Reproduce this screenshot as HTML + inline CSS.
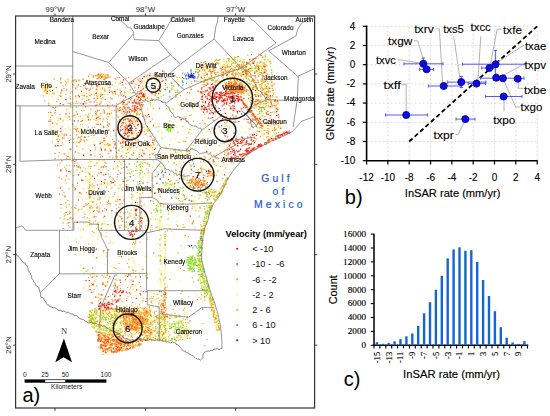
<!DOCTYPE html>
<html><head><meta charset="utf-8"><style>
html,body{margin:0;padding:0;background:#fff;width:550px;height:416px;overflow:hidden;}
svg{display:block;}
text{font-family:"Liberation Sans",sans-serif;}
.grid{stroke:#d4d4d4;stroke-width:0.8;stroke-dasharray:2 2;}
.tk{font-size:10px;fill:#000;stroke:#000;stroke-width:0.12px;}
.lb{font-size:10.2px;fill:#000;stroke:#000;stroke-width:0.1px;}
.ax{font-size:10.8px;fill:#000;stroke:#000;stroke-width:0.15px;}
.pl{font-size:20px;fill:#000;}
.tc{font-family:"Liberation Serif",serif;font-size:8.6px;fill:#000;stroke:#000;stroke-width:0.15px;}
.eb{stroke:#4646ff;stroke-width:0.9;fill:none;}
.deg{font-size:7.9px;fill:#222;}
.lgt{font-size:8.6px;font-weight:bold;fill:#000;}
.lg{font-size:9.2px;fill:#111;}
.gm{font-size:10.4px;fill:#2058da;stroke:#2058da;stroke-width:0.2px;}
.na{font-family:"Liberation Serif",serif;font-size:8.2px;fill:#333;}
.sb{font-size:6.6px;fill:#222;}
.cl{font-size:6.4px;fill:#000;stroke:#000;stroke-width:0.12px;}
.cn{font-size:9.6px;fill:#222;stroke:#222;stroke-width:0.25px;}
</style></head>
<body><svg width="550" height="416" viewBox="0 0 550 416">
<rect width="550" height="416" fill="#fff"/>
<defs><filter id="bl" x="-5%" y="-5%" width="110%" height="110%"><feGaussianBlur stdDeviation="0.5"/></filter><filter id="bl2" x="-5%" y="-5%" width="110%" height="110%"><feGaussianBlur stdDeviation="0.3"/></filter><filter id="bl3" x="-5%" y="-5%" width="110%" height="110%"><feGaussianBlur stdDeviation="0.25"/></filter></defs>
<g filter="url(#bl)">
<path fill="#faf050" d="M240.8 107.9h1.2v1.2h-1.2zM122.6 340.1h1.2v1.2h-1.2zM101.1 254.3h1.2v1.2h-1.2zM207.7 154.0h1.2v1.2h-1.2zM124.5 274.0h1.2v1.2h-1.2zM245.5 88.4h1.2v1.2h-1.2zM87.2 182.2h1.2v1.2h-1.2zM163.9 70.3h1.2v1.2h-1.2zM207.1 123.6h1.2v1.2h-1.2zM115.4 290.1h1.2v1.2h-1.2zM159.1 153.7h1.2v1.2h-1.2zM91.9 248.7h1.2v1.2h-1.2zM101.1 312.7h1.2v1.2h-1.2zM212.2 194.5h1.2v1.2h-1.2zM195.3 135.2h1.2v1.2h-1.2zM117.6 250.4h1.2v1.2h-1.2zM134.3 240.8h1.2v1.2h-1.2zM108.2 243.1h1.2v1.2h-1.2zM141.9 185.6h1.2v1.2h-1.2zM236.4 80.8h1.2v1.2h-1.2zM167.0 88.7h1.2v1.2h-1.2zM122.8 151.4h1.2v1.2h-1.2zM271.4 127.9h1.2v1.2h-1.2zM122.3 108.8h1.2v1.2h-1.2zM134.2 216.8h1.2v1.2h-1.2zM80.9 206.4h1.2v1.2h-1.2zM173.8 234.3h1.2v1.2h-1.2zM80.2 237.0h1.2v1.2h-1.2zM224.3 127.3h1.2v1.2h-1.2zM261.9 62.5h1.2v1.2h-1.2zM218.4 123.0h1.2v1.2h-1.2zM166.0 235.3h1.2v1.2h-1.2zM176.8 151.9h1.2v1.2h-1.2zM115.1 199.6h1.2v1.2h-1.2zM215.0 113.7h1.2v1.2h-1.2zM149.2 272.5h1.2v1.2h-1.2zM145.5 85.2h1.2v1.2h-1.2zM143.3 300.6h1.2v1.2h-1.2zM89.8 207.8h1.2v1.2h-1.2zM200.6 205.8h1.2v1.2h-1.2zM125.9 127.0h1.2v1.2h-1.2zM148.6 336.6h1.2v1.2h-1.2zM81.6 134.6h1.2v1.2h-1.2zM132.8 143.1h1.2v1.2h-1.2zM159.8 305.8h1.2v1.2h-1.2zM190.7 133.5h1.2v1.2h-1.2zM268.4 95.0h1.2v1.2h-1.2zM111.2 351.6h1.2v1.2h-1.2zM122.9 186.1h1.2v1.2h-1.2zM247.1 89.9h1.2v1.2h-1.2zM123.7 145.9h1.2v1.2h-1.2zM260.8 66.1h1.2v1.2h-1.2zM154.2 137.1h1.2v1.2h-1.2zM146.0 206.4h1.2v1.2h-1.2zM161.4 198.1h1.2v1.2h-1.2zM92.0 276.6h1.2v1.2h-1.2zM81.1 153.6h1.2v1.2h-1.2zM121.8 349.5h1.2v1.2h-1.2zM86.9 224.7h1.2v1.2h-1.2zM140.2 323.3h1.2v1.2h-1.2zM265.4 122.4h1.2v1.2h-1.2zM153.2 321.1h1.2v1.2h-1.2zM136.1 155.5h1.2v1.2h-1.2zM248.2 78.5h1.2v1.2h-1.2zM70.9 148.4h1.2v1.2h-1.2zM147.7 305.5h1.2v1.2h-1.2zM166.5 311.2h1.2v1.2h-1.2zM205.8 151.5h1.2v1.2h-1.2zM50.1 124.7h1.2v1.2h-1.2zM146.6 276.6h1.2v1.2h-1.2zM82.2 126.2h1.2v1.2h-1.2zM222.9 132.8h1.2v1.2h-1.2zM130.4 209.9h1.2v1.2h-1.2zM136.1 157.9h1.2v1.2h-1.2zM79.5 180.9h1.2v1.2h-1.2zM126.0 274.8h1.2v1.2h-1.2zM155.5 256.0h1.2v1.2h-1.2zM76.1 102.4h1.2v1.2h-1.2zM79.3 152.7h1.2v1.2h-1.2zM183.6 326.2h1.2v1.2h-1.2zM205.4 161.6h1.2v1.2h-1.2zM102.3 205.2h1.2v1.2h-1.2zM58.3 138.5h1.2v1.2h-1.2zM115.8 332.6h1.2v1.2h-1.2zM78.0 227.9h1.2v1.2h-1.2zM198.5 153.7h1.2v1.2h-1.2zM261.9 77.8h1.2v1.2h-1.2zM157.0 164.6h1.2v1.2h-1.2zM186.9 177.2h1.2v1.2h-1.2zM74.4 125.5h1.2v1.2h-1.2zM132.4 220.0h1.2v1.2h-1.2zM272.2 128.8h1.2v1.2h-1.2zM108.7 148.2h1.2v1.2h-1.2zM98.9 159.8h1.2v1.2h-1.2zM230.3 100.4h1.2v1.2h-1.2zM139.6 155.9h1.2v1.2h-1.2zM102.9 235.5h1.2v1.2h-1.2zM155.7 213.7h1.2v1.2h-1.2zM226.9 114.7h1.2v1.2h-1.2zM106.7 97.4h1.2v1.2h-1.2zM268.4 105.9h1.2v1.2h-1.2zM267.8 138.0h1.2v1.2h-1.2zM143.4 306.7h1.2v1.2h-1.2zM153.0 314.9h1.2v1.2h-1.2zM138.2 264.6h1.2v1.2h-1.2zM100.9 145.6h1.2v1.2h-1.2zM73.1 115.6h1.2v1.2h-1.2zM225.6 107.5h1.2v1.2h-1.2zM102.9 321.2h1.2v1.2h-1.2zM151.6 216.6h1.2v1.2h-1.2zM236.1 101.0h1.2v1.2h-1.2zM266.2 71.2h1.2v1.2h-1.2zM204.2 145.8h1.2v1.2h-1.2zM119.6 161.9h1.2v1.2h-1.2zM199.4 137.9h1.2v1.2h-1.2zM211.8 315.4h1.2v1.2h-1.2zM149.9 201.0h1.2v1.2h-1.2zM114.7 322.5h1.2v1.2h-1.2zM194.4 292.7h1.2v1.2h-1.2zM176.6 78.9h1.2v1.2h-1.2zM226.8 176.8h1.2v1.2h-1.2zM127.7 274.8h1.2v1.2h-1.2zM101.4 137.2h1.2v1.2h-1.2zM76.6 196.1h1.2v1.2h-1.2zM182.1 320.0h1.2v1.2h-1.2zM182.0 203.3h1.2v1.2h-1.2zM82.1 187.9h1.2v1.2h-1.2zM79.7 264.9h1.2v1.2h-1.2zM113.6 270.9h1.2v1.2h-1.2zM168.4 182.7h1.2v1.2h-1.2zM111.0 337.9h1.2v1.2h-1.2zM190.1 149.3h1.2v1.2h-1.2zM184.1 310.3h1.2v1.2h-1.2zM193.3 161.6h1.2v1.2h-1.2zM197.8 189.3h1.2v1.2h-1.2zM141.7 89.2h1.2v1.2h-1.2zM60.7 186.1h1.2v1.2h-1.2zM89.9 302.2h1.2v1.2h-1.2zM256.9 127.0h1.2v1.2h-1.2zM170.2 272.4h1.2v1.2h-1.2zM130.7 198.0h1.2v1.2h-1.2zM75.0 238.8h1.2v1.2h-1.2zM229.5 89.2h1.2v1.2h-1.2zM152.5 331.7h1.2v1.2h-1.2zM148.8 145.2h1.2v1.2h-1.2zM94.7 233.2h1.2v1.2h-1.2zM188.1 153.4h1.2v1.2h-1.2zM177.0 80.2h1.2v1.2h-1.2zM184.1 304.6h1.2v1.2h-1.2zM121.9 277.1h1.2v1.2h-1.2zM176.7 179.9h1.2v1.2h-1.2zM197.9 173.2h1.2v1.2h-1.2zM195.6 135.1h1.2v1.2h-1.2zM151.8 118.4h1.2v1.2h-1.2zM79.0 96.9h1.2v1.2h-1.2zM158.8 183.7h1.2v1.2h-1.2zM197.8 192.3h1.2v1.2h-1.2zM202.2 301.2h1.2v1.2h-1.2zM70.7 79.5h1.2v1.2h-1.2zM58.9 164.3h1.2v1.2h-1.2zM156.8 218.4h1.2v1.2h-1.2zM97.5 249.3h1.2v1.2h-1.2zM144.0 97.0h1.2v1.2h-1.2zM104.3 284.6h1.2v1.2h-1.2zM66.9 158.8h1.2v1.2h-1.2zM221.5 174.2h1.2v1.2h-1.2zM79.7 128.0h1.2v1.2h-1.2zM152.1 166.6h1.2v1.2h-1.2zM159.8 258.6h1.2v1.2h-1.2zM84.3 298.5h1.2v1.2h-1.2zM189.1 185.8h1.2v1.2h-1.2zM134.8 160.8h1.2v1.2h-1.2zM216.3 99.8h1.2v1.2h-1.2zM163.1 166.3h1.2v1.2h-1.2zM123.5 167.4h1.2v1.2h-1.2zM115.1 319.3h1.2v1.2h-1.2zM200.5 291.8h1.2v1.2h-1.2zM103.7 306.8h1.2v1.2h-1.2zM103.7 220.8h1.2v1.2h-1.2zM122.8 158.1h1.2v1.2h-1.2zM75.5 125.5h1.2v1.2h-1.2zM207.9 149.4h1.2v1.2h-1.2zM251.6 113.0h1.2v1.2h-1.2zM106.8 260.0h1.2v1.2h-1.2zM100.9 100.8h1.2v1.2h-1.2zM180.0 280.8h1.2v1.2h-1.2zM223.3 101.5h1.2v1.2h-1.2zM91.8 76.8h1.2v1.2h-1.2zM227.4 135.7h1.2v1.2h-1.2zM110.5 265.3h1.2v1.2h-1.2zM213.6 150.8h1.2v1.2h-1.2zM160.2 315.3h1.2v1.2h-1.2zM54.4 124.4h1.2v1.2h-1.2zM67.1 102.2h1.2v1.2h-1.2zM135.0 276.8h1.2v1.2h-1.2zM91.6 309.8h1.2v1.2h-1.2zM170.7 128.0h1.2v1.2h-1.2zM134.5 82.9h1.2v1.2h-1.2zM219.1 192.2h1.2v1.2h-1.2zM91.9 235.4h1.2v1.2h-1.2zM157.5 125.8h1.2v1.2h-1.2zM140.6 189.0h1.2v1.2h-1.2zM185.7 312.2h1.2v1.2h-1.2zM143.4 125.7h1.2v1.2h-1.2zM179.6 316.9h1.2v1.2h-1.2zM186.0 169.0h1.2v1.2h-1.2zM112.3 242.6h1.2v1.2h-1.2zM232.9 145.9h1.2v1.2h-1.2zM163.3 98.7h1.2v1.2h-1.2zM101.2 307.4h1.2v1.2h-1.2zM140.4 265.9h1.2v1.2h-1.2zM122.6 87.4h1.2v1.2h-1.2zM128.4 148.8h1.2v1.2h-1.2zM68.6 108.2h1.2v1.2h-1.2zM129.4 121.9h1.2v1.2h-1.2zM231.9 65.3h1.2v1.2h-1.2zM131.0 193.5h1.2v1.2h-1.2zM110.3 307.7h1.2v1.2h-1.2zM220.0 150.8h1.2v1.2h-1.2zM228.9 108.4h1.2v1.2h-1.2zM198.3 182.1h1.2v1.2h-1.2zM106.0 285.1h1.2v1.2h-1.2zM157.1 280.7h1.2v1.2h-1.2zM127.1 185.9h1.2v1.2h-1.2zM149.2 224.1h1.2v1.2h-1.2zM170.6 312.3h1.2v1.2h-1.2zM147.1 172.9h1.2v1.2h-1.2zM179.2 91.6h1.2v1.2h-1.2zM256.5 95.4h1.2v1.2h-1.2zM93.5 137.0h1.2v1.2h-1.2zM65.8 218.6h1.2v1.2h-1.2zM159.7 329.0h1.2v1.2h-1.2zM240.7 132.8h1.2v1.2h-1.2zM89.0 92.4h1.2v1.2h-1.2zM141.3 83.9h1.2v1.2h-1.2zM132.3 289.1h1.2v1.2h-1.2zM246.2 92.6h1.2v1.2h-1.2zM234.0 62.3h1.2v1.2h-1.2zM75.4 127.9h1.2v1.2h-1.2zM122.1 139.4h1.2v1.2h-1.2zM151.9 166.4h1.2v1.2h-1.2zM121.6 317.3h1.2v1.2h-1.2zM56.9 119.7h1.2v1.2h-1.2zM166.5 149.7h1.2v1.2h-1.2zM144.5 256.3h1.2v1.2h-1.2zM262.8 72.5h1.2v1.2h-1.2zM57.4 106.5h1.2v1.2h-1.2zM248.2 69.5h1.2v1.2h-1.2zM204.0 163.8h1.2v1.2h-1.2zM111.4 229.2h1.2v1.2h-1.2zM163.6 123.7h1.2v1.2h-1.2zM232.4 111.3h1.2v1.2h-1.2zM97.6 199.3h1.2v1.2h-1.2zM176.4 99.6h1.2v1.2h-1.2zM263.7 139.0h1.2v1.2h-1.2zM69.0 92.6h1.2v1.2h-1.2zM96.9 162.3h1.2v1.2h-1.2zM162.3 302.3h1.2v1.2h-1.2zM104.7 281.5h1.2v1.2h-1.2zM104.6 297.5h1.2v1.2h-1.2zM135.1 285.2h1.2v1.2h-1.2zM94.1 90.6h1.2v1.2h-1.2zM101.0 224.3h1.2v1.2h-1.2zM159.5 204.5h1.2v1.2h-1.2zM168.3 224.8h1.2v1.2h-1.2zM111.7 93.3h1.2v1.2h-1.2zM183.3 313.0h1.2v1.2h-1.2zM269.3 101.4h1.2v1.2h-1.2zM110.6 314.3h1.2v1.2h-1.2zM171.3 85.3h1.2v1.2h-1.2zM117.3 152.8h1.2v1.2h-1.2zM135.0 273.9h1.2v1.2h-1.2zM238.7 96.8h1.2v1.2h-1.2zM120.6 324.1h1.2v1.2h-1.2zM170.2 152.8h1.2v1.2h-1.2zM111.4 275.8h1.2v1.2h-1.2zM100.2 140.5h1.2v1.2h-1.2zM238.7 142.4h1.2v1.2h-1.2zM78.9 164.9h1.2v1.2h-1.2zM122.7 290.7h1.2v1.2h-1.2zM83.3 251.8h1.2v1.2h-1.2zM94.2 274.0h1.2v1.2h-1.2zM66.1 177.7h1.2v1.2h-1.2zM130.4 116.2h1.2v1.2h-1.2zM87.2 145.2h1.2v1.2h-1.2zM243.1 141.1h1.2v1.2h-1.2zM215.7 63.2h1.2v1.2h-1.2zM61.0 153.5h1.2v1.2h-1.2zM124.0 117.8h1.2v1.2h-1.2zM196.4 267.7h1.2v1.2h-1.2zM245.2 58.5h1.2v1.2h-1.2zM216.0 137.3h1.2v1.2h-1.2zM126.2 144.7h1.2v1.2h-1.2zM201.8 132.5h1.2v1.2h-1.2zM258.1 144.1h1.2v1.2h-1.2zM60.1 211.5h1.2v1.2h-1.2zM223.2 65.2h1.2v1.2h-1.2zM53.8 78.2h1.2v1.2h-1.2zM125.1 123.1h1.2v1.2h-1.2zM156.1 96.2h1.2v1.2h-1.2zM102.4 282.8h1.2v1.2h-1.2zM66.7 236.9h1.2v1.2h-1.2zM180.7 102.9h1.2v1.2h-1.2zM109.7 113.8h1.2v1.2h-1.2zM201.3 208.1h1.2v1.2h-1.2zM130.1 226.9h1.2v1.2h-1.2zM135.6 277.7h1.2v1.2h-1.2zM115.6 167.7h1.2v1.2h-1.2zM183.7 247.3h1.2v1.2h-1.2zM145.6 253.9h1.2v1.2h-1.2zM185.8 190.4h1.2v1.2h-1.2zM145.9 83.8h1.2v1.2h-1.2zM99.0 232.3h1.2v1.2h-1.2zM122.0 293.1h1.2v1.2h-1.2zM124.3 155.1h1.2v1.2h-1.2zM171.5 308.0h1.2v1.2h-1.2zM208.2 176.4h1.2v1.2h-1.2zM185.6 76.3h1.2v1.2h-1.2zM83.2 271.8h1.2v1.2h-1.2zM61.7 168.0h1.2v1.2h-1.2zM216.7 152.4h1.2v1.2h-1.2zM106.2 286.4h1.2v1.2h-1.2zM269.8 122.5h1.2v1.2h-1.2zM241.8 155.1h1.2v1.2h-1.2zM105.6 231.7h1.2v1.2h-1.2zM112.1 155.3h1.2v1.2h-1.2zM134.4 264.8h1.2v1.2h-1.2zM77.8 251.1h1.2v1.2h-1.2zM143.2 95.3h1.2v1.2h-1.2zM151.4 111.5h1.2v1.2h-1.2zM169.7 149.7h1.2v1.2h-1.2zM178.7 161.3h1.2v1.2h-1.2zM191.5 190.9h1.2v1.2h-1.2zM218.3 161.0h1.2v1.2h-1.2zM225.5 128.1h1.2v1.2h-1.2zM116.2 111.7h1.2v1.2h-1.2zM143.7 127.0h1.2v1.2h-1.2zM184.9 330.9h1.2v1.2h-1.2zM117.6 196.0h1.2v1.2h-1.2zM108.6 338.5h1.2v1.2h-1.2zM63.4 235.9h1.2v1.2h-1.2zM75.5 219.6h1.2v1.2h-1.2zM76.0 145.1h1.2v1.2h-1.2zM121.8 121.0h1.2v1.2h-1.2zM194.8 200.0h1.2v1.2h-1.2zM203.7 92.4h1.2v1.2h-1.2zM173.7 175.2h1.2v1.2h-1.2zM124.6 349.1h1.2v1.2h-1.2zM97.4 239.1h1.2v1.2h-1.2zM129.8 216.3h1.2v1.2h-1.2zM79.6 135.9h1.2v1.2h-1.2zM121.1 151.1h1.2v1.2h-1.2zM126.3 103.8h1.2v1.2h-1.2zM79.6 93.1h1.2v1.2h-1.2zM173.4 208.8h1.2v1.2h-1.2zM156.2 294.0h1.2v1.2h-1.2zM128.7 230.8h1.2v1.2h-1.2zM181.3 193.7h1.2v1.2h-1.2zM226.3 142.5h1.2v1.2h-1.2zM137.6 331.2h1.2v1.2h-1.2zM206.4 179.4h1.2v1.2h-1.2zM210.0 194.4h1.2v1.2h-1.2zM69.9 135.0h1.2v1.2h-1.2zM108.1 344.2h1.2v1.2h-1.2zM205.9 130.5h1.2v1.2h-1.2zM180.3 204.8h1.2v1.2h-1.2zM80.1 228.8h1.2v1.2h-1.2zM147.4 228.9h1.2v1.2h-1.2zM187.6 111.0h1.2v1.2h-1.2zM138.9 120.7h1.2v1.2h-1.2zM120.9 210.6h1.2v1.2h-1.2zM198.2 163.5h1.2v1.2h-1.2zM157.0 243.7h1.2v1.2h-1.2zM125.3 165.9h1.2v1.2h-1.2zM50.9 129.0h1.2v1.2h-1.2zM143.3 82.9h1.2v1.2h-1.2zM95.4 137.6h1.2v1.2h-1.2zM179.9 268.2h1.2v1.2h-1.2zM187.8 144.5h1.2v1.2h-1.2zM252.2 131.8h1.2v1.2h-1.2zM88.8 182.1h1.2v1.2h-1.2zM190.3 104.7h1.2v1.2h-1.2zM261.8 82.5h1.2v1.2h-1.2zM137.5 222.8h1.2v1.2h-1.2zM136.0 224.3h1.2v1.2h-1.2zM143.0 175.9h1.2v1.2h-1.2zM168.1 217.5h1.2v1.2h-1.2zM81.2 250.3h1.2v1.2h-1.2zM103.3 86.0h1.2v1.2h-1.2zM163.5 163.4h1.2v1.2h-1.2zM139.1 204.7h1.2v1.2h-1.2zM74.4 117.0h1.2v1.2h-1.2zM110.5 304.8h1.2v1.2h-1.2zM110.6 217.5h1.2v1.2h-1.2zM240.8 126.5h1.2v1.2h-1.2zM223.2 148.4h1.2v1.2h-1.2zM219.5 81.0h1.2v1.2h-1.2zM153.4 318.2h1.2v1.2h-1.2zM93.7 297.8h1.2v1.2h-1.2zM134.2 121.1h1.2v1.2h-1.2zM94.8 182.3h1.2v1.2h-1.2zM203.2 134.4h1.2v1.2h-1.2zM179.8 139.2h1.2v1.2h-1.2zM195.6 157.2h1.2v1.2h-1.2zM88.5 122.7h1.2v1.2h-1.2zM149.3 102.2h1.2v1.2h-1.2zM214.5 88.6h1.2v1.2h-1.2zM93.1 80.7h1.2v1.2h-1.2zM146.2 315.1h1.2v1.2h-1.2zM231.8 87.1h1.2v1.2h-1.2zM93.7 205.0h1.2v1.2h-1.2zM122.3 269.2h1.2v1.2h-1.2zM165.3 146.1h1.2v1.2h-1.2zM137.3 111.1h1.2v1.2h-1.2zM219.0 187.3h1.2v1.2h-1.2zM267.0 120.6h1.2v1.2h-1.2zM131.4 202.4h1.2v1.2h-1.2zM228.6 125.7h1.2v1.2h-1.2zM66.1 204.8h1.2v1.2h-1.2zM266.9 75.9h1.2v1.2h-1.2zM279.3 125.8h1.2v1.2h-1.2zM79.4 108.9h1.2v1.2h-1.2zM244.4 94.6h1.2v1.2h-1.2zM218.0 191.0h1.2v1.2h-1.2zM83.3 222.9h1.2v1.2h-1.2zM148.1 177.1h1.2v1.2h-1.2zM277.2 107.3h1.2v1.2h-1.2zM90.0 130.5h1.2v1.2h-1.2zM135.5 289.7h1.2v1.2h-1.2zM263.0 137.7h1.2v1.2h-1.2zM188.0 188.1h1.2v1.2h-1.2zM233.0 115.7h1.2v1.2h-1.2zM132.5 117.3h1.2v1.2h-1.2zM202.0 69.7h1.2v1.2h-1.2zM109.7 204.7h1.2v1.2h-1.2zM87.1 139.8h1.2v1.2h-1.2zM262.6 70.6h1.2v1.2h-1.2zM213.1 133.6h1.2v1.2h-1.2zM55.9 117.0h1.2v1.2h-1.2zM161.1 165.5h1.2v1.2h-1.2zM201.4 284.8h1.2v1.2h-1.2zM100.7 302.4h1.2v1.2h-1.2zM160.6 332.1h1.2v1.2h-1.2zM88.1 313.7h1.2v1.2h-1.2zM161.4 330.8h1.2v1.2h-1.2zM178.7 314.1h1.2v1.2h-1.2zM113.4 85.5h1.2v1.2h-1.2zM128.3 149.9h1.2v1.2h-1.2zM170.3 140.3h1.2v1.2h-1.2zM211.4 91.9h1.2v1.2h-1.2zM139.1 134.5h1.2v1.2h-1.2zM76.2 141.9h1.2v1.2h-1.2zM67.0 210.6h1.2v1.2h-1.2zM190.5 165.1h1.2v1.2h-1.2zM262.3 128.5h1.2v1.2h-1.2zM90.4 233.8h1.2v1.2h-1.2zM273.1 124.6h1.2v1.2h-1.2zM80.1 270.1h1.2v1.2h-1.2zM132.1 202.1h1.2v1.2h-1.2zM235.8 83.8h1.2v1.2h-1.2zM228.9 61.6h1.2v1.2h-1.2zM107.0 125.2h1.2v1.2h-1.2zM113.2 264.5h1.2v1.2h-1.2zM184.9 333.8h1.2v1.2h-1.2zM93.0 285.1h1.2v1.2h-1.2zM146.5 255.5h1.2v1.2h-1.2zM123.1 307.4h1.2v1.2h-1.2zM139.7 299.7h1.2v1.2h-1.2zM244.9 132.1h1.2v1.2h-1.2zM225.0 180.7h1.2v1.2h-1.2zM129.0 248.2h1.2v1.2h-1.2zM195.4 181.9h1.2v1.2h-1.2zM80.8 164.9h1.2v1.2h-1.2zM67.8 80.3h1.2v1.2h-1.2zM136.2 208.6h1.2v1.2h-1.2zM140.7 105.0h1.2v1.2h-1.2zM160.9 80.8h1.2v1.2h-1.2zM99.2 305.8h1.2v1.2h-1.2zM101.1 323.2h1.2v1.2h-1.2zM204.1 116.8h1.2v1.2h-1.2zM104.9 85.7h1.2v1.2h-1.2zM141.1 130.2h1.2v1.2h-1.2zM89.3 312.0h1.2v1.2h-1.2zM217.3 145.2h1.2v1.2h-1.2zM223.3 169.7h1.2v1.2h-1.2zM77.1 184.8h1.2v1.2h-1.2zM47.8 98.4h1.2v1.2h-1.2zM101.3 99.5h1.2v1.2h-1.2zM122.4 178.8h1.2v1.2h-1.2zM158.7 219.1h1.2v1.2h-1.2zM202.4 72.9h1.2v1.2h-1.2zM129.8 168.7h1.2v1.2h-1.2zM103.3 160.5h1.2v1.2h-1.2zM70.1 208.2h1.2v1.2h-1.2zM126.6 224.1h1.2v1.2h-1.2zM98.0 191.6h1.2v1.2h-1.2zM141.2 78.5h1.2v1.2h-1.2zM115.2 107.7h1.2v1.2h-1.2zM130.8 257.1h1.2v1.2h-1.2zM103.9 107.7h1.2v1.2h-1.2zM110.0 187.6h1.2v1.2h-1.2zM118.9 188.2h1.2v1.2h-1.2zM97.9 308.0h1.2v1.2h-1.2zM48.4 114.8h1.2v1.2h-1.2zM111.5 303.2h1.2v1.2h-1.2zM105.1 263.8h1.2v1.2h-1.2zM218.1 94.1h1.2v1.2h-1.2zM78.0 165.4h1.2v1.2h-1.2zM254.4 146.2h1.2v1.2h-1.2zM69.3 129.2h1.2v1.2h-1.2zM62.4 134.9h1.2v1.2h-1.2zM205.3 125.1h1.2v1.2h-1.2zM211.2 175.3h1.2v1.2h-1.2zM137.2 158.4h1.2v1.2h-1.2zM99.3 324.1h1.2v1.2h-1.2zM132.4 258.0h1.2v1.2h-1.2zM259.7 136.4h1.2v1.2h-1.2zM169.3 111.1h1.2v1.2h-1.2zM186.8 176.2h1.2v1.2h-1.2zM214.3 314.9h1.2v1.2h-1.2zM213.9 161.9h1.2v1.2h-1.2zM135.9 285.3h1.2v1.2h-1.2zM184.9 128.7h1.2v1.2h-1.2zM161.0 229.6h1.2v1.2h-1.2zM121.7 160.3h1.2v1.2h-1.2zM193.1 109.0h1.2v1.2h-1.2zM279.7 121.1h1.2v1.2h-1.2zM131.4 188.9h1.2v1.2h-1.2zM261.3 131.0h1.2v1.2h-1.2zM174.9 332.9h1.2v1.2h-1.2zM90.3 287.1h1.2v1.2h-1.2zM211.4 152.1h1.2v1.2h-1.2zM96.9 222.3h1.2v1.2h-1.2zM136.5 81.9h1.2v1.2h-1.2zM89.8 113.0h1.2v1.2h-1.2zM273.4 103.0h1.2v1.2h-1.2zM129.0 212.4h1.2v1.2h-1.2zM85.9 178.4h1.2v1.2h-1.2zM80.8 102.4h1.2v1.2h-1.2zM180.8 171.5h1.2v1.2h-1.2zM86.4 271.2h1.2v1.2h-1.2zM119.3 254.5h1.2v1.2h-1.2zM107.6 324.2h1.2v1.2h-1.2zM134.8 303.1h1.2v1.2h-1.2zM92.2 216.8h1.2v1.2h-1.2zM183.0 202.7h1.2v1.2h-1.2zM140.0 128.7h1.2v1.2h-1.2zM63.4 213.0h1.2v1.2h-1.2zM147.6 145.9h1.2v1.2h-1.2zM104.3 140.3h1.2v1.2h-1.2zM49.7 128.3h1.2v1.2h-1.2zM87.8 81.9h1.2v1.2h-1.2zM77.0 141.8h1.2v1.2h-1.2zM56.5 132.0h1.2v1.2h-1.2zM84.2 143.3h1.2v1.2h-1.2zM67.3 129.5h1.2v1.2h-1.2zM64.7 117.1h1.2v1.2h-1.2zM152.5 149.5h1.2v1.2h-1.2zM96.6 159.3h1.2v1.2h-1.2zM91.8 74.4h1.2v1.2h-1.2zM92.3 143.4h1.2v1.2h-1.2zM75.5 81.3h1.2v1.2h-1.2zM86.0 102.6h1.2v1.2h-1.2zM119.5 123.4h1.2v1.2h-1.2zM99.5 87.5h1.2v1.2h-1.2zM90.1 110.1h1.2v1.2h-1.2zM125.4 146.3h1.2v1.2h-1.2zM100.3 85.5h1.2v1.2h-1.2zM131.2 140.3h1.2v1.2h-1.2zM77.4 128.2h1.2v1.2h-1.2zM88.6 94.7h1.2v1.2h-1.2zM102.9 140.6h1.2v1.2h-1.2zM142.3 104.5h1.2v1.2h-1.2zM108.2 143.1h1.2v1.2h-1.2zM152.5 139.7h1.2v1.2h-1.2zM118.9 120.6h1.2v1.2h-1.2zM65.6 116.2h1.2v1.2h-1.2zM51.9 96.0h1.2v1.2h-1.2zM70.2 106.7h1.2v1.2h-1.2zM88.4 119.7h1.2v1.2h-1.2zM95.9 75.4h1.2v1.2h-1.2zM143.8 116.2h1.2v1.2h-1.2zM121.7 142.9h1.2v1.2h-1.2zM87.5 83.1h1.2v1.2h-1.2zM139.5 100.3h1.2v1.2h-1.2zM82.8 92.6h1.2v1.2h-1.2zM153.8 148.6h1.2v1.2h-1.2zM73.3 103.3h1.2v1.2h-1.2zM116.0 146.5h1.2v1.2h-1.2zM108.7 101.9h1.2v1.2h-1.2zM67.2 120.6h1.2v1.2h-1.2zM87.5 106.4h1.2v1.2h-1.2zM97.2 147.1h1.2v1.2h-1.2zM89.7 145.2h1.2v1.2h-1.2zM90.5 73.5h1.2v1.2h-1.2zM67.7 115.7h1.2v1.2h-1.2zM106.1 143.8h1.2v1.2h-1.2zM116.3 121.9h1.2v1.2h-1.2zM128.9 84.2h1.2v1.2h-1.2zM144.9 115.1h1.2v1.2h-1.2zM126.4 131.2h1.2v1.2h-1.2zM128.7 95.2h1.2v1.2h-1.2zM57.8 119.8h1.2v1.2h-1.2zM53.7 134.5h1.2v1.2h-1.2zM67.6 151.6h1.2v1.2h-1.2zM51.1 119.4h1.2v1.2h-1.2zM110.4 135.6h1.2v1.2h-1.2zM58.7 117.8h1.2v1.2h-1.2zM106.5 126.9h1.2v1.2h-1.2zM106.7 106.2h1.2v1.2h-1.2zM61.2 96.4h1.2v1.2h-1.2zM128.1 106.5h1.2v1.2h-1.2zM68.4 126.5h1.2v1.2h-1.2zM121.7 135.3h1.2v1.2h-1.2zM107.3 108.6h1.2v1.2h-1.2zM124.3 148.2h1.2v1.2h-1.2zM115.3 155.3h1.2v1.2h-1.2zM104.3 133.9h1.2v1.2h-1.2zM108.3 117.2h1.2v1.2h-1.2zM75.2 106.2h1.2v1.2h-1.2zM61.9 85.3h1.2v1.2h-1.2zM68.2 135.1h1.2v1.2h-1.2zM137.6 124.2h1.2v1.2h-1.2zM49.8 123.3h1.2v1.2h-1.2zM68.2 97.4h1.2v1.2h-1.2zM120.4 141.4h1.2v1.2h-1.2zM93.1 141.6h1.2v1.2h-1.2zM52.7 99.5h1.2v1.2h-1.2zM100.6 126.9h1.2v1.2h-1.2zM108.4 150.6h1.2v1.2h-1.2zM86.8 102.9h1.2v1.2h-1.2zM49.4 103.1h1.2v1.2h-1.2zM99.8 94.2h1.2v1.2h-1.2zM71.8 97.8h1.2v1.2h-1.2zM117.5 146.7h1.2v1.2h-1.2zM41.2 85.2h1.2v1.2h-1.2zM137.5 121.9h1.2v1.2h-1.2zM147.6 127.1h1.2v1.2h-1.2zM137.0 96.9h1.2v1.2h-1.2zM63.1 105.2h1.2v1.2h-1.2zM143.0 108.5h1.2v1.2h-1.2zM64.7 127.9h1.2v1.2h-1.2zM76.1 88.2h1.2v1.2h-1.2zM104.6 144.8h1.2v1.2h-1.2zM82.1 115.0h1.2v1.2h-1.2zM139.4 149.1h1.2v1.2h-1.2zM46.6 93.0h1.2v1.2h-1.2zM99.7 88.2h1.2v1.2h-1.2zM67.5 155.5h1.2v1.2h-1.2zM97.2 96.4h1.2v1.2h-1.2zM79.7 80.2h1.2v1.2h-1.2zM146.1 128.5h1.2v1.2h-1.2zM81.1 118.1h1.2v1.2h-1.2zM82.1 123.8h1.2v1.2h-1.2zM101.0 114.9h1.2v1.2h-1.2zM57.2 145.3h1.2v1.2h-1.2zM99.8 115.6h1.2v1.2h-1.2zM139.6 151.7h1.2v1.2h-1.2zM102.6 76.0h1.2v1.2h-1.2zM148.1 122.0h1.2v1.2h-1.2zM126.1 121.1h1.2v1.2h-1.2zM56.9 123.8h1.2v1.2h-1.2zM63.2 144.0h1.2v1.2h-1.2zM66.0 100.0h1.2v1.2h-1.2zM55.0 132.5h1.2v1.2h-1.2zM62.2 143.9h1.2v1.2h-1.2zM88.2 117.9h1.2v1.2h-1.2zM135.8 114.5h1.2v1.2h-1.2zM115.3 93.8h1.2v1.2h-1.2zM121.3 118.8h1.2v1.2h-1.2zM138.2 120.9h1.2v1.2h-1.2zM121.0 110.3h1.2v1.2h-1.2zM64.0 133.8h1.2v1.2h-1.2zM87.3 117.0h1.2v1.2h-1.2zM69.9 87.2h1.2v1.2h-1.2zM105.8 141.7h1.2v1.2h-1.2zM81.3 93.9h1.2v1.2h-1.2zM132.4 144.8h1.2v1.2h-1.2zM145.8 147.7h1.2v1.2h-1.2zM56.2 135.3h1.2v1.2h-1.2zM95.1 82.4h1.2v1.2h-1.2zM82.0 107.9h1.2v1.2h-1.2zM111.4 91.6h1.2v1.2h-1.2zM121.7 121.1h1.2v1.2h-1.2zM137.9 126.4h1.2v1.2h-1.2zM118.0 114.3h1.2v1.2h-1.2zM86.9 152.8h1.2v1.2h-1.2zM89.4 131.8h1.2v1.2h-1.2zM57.0 79.9h1.2v1.2h-1.2zM119.8 80.5h1.2v1.2h-1.2zM137.7 112.7h1.2v1.2h-1.2zM135.2 112.4h1.2v1.2h-1.2zM137.2 104.8h1.2v1.2h-1.2zM72.5 106.8h1.2v1.2h-1.2zM99.1 115.7h1.2v1.2h-1.2zM122.5 81.8h1.2v1.2h-1.2zM57.2 137.1h1.2v1.2h-1.2zM104.4 112.9h1.2v1.2h-1.2zM71.8 80.0h1.2v1.2h-1.2zM133.6 142.1h1.2v1.2h-1.2zM88.2 107.4h1.2v1.2h-1.2zM111.1 110.1h1.2v1.2h-1.2zM132.1 82.7h1.2v1.2h-1.2zM139.0 131.7h1.2v1.2h-1.2zM72.6 107.6h1.2v1.2h-1.2zM80.1 131.2h1.2v1.2h-1.2zM68.9 152.8h1.2v1.2h-1.2zM70.6 117.2h1.2v1.2h-1.2zM85.0 147.2h1.2v1.2h-1.2zM53.9 92.0h1.2v1.2h-1.2zM58.7 121.7h1.2v1.2h-1.2zM56.7 91.0h1.2v1.2h-1.2zM148.4 150.2h1.2v1.2h-1.2zM121.9 123.4h1.2v1.2h-1.2zM69.3 129.3h1.2v1.2h-1.2zM88.8 154.3h1.2v1.2h-1.2zM48.1 84.1h1.2v1.2h-1.2zM43.8 90.8h1.2v1.2h-1.2zM44.7 89.4h1.2v1.2h-1.2zM47.7 84.9h1.2v1.2h-1.2zM43.2 86.9h1.2v1.2h-1.2zM44.8 94.1h1.2v1.2h-1.2zM43.1 82.9h1.2v1.2h-1.2zM45.1 87.3h1.2v1.2h-1.2zM48.0 83.0h1.2v1.2h-1.2zM49.0 92.5h1.2v1.2h-1.2zM45.1 86.6h1.2v1.2h-1.2zM49.7 88.4h1.2v1.2h-1.2zM47.0 88.0h1.2v1.2h-1.2zM43.1 86.5h1.2v1.2h-1.2zM46.8 89.8h1.2v1.2h-1.2zM42.6 88.9h1.2v1.2h-1.2zM45.9 90.3h1.2v1.2h-1.2zM42.1 88.1h1.2v1.2h-1.2zM45.9 91.0h1.2v1.2h-1.2zM45.7 88.4h1.2v1.2h-1.2zM43.8 86.7h1.2v1.2h-1.2zM101.1 77.3h1.2v1.2h-1.2zM105.6 75.6h1.2v1.2h-1.2zM101.1 77.1h1.2v1.2h-1.2zM99.1 75.6h1.2v1.2h-1.2zM102.2 77.0h1.2v1.2h-1.2zM103.1 77.8h1.2v1.2h-1.2zM102.6 74.8h1.2v1.2h-1.2zM98.3 76.9h1.2v1.2h-1.2zM107.0 74.9h1.2v1.2h-1.2zM99.7 73.6h1.2v1.2h-1.2zM95.8 118.0h1.2v1.2h-1.2zM96.9 96.3h1.2v1.2h-1.2zM96.3 88.7h1.2v1.2h-1.2zM95.5 118.0h1.2v1.2h-1.2zM83.8 96.3h1.2v1.2h-1.2zM118.0 84.5h1.2v1.2h-1.2zM118.9 100.4h1.2v1.2h-1.2zM118.7 82.1h1.2v1.2h-1.2zM87.8 94.2h1.2v1.2h-1.2zM82.9 87.7h1.2v1.2h-1.2zM118.4 102.6h1.2v1.2h-1.2zM101.1 92.6h1.2v1.2h-1.2zM96.0 104.5h1.2v1.2h-1.2zM104.1 94.0h1.2v1.2h-1.2zM125.0 96.3h1.2v1.2h-1.2zM95.6 105.7h1.2v1.2h-1.2zM85.9 79.4h1.2v1.2h-1.2zM140.5 95.9h1.2v1.2h-1.2zM141.4 88.4h1.2v1.2h-1.2zM152.1 82.7h1.2v1.2h-1.2zM140.8 96.8h1.2v1.2h-1.2zM129.7 84.9h1.2v1.2h-1.2zM159.2 92.3h1.2v1.2h-1.2zM154.9 75.8h1.2v1.2h-1.2zM147.4 96.3h1.2v1.2h-1.2zM155.2 71.9h1.2v1.2h-1.2zM143.6 98.9h1.2v1.2h-1.2zM161.0 88.8h1.2v1.2h-1.2zM147.8 86.0h1.2v1.2h-1.2zM143.8 82.3h1.2v1.2h-1.2zM150.6 92.9h1.2v1.2h-1.2zM154.0 78.4h1.2v1.2h-1.2zM143.8 80.5h1.2v1.2h-1.2zM146.3 100.8h1.2v1.2h-1.2zM138.2 85.0h1.2v1.2h-1.2zM153.9 95.2h1.2v1.2h-1.2zM182.2 73.8h1.2v1.2h-1.2zM175.0 90.5h1.2v1.2h-1.2zM181.9 84.2h1.2v1.2h-1.2zM161.3 94.2h1.2v1.2h-1.2zM188.6 85.1h1.2v1.2h-1.2zM172.3 93.3h1.2v1.2h-1.2zM186.4 80.8h1.2v1.2h-1.2zM162.5 87.8h1.2v1.2h-1.2zM172.5 95.1h1.2v1.2h-1.2zM195.2 77.3h1.2v1.2h-1.2zM174.0 90.2h1.2v1.2h-1.2zM190.6 76.4h1.2v1.2h-1.2zM181.7 79.5h1.2v1.2h-1.2zM192.6 77.2h1.2v1.2h-1.2zM168.6 86.5h1.2v1.2h-1.2zM172.5 75.9h1.2v1.2h-1.2zM198.4 79.5h1.2v1.2h-1.2zM222.3 81.5h1.2v1.2h-1.2zM206.6 65.1h1.2v1.2h-1.2zM207.0 67.8h1.2v1.2h-1.2zM198.2 74.9h1.2v1.2h-1.2zM234.7 80.5h1.2v1.2h-1.2zM222.8 74.1h1.2v1.2h-1.2zM211.9 62.3h1.2v1.2h-1.2zM226.7 77.1h1.2v1.2h-1.2zM238.1 73.3h1.2v1.2h-1.2zM243.5 73.5h1.2v1.2h-1.2zM209.9 66.2h1.2v1.2h-1.2zM197.5 70.6h1.2v1.2h-1.2zM218.4 62.7h1.2v1.2h-1.2zM236.9 78.6h1.2v1.2h-1.2zM207.0 79.6h1.2v1.2h-1.2zM210.5 71.1h1.2v1.2h-1.2zM223.3 58.9h1.2v1.2h-1.2zM230.2 80.2h1.2v1.2h-1.2zM247.6 67.5h1.2v1.2h-1.2zM213.7 76.7h1.2v1.2h-1.2zM202.1 73.3h1.2v1.2h-1.2zM223.0 57.7h1.2v1.2h-1.2zM240.9 61.7h1.2v1.2h-1.2zM228.1 61.6h1.2v1.2h-1.2zM202.4 67.3h1.2v1.2h-1.2zM236.6 57.1h1.2v1.2h-1.2zM234.5 78.2h1.2v1.2h-1.2zM205.3 81.1h1.2v1.2h-1.2zM220.1 59.3h1.2v1.2h-1.2zM202.4 74.5h1.2v1.2h-1.2zM244.6 64.5h1.2v1.2h-1.2zM231.7 79.0h1.2v1.2h-1.2zM196.3 66.2h1.2v1.2h-1.2zM224.2 68.8h1.2v1.2h-1.2zM212.4 76.4h1.2v1.2h-1.2zM238.4 72.6h1.2v1.2h-1.2zM239.8 78.5h1.2v1.2h-1.2zM207.2 76.3h1.2v1.2h-1.2zM230.3 62.8h1.2v1.2h-1.2zM220.7 67.5h1.2v1.2h-1.2zM234.9 67.6h1.2v1.2h-1.2zM238.5 76.5h1.2v1.2h-1.2zM218.5 82.4h1.2v1.2h-1.2zM228.5 77.7h1.2v1.2h-1.2zM223.6 74.2h1.2v1.2h-1.2zM196.2 67.6h1.2v1.2h-1.2zM246.4 62.5h1.2v1.2h-1.2zM218.5 80.0h1.2v1.2h-1.2zM246.9 63.2h1.2v1.2h-1.2zM209.8 74.1h1.2v1.2h-1.2zM209.4 68.1h1.2v1.2h-1.2zM226.2 63.0h1.2v1.2h-1.2zM216.2 59.5h1.2v1.2h-1.2zM233.4 81.2h1.2v1.2h-1.2zM244.9 66.4h1.2v1.2h-1.2zM243.9 69.7h1.2v1.2h-1.2zM223.0 58.2h1.2v1.2h-1.2zM226.1 77.3h1.2v1.2h-1.2zM207.9 65.1h1.2v1.2h-1.2zM221.0 76.0h1.2v1.2h-1.2zM232.0 70.8h1.2v1.2h-1.2zM230.5 79.9h1.2v1.2h-1.2zM244.2 63.5h1.2v1.2h-1.2zM239.3 78.5h1.2v1.2h-1.2zM222.0 64.6h1.2v1.2h-1.2zM245.2 67.7h1.2v1.2h-1.2zM204.1 66.8h1.2v1.2h-1.2zM206.5 81.8h1.2v1.2h-1.2zM218.0 77.6h1.2v1.2h-1.2zM207.7 80.5h1.2v1.2h-1.2zM239.8 72.0h1.2v1.2h-1.2zM232.5 71.6h1.2v1.2h-1.2zM232.6 66.1h1.2v1.2h-1.2zM209.4 62.6h1.2v1.2h-1.2zM246.2 63.3h1.2v1.2h-1.2zM198.2 67.0h1.2v1.2h-1.2zM238.3 66.2h1.2v1.2h-1.2zM203.8 63.9h1.2v1.2h-1.2zM198.2 68.8h1.2v1.2h-1.2zM223.8 60.8h1.2v1.2h-1.2zM227.4 60.9h1.2v1.2h-1.2zM235.0 65.6h1.2v1.2h-1.2zM237.1 64.2h1.2v1.2h-1.2zM215.1 71.4h1.2v1.2h-1.2zM222.1 74.3h1.2v1.2h-1.2zM203.6 68.4h1.2v1.2h-1.2zM227.3 64.6h1.2v1.2h-1.2zM220.4 63.4h1.2v1.2h-1.2zM217.6 71.6h1.2v1.2h-1.2zM229.2 70.3h1.2v1.2h-1.2zM209.4 76.9h1.2v1.2h-1.2zM215.6 81.7h1.2v1.2h-1.2zM223.7 72.9h1.2v1.2h-1.2zM243.3 77.2h1.2v1.2h-1.2zM207.4 81.9h1.2v1.2h-1.2zM220.2 66.1h1.2v1.2h-1.2zM236.7 58.9h1.2v1.2h-1.2zM236.6 57.0h1.2v1.2h-1.2zM240.8 60.4h1.2v1.2h-1.2zM242.0 63.6h1.2v1.2h-1.2zM231.7 60.5h1.2v1.2h-1.2zM233.9 59.0h1.2v1.2h-1.2zM232.9 59.4h1.2v1.2h-1.2zM228.8 60.9h1.2v1.2h-1.2zM233.5 61.7h1.2v1.2h-1.2zM234.4 58.8h1.2v1.2h-1.2zM233.6 56.0h1.2v1.2h-1.2zM239.7 58.6h1.2v1.2h-1.2zM226.3 77.0h1.2v1.2h-1.2zM228.9 75.1h1.2v1.2h-1.2zM233.7 78.8h1.2v1.2h-1.2zM209.2 78.2h1.2v1.2h-1.2zM224.5 71.0h1.2v1.2h-1.2zM224.9 65.3h1.2v1.2h-1.2zM208.7 77.9h1.2v1.2h-1.2zM218.4 73.8h1.2v1.2h-1.2zM244.1 70.9h1.2v1.2h-1.2zM204.4 79.4h1.2v1.2h-1.2zM234.7 75.4h1.2v1.2h-1.2zM233.3 70.0h1.2v1.2h-1.2zM245.3 70.9h1.2v1.2h-1.2zM226.1 65.1h1.2v1.2h-1.2zM228.6 74.5h1.2v1.2h-1.2zM232.3 76.7h1.2v1.2h-1.2zM209.3 69.6h1.2v1.2h-1.2zM206.2 69.4h1.2v1.2h-1.2zM227.7 68.9h1.2v1.2h-1.2zM228.3 71.9h1.2v1.2h-1.2zM236.5 77.7h1.2v1.2h-1.2zM222.5 71.8h1.2v1.2h-1.2zM245.6 73.1h1.2v1.2h-1.2zM213.8 80.0h1.2v1.2h-1.2zM218.0 80.0h1.2v1.2h-1.2zM237.8 69.5h1.2v1.2h-1.2zM234.8 65.1h1.2v1.2h-1.2zM212.6 75.7h1.2v1.2h-1.2zM246.5 76.3h1.2v1.2h-1.2zM220.5 70.4h1.2v1.2h-1.2zM242.8 66.9h1.2v1.2h-1.2zM220.0 69.9h1.2v1.2h-1.2zM210.8 75.0h1.2v1.2h-1.2zM224.5 65.2h1.2v1.2h-1.2zM256.5 91.2h1.2v1.2h-1.2zM259.2 67.9h1.2v1.2h-1.2zM265.2 64.3h1.2v1.2h-1.2zM245.4 76.8h1.2v1.2h-1.2zM251.2 69.7h1.2v1.2h-1.2zM260.5 80.9h1.2v1.2h-1.2zM258.4 83.9h1.2v1.2h-1.2zM264.0 86.2h1.2v1.2h-1.2zM260.4 83.7h1.2v1.2h-1.2zM262.2 100.4h1.2v1.2h-1.2zM250.7 82.4h1.2v1.2h-1.2zM255.5 78.4h1.2v1.2h-1.2zM263.5 69.1h1.2v1.2h-1.2zM249.2 76.0h1.2v1.2h-1.2zM270.2 97.6h1.2v1.2h-1.2zM262.3 65.6h1.2v1.2h-1.2zM260.6 64.3h1.2v1.2h-1.2zM264.1 68.7h1.2v1.2h-1.2zM267.5 97.5h1.2v1.2h-1.2zM249.6 72.0h1.2v1.2h-1.2zM264.4 71.3h1.2v1.2h-1.2zM251.5 84.3h1.2v1.2h-1.2zM249.8 93.5h1.2v1.2h-1.2zM254.8 82.2h1.2v1.2h-1.2zM250.5 76.0h1.2v1.2h-1.2zM265.0 100.9h1.2v1.2h-1.2zM249.7 76.2h1.2v1.2h-1.2zM266.6 84.6h1.2v1.2h-1.2zM251.4 102.6h1.2v1.2h-1.2zM264.5 100.5h1.2v1.2h-1.2zM268.3 86.3h1.2v1.2h-1.2zM269.0 91.0h1.2v1.2h-1.2zM267.8 101.1h1.2v1.2h-1.2zM259.5 84.6h1.2v1.2h-1.2zM255.8 84.9h1.2v1.2h-1.2zM253.4 93.1h1.2v1.2h-1.2zM256.2 106.6h1.2v1.2h-1.2zM255.5 85.1h1.2v1.2h-1.2zM243.1 70.1h1.2v1.2h-1.2zM253.4 79.5h1.2v1.2h-1.2zM256.6 91.8h1.2v1.2h-1.2zM245.0 76.1h1.2v1.2h-1.2zM257.4 85.4h1.2v1.2h-1.2zM261.1 64.8h1.2v1.2h-1.2zM258.0 92.8h1.2v1.2h-1.2zM256.2 91.6h1.2v1.2h-1.2zM261.1 67.4h1.2v1.2h-1.2zM253.2 68.2h1.2v1.2h-1.2zM258.5 86.8h1.2v1.2h-1.2zM263.3 104.8h1.2v1.2h-1.2zM257.3 73.0h1.2v1.2h-1.2zM260.0 86.4h1.2v1.2h-1.2zM265.6 80.6h1.2v1.2h-1.2zM253.1 67.7h1.2v1.2h-1.2zM258.1 68.3h1.2v1.2h-1.2zM245.5 69.9h1.2v1.2h-1.2zM258.0 66.5h1.2v1.2h-1.2zM254.1 103.0h1.2v1.2h-1.2zM254.2 84.9h1.2v1.2h-1.2zM264.9 97.8h1.2v1.2h-1.2zM255.1 76.8h1.2v1.2h-1.2zM245.3 72.9h1.2v1.2h-1.2zM262.1 100.2h1.2v1.2h-1.2zM264.2 90.6h1.2v1.2h-1.2zM260.1 110.8h1.2v1.2h-1.2zM261.0 106.1h1.2v1.2h-1.2zM263.3 107.4h1.2v1.2h-1.2zM264.6 108.7h1.2v1.2h-1.2zM263.5 104.6h1.2v1.2h-1.2zM260.9 109.8h1.2v1.2h-1.2zM263.0 113.0h1.2v1.2h-1.2zM265.9 109.9h1.2v1.2h-1.2zM262.0 103.7h1.2v1.2h-1.2zM264.2 107.4h1.2v1.2h-1.2zM268.1 106.4h1.2v1.2h-1.2zM262.2 111.1h1.2v1.2h-1.2zM263.1 107.0h1.2v1.2h-1.2zM261.8 111.7h1.2v1.2h-1.2zM260.4 107.2h1.2v1.2h-1.2zM260.8 107.7h1.2v1.2h-1.2zM261.8 87.2h1.2v1.2h-1.2zM250.4 81.1h1.2v1.2h-1.2zM263.8 99.0h1.2v1.2h-1.2zM253.7 59.9h1.2v1.2h-1.2zM264.7 69.7h1.2v1.2h-1.2zM269.7 63.5h1.2v1.2h-1.2zM265.5 101.2h1.2v1.2h-1.2zM254.9 102.1h1.2v1.2h-1.2zM248.6 59.9h1.2v1.2h-1.2zM268.3 95.3h1.2v1.2h-1.2zM252.8 85.6h1.2v1.2h-1.2zM262.8 69.8h1.2v1.2h-1.2zM248.7 97.1h1.2v1.2h-1.2zM273.3 92.1h1.2v1.2h-1.2zM250.7 94.2h1.2v1.2h-1.2zM262.6 56.4h1.2v1.2h-1.2zM259.6 101.8h1.2v1.2h-1.2zM251.8 87.7h1.2v1.2h-1.2zM251.9 94.4h1.2v1.2h-1.2zM263.9 61.9h1.2v1.2h-1.2zM265.2 81.4h1.2v1.2h-1.2zM251.4 65.7h1.2v1.2h-1.2zM269.7 60.2h1.2v1.2h-1.2zM251.1 66.4h1.2v1.2h-1.2zM264.8 92.4h1.2v1.2h-1.2zM250.6 63.4h1.2v1.2h-1.2zM262.8 89.1h1.2v1.2h-1.2zM251.3 83.8h1.2v1.2h-1.2zM260.2 61.4h1.2v1.2h-1.2zM265.1 58.6h1.2v1.2h-1.2zM251.9 59.7h1.2v1.2h-1.2zM267.5 97.3h1.2v1.2h-1.2zM256.9 99.2h1.2v1.2h-1.2zM277.0 100.6h1.2v1.2h-1.2zM266.5 69.4h1.2v1.2h-1.2zM251.9 85.0h1.2v1.2h-1.2zM263.2 65.3h1.2v1.2h-1.2zM264.9 87.9h1.2v1.2h-1.2zM257.6 74.7h1.2v1.2h-1.2zM267.8 101.1h1.2v1.2h-1.2zM263.6 65.4h1.2v1.2h-1.2zM261.6 58.2h1.2v1.2h-1.2zM274.5 99.4h1.2v1.2h-1.2zM249.0 59.3h1.2v1.2h-1.2zM253.1 60.9h1.2v1.2h-1.2zM271.7 70.4h1.2v1.2h-1.2zM253.4 85.2h1.2v1.2h-1.2zM257.7 90.0h1.2v1.2h-1.2zM267.7 82.3h1.2v1.2h-1.2zM266.0 94.0h1.2v1.2h-1.2zM254.4 87.2h1.2v1.2h-1.2zM256.1 63.6h1.2v1.2h-1.2zM251.0 79.8h1.2v1.2h-1.2zM272.2 82.1h1.2v1.2h-1.2zM256.7 93.6h1.2v1.2h-1.2zM255.2 65.5h1.2v1.2h-1.2zM265.8 61.8h1.2v1.2h-1.2zM250.4 90.5h1.2v1.2h-1.2zM253.8 60.2h1.2v1.2h-1.2zM251.6 70.9h1.2v1.2h-1.2zM243.5 66.7h1.2v1.2h-1.2zM251.7 103.2h1.2v1.2h-1.2zM253.2 74.7h1.2v1.2h-1.2zM265.2 53.3h1.2v1.2h-1.2zM247.5 75.8h1.2v1.2h-1.2zM256.5 69.2h1.2v1.2h-1.2zM266.6 100.8h1.2v1.2h-1.2zM254.8 71.2h1.2v1.2h-1.2zM264.9 54.5h1.2v1.2h-1.2zM256.3 103.1h1.2v1.2h-1.2zM257.1 79.6h1.2v1.2h-1.2zM261.3 93.1h1.2v1.2h-1.2zM266.5 73.2h1.2v1.2h-1.2zM274.9 88.5h1.2v1.2h-1.2zM262.6 65.3h1.2v1.2h-1.2zM268.0 61.5h1.2v1.2h-1.2zM269.6 65.9h1.2v1.2h-1.2zM250.8 96.5h1.2v1.2h-1.2zM272.5 98.3h1.2v1.2h-1.2zM268.5 87.4h1.2v1.2h-1.2zM261.1 91.8h1.2v1.2h-1.2zM247.6 75.0h1.2v1.2h-1.2zM265.3 59.3h1.2v1.2h-1.2zM251.4 59.6h1.2v1.2h-1.2zM253.2 67.8h1.2v1.2h-1.2zM261.9 90.9h1.2v1.2h-1.2zM269.3 60.3h1.2v1.2h-1.2zM267.7 90.6h1.2v1.2h-1.2zM250.1 99.3h1.2v1.2h-1.2zM248.0 85.4h1.2v1.2h-1.2zM255.3 57.6h1.2v1.2h-1.2zM250.0 97.3h1.2v1.2h-1.2zM264.2 134.1h1.2v1.2h-1.2zM263.6 129.8h1.2v1.2h-1.2zM251.4 111.5h1.2v1.2h-1.2zM251.9 115.5h1.2v1.2h-1.2zM278.0 126.8h1.2v1.2h-1.2zM262.8 135.2h1.2v1.2h-1.2zM261.0 133.3h1.2v1.2h-1.2zM263.5 100.3h1.2v1.2h-1.2zM271.2 126.4h1.2v1.2h-1.2zM262.0 127.2h1.2v1.2h-1.2zM260.9 132.9h1.2v1.2h-1.2zM270.9 115.0h1.2v1.2h-1.2zM278.3 132.1h1.2v1.2h-1.2zM268.8 128.2h1.2v1.2h-1.2zM274.3 106.8h1.2v1.2h-1.2zM280.5 121.8h1.2v1.2h-1.2zM274.7 135.8h1.2v1.2h-1.2zM265.6 101.1h1.2v1.2h-1.2zM270.5 140.3h1.2v1.2h-1.2zM257.0 101.0h1.2v1.2h-1.2zM266.2 127.9h1.2v1.2h-1.2zM269.4 125.6h1.2v1.2h-1.2zM275.8 128.5h1.2v1.2h-1.2zM251.4 123.6h1.2v1.2h-1.2zM252.4 107.9h1.2v1.2h-1.2zM253.0 102.4h1.2v1.2h-1.2zM262.6 103.7h1.2v1.2h-1.2zM282.3 129.2h1.2v1.2h-1.2zM254.4 104.2h1.2v1.2h-1.2zM257.3 105.6h1.2v1.2h-1.2zM255.7 106.6h1.2v1.2h-1.2zM267.6 111.2h1.2v1.2h-1.2zM257.5 122.1h1.2v1.2h-1.2zM259.5 106.8h1.2v1.2h-1.2zM270.5 111.9h1.2v1.2h-1.2zM256.9 115.5h1.2v1.2h-1.2zM261.0 110.6h1.2v1.2h-1.2zM269.2 107.9h1.2v1.2h-1.2zM258.5 128.9h1.2v1.2h-1.2zM256.7 116.4h1.2v1.2h-1.2zM274.8 117.0h1.2v1.2h-1.2zM265.4 127.1h1.2v1.2h-1.2zM265.4 100.1h1.2v1.2h-1.2zM250.2 124.7h1.2v1.2h-1.2zM260.4 114.1h1.2v1.2h-1.2zM281.3 126.2h1.2v1.2h-1.2zM256.2 110.8h1.2v1.2h-1.2zM250.5 114.6h1.2v1.2h-1.2zM269.8 139.6h1.2v1.2h-1.2zM267.8 138.8h1.2v1.2h-1.2zM269.9 136.7h1.2v1.2h-1.2zM262.5 122.4h1.2v1.2h-1.2zM267.5 131.9h1.2v1.2h-1.2zM277.7 137.3h1.2v1.2h-1.2zM271.0 124.2h1.2v1.2h-1.2zM260.1 119.2h1.2v1.2h-1.2zM252.8 123.7h1.2v1.2h-1.2zM257.0 105.1h1.2v1.2h-1.2zM270.9 106.9h1.2v1.2h-1.2zM267.9 133.8h1.2v1.2h-1.2zM260.5 117.4h1.2v1.2h-1.2zM275.5 135.2h1.2v1.2h-1.2zM267.1 113.3h1.2v1.2h-1.2zM265.8 133.5h1.2v1.2h-1.2zM276.4 105.1h1.2v1.2h-1.2zM275.5 101.9h1.2v1.2h-1.2zM276.0 102.2h1.2v1.2h-1.2zM201.4 83.5h1.2v1.2h-1.2zM210.6 109.8h1.2v1.2h-1.2zM171.3 107.2h1.2v1.2h-1.2zM199.4 107.5h1.2v1.2h-1.2zM178.7 110.0h1.2v1.2h-1.2zM194.8 124.6h1.2v1.2h-1.2zM186.0 93.1h1.2v1.2h-1.2zM200.2 85.6h1.2v1.2h-1.2zM196.9 104.4h1.2v1.2h-1.2zM204.8 105.7h1.2v1.2h-1.2zM188.2 103.4h1.2v1.2h-1.2zM201.3 87.3h1.2v1.2h-1.2zM178.9 104.7h1.2v1.2h-1.2zM178.3 115.9h1.2v1.2h-1.2zM177.6 104.0h1.2v1.2h-1.2zM192.6 100.0h1.2v1.2h-1.2zM214.3 115.8h1.2v1.2h-1.2zM203.6 119.4h1.2v1.2h-1.2zM192.7 98.0h1.2v1.2h-1.2zM200.2 93.1h1.2v1.2h-1.2zM124.1 130.8h1.2v1.2h-1.2zM128.1 134.5h1.2v1.2h-1.2zM124.0 105.3h1.2v1.2h-1.2zM125.3 152.6h1.2v1.2h-1.2zM133.5 146.3h1.2v1.2h-1.2zM126.8 129.0h1.2v1.2h-1.2zM126.6 148.1h1.2v1.2h-1.2zM120.2 109.0h1.2v1.2h-1.2zM139.8 120.5h1.2v1.2h-1.2zM154.1 154.7h1.2v1.2h-1.2zM142.3 150.6h1.2v1.2h-1.2zM142.9 123.8h1.2v1.2h-1.2zM134.6 134.6h1.2v1.2h-1.2zM144.6 141.6h1.2v1.2h-1.2zM132.8 150.0h1.2v1.2h-1.2zM124.0 135.4h1.2v1.2h-1.2zM144.3 128.1h1.2v1.2h-1.2zM143.4 149.9h1.2v1.2h-1.2zM119.8 108.0h1.2v1.2h-1.2zM132.8 121.2h1.2v1.2h-1.2zM149.2 157.6h1.2v1.2h-1.2zM141.8 148.7h1.2v1.2h-1.2zM138.6 151.1h1.2v1.2h-1.2zM150.6 151.8h1.2v1.2h-1.2zM117.5 157.2h1.2v1.2h-1.2zM152.4 142.5h1.2v1.2h-1.2zM119.1 111.5h1.2v1.2h-1.2zM147.3 135.6h1.2v1.2h-1.2zM118.2 148.7h1.2v1.2h-1.2zM128.6 131.5h1.2v1.2h-1.2zM127.0 146.1h1.2v1.2h-1.2zM134.3 141.9h1.2v1.2h-1.2zM152.1 150.2h1.2v1.2h-1.2zM130.0 133.4h1.2v1.2h-1.2zM127.9 118.7h1.2v1.2h-1.2zM149.7 146.3h1.2v1.2h-1.2zM123.2 137.6h1.2v1.2h-1.2zM149.3 129.7h1.2v1.2h-1.2zM131.9 113.3h1.2v1.2h-1.2zM140.4 113.4h1.2v1.2h-1.2zM129.2 115.9h1.2v1.2h-1.2zM119.1 115.9h1.2v1.2h-1.2zM169.8 137.8h1.2v1.2h-1.2zM161.1 131.8h1.2v1.2h-1.2zM172.8 121.6h1.2v1.2h-1.2zM150.4 102.5h1.2v1.2h-1.2zM154.0 114.4h1.2v1.2h-1.2zM181.3 120.9h1.2v1.2h-1.2zM175.1 138.4h1.2v1.2h-1.2zM190.9 140.1h1.2v1.2h-1.2zM154.1 122.7h1.2v1.2h-1.2zM163.6 144.6h1.2v1.2h-1.2zM181.6 149.3h1.2v1.2h-1.2zM177.2 149.9h1.2v1.2h-1.2zM178.7 119.4h1.2v1.2h-1.2zM167.7 112.9h1.2v1.2h-1.2zM191.3 145.0h1.2v1.2h-1.2zM155.7 134.4h1.2v1.2h-1.2zM187.4 133.1h1.2v1.2h-1.2zM164.0 135.8h1.2v1.2h-1.2zM161.1 132.7h1.2v1.2h-1.2zM187.0 127.6h1.2v1.2h-1.2zM183.5 141.0h1.2v1.2h-1.2zM152.6 104.8h1.2v1.2h-1.2zM158.8 124.3h1.2v1.2h-1.2zM176.2 127.0h1.2v1.2h-1.2zM162.5 117.9h1.2v1.2h-1.2zM183.5 130.7h1.2v1.2h-1.2zM171.5 127.9h1.2v1.2h-1.2zM169.8 127.1h1.2v1.2h-1.2zM166.7 128.1h1.2v1.2h-1.2zM168.1 124.9h1.2v1.2h-1.2zM169.5 129.5h1.2v1.2h-1.2zM221.2 157.7h1.2v1.2h-1.2zM220.8 130.4h1.2v1.2h-1.2zM208.7 144.1h1.2v1.2h-1.2zM215.5 170.1h1.2v1.2h-1.2zM179.0 163.3h1.2v1.2h-1.2zM184.2 169.6h1.2v1.2h-1.2zM184.8 162.6h1.2v1.2h-1.2zM172.6 165.2h1.2v1.2h-1.2zM217.3 164.4h1.2v1.2h-1.2zM217.6 158.1h1.2v1.2h-1.2zM184.1 153.8h1.2v1.2h-1.2zM204.5 164.2h1.2v1.2h-1.2zM164.3 152.0h1.2v1.2h-1.2zM166.1 158.0h1.2v1.2h-1.2zM208.0 159.4h1.2v1.2h-1.2zM191.0 154.8h1.2v1.2h-1.2zM174.0 162.3h1.2v1.2h-1.2zM180.4 156.6h1.2v1.2h-1.2zM176.1 152.5h1.2v1.2h-1.2zM187.0 154.1h1.2v1.2h-1.2zM175.0 151.2h1.2v1.2h-1.2zM160.2 158.9h1.2v1.2h-1.2zM209.4 168.3h1.2v1.2h-1.2zM203.4 162.5h1.2v1.2h-1.2zM178.4 163.2h1.2v1.2h-1.2zM224.2 160.8h1.2v1.2h-1.2zM197.1 170.0h1.2v1.2h-1.2zM204.8 155.2h1.2v1.2h-1.2zM166.9 159.5h1.2v1.2h-1.2zM187.3 155.0h1.2v1.2h-1.2zM215.9 173.1h1.2v1.2h-1.2zM162.0 152.7h1.2v1.2h-1.2zM173.2 155.3h1.2v1.2h-1.2zM178.7 160.9h1.2v1.2h-1.2zM187.1 182.7h1.2v1.2h-1.2zM185.3 183.9h1.2v1.2h-1.2zM200.1 179.3h1.2v1.2h-1.2zM192.7 178.9h1.2v1.2h-1.2zM192.6 187.7h1.2v1.2h-1.2zM203.8 182.8h1.2v1.2h-1.2zM191.6 187.4h1.2v1.2h-1.2zM192.4 181.6h1.2v1.2h-1.2zM202.4 186.3h1.2v1.2h-1.2zM205.2 180.6h1.2v1.2h-1.2zM203.8 179.7h1.2v1.2h-1.2zM190.5 186.1h1.2v1.2h-1.2zM215.5 189.4h1.2v1.2h-1.2zM210.5 194.1h1.2v1.2h-1.2zM204.9 189.4h1.2v1.2h-1.2zM208.2 191.6h1.2v1.2h-1.2zM203.4 191.5h1.2v1.2h-1.2zM216.3 191.9h1.2v1.2h-1.2zM207.1 187.5h1.2v1.2h-1.2zM204.4 191.6h1.2v1.2h-1.2zM209.3 191.7h1.2v1.2h-1.2zM208.7 192.2h1.2v1.2h-1.2zM208.1 190.2h1.2v1.2h-1.2zM209.7 189.8h1.2v1.2h-1.2zM209.3 193.1h1.2v1.2h-1.2zM215.1 194.4h1.2v1.2h-1.2zM201.4 200.8h1.2v1.2h-1.2zM168.4 172.8h1.2v1.2h-1.2zM172.5 195.3h1.2v1.2h-1.2zM166.8 176.3h1.2v1.2h-1.2zM157.1 189.6h1.2v1.2h-1.2zM167.4 185.0h1.2v1.2h-1.2zM171.5 184.5h1.2v1.2h-1.2zM194.3 195.9h1.2v1.2h-1.2zM173.8 181.7h1.2v1.2h-1.2zM160.5 188.2h1.2v1.2h-1.2zM203.3 202.1h1.2v1.2h-1.2zM197.8 193.7h1.2v1.2h-1.2zM159.0 183.9h1.2v1.2h-1.2zM161.0 187.9h1.2v1.2h-1.2zM162.6 175.3h1.2v1.2h-1.2zM182.6 186.2h1.2v1.2h-1.2zM155.8 172.6h1.2v1.2h-1.2zM192.1 186.8h1.2v1.2h-1.2zM160.2 181.9h1.2v1.2h-1.2zM175.9 173.2h1.2v1.2h-1.2zM186.6 194.8h1.2v1.2h-1.2zM206.3 196.7h1.2v1.2h-1.2zM194.2 196.9h1.2v1.2h-1.2zM187.0 176.7h1.2v1.2h-1.2zM183.1 189.8h1.2v1.2h-1.2zM171.1 176.6h1.2v1.2h-1.2zM211.0 192.7h1.2v1.2h-1.2zM199.9 194.7h1.2v1.2h-1.2zM165.1 184.5h1.2v1.2h-1.2zM210.0 201.8h1.2v1.2h-1.2zM205.4 200.7h1.2v1.2h-1.2zM158.1 198.1h1.2v1.2h-1.2zM182.3 199.9h1.2v1.2h-1.2zM187.3 184.4h1.2v1.2h-1.2zM176.4 171.5h1.2v1.2h-1.2zM171.8 183.3h1.2v1.2h-1.2zM169.2 179.8h1.2v1.2h-1.2zM165.1 181.0h1.2v1.2h-1.2zM164.8 185.0h1.2v1.2h-1.2zM135.3 213.9h1.2v1.2h-1.2zM128.8 222.9h1.2v1.2h-1.2zM133.6 209.2h1.2v1.2h-1.2zM131.8 198.8h1.2v1.2h-1.2zM129.7 169.1h1.2v1.2h-1.2zM136.8 168.1h1.2v1.2h-1.2zM127.4 213.8h1.2v1.2h-1.2zM132.5 206.8h1.2v1.2h-1.2zM139.0 175.6h1.2v1.2h-1.2zM139.7 193.2h1.2v1.2h-1.2zM142.3 191.5h1.2v1.2h-1.2zM144.8 174.9h1.2v1.2h-1.2zM139.3 161.6h1.2v1.2h-1.2zM139.8 173.4h1.2v1.2h-1.2zM149.9 192.2h1.2v1.2h-1.2zM138.5 219.5h1.2v1.2h-1.2zM139.8 217.0h1.2v1.2h-1.2zM133.9 213.8h1.2v1.2h-1.2zM131.7 185.4h1.2v1.2h-1.2zM126.0 204.6h1.2v1.2h-1.2zM137.0 175.4h1.2v1.2h-1.2zM137.6 161.5h1.2v1.2h-1.2zM148.9 196.1h1.2v1.2h-1.2zM132.1 180.2h1.2v1.2h-1.2zM148.3 163.6h1.2v1.2h-1.2zM127.3 222.8h1.2v1.2h-1.2zM150.4 171.9h1.2v1.2h-1.2zM139.3 228.9h1.2v1.2h-1.2zM134.7 210.7h1.2v1.2h-1.2zM147.6 174.7h1.2v1.2h-1.2zM126.8 228.6h1.2v1.2h-1.2zM130.2 203.7h1.2v1.2h-1.2zM151.3 179.5h1.2v1.2h-1.2zM135.9 199.6h1.2v1.2h-1.2zM139.9 163.1h1.2v1.2h-1.2zM130.5 209.5h1.2v1.2h-1.2zM129.8 211.9h1.2v1.2h-1.2zM151.0 188.4h1.2v1.2h-1.2zM151.6 191.0h1.2v1.2h-1.2zM139.9 177.8h1.2v1.2h-1.2zM140.0 193.7h1.2v1.2h-1.2zM140.1 162.8h1.2v1.2h-1.2zM139.3 195.5h1.2v1.2h-1.2zM140.1 168.2h1.2v1.2h-1.2zM141.9 175.7h1.2v1.2h-1.2zM140.5 164.9h1.2v1.2h-1.2zM108.6 196.8h1.2v1.2h-1.2zM96.5 173.9h1.2v1.2h-1.2zM123.6 227.0h1.2v1.2h-1.2zM113.1 221.4h1.2v1.2h-1.2zM99.4 183.9h1.2v1.2h-1.2zM122.7 196.6h1.2v1.2h-1.2zM77.6 195.6h1.2v1.2h-1.2zM110.5 212.6h1.2v1.2h-1.2zM78.1 209.1h1.2v1.2h-1.2zM87.5 218.0h1.2v1.2h-1.2zM119.9 216.4h1.2v1.2h-1.2zM90.9 200.5h1.2v1.2h-1.2zM83.1 167.1h1.2v1.2h-1.2zM124.4 177.1h1.2v1.2h-1.2zM103.7 223.0h1.2v1.2h-1.2zM100.4 188.0h1.2v1.2h-1.2zM98.0 221.8h1.2v1.2h-1.2zM86.1 179.7h1.2v1.2h-1.2zM115.8 165.9h1.2v1.2h-1.2zM100.0 166.3h1.2v1.2h-1.2zM106.8 212.2h1.2v1.2h-1.2zM122.9 186.4h1.2v1.2h-1.2zM95.6 165.1h1.2v1.2h-1.2zM116.0 178.8h1.2v1.2h-1.2zM98.0 192.7h1.2v1.2h-1.2zM89.0 160.8h1.2v1.2h-1.2zM106.2 180.4h1.2v1.2h-1.2zM79.3 180.5h1.2v1.2h-1.2zM121.7 184.0h1.2v1.2h-1.2zM94.4 179.7h1.2v1.2h-1.2zM113.1 219.1h1.2v1.2h-1.2zM81.3 197.4h1.2v1.2h-1.2zM83.9 189.1h1.2v1.2h-1.2zM120.1 218.4h1.2v1.2h-1.2zM104.9 181.3h1.2v1.2h-1.2zM108.4 198.3h1.2v1.2h-1.2zM94.7 185.8h1.2v1.2h-1.2zM108.9 184.3h1.2v1.2h-1.2zM93.5 164.5h1.2v1.2h-1.2zM84.8 205.4h1.2v1.2h-1.2zM90.5 194.0h1.2v1.2h-1.2zM74.4 213.6h1.2v1.2h-1.2zM93.3 213.9h1.2v1.2h-1.2zM116.9 167.1h1.2v1.2h-1.2zM101.3 165.7h1.2v1.2h-1.2zM73.3 171.0h1.2v1.2h-1.2zM84.0 167.3h1.2v1.2h-1.2zM96.0 206.8h1.2v1.2h-1.2zM86.7 209.1h1.2v1.2h-1.2zM104.7 184.0h1.2v1.2h-1.2zM81.1 170.5h1.2v1.2h-1.2zM95.4 164.5h1.2v1.2h-1.2zM113.4 167.2h1.2v1.2h-1.2zM106.6 228.2h1.2v1.2h-1.2zM82.0 199.2h1.2v1.2h-1.2zM100.3 183.6h1.2v1.2h-1.2zM93.7 200.7h1.2v1.2h-1.2zM92.6 212.8h1.2v1.2h-1.2zM99.4 199.9h1.2v1.2h-1.2zM117.4 221.8h1.2v1.2h-1.2zM110.7 224.1h1.2v1.2h-1.2zM85.1 179.2h1.2v1.2h-1.2zM73.8 174.5h1.2v1.2h-1.2zM93.6 187.9h1.2v1.2h-1.2zM93.2 201.4h1.2v1.2h-1.2zM112.8 181.2h1.2v1.2h-1.2zM102.7 181.7h1.2v1.2h-1.2zM105.0 223.3h1.2v1.2h-1.2zM83.2 211.6h1.2v1.2h-1.2zM85.4 191.4h1.2v1.2h-1.2zM93.7 173.9h1.2v1.2h-1.2zM85.3 198.8h1.2v1.2h-1.2zM99.9 170.2h1.2v1.2h-1.2zM100.4 227.1h1.2v1.2h-1.2zM107.4 194.4h1.2v1.2h-1.2zM61.7 185.8h1.2v1.2h-1.2zM68.5 173.4h1.2v1.2h-1.2zM70.7 219.1h1.2v1.2h-1.2zM66.4 223.3h1.2v1.2h-1.2zM84.6 242.7h1.2v1.2h-1.2zM94.2 250.4h1.2v1.2h-1.2zM97.0 256.6h1.2v1.2h-1.2zM92.1 243.2h1.2v1.2h-1.2zM98.1 235.4h1.2v1.2h-1.2zM87.3 270.0h1.2v1.2h-1.2zM83.0 254.6h1.2v1.2h-1.2zM74.2 211.7h1.2v1.2h-1.2zM76.7 210.3h1.2v1.2h-1.2zM75.7 212.5h1.2v1.2h-1.2zM100.2 196.9h1.2v1.2h-1.2zM92.9 118.9h1.2v1.2h-1.2zM111.7 117.7h1.2v1.2h-1.2zM99.2 117.9h1.2v1.2h-1.2zM84.9 119.7h1.2v1.2h-1.2zM83.0 118.5h1.2v1.2h-1.2zM62.6 119.7h1.2v1.2h-1.2zM71.1 119.7h1.2v1.2h-1.2zM82.3 119.3h1.2v1.2h-1.2zM96.1 118.5h1.2v1.2h-1.2zM93.5 119.0h1.2v1.2h-1.2zM75.7 94.8h1.2v1.2h-1.2zM99.7 93.3h1.2v1.2h-1.2zM107.2 93.7h1.2v1.2h-1.2zM78.5 94.8h1.2v1.2h-1.2zM113.2 92.8h1.2v1.2h-1.2zM95.6 93.5h1.2v1.2h-1.2zM128.1 91.7h1.2v1.2h-1.2zM83.7 93.9h1.2v1.2h-1.2zM98.1 93.7h1.2v1.2h-1.2zM98.4 93.1h1.2v1.2h-1.2zM88.5 162.5h1.2v1.2h-1.2zM89.2 205.1h1.2v1.2h-1.2zM89.6 185.6h1.2v1.2h-1.2zM88.7 224.0h1.2v1.2h-1.2zM89.1 195.5h1.2v1.2h-1.2zM88.5 192.8h1.2v1.2h-1.2zM89.3 188.9h1.2v1.2h-1.2zM89.3 174.2h1.2v1.2h-1.2zM90.0 196.1h1.2v1.2h-1.2zM89.0 194.3h1.2v1.2h-1.2zM90.3 223.0h1.2v1.2h-1.2zM89.1 200.7h1.2v1.2h-1.2zM88.9 223.7h1.2v1.2h-1.2zM88.5 221.9h1.2v1.2h-1.2zM89.9 177.7h1.2v1.2h-1.2zM88.7 210.0h1.2v1.2h-1.2zM88.8 217.4h1.2v1.2h-1.2zM89.8 220.3h1.2v1.2h-1.2zM88.8 179.3h1.2v1.2h-1.2zM90.0 224.5h1.2v1.2h-1.2zM90.2 177.5h1.2v1.2h-1.2zM90.1 207.7h1.2v1.2h-1.2zM89.9 184.3h1.2v1.2h-1.2zM90.1 189.1h1.2v1.2h-1.2zM89.0 159.5h1.2v1.2h-1.2zM89.0 176.2h1.2v1.2h-1.2zM89.7 208.6h1.2v1.2h-1.2zM88.4 165.1h1.2v1.2h-1.2zM90.2 205.5h1.2v1.2h-1.2zM89.4 172.8h1.2v1.2h-1.2zM89.3 176.0h1.2v1.2h-1.2zM89.4 173.8h1.2v1.2h-1.2zM89.4 175.9h1.2v1.2h-1.2zM91.4 176.1h1.2v1.2h-1.2zM89.7 175.1h1.2v1.2h-1.2zM89.5 176.2h1.2v1.2h-1.2zM189.2 202.3h1.2v1.2h-1.2zM145.5 214.0h1.2v1.2h-1.2zM194.1 207.1h1.2v1.2h-1.2zM160.4 211.3h1.2v1.2h-1.2zM145.5 220.3h1.2v1.2h-1.2zM166.4 230.1h1.2v1.2h-1.2zM187.7 214.6h1.2v1.2h-1.2zM157.5 220.4h1.2v1.2h-1.2zM180.4 228.6h1.2v1.2h-1.2zM172.9 210.3h1.2v1.2h-1.2zM176.5 220.7h1.2v1.2h-1.2zM195.7 210.3h1.2v1.2h-1.2zM207.7 204.7h1.2v1.2h-1.2zM156.6 204.6h1.2v1.2h-1.2zM150.0 201.4h1.2v1.2h-1.2zM167.4 210.0h1.2v1.2h-1.2zM144.1 215.6h1.2v1.2h-1.2zM151.7 228.8h1.2v1.2h-1.2zM180.1 209.6h1.2v1.2h-1.2zM199.0 217.1h1.2v1.2h-1.2zM192.0 206.0h1.2v1.2h-1.2zM181.4 226.5h1.2v1.2h-1.2zM165.2 202.2h1.2v1.2h-1.2zM155.5 210.5h1.2v1.2h-1.2zM193.7 202.3h1.2v1.2h-1.2zM191.5 202.9h1.2v1.2h-1.2zM209.5 202.2h1.2v1.2h-1.2zM200.7 221.6h1.2v1.2h-1.2zM140.2 204.0h1.2v1.2h-1.2zM208.5 206.6h1.2v1.2h-1.2zM145.0 210.9h1.2v1.2h-1.2zM152.7 215.5h1.2v1.2h-1.2zM194.2 205.2h1.2v1.2h-1.2zM189.0 220.6h1.2v1.2h-1.2zM198.6 205.7h1.2v1.2h-1.2zM176.6 215.3h1.2v1.2h-1.2zM158.2 204.4h1.2v1.2h-1.2zM166.4 223.8h1.2v1.2h-1.2zM149.1 218.7h1.2v1.2h-1.2zM191.6 208.2h1.2v1.2h-1.2zM159.3 209.4h1.2v1.2h-1.2zM159.7 280.2h1.2v1.2h-1.2zM159.9 220.7h1.2v1.2h-1.2zM159.3 260.2h1.2v1.2h-1.2zM158.7 226.8h1.2v1.2h-1.2zM159.2 283.7h1.2v1.2h-1.2zM159.5 218.7h1.2v1.2h-1.2zM158.8 230.8h1.2v1.2h-1.2zM158.9 228.7h1.2v1.2h-1.2zM158.9 230.2h1.2v1.2h-1.2zM160.3 242.7h1.2v1.2h-1.2zM159.4 254.1h1.2v1.2h-1.2zM159.1 225.5h1.2v1.2h-1.2zM160.4 227.3h1.2v1.2h-1.2zM158.9 268.6h1.2v1.2h-1.2zM159.1 247.7h1.2v1.2h-1.2zM159.4 250.8h1.2v1.2h-1.2zM158.8 228.1h1.2v1.2h-1.2zM160.6 284.9h1.2v1.2h-1.2zM160.2 273.2h1.2v1.2h-1.2zM159.0 219.6h1.2v1.2h-1.2zM160.2 259.1h1.2v1.2h-1.2zM160.4 256.7h1.2v1.2h-1.2zM160.5 271.8h1.2v1.2h-1.2zM160.7 281.5h1.2v1.2h-1.2zM160.2 250.2h1.2v1.2h-1.2zM158.8 221.0h1.2v1.2h-1.2zM160.4 225.4h1.2v1.2h-1.2zM159.8 264.0h1.2v1.2h-1.2zM160.4 270.2h1.2v1.2h-1.2zM160.6 249.6h1.2v1.2h-1.2zM160.6 257.4h1.2v1.2h-1.2zM160.1 239.2h1.2v1.2h-1.2zM158.7 230.8h1.2v1.2h-1.2zM160.1 282.3h1.2v1.2h-1.2zM159.7 279.5h1.2v1.2h-1.2zM159.3 220.7h1.2v1.2h-1.2zM159.1 223.0h1.2v1.2h-1.2zM133.7 246.1h1.2v1.2h-1.2zM131.9 267.3h1.2v1.2h-1.2zM133.4 247.6h1.2v1.2h-1.2zM132.2 236.7h1.2v1.2h-1.2zM133.2 262.0h1.2v1.2h-1.2zM133.3 261.1h1.2v1.2h-1.2zM132.5 271.9h1.2v1.2h-1.2zM132.8 252.3h1.2v1.2h-1.2zM191.8 255.8h1.2v1.2h-1.2zM189.0 268.9h1.2v1.2h-1.2zM188.8 259.5h1.2v1.2h-1.2zM189.7 259.3h1.2v1.2h-1.2zM191.2 258.6h1.2v1.2h-1.2zM194.2 263.9h1.2v1.2h-1.2zM190.9 262.0h1.2v1.2h-1.2zM191.4 262.9h1.2v1.2h-1.2zM190.5 269.0h1.2v1.2h-1.2zM186.9 259.5h1.2v1.2h-1.2zM195.4 259.7h1.2v1.2h-1.2zM186.8 267.9h1.2v1.2h-1.2zM191.5 267.7h1.2v1.2h-1.2zM191.6 260.2h1.2v1.2h-1.2zM198.4 254.2h1.2v1.2h-1.2zM198.1 243.5h1.2v1.2h-1.2zM198.4 249.4h1.2v1.2h-1.2zM197.5 255.0h1.2v1.2h-1.2zM197.7 256.0h1.2v1.2h-1.2zM198.6 255.5h1.2v1.2h-1.2zM196.3 253.3h1.2v1.2h-1.2zM199.7 244.0h1.2v1.2h-1.2zM198.4 246.7h1.2v1.2h-1.2zM197.6 254.8h1.2v1.2h-1.2zM199.4 242.2h1.2v1.2h-1.2zM198.2 242.1h1.2v1.2h-1.2zM198.6 266.3h1.2v1.2h-1.2zM198.2 265.1h1.2v1.2h-1.2zM199.3 268.6h1.2v1.2h-1.2zM197.6 269.4h1.2v1.2h-1.2zM197.1 262.6h1.2v1.2h-1.2zM198.4 259.9h1.2v1.2h-1.2zM197.9 259.8h1.2v1.2h-1.2zM198.6 264.5h1.2v1.2h-1.2zM197.4 259.2h1.2v1.2h-1.2zM200.7 282.9h1.2v1.2h-1.2zM200.5 281.3h1.2v1.2h-1.2zM200.4 277.8h1.2v1.2h-1.2zM201.9 281.2h1.2v1.2h-1.2zM202.7 282.4h1.2v1.2h-1.2zM197.5 272.1h1.2v1.2h-1.2zM199.9 280.6h1.2v1.2h-1.2zM200.1 276.2h1.2v1.2h-1.2zM201.7 288.0h1.2v1.2h-1.2zM203.1 289.3h1.2v1.2h-1.2zM203.4 291.3h1.2v1.2h-1.2zM201.6 287.7h1.2v1.2h-1.2zM204.3 292.7h1.2v1.2h-1.2zM203.6 293.6h1.2v1.2h-1.2zM203.5 295.9h1.2v1.2h-1.2zM204.3 293.4h1.2v1.2h-1.2zM202.1 285.3h1.2v1.2h-1.2zM203.8 292.1h1.2v1.2h-1.2zM164.1 259.8h1.2v1.2h-1.2zM164.8 256.8h1.2v1.2h-1.2zM165.1 265.8h1.2v1.2h-1.2zM164.8 243.7h1.2v1.2h-1.2zM164.6 245.3h1.2v1.2h-1.2zM164.1 273.4h1.2v1.2h-1.2zM164.6 286.3h1.2v1.2h-1.2zM164.5 244.5h1.2v1.2h-1.2zM163.9 236.5h1.2v1.2h-1.2zM164.0 247.7h1.2v1.2h-1.2zM164.4 272.2h1.2v1.2h-1.2zM164.8 288.5h1.2v1.2h-1.2zM165.1 246.1h1.2v1.2h-1.2zM164.8 245.2h1.2v1.2h-1.2zM164.9 253.4h1.2v1.2h-1.2zM164.8 237.7h1.2v1.2h-1.2zM164.9 238.1h1.2v1.2h-1.2zM164.1 252.8h1.2v1.2h-1.2zM164.4 252.5h1.2v1.2h-1.2zM164.8 264.3h1.2v1.2h-1.2zM164.7 241.8h1.2v1.2h-1.2zM164.1 284.3h1.2v1.2h-1.2zM164.0 258.9h1.2v1.2h-1.2zM164.9 267.9h1.2v1.2h-1.2zM164.0 286.5h1.2v1.2h-1.2zM163.9 269.8h1.2v1.2h-1.2zM163.9 278.3h1.2v1.2h-1.2zM165.0 277.2h1.2v1.2h-1.2zM225.6 180.5h1.2v1.2h-1.2zM227.0 178.0h1.2v1.2h-1.2zM223.0 183.3h1.2v1.2h-1.2zM223.4 184.3h1.2v1.2h-1.2zM223.7 183.3h1.2v1.2h-1.2zM222.5 187.4h1.2v1.2h-1.2zM225.5 181.6h1.2v1.2h-1.2zM223.3 184.2h1.2v1.2h-1.2zM223.4 182.3h1.2v1.2h-1.2zM221.0 189.7h1.2v1.2h-1.2zM222.2 187.4h1.2v1.2h-1.2zM220.1 188.8h1.2v1.2h-1.2zM224.7 180.1h1.2v1.2h-1.2zM224.4 185.1h1.2v1.2h-1.2zM217.6 193.6h1.2v1.2h-1.2zM215.4 198.9h1.2v1.2h-1.2zM216.6 197.7h1.2v1.2h-1.2zM216.0 198.9h1.2v1.2h-1.2zM217.4 198.3h1.2v1.2h-1.2zM217.9 196.0h1.2v1.2h-1.2zM216.4 195.8h1.2v1.2h-1.2zM217.3 196.8h1.2v1.2h-1.2zM218.9 195.1h1.2v1.2h-1.2zM215.0 195.5h1.2v1.2h-1.2zM216.4 196.6h1.2v1.2h-1.2zM215.4 198.7h1.2v1.2h-1.2zM219.0 191.5h1.2v1.2h-1.2zM211.7 202.5h1.2v1.2h-1.2zM215.7 200.1h1.2v1.2h-1.2zM210.0 207.5h1.2v1.2h-1.2zM210.8 207.2h1.2v1.2h-1.2zM210.4 204.8h1.2v1.2h-1.2zM211.1 204.3h1.2v1.2h-1.2zM210.7 202.9h1.2v1.2h-1.2zM213.3 198.7h1.2v1.2h-1.2zM209.0 207.1h1.2v1.2h-1.2zM210.8 206.7h1.2v1.2h-1.2zM206.4 215.5h1.2v1.2h-1.2zM204.2 218.3h1.2v1.2h-1.2zM206.3 217.1h1.2v1.2h-1.2zM207.1 209.4h1.2v1.2h-1.2zM206.9 209.9h1.2v1.2h-1.2zM207.4 211.9h1.2v1.2h-1.2zM207.8 214.0h1.2v1.2h-1.2zM206.0 217.7h1.2v1.2h-1.2zM206.1 214.1h1.2v1.2h-1.2zM204.7 217.0h1.2v1.2h-1.2zM206.0 212.6h1.2v1.2h-1.2zM205.7 212.9h1.2v1.2h-1.2zM206.9 207.8h1.2v1.2h-1.2zM206.5 212.4h1.2v1.2h-1.2zM202.9 225.5h1.2v1.2h-1.2zM205.1 222.7h1.2v1.2h-1.2zM205.5 222.2h1.2v1.2h-1.2zM205.7 220.7h1.2v1.2h-1.2zM205.3 221.6h1.2v1.2h-1.2zM201.8 228.6h1.2v1.2h-1.2zM201.1 229.8h1.2v1.2h-1.2zM206.0 219.4h1.2v1.2h-1.2zM204.1 230.6h1.2v1.2h-1.2zM201.9 224.4h1.2v1.2h-1.2zM203.0 227.6h1.2v1.2h-1.2zM202.6 225.1h1.2v1.2h-1.2zM203.2 222.8h1.2v1.2h-1.2zM204.5 224.9h1.2v1.2h-1.2zM205.4 224.0h1.2v1.2h-1.2zM202.0 224.4h1.2v1.2h-1.2zM202.1 227.9h1.2v1.2h-1.2zM201.5 236.4h1.2v1.2h-1.2zM201.7 232.8h1.2v1.2h-1.2zM201.7 238.7h1.2v1.2h-1.2zM200.8 231.2h1.2v1.2h-1.2zM199.4 239.6h1.2v1.2h-1.2zM200.8 235.0h1.2v1.2h-1.2zM202.2 241.7h1.2v1.2h-1.2zM201.1 240.9h1.2v1.2h-1.2zM199.4 240.6h1.2v1.2h-1.2zM200.9 241.3h1.2v1.2h-1.2zM201.1 233.7h1.2v1.2h-1.2zM202.6 236.2h1.2v1.2h-1.2zM200.4 238.8h1.2v1.2h-1.2zM201.8 247.1h1.2v1.2h-1.2zM198.3 250.5h1.2v1.2h-1.2zM200.4 246.3h1.2v1.2h-1.2zM200.7 246.5h1.2v1.2h-1.2zM198.6 246.7h1.2v1.2h-1.2zM198.8 248.2h1.2v1.2h-1.2zM198.5 244.7h1.2v1.2h-1.2zM198.1 251.5h1.2v1.2h-1.2zM198.7 251.1h1.2v1.2h-1.2zM199.3 253.7h1.2v1.2h-1.2zM199.8 247.8h1.2v1.2h-1.2zM198.7 243.8h1.2v1.2h-1.2zM197.7 252.7h1.2v1.2h-1.2zM201.7 247.9h1.2v1.2h-1.2zM201.8 242.8h1.2v1.2h-1.2zM201.6 261.0h1.2v1.2h-1.2zM199.5 259.9h1.2v1.2h-1.2zM201.4 257.8h1.2v1.2h-1.2zM199.4 260.0h1.2v1.2h-1.2zM200.7 261.2h1.2v1.2h-1.2zM199.9 259.0h1.2v1.2h-1.2zM198.1 257.9h1.2v1.2h-1.2zM198.7 259.3h1.2v1.2h-1.2zM200.9 257.4h1.2v1.2h-1.2zM200.3 254.0h1.2v1.2h-1.2zM198.6 258.8h1.2v1.2h-1.2zM201.2 259.7h1.2v1.2h-1.2zM198.6 258.1h1.2v1.2h-1.2zM201.6 262.0h1.2v1.2h-1.2zM202.2 263.4h1.2v1.2h-1.2zM200.0 265.5h1.2v1.2h-1.2zM202.0 270.9h1.2v1.2h-1.2zM200.2 264.3h1.2v1.2h-1.2zM198.4 263.9h1.2v1.2h-1.2zM199.7 268.8h1.2v1.2h-1.2zM202.6 267.2h1.2v1.2h-1.2zM201.1 266.6h1.2v1.2h-1.2zM201.1 264.3h1.2v1.2h-1.2zM198.1 262.7h1.2v1.2h-1.2zM202.6 270.1h1.2v1.2h-1.2zM202.2 268.1h1.2v1.2h-1.2zM202.0 263.3h1.2v1.2h-1.2zM199.9 265.1h1.2v1.2h-1.2zM207.4 282.9h1.2v1.2h-1.2zM205.6 280.1h1.2v1.2h-1.2zM203.7 278.2h1.2v1.2h-1.2zM201.8 275.1h1.2v1.2h-1.2zM205.9 280.1h1.2v1.2h-1.2zM205.2 274.6h1.2v1.2h-1.2zM203.0 279.4h1.2v1.2h-1.2zM202.3 275.5h1.2v1.2h-1.2zM204.7 279.6h1.2v1.2h-1.2zM203.6 282.5h1.2v1.2h-1.2zM201.3 274.2h1.2v1.2h-1.2zM205.8 283.2h1.2v1.2h-1.2zM204.0 280.6h1.2v1.2h-1.2zM205.5 278.3h1.2v1.2h-1.2zM202.9 274.6h1.2v1.2h-1.2zM204.9 279.5h1.2v1.2h-1.2zM210.9 294.1h1.2v1.2h-1.2zM205.3 286.3h1.2v1.2h-1.2zM209.3 291.8h1.2v1.2h-1.2zM206.8 289.1h1.2v1.2h-1.2zM207.5 286.7h1.2v1.2h-1.2zM207.2 283.7h1.2v1.2h-1.2zM208.2 294.3h1.2v1.2h-1.2zM209.8 291.5h1.2v1.2h-1.2zM207.4 293.4h1.2v1.2h-1.2zM208.0 286.1h1.2v1.2h-1.2zM206.0 284.1h1.2v1.2h-1.2zM208.4 290.5h1.2v1.2h-1.2zM208.7 287.8h1.2v1.2h-1.2zM206.4 293.0h1.2v1.2h-1.2zM208.3 285.6h1.2v1.2h-1.2zM208.1 292.1h1.2v1.2h-1.2zM212.6 303.7h1.2v1.2h-1.2zM210.8 306.2h1.2v1.2h-1.2zM208.6 299.4h1.2v1.2h-1.2zM211.6 298.3h1.2v1.2h-1.2zM210.1 297.6h1.2v1.2h-1.2zM209.8 300.9h1.2v1.2h-1.2zM213.2 304.6h1.2v1.2h-1.2zM210.1 304.9h1.2v1.2h-1.2zM213.0 303.4h1.2v1.2h-1.2zM209.7 303.6h1.2v1.2h-1.2zM210.4 295.8h1.2v1.2h-1.2zM209.9 297.4h1.2v1.2h-1.2zM210.9 302.7h1.2v1.2h-1.2zM210.1 304.6h1.2v1.2h-1.2zM209.5 303.0h1.2v1.2h-1.2zM212.2 308.8h1.2v1.2h-1.2zM208.8 299.0h1.2v1.2h-1.2zM209.5 301.7h1.2v1.2h-1.2zM209.3 296.7h1.2v1.2h-1.2zM208.5 297.5h1.2v1.2h-1.2zM210.9 303.2h1.2v1.2h-1.2zM212.4 300.9h1.2v1.2h-1.2zM210.2 300.3h1.2v1.2h-1.2zM211.5 300.0h1.2v1.2h-1.2zM209.9 297.5h1.2v1.2h-1.2zM212.7 300.9h1.2v1.2h-1.2zM210.6 304.5h1.2v1.2h-1.2zM213.3 314.3h1.2v1.2h-1.2zM214.8 314.5h1.2v1.2h-1.2zM213.0 311.4h1.2v1.2h-1.2zM211.4 310.6h1.2v1.2h-1.2zM216.0 314.0h1.2v1.2h-1.2zM212.9 314.5h1.2v1.2h-1.2zM213.4 316.4h1.2v1.2h-1.2zM212.4 311.2h1.2v1.2h-1.2zM217.1 319.5h1.2v1.2h-1.2zM213.3 311.9h1.2v1.2h-1.2zM214.0 310.5h1.2v1.2h-1.2zM216.7 314.9h1.2v1.2h-1.2zM213.6 309.5h1.2v1.2h-1.2zM215.9 312.2h1.2v1.2h-1.2zM212.1 311.4h1.2v1.2h-1.2zM213.0 309.7h1.2v1.2h-1.2zM213.0 315.7h1.2v1.2h-1.2zM212.0 311.7h1.2v1.2h-1.2zM213.2 313.5h1.2v1.2h-1.2zM213.4 315.8h1.2v1.2h-1.2zM213.9 309.2h1.2v1.2h-1.2zM214.0 319.8h1.2v1.2h-1.2zM212.1 310.2h1.2v1.2h-1.2zM215.5 323.4h1.2v1.2h-1.2zM218.2 326.0h1.2v1.2h-1.2zM215.7 325.7h1.2v1.2h-1.2zM216.8 320.2h1.2v1.2h-1.2zM217.5 323.1h1.2v1.2h-1.2zM216.7 325.5h1.2v1.2h-1.2zM218.4 325.0h1.2v1.2h-1.2zM219.0 327.3h1.2v1.2h-1.2zM216.9 324.1h1.2v1.2h-1.2zM218.4 327.1h1.2v1.2h-1.2zM215.5 323.7h1.2v1.2h-1.2zM217.3 321.5h1.2v1.2h-1.2zM215.9 321.2h1.2v1.2h-1.2zM214.8 321.7h1.2v1.2h-1.2zM219.8 329.2h1.2v1.2h-1.2zM215.8 326.7h1.2v1.2h-1.2zM218.9 327.1h1.2v1.2h-1.2zM218.9 328.7h1.2v1.2h-1.2zM215.9 327.2h1.2v1.2h-1.2zM218.9 328.7h1.2v1.2h-1.2zM214.4 321.6h1.2v1.2h-1.2zM218.0 327.6h1.2v1.2h-1.2zM117.4 279.4h1.2v1.2h-1.2zM95.6 279.1h1.2v1.2h-1.2zM102.3 298.0h1.2v1.2h-1.2zM107.1 301.5h1.2v1.2h-1.2zM110.1 289.6h1.2v1.2h-1.2zM98.3 294.1h1.2v1.2h-1.2zM114.2 301.4h1.2v1.2h-1.2zM104.4 292.3h1.2v1.2h-1.2zM99.5 298.0h1.2v1.2h-1.2zM135.3 294.8h1.2v1.2h-1.2zM92.2 274.0h1.2v1.2h-1.2zM121.2 300.3h1.2v1.2h-1.2zM128.4 274.1h1.2v1.2h-1.2zM137.7 280.9h1.2v1.2h-1.2zM134.4 290.9h1.2v1.2h-1.2zM93.6 289.2h1.2v1.2h-1.2zM104.1 274.4h1.2v1.2h-1.2zM100.2 324.9h1.2v1.2h-1.2zM110.1 313.5h1.2v1.2h-1.2zM99.6 327.4h1.2v1.2h-1.2zM107.1 318.8h1.2v1.2h-1.2zM116.6 311.1h1.2v1.2h-1.2zM113.0 322.2h1.2v1.2h-1.2zM92.0 322.9h1.2v1.2h-1.2zM116.8 314.2h1.2v1.2h-1.2zM112.2 334.0h1.2v1.2h-1.2zM118.8 325.3h1.2v1.2h-1.2zM113.1 330.9h1.2v1.2h-1.2zM94.7 311.9h1.2v1.2h-1.2zM117.1 325.0h1.2v1.2h-1.2zM114.0 310.9h1.2v1.2h-1.2zM116.6 325.0h1.2v1.2h-1.2zM110.5 333.4h1.2v1.2h-1.2zM102.2 331.5h1.2v1.2h-1.2zM96.9 315.0h1.2v1.2h-1.2zM107.4 309.9h1.2v1.2h-1.2zM104.7 319.7h1.2v1.2h-1.2zM98.6 324.8h1.2v1.2h-1.2zM102.4 312.8h1.2v1.2h-1.2zM103.6 326.4h1.2v1.2h-1.2zM116.7 329.3h1.2v1.2h-1.2zM111.0 332.9h1.2v1.2h-1.2zM99.8 314.6h1.2v1.2h-1.2zM112.7 310.4h1.2v1.2h-1.2zM93.2 326.3h1.2v1.2h-1.2zM115.0 330.2h1.2v1.2h-1.2zM90.6 314.3h1.2v1.2h-1.2zM118.7 321.7h1.2v1.2h-1.2zM109.5 313.5h1.2v1.2h-1.2zM91.5 325.7h1.2v1.2h-1.2zM117.0 319.3h1.2v1.2h-1.2zM113.0 325.5h1.2v1.2h-1.2zM103.5 313.7h1.2v1.2h-1.2zM100.6 310.7h1.2v1.2h-1.2zM95.7 317.8h1.2v1.2h-1.2zM116.3 314.4h1.2v1.2h-1.2zM116.5 327.6h1.2v1.2h-1.2zM96.4 309.6h1.2v1.2h-1.2zM108.7 320.4h1.2v1.2h-1.2zM93.1 319.7h1.2v1.2h-1.2zM102.7 325.3h1.2v1.2h-1.2zM121.7 323.5h1.2v1.2h-1.2zM104.9 321.7h1.2v1.2h-1.2zM109.2 328.1h1.2v1.2h-1.2zM117.8 314.1h1.2v1.2h-1.2zM95.0 325.9h1.2v1.2h-1.2zM103.3 330.1h1.2v1.2h-1.2zM94.1 325.1h1.2v1.2h-1.2zM109.8 308.6h1.2v1.2h-1.2zM119.3 317.8h1.2v1.2h-1.2zM92.5 326.7h1.2v1.2h-1.2zM96.9 321.0h1.2v1.2h-1.2zM91.6 324.4h1.2v1.2h-1.2zM104.8 312.0h1.2v1.2h-1.2zM101.2 311.7h1.2v1.2h-1.2zM92.4 317.1h1.2v1.2h-1.2zM117.9 313.6h1.2v1.2h-1.2zM99.3 323.8h1.2v1.2h-1.2zM91.8 310.4h1.2v1.2h-1.2zM94.8 318.7h1.2v1.2h-1.2zM97.7 325.8h1.2v1.2h-1.2zM106.2 320.1h1.2v1.2h-1.2zM120.3 310.1h1.2v1.2h-1.2zM117.8 311.8h1.2v1.2h-1.2zM111.3 322.3h1.2v1.2h-1.2zM120.7 310.1h1.2v1.2h-1.2zM103.3 325.8h1.2v1.2h-1.2zM113.4 323.8h1.2v1.2h-1.2zM114.1 333.8h1.2v1.2h-1.2zM119.3 333.9h1.2v1.2h-1.2zM104.6 318.2h1.2v1.2h-1.2zM99.3 312.1h1.2v1.2h-1.2zM115.3 312.8h1.2v1.2h-1.2zM100.1 328.1h1.2v1.2h-1.2zM99.3 321.7h1.2v1.2h-1.2zM92.2 315.1h1.2v1.2h-1.2zM101.4 312.7h1.2v1.2h-1.2zM108.9 330.3h1.2v1.2h-1.2zM90.5 323.2h1.2v1.2h-1.2zM94.8 310.3h1.2v1.2h-1.2zM120.2 315.8h1.2v1.2h-1.2zM89.1 316.4h1.2v1.2h-1.2zM98.3 327.6h1.2v1.2h-1.2zM94.0 323.3h1.2v1.2h-1.2zM90.1 317.1h1.2v1.2h-1.2zM109.5 328.5h1.2v1.2h-1.2zM107.2 332.3h1.2v1.2h-1.2zM111.4 308.7h1.2v1.2h-1.2zM99.1 311.7h1.2v1.2h-1.2zM116.6 314.2h1.2v1.2h-1.2zM112.0 322.9h1.2v1.2h-1.2zM116.5 333.7h1.2v1.2h-1.2zM102.1 314.4h1.2v1.2h-1.2zM97.2 327.8h1.2v1.2h-1.2zM121.5 321.6h1.2v1.2h-1.2zM89.4 320.3h1.2v1.2h-1.2zM104.4 326.0h1.2v1.2h-1.2zM113.8 312.4h1.2v1.2h-1.2zM115.6 318.2h1.2v1.2h-1.2zM113.1 309.4h1.2v1.2h-1.2zM118.7 311.9h1.2v1.2h-1.2zM93.2 323.2h1.2v1.2h-1.2zM92.0 314.0h1.2v1.2h-1.2zM93.9 329.0h1.2v1.2h-1.2zM105.9 326.5h1.2v1.2h-1.2zM94.4 312.2h1.2v1.2h-1.2zM108.7 332.0h1.2v1.2h-1.2zM117.2 330.8h1.2v1.2h-1.2zM98.3 324.1h1.2v1.2h-1.2zM104.9 331.2h1.2v1.2h-1.2zM99.0 329.3h1.2v1.2h-1.2zM120.4 317.6h1.2v1.2h-1.2zM97.7 323.5h1.2v1.2h-1.2zM114.9 317.6h1.2v1.2h-1.2zM118.9 331.6h1.2v1.2h-1.2zM104.9 328.3h1.2v1.2h-1.2zM111.2 333.8h1.2v1.2h-1.2zM109.9 327.5h1.2v1.2h-1.2zM112.4 322.3h1.2v1.2h-1.2zM110.5 313.4h1.2v1.2h-1.2zM115.8 308.8h1.2v1.2h-1.2zM107.3 330.1h1.2v1.2h-1.2zM119.7 314.5h1.2v1.2h-1.2zM120.8 321.1h1.2v1.2h-1.2zM101.9 311.8h1.2v1.2h-1.2zM97.8 314.8h1.2v1.2h-1.2zM95.0 320.2h1.2v1.2h-1.2zM88.4 319.9h1.2v1.2h-1.2zM104.4 311.0h1.2v1.2h-1.2zM116.4 322.9h1.2v1.2h-1.2zM110.4 327.5h1.2v1.2h-1.2zM93.8 309.6h1.2v1.2h-1.2zM99.0 313.5h1.2v1.2h-1.2zM111.6 310.8h1.2v1.2h-1.2zM101.6 315.2h1.2v1.2h-1.2zM116.7 330.7h1.2v1.2h-1.2zM108.8 327.0h1.2v1.2h-1.2zM95.0 318.8h1.2v1.2h-1.2zM116.1 313.5h1.2v1.2h-1.2zM97.6 312.9h1.2v1.2h-1.2zM109.3 321.1h1.2v1.2h-1.2zM93.2 327.1h1.2v1.2h-1.2zM101.8 317.8h1.2v1.2h-1.2zM111.7 328.0h1.2v1.2h-1.2zM116.7 307.9h1.2v1.2h-1.2zM113.7 322.3h1.2v1.2h-1.2zM96.9 313.7h1.2v1.2h-1.2zM103.7 319.5h1.2v1.2h-1.2zM100.2 329.0h1.2v1.2h-1.2zM111.7 331.6h1.2v1.2h-1.2zM120.6 318.2h1.2v1.2h-1.2zM90.8 324.2h1.2v1.2h-1.2zM115.0 316.7h1.2v1.2h-1.2zM106.3 309.6h1.2v1.2h-1.2zM119.6 333.4h1.2v1.2h-1.2zM112.2 317.6h1.2v1.2h-1.2zM119.1 331.4h1.2v1.2h-1.2zM102.8 319.1h1.2v1.2h-1.2zM110.7 328.7h1.2v1.2h-1.2zM89.3 313.6h1.2v1.2h-1.2zM99.7 313.7h1.2v1.2h-1.2zM98.6 325.0h1.2v1.2h-1.2zM106.2 326.7h1.2v1.2h-1.2zM111.0 326.6h1.2v1.2h-1.2zM93.3 314.6h1.2v1.2h-1.2zM109.2 317.3h1.2v1.2h-1.2zM113.6 320.1h1.2v1.2h-1.2zM97.3 319.5h1.2v1.2h-1.2zM93.4 321.4h1.2v1.2h-1.2zM100.8 314.5h1.2v1.2h-1.2zM117.2 333.8h1.2v1.2h-1.2zM102.3 314.4h1.2v1.2h-1.2zM103.5 309.1h1.2v1.2h-1.2zM101.2 332.1h1.2v1.2h-1.2zM118.6 326.1h1.2v1.2h-1.2zM113.1 316.1h1.2v1.2h-1.2zM119.6 321.9h1.2v1.2h-1.2zM118.1 330.4h1.2v1.2h-1.2zM103.9 325.1h1.2v1.2h-1.2zM113.6 311.3h1.2v1.2h-1.2zM111.9 322.2h1.2v1.2h-1.2zM106.6 312.2h1.2v1.2h-1.2zM107.7 318.3h1.2v1.2h-1.2zM93.8 325.2h1.2v1.2h-1.2zM109.4 313.0h1.2v1.2h-1.2zM94.9 324.7h1.2v1.2h-1.2zM110.6 320.1h1.2v1.2h-1.2zM100.2 323.7h1.2v1.2h-1.2zM96.6 325.8h1.2v1.2h-1.2zM112.7 324.1h1.2v1.2h-1.2zM94.7 323.6h1.2v1.2h-1.2zM101.7 333.0h1.2v1.2h-1.2zM95.2 317.0h1.2v1.2h-1.2zM109.1 312.8h1.2v1.2h-1.2zM117.3 329.9h1.2v1.2h-1.2zM93.5 319.2h1.2v1.2h-1.2zM121.5 331.5h1.2v1.2h-1.2zM101.2 322.0h1.2v1.2h-1.2zM111.6 330.8h1.2v1.2h-1.2zM91.7 315.8h1.2v1.2h-1.2zM94.4 317.7h1.2v1.2h-1.2zM107.1 327.0h1.2v1.2h-1.2zM119.7 323.9h1.2v1.2h-1.2zM92.8 321.6h1.2v1.2h-1.2zM106.1 316.9h1.2v1.2h-1.2zM113.3 314.1h1.2v1.2h-1.2zM113.6 310.7h1.2v1.2h-1.2zM115.4 310.5h1.2v1.2h-1.2zM92.2 317.8h1.2v1.2h-1.2zM114.0 327.1h1.2v1.2h-1.2zM115.8 316.5h1.2v1.2h-1.2zM110.0 318.6h1.2v1.2h-1.2zM110.3 323.5h1.2v1.2h-1.2zM97.5 323.3h1.2v1.2h-1.2zM89.3 311.7h1.2v1.2h-1.2zM117.2 307.3h1.2v1.2h-1.2zM103.2 309.9h1.2v1.2h-1.2zM93.8 311.3h1.2v1.2h-1.2zM112.9 325.5h1.2v1.2h-1.2zM114.7 329.1h1.2v1.2h-1.2zM108.7 308.6h1.2v1.2h-1.2zM101.7 324.6h1.2v1.2h-1.2zM108.0 313.9h1.2v1.2h-1.2zM91.4 322.5h1.2v1.2h-1.2zM98.8 329.6h1.2v1.2h-1.2zM121.7 323.5h1.2v1.2h-1.2zM117.2 308.4h1.2v1.2h-1.2zM112.8 325.3h1.2v1.2h-1.2zM104.2 310.9h1.2v1.2h-1.2zM94.6 317.4h1.2v1.2h-1.2zM93.6 321.2h1.2v1.2h-1.2zM95.1 313.2h1.2v1.2h-1.2zM94.3 311.9h1.2v1.2h-1.2zM95.5 317.2h1.2v1.2h-1.2zM91.3 317.7h1.2v1.2h-1.2zM95.4 321.7h1.2v1.2h-1.2zM90.9 314.9h1.2v1.2h-1.2zM89.0 320.4h1.2v1.2h-1.2zM150.5 320.8h1.2v1.2h-1.2zM143.4 339.6h1.2v1.2h-1.2zM128.9 311.3h1.2v1.2h-1.2zM150.1 331.5h1.2v1.2h-1.2zM139.3 315.3h1.2v1.2h-1.2zM128.2 322.8h1.2v1.2h-1.2zM143.2 328.2h1.2v1.2h-1.2zM141.6 316.7h1.2v1.2h-1.2zM143.6 329.0h1.2v1.2h-1.2zM145.2 334.6h1.2v1.2h-1.2zM134.7 317.5h1.2v1.2h-1.2zM148.7 328.8h1.2v1.2h-1.2zM148.8 338.5h1.2v1.2h-1.2zM138.7 313.7h1.2v1.2h-1.2zM122.4 321.3h1.2v1.2h-1.2zM135.8 328.9h1.2v1.2h-1.2zM131.7 315.2h1.2v1.2h-1.2zM139.6 321.6h1.2v1.2h-1.2zM124.8 319.1h1.2v1.2h-1.2zM123.3 331.4h1.2v1.2h-1.2zM125.7 312.6h1.2v1.2h-1.2zM126.9 315.5h1.2v1.2h-1.2zM145.1 317.5h1.2v1.2h-1.2zM139.0 314.7h1.2v1.2h-1.2zM143.5 325.9h1.2v1.2h-1.2zM132.3 319.3h1.2v1.2h-1.2zM142.5 328.9h1.2v1.2h-1.2zM122.3 311.1h1.2v1.2h-1.2zM128.5 318.6h1.2v1.2h-1.2zM129.3 319.3h1.2v1.2h-1.2zM146.7 325.3h1.2v1.2h-1.2zM129.7 317.1h1.2v1.2h-1.2zM130.2 320.5h1.2v1.2h-1.2zM149.4 310.0h1.2v1.2h-1.2zM137.6 329.5h1.2v1.2h-1.2zM149.7 309.2h1.2v1.2h-1.2zM123.4 307.5h1.2v1.2h-1.2zM142.3 334.1h1.2v1.2h-1.2zM143.5 323.5h1.2v1.2h-1.2zM149.1 322.4h1.2v1.2h-1.2zM137.3 337.1h1.2v1.2h-1.2zM123.7 326.2h1.2v1.2h-1.2zM134.5 327.2h1.2v1.2h-1.2zM134.8 312.3h1.2v1.2h-1.2zM141.6 310.8h1.2v1.2h-1.2zM140.6 332.4h1.2v1.2h-1.2zM144.0 336.5h1.2v1.2h-1.2zM125.6 328.2h1.2v1.2h-1.2zM135.4 319.9h1.2v1.2h-1.2zM140.9 333.1h1.2v1.2h-1.2zM125.5 309.0h1.2v1.2h-1.2zM147.1 337.4h1.2v1.2h-1.2zM149.1 339.3h1.2v1.2h-1.2zM131.9 318.0h1.2v1.2h-1.2zM126.8 327.8h1.2v1.2h-1.2zM131.5 329.3h1.2v1.2h-1.2zM133.5 334.5h1.2v1.2h-1.2zM145.9 320.9h1.2v1.2h-1.2zM123.1 320.6h1.2v1.2h-1.2zM133.6 330.0h1.2v1.2h-1.2zM140.1 321.2h1.2v1.2h-1.2zM147.0 327.4h1.2v1.2h-1.2zM133.3 309.3h1.2v1.2h-1.2zM146.4 327.5h1.2v1.2h-1.2zM138.9 321.4h1.2v1.2h-1.2zM143.3 319.8h1.2v1.2h-1.2zM142.2 311.0h1.2v1.2h-1.2zM140.4 328.9h1.2v1.2h-1.2zM136.6 337.7h1.2v1.2h-1.2zM140.1 311.5h1.2v1.2h-1.2zM148.2 316.1h1.2v1.2h-1.2zM137.1 314.7h1.2v1.2h-1.2zM150.5 321.6h1.2v1.2h-1.2zM127.8 331.0h1.2v1.2h-1.2zM150.5 330.8h1.2v1.2h-1.2zM123.1 318.3h1.2v1.2h-1.2zM146.9 321.6h1.2v1.2h-1.2zM131.7 316.0h1.2v1.2h-1.2zM128.9 308.2h1.2v1.2h-1.2zM145.2 308.2h1.2v1.2h-1.2zM147.6 324.7h1.2v1.2h-1.2zM128.5 324.0h1.2v1.2h-1.2zM126.6 322.6h1.2v1.2h-1.2zM141.5 327.8h1.2v1.2h-1.2zM147.2 325.1h1.2v1.2h-1.2zM131.2 324.5h1.2v1.2h-1.2zM144.9 312.7h1.2v1.2h-1.2zM126.9 314.5h1.2v1.2h-1.2zM125.6 309.6h1.2v1.2h-1.2zM149.7 330.8h1.2v1.2h-1.2zM150.4 320.3h1.2v1.2h-1.2zM140.1 334.6h1.2v1.2h-1.2zM141.0 337.6h1.2v1.2h-1.2zM142.1 322.4h1.2v1.2h-1.2zM146.0 321.4h1.2v1.2h-1.2zM128.7 320.8h1.2v1.2h-1.2zM149.2 336.0h1.2v1.2h-1.2zM124.8 332.2h1.2v1.2h-1.2zM142.1 339.3h1.2v1.2h-1.2zM142.2 313.0h1.2v1.2h-1.2zM132.6 332.0h1.2v1.2h-1.2zM150.1 336.9h1.2v1.2h-1.2zM123.1 310.8h1.2v1.2h-1.2zM135.1 317.8h1.2v1.2h-1.2zM153.1 331.1h1.2v1.2h-1.2zM164.2 327.4h1.2v1.2h-1.2zM160.1 311.2h1.2v1.2h-1.2zM146.1 310.9h1.2v1.2h-1.2zM155.8 335.6h1.2v1.2h-1.2zM165.3 323.2h1.2v1.2h-1.2zM146.7 339.9h1.2v1.2h-1.2zM147.2 327.7h1.2v1.2h-1.2zM153.9 329.9h1.2v1.2h-1.2zM148.1 332.0h1.2v1.2h-1.2zM158.4 324.1h1.2v1.2h-1.2zM162.9 339.9h1.2v1.2h-1.2zM164.3 338.7h1.2v1.2h-1.2zM154.1 319.6h1.2v1.2h-1.2zM163.9 317.7h1.2v1.2h-1.2zM150.4 336.9h1.2v1.2h-1.2zM162.5 314.7h1.2v1.2h-1.2zM164.9 323.0h1.2v1.2h-1.2zM151.5 337.9h1.2v1.2h-1.2zM155.2 326.6h1.2v1.2h-1.2zM160.1 339.7h1.2v1.2h-1.2zM164.5 327.5h1.2v1.2h-1.2zM149.2 324.4h1.2v1.2h-1.2zM160.8 334.3h1.2v1.2h-1.2zM162.1 324.1h1.2v1.2h-1.2zM155.0 314.6h1.2v1.2h-1.2zM154.7 325.4h1.2v1.2h-1.2zM151.4 319.6h1.2v1.2h-1.2zM164.6 324.1h1.2v1.2h-1.2zM150.6 330.4h1.2v1.2h-1.2zM157.3 335.5h1.2v1.2h-1.2zM158.3 314.6h1.2v1.2h-1.2zM162.1 319.6h1.2v1.2h-1.2zM153.8 337.9h1.2v1.2h-1.2zM165.1 336.9h1.2v1.2h-1.2zM162.4 336.2h1.2v1.2h-1.2zM159.3 321.0h1.2v1.2h-1.2zM146.7 311.6h1.2v1.2h-1.2zM148.9 327.8h1.2v1.2h-1.2zM148.3 310.3h1.2v1.2h-1.2zM154.7 319.7h1.2v1.2h-1.2zM160.9 321.8h1.2v1.2h-1.2zM165.7 335.7h1.2v1.2h-1.2zM151.8 324.7h1.2v1.2h-1.2zM149.4 329.9h1.2v1.2h-1.2zM148.8 332.7h1.2v1.2h-1.2zM150.3 325.8h1.2v1.2h-1.2zM163.3 317.9h1.2v1.2h-1.2zM151.5 310.0h1.2v1.2h-1.2zM165.9 314.0h1.2v1.2h-1.2zM164.7 333.0h1.2v1.2h-1.2zM153.4 336.8h1.2v1.2h-1.2zM152.2 331.8h1.2v1.2h-1.2zM164.4 331.9h1.2v1.2h-1.2zM161.6 333.2h1.2v1.2h-1.2zM162.9 315.5h1.2v1.2h-1.2zM163.4 336.6h1.2v1.2h-1.2zM151.2 335.4h1.2v1.2h-1.2zM159.0 333.9h1.2v1.2h-1.2zM157.5 334.5h1.2v1.2h-1.2zM160.7 313.3h1.2v1.2h-1.2zM149.2 336.3h1.2v1.2h-1.2zM158.9 336.4h1.2v1.2h-1.2zM153.1 338.6h1.2v1.2h-1.2zM156.6 321.6h1.2v1.2h-1.2zM150.2 318.5h1.2v1.2h-1.2zM149.4 322.8h1.2v1.2h-1.2zM163.3 320.8h1.2v1.2h-1.2zM154.0 320.5h1.2v1.2h-1.2zM163.3 336.6h1.2v1.2h-1.2zM158.8 318.0h1.2v1.2h-1.2zM149.8 333.3h1.2v1.2h-1.2zM156.3 317.2h1.2v1.2h-1.2zM159.5 314.5h1.2v1.2h-1.2zM146.1 317.3h1.2v1.2h-1.2zM163.4 321.9h1.2v1.2h-1.2zM146.7 309.3h1.2v1.2h-1.2zM147.2 330.4h1.2v1.2h-1.2zM159.3 327.0h1.2v1.2h-1.2zM165.1 331.7h1.2v1.2h-1.2zM162.5 338.5h1.2v1.2h-1.2zM156.8 316.9h1.2v1.2h-1.2zM146.7 323.1h1.2v1.2h-1.2zM163.1 338.1h1.2v1.2h-1.2zM158.2 337.3h1.2v1.2h-1.2zM148.8 319.6h1.2v1.2h-1.2zM158.6 333.9h1.2v1.2h-1.2zM149.2 317.1h1.2v1.2h-1.2zM165.6 328.0h1.2v1.2h-1.2zM146.5 339.0h1.2v1.2h-1.2zM152.9 316.8h1.2v1.2h-1.2zM164.4 317.9h1.2v1.2h-1.2zM155.0 335.9h1.2v1.2h-1.2zM149.0 312.0h1.2v1.2h-1.2zM158.0 315.4h1.2v1.2h-1.2zM161.7 312.2h1.2v1.2h-1.2zM134.0 325.7h1.2v1.2h-1.2zM139.9 313.1h1.2v1.2h-1.2zM144.8 323.4h1.2v1.2h-1.2zM144.5 322.3h1.2v1.2h-1.2zM139.4 327.2h1.2v1.2h-1.2zM139.2 314.5h1.2v1.2h-1.2zM140.5 325.9h1.2v1.2h-1.2zM132.9 324.3h1.2v1.2h-1.2zM133.1 314.6h1.2v1.2h-1.2zM129.5 323.7h1.2v1.2h-1.2zM144.9 324.2h1.2v1.2h-1.2zM129.1 319.3h1.2v1.2h-1.2zM134.1 316.0h1.2v1.2h-1.2zM131.1 315.3h1.2v1.2h-1.2zM133.3 327.2h1.2v1.2h-1.2zM138.0 314.8h1.2v1.2h-1.2zM130.9 314.5h1.2v1.2h-1.2zM140.2 313.3h1.2v1.2h-1.2zM136.4 318.4h1.2v1.2h-1.2zM137.4 315.7h1.2v1.2h-1.2zM134.0 316.6h1.2v1.2h-1.2zM129.2 328.6h1.2v1.2h-1.2zM137.3 328.6h1.2v1.2h-1.2zM135.8 310.5h1.2v1.2h-1.2zM139.0 309.9h1.2v1.2h-1.2zM133.0 320.8h1.2v1.2h-1.2zM137.2 323.8h1.2v1.2h-1.2zM137.7 323.0h1.2v1.2h-1.2zM127.3 315.0h1.2v1.2h-1.2zM132.7 315.6h1.2v1.2h-1.2zM130.1 310.8h1.2v1.2h-1.2zM124.9 315.6h1.2v1.2h-1.2zM130.1 327.6h1.2v1.2h-1.2zM144.4 320.2h1.2v1.2h-1.2zM127.7 317.1h1.2v1.2h-1.2zM142.8 320.3h1.2v1.2h-1.2zM124.7 320.1h1.2v1.2h-1.2zM99.8 334.8h1.2v1.2h-1.2zM120.9 344.2h1.2v1.2h-1.2zM99.4 332.5h1.2v1.2h-1.2zM123.0 342.6h1.2v1.2h-1.2zM108.0 346.7h1.2v1.2h-1.2zM118.5 340.6h1.2v1.2h-1.2zM107.8 332.3h1.2v1.2h-1.2zM134.5 345.2h1.2v1.2h-1.2zM125.8 344.0h1.2v1.2h-1.2zM103.5 338.4h1.2v1.2h-1.2zM139.0 339.7h1.2v1.2h-1.2zM119.2 348.8h1.2v1.2h-1.2zM115.5 344.2h1.2v1.2h-1.2zM101.4 350.3h1.2v1.2h-1.2zM122.6 344.5h1.2v1.2h-1.2zM118.5 342.2h1.2v1.2h-1.2zM101.2 351.5h1.2v1.2h-1.2zM124.3 344.6h1.2v1.2h-1.2zM103.1 337.5h1.2v1.2h-1.2zM110.4 348.7h1.2v1.2h-1.2zM139.4 342.6h1.2v1.2h-1.2zM113.9 342.8h1.2v1.2h-1.2zM106.8 339.8h1.2v1.2h-1.2zM106.2 332.8h1.2v1.2h-1.2zM135.3 344.1h1.2v1.2h-1.2zM110.0 342.2h1.2v1.2h-1.2zM98.4 336.5h1.2v1.2h-1.2zM133.3 339.5h1.2v1.2h-1.2zM110.2 339.8h1.2v1.2h-1.2zM103.5 349.9h1.2v1.2h-1.2zM106.1 337.7h1.2v1.2h-1.2zM107.2 338.9h1.2v1.2h-1.2zM119.3 348.8h1.2v1.2h-1.2zM126.1 342.4h1.2v1.2h-1.2zM96.6 335.4h1.2v1.2h-1.2zM98.9 336.4h1.2v1.2h-1.2zM103.8 338.9h1.2v1.2h-1.2zM130.8 342.5h1.2v1.2h-1.2zM113.7 337.7h1.2v1.2h-1.2zM99.0 334.1h1.2v1.2h-1.2zM111.9 340.3h1.2v1.2h-1.2zM115.5 349.1h1.2v1.2h-1.2zM107.5 353.2h1.2v1.2h-1.2zM109.3 348.8h1.2v1.2h-1.2zM116.5 351.1h1.2v1.2h-1.2zM105.6 338.1h1.2v1.2h-1.2zM102.7 338.8h1.2v1.2h-1.2zM113.1 343.7h1.2v1.2h-1.2zM130.6 342.5h1.2v1.2h-1.2zM129.4 343.1h1.2v1.2h-1.2zM98.0 336.2h1.2v1.2h-1.2zM134.6 342.8h1.2v1.2h-1.2zM97.2 340.7h1.2v1.2h-1.2zM122.3 347.4h1.2v1.2h-1.2zM132.9 341.3h1.2v1.2h-1.2zM112.7 338.4h1.2v1.2h-1.2zM135.8 342.9h1.2v1.2h-1.2zM125.2 348.7h1.2v1.2h-1.2zM132.2 340.5h1.2v1.2h-1.2zM103.3 335.7h1.2v1.2h-1.2zM131.2 345.0h1.2v1.2h-1.2zM125.2 341.4h1.2v1.2h-1.2zM117.4 334.3h1.2v1.2h-1.2zM121.1 350.3h1.2v1.2h-1.2zM132.2 347.7h1.2v1.2h-1.2zM110.5 349.7h1.2v1.2h-1.2zM138.6 343.1h1.2v1.2h-1.2zM99.3 337.1h1.2v1.2h-1.2zM140.7 344.1h1.2v1.2h-1.2zM123.2 347.5h1.2v1.2h-1.2zM102.5 334.8h1.2v1.2h-1.2zM121.6 346.0h1.2v1.2h-1.2zM117.8 345.8h1.2v1.2h-1.2zM148.5 306.7h1.2v1.2h-1.2zM155.1 302.1h1.2v1.2h-1.2zM150.2 291.9h1.2v1.2h-1.2zM151.2 302.5h1.2v1.2h-1.2zM152.6 292.7h1.2v1.2h-1.2zM152.3 306.5h1.2v1.2h-1.2zM153.0 300.6h1.2v1.2h-1.2zM153.7 292.3h1.2v1.2h-1.2zM157.7 302.8h1.2v1.2h-1.2zM183.1 319.6h1.2v1.2h-1.2zM183.0 331.0h1.2v1.2h-1.2zM172.6 320.9h1.2v1.2h-1.2zM166.6 328.0h1.2v1.2h-1.2zM161.0 316.7h1.2v1.2h-1.2zM187.0 315.9h1.2v1.2h-1.2zM160.9 320.9h1.2v1.2h-1.2zM162.5 321.6h1.2v1.2h-1.2zM184.5 338.5h1.2v1.2h-1.2zM178.8 320.2h1.2v1.2h-1.2zM162.8 325.5h1.2v1.2h-1.2zM168.6 324.6h1.2v1.2h-1.2zM169.2 328.4h1.2v1.2h-1.2zM165.6 314.1h1.2v1.2h-1.2zM183.0 327.4h1.2v1.2h-1.2zM178.7 327.8h1.2v1.2h-1.2zM159.2 330.7h1.2v1.2h-1.2zM177.4 326.7h1.2v1.2h-1.2zM185.1 330.0h1.2v1.2h-1.2zM178.2 330.8h1.2v1.2h-1.2zM176.8 316.3h1.2v1.2h-1.2zM171.3 316.0h1.2v1.2h-1.2zM160.3 324.9h1.2v1.2h-1.2zM177.6 335.0h1.2v1.2h-1.2zM185.0 336.9h1.2v1.2h-1.2zM161.7 340.2h1.2v1.2h-1.2zM181.6 336.8h1.2v1.2h-1.2zM187.4 333.9h1.2v1.2h-1.2zM167.6 331.4h1.2v1.2h-1.2zM178.8 321.5h1.2v1.2h-1.2zM167.1 318.4h1.2v1.2h-1.2zM167.8 317.0h1.2v1.2h-1.2zM173.6 321.9h1.2v1.2h-1.2zM181.6 323.1h1.2v1.2h-1.2zM179.1 315.6h1.2v1.2h-1.2zM180.4 327.5h1.2v1.2h-1.2zM186.5 336.9h1.2v1.2h-1.2zM160.5 316.3h1.2v1.2h-1.2zM173.4 316.5h1.2v1.2h-1.2zM186.2 317.5h1.2v1.2h-1.2zM187.4 327.5h1.2v1.2h-1.2zM176.4 320.7h1.2v1.2h-1.2zM188.3 334.9h1.2v1.2h-1.2zM184.2 332.4h1.2v1.2h-1.2zM176.3 316.3h1.2v1.2h-1.2zM187.6 334.4h1.2v1.2h-1.2zM179.4 335.9h1.2v1.2h-1.2zM173.4 329.5h1.2v1.2h-1.2zM168.1 324.5h1.2v1.2h-1.2zM176.5 321.5h1.2v1.2h-1.2zM157.6 317.2h1.2v1.2h-1.2zM185.5 327.7h1.2v1.2h-1.2zM184.2 327.7h1.2v1.2h-1.2zM163.0 336.7h1.2v1.2h-1.2zM168.8 333.6h1.2v1.2h-1.2zM165.1 323.2h1.2v1.2h-1.2zM186.3 321.4h1.2v1.2h-1.2zM163.9 329.9h1.2v1.2h-1.2zM188.2 329.3h1.2v1.2h-1.2zM159.1 320.5h1.2v1.2h-1.2zM176.5 316.1h1.2v1.2h-1.2zM178.8 330.6h1.2v1.2h-1.2zM179.0 332.6h1.2v1.2h-1.2zM185.0 327.7h1.2v1.2h-1.2zM178.3 336.6h1.2v1.2h-1.2zM160.8 336.6h1.2v1.2h-1.2zM179.8 326.9h1.2v1.2h-1.2zM174.5 325.3h1.2v1.2h-1.2zM157.0 315.3h1.2v1.2h-1.2zM178.9 326.5h1.2v1.2h-1.2zM168.6 323.2h1.2v1.2h-1.2zM180.6 327.0h1.2v1.2h-1.2zM165.0 330.4h1.2v1.2h-1.2zM181.8 330.4h1.2v1.2h-1.2zM164.5 326.8h1.2v1.2h-1.2zM187.2 316.3h1.2v1.2h-1.2zM170.1 338.3h1.2v1.2h-1.2zM186.0 336.2h1.2v1.2h-1.2zM185.9 323.8h1.2v1.2h-1.2zM167.1 328.5h1.2v1.2h-1.2zM157.5 320.7h1.2v1.2h-1.2zM159.0 315.2h1.2v1.2h-1.2zM165.9 340.2h1.2v1.2h-1.2zM169.5 317.7h1.2v1.2h-1.2zM180.3 330.8h1.2v1.2h-1.2zM179.6 330.4h1.2v1.2h-1.2zM174.5 326.4h1.2v1.2h-1.2zM181.7 329.3h1.2v1.2h-1.2z"/>
<path fill="#8ee03a" d="M191.0 168.6h1.2v1.2h-1.2zM160.8 101.0h1.2v1.2h-1.2zM193.4 281.2h1.2v1.2h-1.2zM147.0 226.8h1.2v1.2h-1.2zM221.9 191.0h1.2v1.2h-1.2zM83.2 154.4h1.2v1.2h-1.2zM133.1 152.9h1.2v1.2h-1.2zM135.8 165.8h1.2v1.2h-1.2zM267.0 98.0h1.2v1.2h-1.2zM154.3 293.4h1.2v1.2h-1.2zM128.5 266.4h1.2v1.2h-1.2zM146.8 316.0h1.2v1.2h-1.2zM191.0 71.3h1.2v1.2h-1.2zM182.0 82.0h1.2v1.2h-1.2zM144.7 133.9h1.2v1.2h-1.2zM106.3 144.4h1.2v1.2h-1.2zM230.8 60.6h1.2v1.2h-1.2zM264.4 130.0h1.2v1.2h-1.2zM99.9 102.5h1.2v1.2h-1.2zM149.1 128.9h1.2v1.2h-1.2zM182.2 201.3h1.2v1.2h-1.2zM184.0 307.6h1.2v1.2h-1.2zM78.5 191.7h1.2v1.2h-1.2zM178.3 316.2h1.2v1.2h-1.2zM164.7 84.9h1.2v1.2h-1.2zM53.3 93.2h1.2v1.2h-1.2zM161.9 174.4h1.2v1.2h-1.2zM114.7 181.1h1.2v1.2h-1.2zM90.0 196.3h1.2v1.2h-1.2zM164.2 325.4h1.2v1.2h-1.2zM161.5 162.3h1.2v1.2h-1.2zM136.9 114.3h1.2v1.2h-1.2zM114.2 294.2h1.2v1.2h-1.2zM99.9 202.3h1.2v1.2h-1.2zM74.3 189.5h1.2v1.2h-1.2zM183.2 195.1h1.2v1.2h-1.2zM145.0 325.6h1.2v1.2h-1.2zM159.2 324.4h1.2v1.2h-1.2zM173.5 173.6h1.2v1.2h-1.2zM63.3 88.1h1.2v1.2h-1.2zM212.9 175.4h1.2v1.2h-1.2zM224.1 134.9h1.2v1.2h-1.2zM76.6 86.5h1.2v1.2h-1.2zM79.1 132.3h1.2v1.2h-1.2zM66.2 164.5h1.2v1.2h-1.2zM215.3 59.7h1.2v1.2h-1.2zM235.1 127.1h1.2v1.2h-1.2zM120.4 345.3h1.2v1.2h-1.2zM64.0 166.5h1.2v1.2h-1.2zM149.8 104.5h1.2v1.2h-1.2zM155.9 92.8h1.2v1.2h-1.2zM62.1 194.5h1.2v1.2h-1.2zM57.1 165.0h1.2v1.2h-1.2zM135.0 122.2h1.2v1.2h-1.2zM150.9 332.3h1.2v1.2h-1.2zM249.8 64.6h1.2v1.2h-1.2zM47.9 104.5h1.2v1.2h-1.2zM198.3 197.4h1.2v1.2h-1.2zM81.7 170.4h1.2v1.2h-1.2zM106.9 122.3h1.2v1.2h-1.2zM108.7 176.6h1.2v1.2h-1.2zM200.5 287.8h1.2v1.2h-1.2zM101.6 223.6h1.2v1.2h-1.2zM121.6 220.7h1.2v1.2h-1.2zM80.5 140.0h1.2v1.2h-1.2zM121.0 188.6h1.2v1.2h-1.2zM68.1 188.4h1.2v1.2h-1.2zM48.0 120.9h1.2v1.2h-1.2zM157.3 131.3h1.2v1.2h-1.2zM147.5 130.5h1.2v1.2h-1.2zM131.4 92.5h1.2v1.2h-1.2zM75.0 95.5h1.2v1.2h-1.2zM209.4 294.9h1.2v1.2h-1.2zM210.3 171.9h1.2v1.2h-1.2zM133.8 163.7h1.2v1.2h-1.2zM96.7 275.8h1.2v1.2h-1.2zM246.5 81.4h1.2v1.2h-1.2zM146.6 163.3h1.2v1.2h-1.2zM118.3 150.2h1.2v1.2h-1.2zM104.2 77.6h1.2v1.2h-1.2zM171.0 230.4h1.2v1.2h-1.2zM108.3 278.3h1.2v1.2h-1.2zM148.8 163.9h1.2v1.2h-1.2zM98.5 209.5h1.2v1.2h-1.2zM57.5 142.6h1.2v1.2h-1.2zM191.0 82.8h1.2v1.2h-1.2zM170.6 81.7h1.2v1.2h-1.2zM177.0 89.5h1.2v1.2h-1.2zM160.3 90.2h1.2v1.2h-1.2zM160.6 96.1h1.2v1.2h-1.2zM190.4 80.7h1.2v1.2h-1.2zM164.2 88.9h1.2v1.2h-1.2zM178.8 76.6h1.2v1.2h-1.2zM177.3 91.6h1.2v1.2h-1.2zM175.2 94.8h1.2v1.2h-1.2zM173.2 85.8h1.2v1.2h-1.2zM197.5 80.9h1.2v1.2h-1.2zM194.5 77.1h1.2v1.2h-1.2zM163.0 94.8h1.2v1.2h-1.2zM166.8 87.1h1.2v1.2h-1.2zM175.4 93.5h1.2v1.2h-1.2zM195.7 81.0h1.2v1.2h-1.2zM161.7 101.4h1.2v1.2h-1.2zM190.0 76.0h1.2v1.2h-1.2zM171.5 88.5h1.2v1.2h-1.2zM173.4 85.2h1.2v1.2h-1.2zM184.7 77.3h1.2v1.2h-1.2zM171.3 89.2h1.2v1.2h-1.2zM203.6 73.5h1.2v1.2h-1.2zM209.4 70.5h1.2v1.2h-1.2zM205.1 79.0h1.2v1.2h-1.2zM218.5 59.5h1.2v1.2h-1.2zM211.6 79.8h1.2v1.2h-1.2zM204.2 79.2h1.2v1.2h-1.2zM203.7 81.5h1.2v1.2h-1.2zM224.9 66.5h1.2v1.2h-1.2zM238.6 63.9h1.2v1.2h-1.2zM248.5 67.8h1.2v1.2h-1.2zM214.8 80.8h1.2v1.2h-1.2zM240.7 69.5h1.2v1.2h-1.2zM233.4 80.8h1.2v1.2h-1.2zM246.3 71.3h1.2v1.2h-1.2zM236.4 65.5h1.2v1.2h-1.2zM229.4 76.9h1.2v1.2h-1.2zM236.1 68.9h1.2v1.2h-1.2zM230.8 81.8h1.2v1.2h-1.2zM217.3 62.2h1.2v1.2h-1.2zM234.4 58.8h1.2v1.2h-1.2zM228.7 59.0h1.2v1.2h-1.2zM243.2 59.3h1.2v1.2h-1.2zM238.9 61.1h1.2v1.2h-1.2zM242.9 59.2h1.2v1.2h-1.2zM236.7 60.0h1.2v1.2h-1.2zM231.4 62.9h1.2v1.2h-1.2zM232.0 58.7h1.2v1.2h-1.2zM228.1 59.7h1.2v1.2h-1.2zM237.6 64.5h1.2v1.2h-1.2zM247.3 84.5h1.2v1.2h-1.2zM255.3 84.1h1.2v1.2h-1.2zM267.3 83.1h1.2v1.2h-1.2zM251.0 80.4h1.2v1.2h-1.2zM266.4 79.2h1.2v1.2h-1.2zM261.3 67.3h1.2v1.2h-1.2zM262.8 75.0h1.2v1.2h-1.2zM254.9 66.6h1.2v1.2h-1.2zM251.0 98.1h1.2v1.2h-1.2zM248.7 100.4h1.2v1.2h-1.2zM262.1 78.8h1.2v1.2h-1.2zM255.5 81.9h1.2v1.2h-1.2zM268.2 91.6h1.2v1.2h-1.2zM259.4 104.0h1.2v1.2h-1.2zM260.4 79.6h1.2v1.2h-1.2zM256.7 68.2h1.2v1.2h-1.2zM260.5 95.5h1.2v1.2h-1.2zM262.1 101.3h1.2v1.2h-1.2zM251.0 104.9h1.2v1.2h-1.2zM247.5 93.5h1.2v1.2h-1.2zM251.6 70.2h1.2v1.2h-1.2zM251.3 95.3h1.2v1.2h-1.2zM265.6 92.1h1.2v1.2h-1.2zM256.7 88.8h1.2v1.2h-1.2zM269.6 105.6h1.2v1.2h-1.2zM262.5 94.6h1.2v1.2h-1.2zM245.6 69.6h1.2v1.2h-1.2zM260.3 96.1h1.2v1.2h-1.2zM265.0 106.5h1.2v1.2h-1.2zM260.9 111.1h1.2v1.2h-1.2zM258.2 108.6h1.2v1.2h-1.2zM265.8 111.7h1.2v1.2h-1.2zM261.0 109.8h1.2v1.2h-1.2zM264.3 106.2h1.2v1.2h-1.2zM264.7 103.2h1.2v1.2h-1.2zM260.4 110.5h1.2v1.2h-1.2zM262.6 82.0h1.2v1.2h-1.2zM251.3 67.5h1.2v1.2h-1.2zM265.5 87.3h1.2v1.2h-1.2zM253.4 62.5h1.2v1.2h-1.2zM244.8 71.8h1.2v1.2h-1.2zM267.7 94.6h1.2v1.2h-1.2zM255.2 99.6h1.2v1.2h-1.2zM270.2 95.6h1.2v1.2h-1.2zM245.4 72.7h1.2v1.2h-1.2zM264.5 88.5h1.2v1.2h-1.2zM242.4 61.7h1.2v1.2h-1.2zM261.3 99.2h1.2v1.2h-1.2zM264.0 59.2h1.2v1.2h-1.2zM249.3 89.3h1.2v1.2h-1.2zM262.0 88.8h1.2v1.2h-1.2zM242.8 62.8h1.2v1.2h-1.2zM251.9 84.4h1.2v1.2h-1.2zM261.7 67.4h1.2v1.2h-1.2zM255.7 99.7h1.2v1.2h-1.2zM263.8 81.5h1.2v1.2h-1.2zM261.3 61.5h1.2v1.2h-1.2zM272.8 93.5h1.2v1.2h-1.2zM269.8 91.2h1.2v1.2h-1.2zM271.6 75.7h1.2v1.2h-1.2zM263.6 63.4h1.2v1.2h-1.2zM247.3 73.3h1.2v1.2h-1.2zM261.3 80.8h1.2v1.2h-1.2zM267.1 73.7h1.2v1.2h-1.2zM261.8 67.7h1.2v1.2h-1.2zM261.0 69.8h1.2v1.2h-1.2zM258.5 62.5h1.2v1.2h-1.2zM269.6 88.2h1.2v1.2h-1.2zM259.9 61.0h1.2v1.2h-1.2zM267.3 59.3h1.2v1.2h-1.2zM178.3 141.8h1.2v1.2h-1.2zM152.9 124.0h1.2v1.2h-1.2zM155.4 126.5h1.2v1.2h-1.2zM147.1 108.5h1.2v1.2h-1.2zM165.9 108.3h1.2v1.2h-1.2zM161.6 137.5h1.2v1.2h-1.2zM185.8 137.1h1.2v1.2h-1.2zM165.9 147.7h1.2v1.2h-1.2zM184.6 140.8h1.2v1.2h-1.2zM192.5 144.8h1.2v1.2h-1.2zM185.2 140.4h1.2v1.2h-1.2zM170.8 115.7h1.2v1.2h-1.2zM169.2 128.0h1.2v1.2h-1.2zM167.9 123.4h1.2v1.2h-1.2zM165.8 127.1h1.2v1.2h-1.2zM170.0 130.2h1.2v1.2h-1.2zM169.8 129.0h1.2v1.2h-1.2zM168.6 129.8h1.2v1.2h-1.2zM169.5 125.3h1.2v1.2h-1.2zM170.3 127.7h1.2v1.2h-1.2zM170.7 124.6h1.2v1.2h-1.2zM166.7 123.0h1.2v1.2h-1.2zM170.0 128.5h1.2v1.2h-1.2zM167.3 124.1h1.2v1.2h-1.2zM165.9 129.4h1.2v1.2h-1.2zM172.5 128.4h1.2v1.2h-1.2zM165.4 123.9h1.2v1.2h-1.2zM171.3 127.1h1.2v1.2h-1.2zM168.0 128.1h1.2v1.2h-1.2zM168.1 126.3h1.2v1.2h-1.2zM166.7 129.8h1.2v1.2h-1.2zM164.7 124.5h1.2v1.2h-1.2zM167.4 128.7h1.2v1.2h-1.2zM169.2 123.9h1.2v1.2h-1.2zM170.0 131.3h1.2v1.2h-1.2zM167.0 128.2h1.2v1.2h-1.2zM168.4 127.6h1.2v1.2h-1.2zM165.1 127.4h1.2v1.2h-1.2zM167.8 131.0h1.2v1.2h-1.2zM168.0 125.5h1.2v1.2h-1.2zM169.0 126.3h1.2v1.2h-1.2zM168.5 127.8h1.2v1.2h-1.2zM180.3 151.3h1.2v1.2h-1.2zM193.1 170.7h1.2v1.2h-1.2zM160.6 159.2h1.2v1.2h-1.2zM190.4 168.5h1.2v1.2h-1.2zM193.9 156.6h1.2v1.2h-1.2zM183.5 156.6h1.2v1.2h-1.2zM203.6 168.9h1.2v1.2h-1.2zM181.0 158.7h1.2v1.2h-1.2zM221.2 165.4h1.2v1.2h-1.2zM175.0 151.7h1.2v1.2h-1.2zM159.4 154.2h1.2v1.2h-1.2zM198.1 169.0h1.2v1.2h-1.2zM201.4 171.5h1.2v1.2h-1.2zM211.0 194.7h1.2v1.2h-1.2zM201.8 192.2h1.2v1.2h-1.2zM210.0 195.7h1.2v1.2h-1.2zM208.3 189.9h1.2v1.2h-1.2zM213.7 194.6h1.2v1.2h-1.2zM203.2 190.4h1.2v1.2h-1.2zM206.0 191.7h1.2v1.2h-1.2zM209.7 190.9h1.2v1.2h-1.2zM205.7 190.7h1.2v1.2h-1.2zM205.4 192.3h1.2v1.2h-1.2zM204.3 192.1h1.2v1.2h-1.2zM186.4 197.3h1.2v1.2h-1.2zM184.4 178.6h1.2v1.2h-1.2zM192.4 200.5h1.2v1.2h-1.2zM183.0 194.0h1.2v1.2h-1.2zM208.3 196.8h1.2v1.2h-1.2zM178.2 193.6h1.2v1.2h-1.2zM183.7 176.2h1.2v1.2h-1.2zM205.4 192.2h1.2v1.2h-1.2zM188.4 181.9h1.2v1.2h-1.2zM207.6 197.6h1.2v1.2h-1.2zM159.5 194.6h1.2v1.2h-1.2zM175.9 188.4h1.2v1.2h-1.2zM169.3 180.8h1.2v1.2h-1.2zM152.1 177.8h1.2v1.2h-1.2zM157.5 187.8h1.2v1.2h-1.2zM173.8 183.7h1.2v1.2h-1.2zM194.2 187.6h1.2v1.2h-1.2zM175.7 179.9h1.2v1.2h-1.2zM157.4 171.3h1.2v1.2h-1.2zM205.2 197.7h1.2v1.2h-1.2zM186.2 186.1h1.2v1.2h-1.2zM194.6 184.2h1.2v1.2h-1.2zM181.3 188.0h1.2v1.2h-1.2zM186.6 179.4h1.2v1.2h-1.2zM208.4 192.1h1.2v1.2h-1.2zM171.2 198.1h1.2v1.2h-1.2zM165.3 187.9h1.2v1.2h-1.2zM206.3 195.7h1.2v1.2h-1.2zM178.7 199.9h1.2v1.2h-1.2zM197.1 188.5h1.2v1.2h-1.2zM199.4 194.6h1.2v1.2h-1.2zM183.8 196.1h1.2v1.2h-1.2zM185.1 198.1h1.2v1.2h-1.2zM175.8 197.8h1.2v1.2h-1.2zM188.6 199.7h1.2v1.2h-1.2zM164.4 185.2h1.2v1.2h-1.2zM161.5 168.6h1.2v1.2h-1.2zM168.8 187.3h1.2v1.2h-1.2zM162.5 183.0h1.2v1.2h-1.2zM166.7 182.9h1.2v1.2h-1.2zM173.9 186.9h1.2v1.2h-1.2zM169.9 189.1h1.2v1.2h-1.2zM170.4 180.2h1.2v1.2h-1.2zM165.6 183.6h1.2v1.2h-1.2zM165.1 181.8h1.2v1.2h-1.2zM170.1 189.1h1.2v1.2h-1.2zM170.8 184.2h1.2v1.2h-1.2zM167.7 188.2h1.2v1.2h-1.2zM168.3 187.0h1.2v1.2h-1.2zM152.6 160.3h1.2v1.2h-1.2zM136.4 169.9h1.2v1.2h-1.2zM137.2 188.2h1.2v1.2h-1.2zM129.8 215.5h1.2v1.2h-1.2zM138.7 215.0h1.2v1.2h-1.2zM142.0 192.5h1.2v1.2h-1.2zM128.8 172.6h1.2v1.2h-1.2zM137.7 221.1h1.2v1.2h-1.2zM132.6 170.6h1.2v1.2h-1.2zM129.9 173.2h1.2v1.2h-1.2zM147.6 169.7h1.2v1.2h-1.2zM127.5 179.3h1.2v1.2h-1.2zM130.8 171.4h1.2v1.2h-1.2zM151.4 188.8h1.2v1.2h-1.2zM128.5 162.8h1.2v1.2h-1.2zM124.6 225.3h1.2v1.2h-1.2zM135.9 226.1h1.2v1.2h-1.2zM147.1 197.2h1.2v1.2h-1.2zM128.6 163.8h1.2v1.2h-1.2zM133.5 216.7h1.2v1.2h-1.2zM146.0 168.4h1.2v1.2h-1.2zM131.5 190.9h1.2v1.2h-1.2zM125.6 221.9h1.2v1.2h-1.2zM131.0 223.3h1.2v1.2h-1.2zM132.3 195.6h1.2v1.2h-1.2zM142.0 165.6h1.2v1.2h-1.2zM147.1 162.6h1.2v1.2h-1.2zM139.0 211.3h1.2v1.2h-1.2zM125.9 208.6h1.2v1.2h-1.2zM141.8 187.2h1.2v1.2h-1.2zM142.0 182.9h1.2v1.2h-1.2zM140.8 169.5h1.2v1.2h-1.2zM138.3 164.6h1.2v1.2h-1.2zM141.6 163.1h1.2v1.2h-1.2zM139.8 184.8h1.2v1.2h-1.2zM142.3 188.3h1.2v1.2h-1.2zM138.9 189.3h1.2v1.2h-1.2zM141.9 171.3h1.2v1.2h-1.2zM141.9 187.6h1.2v1.2h-1.2zM139.8 188.5h1.2v1.2h-1.2zM140.0 166.9h1.2v1.2h-1.2zM140.2 180.6h1.2v1.2h-1.2zM139.8 163.9h1.2v1.2h-1.2zM140.0 172.5h1.2v1.2h-1.2zM139.1 174.0h1.2v1.2h-1.2zM139.5 169.8h1.2v1.2h-1.2zM139.8 166.1h1.2v1.2h-1.2zM139.4 164.1h1.2v1.2h-1.2zM139.9 188.1h1.2v1.2h-1.2zM141.6 163.2h1.2v1.2h-1.2zM139.3 193.6h1.2v1.2h-1.2zM140.0 170.1h1.2v1.2h-1.2zM98.2 229.2h1.2v1.2h-1.2zM102.7 251.1h1.2v1.2h-1.2zM91.8 230.7h1.2v1.2h-1.2zM92.6 272.8h1.2v1.2h-1.2zM106.0 255.5h1.2v1.2h-1.2zM87.5 268.9h1.2v1.2h-1.2zM86.6 248.1h1.2v1.2h-1.2zM167.4 218.5h1.2v1.2h-1.2zM181.3 203.7h1.2v1.2h-1.2zM171.8 210.3h1.2v1.2h-1.2zM184.3 226.8h1.2v1.2h-1.2zM152.5 200.5h1.2v1.2h-1.2zM166.9 230.2h1.2v1.2h-1.2zM183.0 210.2h1.2v1.2h-1.2zM205.9 217.8h1.2v1.2h-1.2zM144.9 227.5h1.2v1.2h-1.2zM200.3 224.3h1.2v1.2h-1.2zM209.0 207.6h1.2v1.2h-1.2zM198.6 215.6h1.2v1.2h-1.2zM198.5 210.4h1.2v1.2h-1.2zM150.1 218.2h1.2v1.2h-1.2zM182.5 224.0h1.2v1.2h-1.2zM203.7 205.9h1.2v1.2h-1.2zM206.0 205.2h1.2v1.2h-1.2zM149.9 230.4h1.2v1.2h-1.2zM176.1 224.2h1.2v1.2h-1.2zM155.0 218.8h1.2v1.2h-1.2zM156.5 209.2h1.2v1.2h-1.2zM155.2 208.3h1.2v1.2h-1.2zM157.3 206.0h1.2v1.2h-1.2zM155.9 205.0h1.2v1.2h-1.2zM155.5 204.5h1.2v1.2h-1.2zM157.2 210.3h1.2v1.2h-1.2zM155.2 211.9h1.2v1.2h-1.2zM157.2 206.4h1.2v1.2h-1.2zM155.6 208.1h1.2v1.2h-1.2zM159.8 209.6h1.2v1.2h-1.2zM155.9 210.3h1.2v1.2h-1.2zM161.3 209.4h1.2v1.2h-1.2zM155.4 207.9h1.2v1.2h-1.2zM159.8 204.5h1.2v1.2h-1.2zM157.1 211.1h1.2v1.2h-1.2zM159.3 244.5h1.2v1.2h-1.2zM159.6 216.4h1.2v1.2h-1.2zM160.2 211.5h1.2v1.2h-1.2zM160.5 263.0h1.2v1.2h-1.2zM160.4 255.8h1.2v1.2h-1.2zM159.9 209.5h1.2v1.2h-1.2zM160.3 234.7h1.2v1.2h-1.2zM159.4 278.4h1.2v1.2h-1.2zM159.8 255.0h1.2v1.2h-1.2zM159.9 259.3h1.2v1.2h-1.2zM158.9 239.3h1.2v1.2h-1.2zM160.6 237.6h1.2v1.2h-1.2zM160.0 216.6h1.2v1.2h-1.2zM159.8 244.6h1.2v1.2h-1.2zM187.1 258.7h1.2v1.2h-1.2zM191.7 259.5h1.2v1.2h-1.2zM191.2 264.4h1.2v1.2h-1.2zM186.9 256.9h1.2v1.2h-1.2zM192.9 264.0h1.2v1.2h-1.2zM188.1 265.1h1.2v1.2h-1.2zM192.5 255.2h1.2v1.2h-1.2zM189.8 255.5h1.2v1.2h-1.2zM193.6 268.1h1.2v1.2h-1.2zM187.3 264.7h1.2v1.2h-1.2zM194.8 264.3h1.2v1.2h-1.2zM193.2 262.9h1.2v1.2h-1.2zM189.9 267.2h1.2v1.2h-1.2zM189.0 264.9h1.2v1.2h-1.2zM190.3 265.8h1.2v1.2h-1.2zM189.2 262.8h1.2v1.2h-1.2zM189.4 258.8h1.2v1.2h-1.2zM190.8 262.5h1.2v1.2h-1.2zM188.1 257.0h1.2v1.2h-1.2zM194.6 262.9h1.2v1.2h-1.2zM191.9 257.9h1.2v1.2h-1.2zM192.4 264.8h1.2v1.2h-1.2zM194.7 259.1h1.2v1.2h-1.2zM194.3 257.0h1.2v1.2h-1.2zM193.8 259.1h1.2v1.2h-1.2zM191.7 257.3h1.2v1.2h-1.2zM190.0 266.3h1.2v1.2h-1.2zM188.2 261.9h1.2v1.2h-1.2zM190.8 256.4h1.2v1.2h-1.2zM193.2 262.3h1.2v1.2h-1.2zM191.6 261.1h1.2v1.2h-1.2zM189.8 261.4h1.2v1.2h-1.2zM194.8 263.8h1.2v1.2h-1.2zM189.6 262.8h1.2v1.2h-1.2zM190.5 259.4h1.2v1.2h-1.2zM191.1 258.9h1.2v1.2h-1.2zM186.0 261.2h1.2v1.2h-1.2zM193.5 259.8h1.2v1.2h-1.2zM192.4 270.9h1.2v1.2h-1.2zM188.3 262.7h1.2v1.2h-1.2zM193.9 257.3h1.2v1.2h-1.2zM190.4 257.9h1.2v1.2h-1.2zM189.9 267.1h1.2v1.2h-1.2zM194.3 261.6h1.2v1.2h-1.2zM193.4 267.3h1.2v1.2h-1.2zM188.4 269.9h1.2v1.2h-1.2zM194.1 262.8h1.2v1.2h-1.2zM191.3 268.0h1.2v1.2h-1.2zM190.0 260.3h1.2v1.2h-1.2zM192.1 260.3h1.2v1.2h-1.2zM190.6 257.7h1.2v1.2h-1.2zM193.9 263.3h1.2v1.2h-1.2zM190.4 263.2h1.2v1.2h-1.2zM193.2 265.6h1.2v1.2h-1.2zM188.8 268.0h1.2v1.2h-1.2zM193.9 263.5h1.2v1.2h-1.2zM187.4 260.4h1.2v1.2h-1.2zM187.8 261.0h1.2v1.2h-1.2zM192.5 262.6h1.2v1.2h-1.2zM185.9 259.4h1.2v1.2h-1.2zM188.4 256.8h1.2v1.2h-1.2zM195.5 261.7h1.2v1.2h-1.2zM188.5 260.9h1.2v1.2h-1.2zM195.8 261.6h1.2v1.2h-1.2zM188.2 259.3h1.2v1.2h-1.2zM193.0 268.8h1.2v1.2h-1.2zM186.8 257.1h1.2v1.2h-1.2zM190.0 268.1h1.2v1.2h-1.2zM190.5 258.7h1.2v1.2h-1.2zM194.3 264.2h1.2v1.2h-1.2zM191.5 259.1h1.2v1.2h-1.2zM190.7 263.4h1.2v1.2h-1.2zM190.2 268.5h1.2v1.2h-1.2zM186.2 262.0h1.2v1.2h-1.2zM189.8 260.8h1.2v1.2h-1.2zM192.0 260.1h1.2v1.2h-1.2zM191.2 256.7h1.2v1.2h-1.2zM190.3 269.5h1.2v1.2h-1.2zM187.8 262.3h1.2v1.2h-1.2zM191.1 257.7h1.2v1.2h-1.2zM189.8 267.8h1.2v1.2h-1.2zM187.6 263.5h1.2v1.2h-1.2zM188.3 267.7h1.2v1.2h-1.2zM191.6 271.0h1.2v1.2h-1.2zM192.8 268.4h1.2v1.2h-1.2zM191.3 256.6h1.2v1.2h-1.2zM191.0 262.7h1.2v1.2h-1.2zM193.5 259.9h1.2v1.2h-1.2zM195.0 260.0h1.2v1.2h-1.2zM195.8 264.7h1.2v1.2h-1.2zM195.2 264.5h1.2v1.2h-1.2zM191.6 267.0h1.2v1.2h-1.2zM194.5 262.1h1.2v1.2h-1.2zM189.1 266.5h1.2v1.2h-1.2zM188.5 269.0h1.2v1.2h-1.2zM189.4 257.6h1.2v1.2h-1.2zM189.8 263.0h1.2v1.2h-1.2zM197.7 247.4h1.2v1.2h-1.2zM199.4 250.4h1.2v1.2h-1.2zM196.6 254.9h1.2v1.2h-1.2zM196.8 247.8h1.2v1.2h-1.2zM198.2 245.0h1.2v1.2h-1.2zM197.4 242.9h1.2v1.2h-1.2zM198.1 252.7h1.2v1.2h-1.2zM196.9 255.1h1.2v1.2h-1.2zM198.9 246.1h1.2v1.2h-1.2zM197.9 253.4h1.2v1.2h-1.2zM198.8 255.0h1.2v1.2h-1.2zM198.7 257.8h1.2v1.2h-1.2zM199.4 267.3h1.2v1.2h-1.2zM197.8 266.8h1.2v1.2h-1.2zM198.1 259.9h1.2v1.2h-1.2zM198.3 264.6h1.2v1.2h-1.2zM196.7 258.0h1.2v1.2h-1.2zM197.8 264.1h1.2v1.2h-1.2zM198.5 269.1h1.2v1.2h-1.2zM198.3 264.0h1.2v1.2h-1.2zM199.3 269.4h1.2v1.2h-1.2zM199.3 266.4h1.2v1.2h-1.2zM199.5 264.3h1.2v1.2h-1.2zM199.4 266.6h1.2v1.2h-1.2zM199.6 269.8h1.2v1.2h-1.2zM197.3 270.8h1.2v1.2h-1.2zM199.9 275.6h1.2v1.2h-1.2zM199.8 276.0h1.2v1.2h-1.2zM200.5 275.9h1.2v1.2h-1.2zM200.1 282.7h1.2v1.2h-1.2zM197.9 274.2h1.2v1.2h-1.2zM199.6 270.0h1.2v1.2h-1.2zM200.7 282.0h1.2v1.2h-1.2zM199.5 279.4h1.2v1.2h-1.2zM199.5 273.7h1.2v1.2h-1.2zM202.4 282.3h1.2v1.2h-1.2zM200.1 276.0h1.2v1.2h-1.2zM198.7 277.4h1.2v1.2h-1.2zM198.4 270.7h1.2v1.2h-1.2zM198.6 274.2h1.2v1.2h-1.2zM202.6 288.8h1.2v1.2h-1.2zM203.8 296.1h1.2v1.2h-1.2zM204.1 296.8h1.2v1.2h-1.2zM204.7 290.1h1.2v1.2h-1.2zM203.2 286.2h1.2v1.2h-1.2zM204.1 292.6h1.2v1.2h-1.2zM201.1 286.3h1.2v1.2h-1.2zM203.8 288.9h1.2v1.2h-1.2zM205.5 295.0h1.2v1.2h-1.2zM205.4 296.4h1.2v1.2h-1.2zM203.6 287.3h1.2v1.2h-1.2zM204.4 293.1h1.2v1.2h-1.2zM225.3 179.6h1.2v1.2h-1.2zM223.9 183.9h1.2v1.2h-1.2zM222.0 189.6h1.2v1.2h-1.2zM220.2 188.6h1.2v1.2h-1.2zM227.8 178.0h1.2v1.2h-1.2zM221.9 185.8h1.2v1.2h-1.2zM226.1 177.5h1.2v1.2h-1.2zM217.0 196.5h1.2v1.2h-1.2zM217.2 194.1h1.2v1.2h-1.2zM216.4 195.6h1.2v1.2h-1.2zM218.9 194.0h1.2v1.2h-1.2zM221.0 192.3h1.2v1.2h-1.2zM217.1 197.6h1.2v1.2h-1.2zM219.8 194.0h1.2v1.2h-1.2zM217.1 196.1h1.2v1.2h-1.2zM219.5 191.7h1.2v1.2h-1.2zM221.1 191.6h1.2v1.2h-1.2zM216.3 195.4h1.2v1.2h-1.2zM219.5 192.1h1.2v1.2h-1.2zM221.0 191.5h1.2v1.2h-1.2zM217.9 193.3h1.2v1.2h-1.2zM214.5 199.3h1.2v1.2h-1.2zM211.9 206.3h1.2v1.2h-1.2zM209.4 205.5h1.2v1.2h-1.2zM211.7 205.3h1.2v1.2h-1.2zM208.8 206.3h1.2v1.2h-1.2zM209.7 205.9h1.2v1.2h-1.2zM209.8 206.6h1.2v1.2h-1.2zM214.4 199.9h1.2v1.2h-1.2zM211.7 205.8h1.2v1.2h-1.2zM211.0 204.7h1.2v1.2h-1.2zM207.6 206.7h1.2v1.2h-1.2zM208.7 212.2h1.2v1.2h-1.2zM205.5 212.1h1.2v1.2h-1.2zM208.9 209.3h1.2v1.2h-1.2zM206.0 216.3h1.2v1.2h-1.2zM208.0 213.7h1.2v1.2h-1.2zM207.1 212.3h1.2v1.2h-1.2zM208.0 210.4h1.2v1.2h-1.2zM204.1 218.6h1.2v1.2h-1.2zM205.3 214.2h1.2v1.2h-1.2zM209.5 209.2h1.2v1.2h-1.2zM207.4 213.9h1.2v1.2h-1.2zM206.3 210.8h1.2v1.2h-1.2zM206.6 213.1h1.2v1.2h-1.2zM208.6 212.4h1.2v1.2h-1.2zM205.3 214.0h1.2v1.2h-1.2zM208.2 214.4h1.2v1.2h-1.2zM203.3 221.1h1.2v1.2h-1.2zM202.9 220.7h1.2v1.2h-1.2zM203.6 231.3h1.2v1.2h-1.2zM201.0 230.4h1.2v1.2h-1.2zM200.8 229.3h1.2v1.2h-1.2zM203.9 229.3h1.2v1.2h-1.2zM205.4 221.3h1.2v1.2h-1.2zM201.7 230.5h1.2v1.2h-1.2zM203.1 232.1h1.2v1.2h-1.2zM199.3 237.3h1.2v1.2h-1.2zM203.0 233.8h1.2v1.2h-1.2zM201.8 240.2h1.2v1.2h-1.2zM198.4 240.4h1.2v1.2h-1.2zM203.5 232.2h1.2v1.2h-1.2zM198.2 241.4h1.2v1.2h-1.2zM201.1 232.4h1.2v1.2h-1.2zM200.1 233.3h1.2v1.2h-1.2zM200.1 231.8h1.2v1.2h-1.2zM200.8 237.1h1.2v1.2h-1.2zM197.8 244.9h1.2v1.2h-1.2zM200.0 245.2h1.2v1.2h-1.2zM199.2 252.0h1.2v1.2h-1.2zM198.3 242.0h1.2v1.2h-1.2zM198.6 244.7h1.2v1.2h-1.2zM200.4 242.5h1.2v1.2h-1.2zM198.9 249.1h1.2v1.2h-1.2zM200.5 245.7h1.2v1.2h-1.2zM199.8 247.5h1.2v1.2h-1.2zM197.8 246.6h1.2v1.2h-1.2zM200.8 247.9h1.2v1.2h-1.2zM200.6 247.1h1.2v1.2h-1.2zM197.8 253.2h1.2v1.2h-1.2zM200.8 246.1h1.2v1.2h-1.2zM199.7 250.6h1.2v1.2h-1.2zM197.8 244.5h1.2v1.2h-1.2zM200.9 242.9h1.2v1.2h-1.2zM198.0 246.5h1.2v1.2h-1.2zM201.1 247.7h1.2v1.2h-1.2zM197.3 252.6h1.2v1.2h-1.2zM199.0 259.7h1.2v1.2h-1.2zM199.2 261.0h1.2v1.2h-1.2zM198.4 254.9h1.2v1.2h-1.2zM199.3 258.6h1.2v1.2h-1.2zM197.7 256.0h1.2v1.2h-1.2zM198.2 255.2h1.2v1.2h-1.2zM198.6 260.9h1.2v1.2h-1.2zM201.1 259.9h1.2v1.2h-1.2zM197.9 259.7h1.2v1.2h-1.2zM199.7 254.8h1.2v1.2h-1.2zM197.9 260.5h1.2v1.2h-1.2zM201.7 261.6h1.2v1.2h-1.2zM203.0 267.9h1.2v1.2h-1.2zM201.8 264.5h1.2v1.2h-1.2zM200.8 266.4h1.2v1.2h-1.2zM202.2 268.3h1.2v1.2h-1.2zM201.6 269.2h1.2v1.2h-1.2zM202.6 271.1h1.2v1.2h-1.2zM203.2 268.3h1.2v1.2h-1.2zM200.2 268.4h1.2v1.2h-1.2zM199.3 262.2h1.2v1.2h-1.2zM203.0 269.4h1.2v1.2h-1.2zM198.1 263.8h1.2v1.2h-1.2zM201.2 266.6h1.2v1.2h-1.2zM199.9 263.6h1.2v1.2h-1.2zM201.1 271.4h1.2v1.2h-1.2zM199.2 262.4h1.2v1.2h-1.2zM202.7 266.4h1.2v1.2h-1.2zM202.4 265.2h1.2v1.2h-1.2zM200.0 264.6h1.2v1.2h-1.2zM200.7 270.4h1.2v1.2h-1.2zM205.9 276.9h1.2v1.2h-1.2zM201.6 276.3h1.2v1.2h-1.2zM205.9 280.0h1.2v1.2h-1.2zM203.0 280.5h1.2v1.2h-1.2zM206.2 281.3h1.2v1.2h-1.2zM203.4 281.6h1.2v1.2h-1.2zM203.9 281.3h1.2v1.2h-1.2zM201.8 276.5h1.2v1.2h-1.2zM201.2 273.3h1.2v1.2h-1.2zM201.9 272.8h1.2v1.2h-1.2zM206.0 282.8h1.2v1.2h-1.2zM203.1 274.5h1.2v1.2h-1.2zM201.7 275.9h1.2v1.2h-1.2zM204.3 280.4h1.2v1.2h-1.2zM202.4 277.6h1.2v1.2h-1.2zM203.6 277.8h1.2v1.2h-1.2zM203.0 272.4h1.2v1.2h-1.2zM202.1 274.8h1.2v1.2h-1.2zM202.6 278.2h1.2v1.2h-1.2zM203.9 283.6h1.2v1.2h-1.2zM203.6 280.5h1.2v1.2h-1.2zM206.9 285.4h1.2v1.2h-1.2zM208.3 290.7h1.2v1.2h-1.2zM210.2 292.1h1.2v1.2h-1.2zM209.4 295.8h1.2v1.2h-1.2zM205.5 288.3h1.2v1.2h-1.2zM206.9 293.9h1.2v1.2h-1.2zM206.0 289.8h1.2v1.2h-1.2zM209.7 294.3h1.2v1.2h-1.2zM207.8 285.7h1.2v1.2h-1.2zM206.2 291.7h1.2v1.2h-1.2zM206.8 286.1h1.2v1.2h-1.2zM207.2 285.0h1.2v1.2h-1.2zM206.7 292.9h1.2v1.2h-1.2zM207.0 289.0h1.2v1.2h-1.2zM207.2 290.1h1.2v1.2h-1.2zM207.6 287.8h1.2v1.2h-1.2zM208.0 284.4h1.2v1.2h-1.2zM205.3 289.4h1.2v1.2h-1.2zM205.3 289.2h1.2v1.2h-1.2zM208.5 288.6h1.2v1.2h-1.2zM205.4 284.2h1.2v1.2h-1.2zM208.9 290.7h1.2v1.2h-1.2zM208.4 288.4h1.2v1.2h-1.2zM205.9 291.6h1.2v1.2h-1.2zM211.5 298.6h1.2v1.2h-1.2zM212.7 302.1h1.2v1.2h-1.2zM210.0 297.4h1.2v1.2h-1.2zM210.6 301.4h1.2v1.2h-1.2zM209.4 301.3h1.2v1.2h-1.2zM213.8 319.2h1.2v1.2h-1.2zM216.2 315.6h1.2v1.2h-1.2zM215.8 317.5h1.2v1.2h-1.2zM212.5 313.0h1.2v1.2h-1.2zM218.5 329.6h1.2v1.2h-1.2zM217.1 329.5h1.2v1.2h-1.2zM217.7 319.7h1.2v1.2h-1.2zM214.8 321.4h1.2v1.2h-1.2zM108.9 316.1h1.2v1.2h-1.2zM113.3 328.8h1.2v1.2h-1.2zM120.9 324.5h1.2v1.2h-1.2zM106.1 328.6h1.2v1.2h-1.2zM107.7 322.8h1.2v1.2h-1.2zM103.0 319.0h1.2v1.2h-1.2zM115.0 313.7h1.2v1.2h-1.2zM114.5 310.6h1.2v1.2h-1.2zM106.4 330.3h1.2v1.2h-1.2zM105.3 327.7h1.2v1.2h-1.2zM102.0 317.3h1.2v1.2h-1.2zM107.7 313.2h1.2v1.2h-1.2zM117.0 332.4h1.2v1.2h-1.2zM118.3 307.4h1.2v1.2h-1.2zM100.5 328.9h1.2v1.2h-1.2zM102.8 313.2h1.2v1.2h-1.2zM102.5 316.3h1.2v1.2h-1.2zM110.4 329.5h1.2v1.2h-1.2zM89.2 310.1h1.2v1.2h-1.2zM109.0 320.9h1.2v1.2h-1.2zM113.0 316.8h1.2v1.2h-1.2zM103.2 315.3h1.2v1.2h-1.2zM121.7 312.2h1.2v1.2h-1.2zM90.8 311.9h1.2v1.2h-1.2zM112.7 326.9h1.2v1.2h-1.2zM112.0 316.8h1.2v1.2h-1.2zM106.5 324.3h1.2v1.2h-1.2zM121.4 320.4h1.2v1.2h-1.2zM119.6 329.3h1.2v1.2h-1.2zM115.1 317.2h1.2v1.2h-1.2zM106.6 330.2h1.2v1.2h-1.2zM116.7 316.0h1.2v1.2h-1.2zM90.1 320.9h1.2v1.2h-1.2zM113.3 324.8h1.2v1.2h-1.2zM105.7 319.0h1.2v1.2h-1.2zM113.5 321.0h1.2v1.2h-1.2zM113.8 325.3h1.2v1.2h-1.2zM111.0 314.4h1.2v1.2h-1.2zM120.2 321.8h1.2v1.2h-1.2zM90.7 320.1h1.2v1.2h-1.2zM100.5 317.3h1.2v1.2h-1.2zM120.1 307.5h1.2v1.2h-1.2zM111.0 315.7h1.2v1.2h-1.2zM114.0 322.1h1.2v1.2h-1.2zM115.9 329.5h1.2v1.2h-1.2zM115.1 318.7h1.2v1.2h-1.2zM116.7 315.8h1.2v1.2h-1.2zM94.1 324.0h1.2v1.2h-1.2zM116.4 330.9h1.2v1.2h-1.2zM101.6 333.2h1.2v1.2h-1.2zM99.1 322.1h1.2v1.2h-1.2zM102.1 318.4h1.2v1.2h-1.2zM110.8 316.2h1.2v1.2h-1.2zM95.6 309.6h1.2v1.2h-1.2zM104.3 316.7h1.2v1.2h-1.2zM98.8 328.4h1.2v1.2h-1.2zM91.5 309.3h1.2v1.2h-1.2zM105.4 310.0h1.2v1.2h-1.2zM109.8 323.5h1.2v1.2h-1.2zM103.6 333.4h1.2v1.2h-1.2zM105.0 329.7h1.2v1.2h-1.2zM105.3 313.6h1.2v1.2h-1.2zM109.6 330.3h1.2v1.2h-1.2zM98.3 331.8h1.2v1.2h-1.2zM115.9 322.9h1.2v1.2h-1.2zM102.5 316.4h1.2v1.2h-1.2zM100.0 310.2h1.2v1.2h-1.2zM95.4 330.3h1.2v1.2h-1.2zM121.0 332.0h1.2v1.2h-1.2zM112.5 308.6h1.2v1.2h-1.2zM108.0 318.2h1.2v1.2h-1.2zM121.7 330.7h1.2v1.2h-1.2zM97.3 328.5h1.2v1.2h-1.2zM90.9 321.5h1.2v1.2h-1.2zM99.2 330.9h1.2v1.2h-1.2zM112.0 314.7h1.2v1.2h-1.2zM92.4 326.3h1.2v1.2h-1.2zM111.7 322.2h1.2v1.2h-1.2zM95.4 330.7h1.2v1.2h-1.2zM107.0 321.9h1.2v1.2h-1.2zM119.9 322.4h1.2v1.2h-1.2zM113.0 323.7h1.2v1.2h-1.2zM91.3 321.1h1.2v1.2h-1.2zM89.6 318.6h1.2v1.2h-1.2zM104.4 333.3h1.2v1.2h-1.2zM101.3 331.9h1.2v1.2h-1.2zM106.0 316.6h1.2v1.2h-1.2zM114.3 323.9h1.2v1.2h-1.2zM114.4 324.9h1.2v1.2h-1.2zM100.6 318.7h1.2v1.2h-1.2zM100.6 328.2h1.2v1.2h-1.2zM108.1 313.2h1.2v1.2h-1.2zM110.1 321.1h1.2v1.2h-1.2zM95.9 321.1h1.2v1.2h-1.2zM119.7 328.9h1.2v1.2h-1.2zM102.6 312.2h1.2v1.2h-1.2zM96.2 330.7h1.2v1.2h-1.2zM112.0 320.3h1.2v1.2h-1.2zM103.0 310.3h1.2v1.2h-1.2zM107.8 315.1h1.2v1.2h-1.2zM121.1 311.1h1.2v1.2h-1.2zM96.2 310.4h1.2v1.2h-1.2zM118.2 331.5h1.2v1.2h-1.2zM89.7 310.3h1.2v1.2h-1.2zM109.9 307.8h1.2v1.2h-1.2zM88.6 320.5h1.2v1.2h-1.2zM89.4 320.0h1.2v1.2h-1.2zM91.4 322.0h1.2v1.2h-1.2zM94.9 318.0h1.2v1.2h-1.2zM90.8 321.0h1.2v1.2h-1.2zM90.0 316.1h1.2v1.2h-1.2zM92.3 317.5h1.2v1.2h-1.2zM96.0 321.0h1.2v1.2h-1.2zM89.8 318.4h1.2v1.2h-1.2zM90.8 318.9h1.2v1.2h-1.2zM93.4 319.6h1.2v1.2h-1.2zM90.3 311.2h1.2v1.2h-1.2zM95.3 313.6h1.2v1.2h-1.2zM88.6 319.4h1.2v1.2h-1.2zM87.5 316.3h1.2v1.2h-1.2zM89.4 315.7h1.2v1.2h-1.2zM91.9 314.3h1.2v1.2h-1.2zM94.1 317.0h1.2v1.2h-1.2zM94.2 310.8h1.2v1.2h-1.2zM90.3 318.0h1.2v1.2h-1.2zM90.4 315.2h1.2v1.2h-1.2zM89.2 315.0h1.2v1.2h-1.2zM93.7 322.4h1.2v1.2h-1.2zM95.5 316.6h1.2v1.2h-1.2zM93.6 311.9h1.2v1.2h-1.2zM89.6 314.8h1.2v1.2h-1.2zM92.3 322.8h1.2v1.2h-1.2zM92.6 319.4h1.2v1.2h-1.2zM91.3 316.7h1.2v1.2h-1.2zM92.2 317.5h1.2v1.2h-1.2zM94.8 322.6h1.2v1.2h-1.2zM95.4 313.9h1.2v1.2h-1.2zM93.3 320.0h1.2v1.2h-1.2zM91.8 318.5h1.2v1.2h-1.2zM153.5 313.4h1.2v1.2h-1.2zM154.0 311.2h1.2v1.2h-1.2zM156.7 317.7h1.2v1.2h-1.2zM154.1 330.7h1.2v1.2h-1.2zM154.5 335.3h1.2v1.2h-1.2zM163.5 325.2h1.2v1.2h-1.2zM154.5 329.7h1.2v1.2h-1.2zM157.2 323.4h1.2v1.2h-1.2zM164.8 329.2h1.2v1.2h-1.2zM163.6 338.0h1.2v1.2h-1.2zM163.0 315.1h1.2v1.2h-1.2zM159.1 338.5h1.2v1.2h-1.2zM163.3 331.9h1.2v1.2h-1.2zM150.9 315.8h1.2v1.2h-1.2zM156.9 314.7h1.2v1.2h-1.2zM161.8 339.9h1.2v1.2h-1.2zM165.6 313.6h1.2v1.2h-1.2zM149.9 338.4h1.2v1.2h-1.2zM147.4 318.8h1.2v1.2h-1.2zM164.8 314.0h1.2v1.2h-1.2zM157.0 330.5h1.2v1.2h-1.2zM160.7 324.4h1.2v1.2h-1.2zM156.8 331.9h1.2v1.2h-1.2zM148.3 337.0h1.2v1.2h-1.2zM162.6 319.1h1.2v1.2h-1.2zM156.6 337.4h1.2v1.2h-1.2zM156.1 332.8h1.2v1.2h-1.2zM156.3 314.8h1.2v1.2h-1.2zM188.9 331.4h1.2v1.2h-1.2zM158.2 323.8h1.2v1.2h-1.2zM179.3 315.4h1.2v1.2h-1.2zM173.1 326.3h1.2v1.2h-1.2zM180.6 327.3h1.2v1.2h-1.2zM186.6 328.6h1.2v1.2h-1.2zM157.2 317.4h1.2v1.2h-1.2zM182.4 338.9h1.2v1.2h-1.2zM164.2 337.4h1.2v1.2h-1.2zM164.8 318.7h1.2v1.2h-1.2zM179.6 334.8h1.2v1.2h-1.2zM171.4 339.2h1.2v1.2h-1.2zM165.3 339.5h1.2v1.2h-1.2zM159.1 331.5h1.2v1.2h-1.2zM176.4 316.3h1.2v1.2h-1.2zM164.7 315.4h1.2v1.2h-1.2zM173.5 336.5h1.2v1.2h-1.2zM178.4 322.8h1.2v1.2h-1.2zM168.0 336.3h1.2v1.2h-1.2zM175.4 315.3h1.2v1.2h-1.2zM165.4 323.5h1.2v1.2h-1.2zM174.3 323.7h1.2v1.2h-1.2zM169.1 334.6h1.2v1.2h-1.2zM185.2 321.8h1.2v1.2h-1.2zM168.9 317.7h1.2v1.2h-1.2zM165.3 331.9h1.2v1.2h-1.2zM171.4 323.5h1.2v1.2h-1.2zM162.1 339.7h1.2v1.2h-1.2zM185.5 333.3h1.2v1.2h-1.2zM160.2 316.6h1.2v1.2h-1.2zM183.6 328.9h1.2v1.2h-1.2zM180.6 336.7h1.2v1.2h-1.2zM189.4 337.9h1.2v1.2h-1.2zM172.4 323.2h1.2v1.2h-1.2zM165.2 320.6h1.2v1.2h-1.2zM174.8 339.3h1.2v1.2h-1.2zM161.6 323.7h1.2v1.2h-1.2zM157.5 327.4h1.2v1.2h-1.2zM177.6 328.7h1.2v1.2h-1.2zM158.9 323.1h1.2v1.2h-1.2zM177.7 334.3h1.2v1.2h-1.2zM170.7 324.4h1.2v1.2h-1.2zM186.8 318.4h1.2v1.2h-1.2zM158.2 331.0h1.2v1.2h-1.2zM171.8 338.0h1.2v1.2h-1.2zM166.8 316.0h1.2v1.2h-1.2zM177.3 323.2h1.2v1.2h-1.2zM165.0 328.0h1.2v1.2h-1.2zM182.5 318.2h1.2v1.2h-1.2zM161.2 330.7h1.2v1.2h-1.2zM169.4 325.8h1.2v1.2h-1.2zM185.9 325.7h1.2v1.2h-1.2zM177.8 322.2h1.2v1.2h-1.2zM186.6 316.0h1.2v1.2h-1.2zM173.7 338.6h1.2v1.2h-1.2zM173.4 320.8h1.2v1.2h-1.2zM170.3 326.4h1.2v1.2h-1.2zM170.0 339.9h1.2v1.2h-1.2zM175.4 340.1h1.2v1.2h-1.2zM180.7 320.5h1.2v1.2h-1.2zM178.2 339.5h1.2v1.2h-1.2zM178.3 320.9h1.2v1.2h-1.2zM180.8 322.5h1.2v1.2h-1.2zM159.1 339.9h1.2v1.2h-1.2zM174.0 338.9h1.2v1.2h-1.2zM157.6 318.1h1.2v1.2h-1.2zM168.3 339.7h1.2v1.2h-1.2zM160.0 325.5h1.2v1.2h-1.2zM161.0 316.9h1.2v1.2h-1.2zM169.3 322.8h1.2v1.2h-1.2zM165.1 325.2h1.2v1.2h-1.2zM182.7 324.6h1.2v1.2h-1.2zM174.6 325.5h1.2v1.2h-1.2zM173.4 331.4h1.2v1.2h-1.2zM178.5 331.3h1.2v1.2h-1.2zM177.6 328.6h1.2v1.2h-1.2zM175.8 322.4h1.2v1.2h-1.2zM174.7 329.0h1.2v1.2h-1.2zM175.1 328.2h1.2v1.2h-1.2zM176.4 329.6h1.2v1.2h-1.2zM178.2 327.8h1.2v1.2h-1.2zM177.4 326.8h1.2v1.2h-1.2zM180.0 325.8h1.2v1.2h-1.2zM177.9 327.5h1.2v1.2h-1.2zM178.1 331.2h1.2v1.2h-1.2zM176.4 329.5h1.2v1.2h-1.2zM180.2 332.7h1.2v1.2h-1.2zM175.6 326.8h1.2v1.2h-1.2zM171.5 326.2h1.2v1.2h-1.2zM180.2 332.9h1.2v1.2h-1.2zM170.9 326.6h1.2v1.2h-1.2zM171.0 327.4h1.2v1.2h-1.2zM179.1 330.7h1.2v1.2h-1.2zM174.6 323.6h1.2v1.2h-1.2zM180.5 327.4h1.2v1.2h-1.2zM172.7 325.7h1.2v1.2h-1.2zM178.7 328.6h1.2v1.2h-1.2zM173.8 323.4h1.2v1.2h-1.2z"/>
<path fill="#f7a02c" d="M85.5 171.9h1.2v1.2h-1.2zM150.4 189.7h1.2v1.2h-1.2zM61.3 133.6h1.2v1.2h-1.2zM190.2 86.6h1.2v1.2h-1.2zM255.4 88.7h1.2v1.2h-1.2zM152.9 185.2h1.2v1.2h-1.2zM122.1 250.0h1.2v1.2h-1.2zM103.8 143.8h1.2v1.2h-1.2zM128.4 266.5h1.2v1.2h-1.2zM197.9 91.1h1.2v1.2h-1.2zM158.6 330.7h1.2v1.2h-1.2zM102.9 166.7h1.2v1.2h-1.2zM113.7 266.9h1.2v1.2h-1.2zM100.6 171.9h1.2v1.2h-1.2zM83.8 216.2h1.2v1.2h-1.2zM83.3 287.4h1.2v1.2h-1.2zM228.9 127.4h1.2v1.2h-1.2zM101.4 275.0h1.2v1.2h-1.2zM195.2 209.7h1.2v1.2h-1.2zM174.6 74.9h1.2v1.2h-1.2zM82.3 78.8h1.2v1.2h-1.2zM58.6 176.8h1.2v1.2h-1.2zM83.5 205.7h1.2v1.2h-1.2zM80.9 135.8h1.2v1.2h-1.2zM109.9 175.8h1.2v1.2h-1.2zM109.7 341.3h1.2v1.2h-1.2zM59.7 217.5h1.2v1.2h-1.2zM68.9 221.9h1.2v1.2h-1.2zM228.2 94.5h1.2v1.2h-1.2zM266.0 113.8h1.2v1.2h-1.2zM145.5 147.8h1.2v1.2h-1.2zM107.6 115.9h1.2v1.2h-1.2zM233.3 148.3h1.2v1.2h-1.2zM190.8 164.4h1.2v1.2h-1.2zM125.5 122.5h1.2v1.2h-1.2zM61.6 126.0h1.2v1.2h-1.2zM146.3 76.6h1.2v1.2h-1.2zM103.6 159.3h1.2v1.2h-1.2zM275.4 96.4h1.2v1.2h-1.2zM67.2 219.1h1.2v1.2h-1.2zM118.4 255.9h1.2v1.2h-1.2zM124.7 177.6h1.2v1.2h-1.2zM74.4 162.4h1.2v1.2h-1.2zM232.4 73.5h1.2v1.2h-1.2zM92.8 284.2h1.2v1.2h-1.2zM204.1 299.5h1.2v1.2h-1.2zM146.5 82.7h1.2v1.2h-1.2zM94.2 155.5h1.2v1.2h-1.2zM214.1 108.1h1.2v1.2h-1.2zM268.2 91.7h1.2v1.2h-1.2zM164.1 316.7h1.2v1.2h-1.2zM94.6 149.3h1.2v1.2h-1.2zM201.3 139.0h1.2v1.2h-1.2zM86.3 96.1h1.2v1.2h-1.2zM212.6 161.3h1.2v1.2h-1.2zM117.2 200.6h1.2v1.2h-1.2zM131.2 153.9h1.2v1.2h-1.2zM146.9 238.6h1.2v1.2h-1.2zM227.3 157.0h1.2v1.2h-1.2zM104.4 161.8h1.2v1.2h-1.2zM211.8 127.3h1.2v1.2h-1.2zM72.8 142.1h1.2v1.2h-1.2zM79.7 102.8h1.2v1.2h-1.2zM91.8 284.1h1.2v1.2h-1.2zM146.0 322.5h1.2v1.2h-1.2zM169.0 144.2h1.2v1.2h-1.2zM118.5 262.8h1.2v1.2h-1.2zM143.0 330.6h1.2v1.2h-1.2zM215.4 157.7h1.2v1.2h-1.2zM92.2 291.6h1.2v1.2h-1.2zM108.0 173.3h1.2v1.2h-1.2zM70.0 148.5h1.2v1.2h-1.2zM132.4 116.7h1.2v1.2h-1.2zM224.0 121.9h1.2v1.2h-1.2zM69.0 245.4h1.2v1.2h-1.2zM262.4 79.6h1.2v1.2h-1.2zM82.8 228.5h1.2v1.2h-1.2zM135.2 270.2h1.2v1.2h-1.2zM94.2 126.8h1.2v1.2h-1.2zM122.9 199.5h1.2v1.2h-1.2zM207.4 161.6h1.2v1.2h-1.2zM223.5 143.1h1.2v1.2h-1.2zM139.2 230.5h1.2v1.2h-1.2zM180.3 292.9h1.2v1.2h-1.2zM144.1 139.9h1.2v1.2h-1.2zM115.2 200.8h1.2v1.2h-1.2zM274.1 133.6h1.2v1.2h-1.2zM140.5 200.5h1.2v1.2h-1.2zM134.0 243.3h1.2v1.2h-1.2zM204.6 102.5h1.2v1.2h-1.2zM135.0 240.6h1.2v1.2h-1.2zM128.2 77.1h1.2v1.2h-1.2zM235.7 115.3h1.2v1.2h-1.2zM183.3 173.8h1.2v1.2h-1.2zM174.4 312.8h1.2v1.2h-1.2zM228.1 152.6h1.2v1.2h-1.2zM89.1 73.8h1.2v1.2h-1.2zM146.2 298.1h1.2v1.2h-1.2zM110.1 285.0h1.2v1.2h-1.2zM119.6 83.0h1.2v1.2h-1.2zM71.8 183.9h1.2v1.2h-1.2zM62.5 85.4h1.2v1.2h-1.2zM108.3 144.2h1.2v1.2h-1.2zM183.4 322.4h1.2v1.2h-1.2zM259.4 61.4h1.2v1.2h-1.2zM80.7 193.3h1.2v1.2h-1.2zM157.3 73.8h1.2v1.2h-1.2zM177.2 91.4h1.2v1.2h-1.2zM198.9 296.9h1.2v1.2h-1.2zM219.3 91.7h1.2v1.2h-1.2zM112.0 138.9h1.2v1.2h-1.2zM201.1 294.3h1.2v1.2h-1.2zM142.5 297.6h1.2v1.2h-1.2zM112.2 182.2h1.2v1.2h-1.2zM130.0 332.3h1.2v1.2h-1.2zM220.9 120.8h1.2v1.2h-1.2zM91.6 127.3h1.2v1.2h-1.2zM226.5 125.3h1.2v1.2h-1.2zM180.2 167.0h1.2v1.2h-1.2zM116.3 290.2h1.2v1.2h-1.2zM80.1 124.2h1.2v1.2h-1.2zM225.0 167.3h1.2v1.2h-1.2zM143.5 204.2h1.2v1.2h-1.2zM106.1 252.1h1.2v1.2h-1.2zM97.2 206.4h1.2v1.2h-1.2zM111.8 84.2h1.2v1.2h-1.2zM65.7 82.2h1.2v1.2h-1.2zM92.9 130.5h1.2v1.2h-1.2zM275.7 132.6h1.2v1.2h-1.2zM116.3 115.3h1.2v1.2h-1.2zM69.1 211.5h1.2v1.2h-1.2zM67.4 78.5h1.2v1.2h-1.2zM99.3 207.6h1.2v1.2h-1.2zM125.6 226.8h1.2v1.2h-1.2zM137.4 98.6h1.2v1.2h-1.2zM117.3 341.3h1.2v1.2h-1.2zM181.5 290.8h1.2v1.2h-1.2zM87.9 277.0h1.2v1.2h-1.2zM129.1 213.2h1.2v1.2h-1.2zM104.9 276.7h1.2v1.2h-1.2zM231.0 162.0h1.2v1.2h-1.2zM120.0 92.8h1.2v1.2h-1.2zM140.4 317.5h1.2v1.2h-1.2zM58.5 134.6h1.2v1.2h-1.2zM104.0 307.3h1.2v1.2h-1.2zM173.7 186.5h1.2v1.2h-1.2zM93.0 75.1h1.2v1.2h-1.2zM131.0 297.0h1.2v1.2h-1.2zM121.5 112.5h1.2v1.2h-1.2zM134.7 120.9h1.2v1.2h-1.2zM280.3 123.4h1.2v1.2h-1.2zM87.7 126.7h1.2v1.2h-1.2zM225.6 154.9h1.2v1.2h-1.2zM154.4 136.8h1.2v1.2h-1.2zM217.6 170.5h1.2v1.2h-1.2zM178.8 173.2h1.2v1.2h-1.2zM182.8 186.7h1.2v1.2h-1.2zM104.1 140.0h1.2v1.2h-1.2zM118.3 109.6h1.2v1.2h-1.2zM137.3 184.1h1.2v1.2h-1.2zM126.7 102.2h1.2v1.2h-1.2zM63.4 191.8h1.2v1.2h-1.2zM107.6 349.5h1.2v1.2h-1.2zM202.3 137.8h1.2v1.2h-1.2zM75.9 241.4h1.2v1.2h-1.2zM126.2 118.0h1.2v1.2h-1.2zM106.6 113.2h1.2v1.2h-1.2zM130.7 139.0h1.2v1.2h-1.2zM137.9 222.8h1.2v1.2h-1.2zM139.7 113.0h1.2v1.2h-1.2zM84.3 213.5h1.2v1.2h-1.2zM249.8 103.4h1.2v1.2h-1.2zM240.3 92.9h1.2v1.2h-1.2zM172.6 308.7h1.2v1.2h-1.2zM173.7 185.8h1.2v1.2h-1.2zM50.7 85.7h1.2v1.2h-1.2zM134.6 110.6h1.2v1.2h-1.2zM132.7 329.3h1.2v1.2h-1.2zM87.9 243.6h1.2v1.2h-1.2zM139.7 317.3h1.2v1.2h-1.2zM175.1 196.4h1.2v1.2h-1.2zM114.1 313.0h1.2v1.2h-1.2zM231.6 76.4h1.2v1.2h-1.2zM281.2 121.0h1.2v1.2h-1.2zM96.7 223.9h1.2v1.2h-1.2zM60.6 207.6h1.2v1.2h-1.2zM95.0 220.5h1.2v1.2h-1.2zM151.3 224.9h1.2v1.2h-1.2zM62.0 142.4h1.2v1.2h-1.2zM216.2 91.6h1.2v1.2h-1.2zM159.4 318.4h1.2v1.2h-1.2zM129.8 89.2h1.2v1.2h-1.2zM190.7 68.8h1.2v1.2h-1.2zM205.3 212.6h1.2v1.2h-1.2zM90.4 108.5h1.2v1.2h-1.2zM132.9 180.0h1.2v1.2h-1.2zM176.4 76.5h1.2v1.2h-1.2zM226.6 121.0h1.2v1.2h-1.2zM160.3 205.7h1.2v1.2h-1.2zM155.9 140.2h1.2v1.2h-1.2zM115.3 268.1h1.2v1.2h-1.2zM228.1 66.4h1.2v1.2h-1.2zM272.0 94.7h1.2v1.2h-1.2zM131.8 323.5h1.2v1.2h-1.2zM114.0 193.8h1.2v1.2h-1.2zM65.3 93.9h1.2v1.2h-1.2zM257.9 64.7h1.2v1.2h-1.2zM237.9 75.4h1.2v1.2h-1.2zM106.8 83.1h1.2v1.2h-1.2zM167.9 213.4h1.2v1.2h-1.2zM126.7 262.7h1.2v1.2h-1.2zM214.5 71.9h1.2v1.2h-1.2zM92.7 318.5h1.2v1.2h-1.2zM135.2 242.6h1.2v1.2h-1.2zM113.8 180.3h1.2v1.2h-1.2zM98.4 326.1h1.2v1.2h-1.2zM106.8 121.5h1.2v1.2h-1.2zM254.0 101.1h1.2v1.2h-1.2zM120.5 216.2h1.2v1.2h-1.2zM197.7 264.0h1.2v1.2h-1.2zM146.9 321.6h1.2v1.2h-1.2zM127.1 127.0h1.2v1.2h-1.2zM138.6 132.6h1.2v1.2h-1.2zM144.1 74.4h1.2v1.2h-1.2zM266.9 124.9h1.2v1.2h-1.2zM190.5 69.9h1.2v1.2h-1.2zM65.9 206.4h1.2v1.2h-1.2zM240.5 94.0h1.2v1.2h-1.2zM192.0 222.0h1.2v1.2h-1.2zM103.1 216.8h1.2v1.2h-1.2zM131.2 196.5h1.2v1.2h-1.2zM109.3 144.8h1.2v1.2h-1.2zM200.6 298.2h1.2v1.2h-1.2zM51.9 141.4h1.2v1.2h-1.2zM67.8 225.1h1.2v1.2h-1.2zM124.8 118.7h1.2v1.2h-1.2zM136.9 202.2h1.2v1.2h-1.2zM163.0 279.6h1.2v1.2h-1.2zM108.1 169.7h1.2v1.2h-1.2zM169.1 278.8h1.2v1.2h-1.2zM136.6 197.9h1.2v1.2h-1.2zM182.8 303.4h1.2v1.2h-1.2zM107.6 305.7h1.2v1.2h-1.2zM139.6 172.0h1.2v1.2h-1.2zM151.7 118.4h1.2v1.2h-1.2zM71.5 160.0h1.2v1.2h-1.2zM155.5 227.0h1.2v1.2h-1.2zM187.8 236.3h1.2v1.2h-1.2zM169.2 120.5h1.2v1.2h-1.2zM204.4 211.0h1.2v1.2h-1.2zM188.2 296.4h1.2v1.2h-1.2zM133.0 283.9h1.2v1.2h-1.2zM157.1 74.7h1.2v1.2h-1.2zM89.5 274.5h1.2v1.2h-1.2zM145.2 225.1h1.2v1.2h-1.2zM45.2 84.7h1.2v1.2h-1.2zM102.7 131.3h1.2v1.2h-1.2zM268.7 117.4h1.2v1.2h-1.2zM123.8 181.8h1.2v1.2h-1.2zM145.3 89.9h1.2v1.2h-1.2zM94.4 307.7h1.2v1.2h-1.2zM177.3 252.8h1.2v1.2h-1.2zM109.5 242.3h1.2v1.2h-1.2zM179.8 187.1h1.2v1.2h-1.2zM202.2 119.7h1.2v1.2h-1.2zM174.1 331.6h1.2v1.2h-1.2zM137.1 181.4h1.2v1.2h-1.2zM82.3 216.9h1.2v1.2h-1.2zM130.0 98.9h1.2v1.2h-1.2zM256.5 124.2h1.2v1.2h-1.2zM95.5 296.5h1.2v1.2h-1.2zM114.9 81.9h1.2v1.2h-1.2zM64.8 84.1h1.2v1.2h-1.2zM225.5 179.5h1.2v1.2h-1.2zM121.6 312.1h1.2v1.2h-1.2zM97.9 73.3h1.2v1.2h-1.2zM130.4 83.1h1.2v1.2h-1.2zM174.4 80.5h1.2v1.2h-1.2zM65.0 202.3h1.2v1.2h-1.2zM151.9 177.1h1.2v1.2h-1.2zM164.8 303.6h1.2v1.2h-1.2zM142.3 231.6h1.2v1.2h-1.2zM204.0 208.2h1.2v1.2h-1.2zM138.8 114.1h1.2v1.2h-1.2zM158.2 126.2h1.2v1.2h-1.2zM107.3 183.2h1.2v1.2h-1.2zM174.0 75.2h1.2v1.2h-1.2zM142.3 322.8h1.2v1.2h-1.2zM256.6 130.6h1.2v1.2h-1.2zM62.5 120.4h1.2v1.2h-1.2zM187.7 121.5h1.2v1.2h-1.2zM259.4 84.0h1.2v1.2h-1.2zM169.5 109.2h1.2v1.2h-1.2zM232.7 163.3h1.2v1.2h-1.2zM185.8 148.1h1.2v1.2h-1.2zM89.1 101.4h1.2v1.2h-1.2zM123.0 119.8h1.2v1.2h-1.2zM158.1 255.3h1.2v1.2h-1.2zM146.7 334.9h1.2v1.2h-1.2zM75.5 205.0h1.2v1.2h-1.2zM122.9 314.4h1.2v1.2h-1.2zM182.8 332.4h1.2v1.2h-1.2zM162.4 302.6h1.2v1.2h-1.2zM274.3 111.6h1.2v1.2h-1.2zM64.5 214.4h1.2v1.2h-1.2zM186.8 91.9h1.2v1.2h-1.2zM157.6 307.0h1.2v1.2h-1.2zM237.8 95.3h1.2v1.2h-1.2zM249.5 134.1h1.2v1.2h-1.2zM182.9 309.5h1.2v1.2h-1.2zM271.0 69.6h1.2v1.2h-1.2zM151.3 190.8h1.2v1.2h-1.2zM206.1 291.7h1.2v1.2h-1.2zM104.4 309.0h1.2v1.2h-1.2zM249.1 128.5h1.2v1.2h-1.2zM188.6 267.7h1.2v1.2h-1.2zM114.6 279.0h1.2v1.2h-1.2zM140.9 224.7h1.2v1.2h-1.2zM229.8 116.8h1.2v1.2h-1.2zM190.0 147.4h1.2v1.2h-1.2zM131.4 106.5h1.2v1.2h-1.2zM77.2 102.7h1.2v1.2h-1.2zM144.4 154.1h1.2v1.2h-1.2zM261.4 127.6h1.2v1.2h-1.2zM152.9 108.1h1.2v1.2h-1.2zM159.9 202.5h1.2v1.2h-1.2zM175.0 305.4h1.2v1.2h-1.2zM224.0 115.9h1.2v1.2h-1.2zM180.2 245.4h1.2v1.2h-1.2zM209.8 117.8h1.2v1.2h-1.2zM103.7 181.7h1.2v1.2h-1.2zM224.6 157.7h1.2v1.2h-1.2zM135.4 84.1h1.2v1.2h-1.2zM198.7 100.7h1.2v1.2h-1.2zM202.4 322.9h1.2v1.2h-1.2zM181.4 298.3h1.2v1.2h-1.2zM100.8 167.0h1.2v1.2h-1.2zM162.2 157.7h1.2v1.2h-1.2zM184.1 194.7h1.2v1.2h-1.2zM142.2 126.7h1.2v1.2h-1.2zM269.8 138.2h1.2v1.2h-1.2zM112.2 157.3h1.2v1.2h-1.2zM171.3 85.0h1.2v1.2h-1.2zM274.2 105.2h1.2v1.2h-1.2zM265.9 90.7h1.2v1.2h-1.2zM182.3 330.0h1.2v1.2h-1.2zM144.6 85.3h1.2v1.2h-1.2zM166.6 286.4h1.2v1.2h-1.2zM215.0 128.1h1.2v1.2h-1.2zM83.6 140.8h1.2v1.2h-1.2zM99.1 198.8h1.2v1.2h-1.2zM149.5 157.3h1.2v1.2h-1.2zM116.4 305.8h1.2v1.2h-1.2zM233.2 95.8h1.2v1.2h-1.2zM179.6 268.0h1.2v1.2h-1.2zM139.7 220.9h1.2v1.2h-1.2zM87.3 129.0h1.2v1.2h-1.2zM82.0 98.4h1.2v1.2h-1.2zM101.7 294.6h1.2v1.2h-1.2zM144.8 94.6h1.2v1.2h-1.2zM136.6 192.1h1.2v1.2h-1.2zM125.7 152.7h1.2v1.2h-1.2zM126.6 172.8h1.2v1.2h-1.2zM159.3 290.5h1.2v1.2h-1.2zM180.2 200.9h1.2v1.2h-1.2zM241.5 68.3h1.2v1.2h-1.2zM180.3 321.2h1.2v1.2h-1.2zM74.6 253.9h1.2v1.2h-1.2zM237.6 139.1h1.2v1.2h-1.2zM161.0 216.1h1.2v1.2h-1.2zM85.0 168.4h1.2v1.2h-1.2zM75.5 111.3h1.2v1.2h-1.2zM129.9 113.6h1.2v1.2h-1.2zM68.8 203.7h1.2v1.2h-1.2zM119.4 184.6h1.2v1.2h-1.2zM100.5 333.0h1.2v1.2h-1.2zM79.6 115.8h1.2v1.2h-1.2zM232.5 121.1h1.2v1.2h-1.2zM114.4 184.5h1.2v1.2h-1.2zM85.6 270.8h1.2v1.2h-1.2zM93.2 313.9h1.2v1.2h-1.2zM117.4 198.8h1.2v1.2h-1.2zM125.4 125.1h1.2v1.2h-1.2zM159.6 196.0h1.2v1.2h-1.2zM159.6 166.4h1.2v1.2h-1.2zM107.3 327.8h1.2v1.2h-1.2zM77.9 136.5h1.2v1.2h-1.2zM109.4 330.7h1.2v1.2h-1.2zM209.1 63.4h1.2v1.2h-1.2zM139.3 241.5h1.2v1.2h-1.2zM95.6 112.0h1.2v1.2h-1.2zM140.3 290.6h1.2v1.2h-1.2zM185.7 98.6h1.2v1.2h-1.2zM45.5 89.5h1.2v1.2h-1.2zM138.0 86.5h1.2v1.2h-1.2zM210.5 299.6h1.2v1.2h-1.2zM204.1 344.9h1.2v1.2h-1.2zM128.0 142.0h1.2v1.2h-1.2zM107.0 271.9h1.2v1.2h-1.2zM136.3 119.3h1.2v1.2h-1.2zM101.6 312.2h1.2v1.2h-1.2zM223.0 182.9h1.2v1.2h-1.2zM164.3 311.6h1.2v1.2h-1.2zM246.9 140.7h1.2v1.2h-1.2zM68.3 178.4h1.2v1.2h-1.2zM117.9 298.8h1.2v1.2h-1.2zM157.0 293.8h1.2v1.2h-1.2zM149.8 102.2h1.2v1.2h-1.2zM121.2 134.5h1.2v1.2h-1.2zM116.4 321.3h1.2v1.2h-1.2zM261.9 56.8h1.2v1.2h-1.2zM102.8 125.8h1.2v1.2h-1.2zM184.8 235.0h1.2v1.2h-1.2zM97.7 300.2h1.2v1.2h-1.2zM206.6 339.1h1.2v1.2h-1.2zM97.9 224.6h1.2v1.2h-1.2zM101.3 75.9h1.2v1.2h-1.2zM275.4 124.0h1.2v1.2h-1.2zM209.9 151.8h1.2v1.2h-1.2zM192.9 185.8h1.2v1.2h-1.2zM210.1 88.7h1.2v1.2h-1.2zM124.8 138.8h1.2v1.2h-1.2zM101.6 87.3h1.2v1.2h-1.2zM54.3 158.5h1.2v1.2h-1.2zM201.9 69.0h1.2v1.2h-1.2zM231.4 139.1h1.2v1.2h-1.2zM191.7 277.1h1.2v1.2h-1.2zM136.9 323.9h1.2v1.2h-1.2zM75.5 102.9h1.2v1.2h-1.2zM271.8 121.3h1.2v1.2h-1.2zM117.6 187.8h1.2v1.2h-1.2zM167.7 161.2h1.2v1.2h-1.2zM146.5 274.5h1.2v1.2h-1.2zM128.8 224.8h1.2v1.2h-1.2zM189.2 128.7h1.2v1.2h-1.2zM155.1 90.7h1.2v1.2h-1.2zM235.2 116.2h1.2v1.2h-1.2zM120.1 314.2h1.2v1.2h-1.2zM275.8 108.5h1.2v1.2h-1.2zM85.9 93.1h1.2v1.2h-1.2zM69.1 103.1h1.2v1.2h-1.2zM246.8 153.6h1.2v1.2h-1.2zM200.0 91.2h1.2v1.2h-1.2zM258.0 53.6h1.2v1.2h-1.2zM87.6 187.9h1.2v1.2h-1.2zM148.6 220.5h1.2v1.2h-1.2zM144.2 173.1h1.2v1.2h-1.2zM204.5 74.9h1.2v1.2h-1.2zM215.5 165.1h1.2v1.2h-1.2zM174.0 323.3h1.2v1.2h-1.2zM105.1 235.9h1.2v1.2h-1.2zM126.3 297.7h1.2v1.2h-1.2zM225.7 139.1h1.2v1.2h-1.2zM214.9 156.5h1.2v1.2h-1.2zM215.6 174.9h1.2v1.2h-1.2zM138.7 282.0h1.2v1.2h-1.2zM96.6 98.0h1.2v1.2h-1.2zM100.2 142.2h1.2v1.2h-1.2zM72.2 185.2h1.2v1.2h-1.2zM223.5 150.9h1.2v1.2h-1.2zM222.6 161.8h1.2v1.2h-1.2zM90.2 206.0h1.2v1.2h-1.2zM160.7 273.7h1.2v1.2h-1.2zM88.5 166.1h1.2v1.2h-1.2zM122.0 189.5h1.2v1.2h-1.2zM100.3 232.8h1.2v1.2h-1.2zM269.0 78.8h1.2v1.2h-1.2zM142.3 300.0h1.2v1.2h-1.2zM124.4 130.0h1.2v1.2h-1.2zM182.5 226.8h1.2v1.2h-1.2zM128.3 100.7h1.2v1.2h-1.2zM96.2 132.3h1.2v1.2h-1.2zM165.3 89.6h1.2v1.2h-1.2zM123.0 121.5h1.2v1.2h-1.2zM131.2 325.7h1.2v1.2h-1.2zM48.0 102.5h1.2v1.2h-1.2zM149.9 229.2h1.2v1.2h-1.2zM127.9 227.8h1.2v1.2h-1.2zM270.4 121.9h1.2v1.2h-1.2zM137.6 139.3h1.2v1.2h-1.2zM75.3 127.4h1.2v1.2h-1.2zM132.4 120.2h1.2v1.2h-1.2zM63.7 135.0h1.2v1.2h-1.2zM65.7 89.8h1.2v1.2h-1.2zM194.4 227.4h1.2v1.2h-1.2zM277.0 109.0h1.2v1.2h-1.2zM126.4 180.0h1.2v1.2h-1.2zM114.7 134.8h1.2v1.2h-1.2zM240.5 107.6h1.2v1.2h-1.2zM98.2 168.9h1.2v1.2h-1.2zM252.7 61.2h1.2v1.2h-1.2zM124.4 163.9h1.2v1.2h-1.2zM94.8 147.3h1.2v1.2h-1.2zM119.5 130.4h1.2v1.2h-1.2zM69.2 217.6h1.2v1.2h-1.2zM119.8 130.5h1.2v1.2h-1.2zM222.0 86.0h1.2v1.2h-1.2zM76.1 134.5h1.2v1.2h-1.2zM236.3 161.0h1.2v1.2h-1.2zM114.8 350.0h1.2v1.2h-1.2zM192.6 76.9h1.2v1.2h-1.2zM164.6 170.4h1.2v1.2h-1.2zM112.5 196.0h1.2v1.2h-1.2zM195.2 71.9h1.2v1.2h-1.2zM200.9 335.0h1.2v1.2h-1.2zM170.6 98.1h1.2v1.2h-1.2zM140.9 107.8h1.2v1.2h-1.2zM170.9 338.1h1.2v1.2h-1.2zM188.1 132.1h1.2v1.2h-1.2zM200.0 161.2h1.2v1.2h-1.2zM116.6 89.1h1.2v1.2h-1.2zM159.3 299.7h1.2v1.2h-1.2zM247.2 54.6h1.2v1.2h-1.2zM170.3 304.8h1.2v1.2h-1.2zM75.9 106.5h1.2v1.2h-1.2zM262.1 89.8h1.2v1.2h-1.2zM213.2 154.8h1.2v1.2h-1.2zM225.9 61.3h1.2v1.2h-1.2zM225.7 122.6h1.2v1.2h-1.2zM76.3 146.1h1.2v1.2h-1.2zM275.1 100.5h1.2v1.2h-1.2zM104.1 207.9h1.2v1.2h-1.2zM243.7 81.8h1.2v1.2h-1.2zM58.9 139.0h1.2v1.2h-1.2zM78.1 142.1h1.2v1.2h-1.2zM235.9 136.6h1.2v1.2h-1.2zM259.8 135.7h1.2v1.2h-1.2zM106.9 104.6h1.2v1.2h-1.2zM96.7 320.6h1.2v1.2h-1.2zM248.5 123.0h1.2v1.2h-1.2zM169.6 155.5h1.2v1.2h-1.2zM132.4 269.4h1.2v1.2h-1.2zM241.3 142.8h1.2v1.2h-1.2zM196.7 77.7h1.2v1.2h-1.2zM105.2 131.8h1.2v1.2h-1.2zM222.0 178.1h1.2v1.2h-1.2zM93.2 191.0h1.2v1.2h-1.2zM42.7 95.2h1.2v1.2h-1.2zM131.1 194.0h1.2v1.2h-1.2zM136.2 341.8h1.2v1.2h-1.2zM243.9 61.6h1.2v1.2h-1.2zM100.7 234.6h1.2v1.2h-1.2zM117.7 116.5h1.2v1.2h-1.2zM192.4 159.0h1.2v1.2h-1.2zM63.6 133.2h1.2v1.2h-1.2zM157.1 80.6h1.2v1.2h-1.2zM130.3 336.4h1.2v1.2h-1.2zM72.4 80.3h1.2v1.2h-1.2zM109.3 76.6h1.2v1.2h-1.2zM116.0 103.0h1.2v1.2h-1.2zM91.1 84.8h1.2v1.2h-1.2zM113.1 146.6h1.2v1.2h-1.2zM191.6 256.1h1.2v1.2h-1.2zM181.4 298.6h1.2v1.2h-1.2zM91.0 134.9h1.2v1.2h-1.2zM69.6 95.7h1.2v1.2h-1.2zM161.4 171.3h1.2v1.2h-1.2zM203.6 231.6h1.2v1.2h-1.2zM173.3 162.1h1.2v1.2h-1.2zM93.8 210.1h1.2v1.2h-1.2zM123.7 136.7h1.2v1.2h-1.2zM54.1 107.6h1.2v1.2h-1.2zM141.4 161.6h1.2v1.2h-1.2zM90.4 161.0h1.2v1.2h-1.2zM64.2 196.5h1.2v1.2h-1.2zM101.7 141.8h1.2v1.2h-1.2zM69.7 134.9h1.2v1.2h-1.2zM128.2 259.0h1.2v1.2h-1.2zM56.2 139.1h1.2v1.2h-1.2zM70.4 104.1h1.2v1.2h-1.2zM132.7 152.0h1.2v1.2h-1.2zM108.1 125.7h1.2v1.2h-1.2zM49.7 118.9h1.2v1.2h-1.2zM59.6 118.2h1.2v1.2h-1.2zM129.9 139.2h1.2v1.2h-1.2zM85.3 114.2h1.2v1.2h-1.2zM134.4 131.4h1.2v1.2h-1.2zM134.2 101.3h1.2v1.2h-1.2zM48.0 112.1h1.2v1.2h-1.2zM123.8 91.4h1.2v1.2h-1.2zM145.6 133.1h1.2v1.2h-1.2zM54.7 130.5h1.2v1.2h-1.2zM136.1 120.1h1.2v1.2h-1.2zM92.1 87.6h1.2v1.2h-1.2zM108.1 87.1h1.2v1.2h-1.2zM100.7 94.7h1.2v1.2h-1.2zM67.3 81.4h1.2v1.2h-1.2zM77.8 130.7h1.2v1.2h-1.2zM45.6 92.3h1.2v1.2h-1.2zM69.8 92.5h1.2v1.2h-1.2zM122.6 106.1h1.2v1.2h-1.2zM102.6 109.1h1.2v1.2h-1.2zM129.0 83.1h1.2v1.2h-1.2zM133.0 138.3h1.2v1.2h-1.2zM99.6 153.7h1.2v1.2h-1.2zM53.6 78.3h1.2v1.2h-1.2zM90.4 153.7h1.2v1.2h-1.2zM76.9 128.3h1.2v1.2h-1.2zM94.9 110.8h1.2v1.2h-1.2zM125.9 140.8h1.2v1.2h-1.2zM92.8 76.3h1.2v1.2h-1.2zM60.1 79.3h1.2v1.2h-1.2zM65.0 80.8h1.2v1.2h-1.2zM61.6 138.1h1.2v1.2h-1.2zM89.9 119.3h1.2v1.2h-1.2zM105.0 149.6h1.2v1.2h-1.2zM71.3 81.6h1.2v1.2h-1.2zM97.8 159.4h1.2v1.2h-1.2zM56.2 123.5h1.2v1.2h-1.2zM58.1 155.6h1.2v1.2h-1.2zM129.6 147.4h1.2v1.2h-1.2zM122.5 114.5h1.2v1.2h-1.2zM65.6 155.6h1.2v1.2h-1.2zM106.9 142.9h1.2v1.2h-1.2zM139.2 129.5h1.2v1.2h-1.2zM105.5 133.7h1.2v1.2h-1.2zM60.0 131.0h1.2v1.2h-1.2zM92.2 115.3h1.2v1.2h-1.2zM137.1 94.8h1.2v1.2h-1.2zM69.7 106.6h1.2v1.2h-1.2zM56.8 145.0h1.2v1.2h-1.2zM88.0 113.6h1.2v1.2h-1.2zM66.0 108.9h1.2v1.2h-1.2zM121.7 138.7h1.2v1.2h-1.2zM130.3 146.8h1.2v1.2h-1.2zM115.1 142.6h1.2v1.2h-1.2zM74.5 114.5h1.2v1.2h-1.2zM152.2 133.3h1.2v1.2h-1.2zM116.4 76.5h1.2v1.2h-1.2zM66.0 157.8h1.2v1.2h-1.2zM110.9 112.6h1.2v1.2h-1.2zM136.7 134.7h1.2v1.2h-1.2zM107.6 145.1h1.2v1.2h-1.2zM103.0 127.1h1.2v1.2h-1.2zM140.1 126.4h1.2v1.2h-1.2zM127.7 151.9h1.2v1.2h-1.2zM132.4 154.7h1.2v1.2h-1.2zM118.3 149.4h1.2v1.2h-1.2zM58.7 151.9h1.2v1.2h-1.2zM97.5 98.0h1.2v1.2h-1.2zM98.4 110.1h1.2v1.2h-1.2zM106.9 113.0h1.2v1.2h-1.2zM79.0 142.0h1.2v1.2h-1.2zM96.7 109.4h1.2v1.2h-1.2zM128.4 147.4h1.2v1.2h-1.2zM77.4 137.5h1.2v1.2h-1.2zM56.5 139.0h1.2v1.2h-1.2zM136.7 101.6h1.2v1.2h-1.2zM108.2 126.1h1.2v1.2h-1.2zM100.6 97.8h1.2v1.2h-1.2zM104.0 88.6h1.2v1.2h-1.2zM121.2 100.4h1.2v1.2h-1.2zM73.5 79.8h1.2v1.2h-1.2zM137.5 141.6h1.2v1.2h-1.2zM83.4 139.8h1.2v1.2h-1.2zM131.9 129.6h1.2v1.2h-1.2zM74.4 79.0h1.2v1.2h-1.2zM54.0 133.3h1.2v1.2h-1.2zM66.2 88.4h1.2v1.2h-1.2zM84.8 136.8h1.2v1.2h-1.2zM103.7 110.3h1.2v1.2h-1.2zM114.4 144.5h1.2v1.2h-1.2zM126.6 127.6h1.2v1.2h-1.2zM54.6 157.7h1.2v1.2h-1.2zM52.2 92.2h1.2v1.2h-1.2zM119.8 155.6h1.2v1.2h-1.2zM125.1 83.2h1.2v1.2h-1.2zM129.0 126.0h1.2v1.2h-1.2zM124.2 141.4h1.2v1.2h-1.2zM56.1 100.9h1.2v1.2h-1.2zM136.0 101.8h1.2v1.2h-1.2zM69.3 157.6h1.2v1.2h-1.2zM72.5 102.4h1.2v1.2h-1.2zM73.4 128.0h1.2v1.2h-1.2zM61.0 89.8h1.2v1.2h-1.2zM89.8 82.1h1.2v1.2h-1.2zM107.6 144.5h1.2v1.2h-1.2zM107.8 153.1h1.2v1.2h-1.2zM61.9 136.9h1.2v1.2h-1.2zM68.7 112.6h1.2v1.2h-1.2zM109.1 113.3h1.2v1.2h-1.2zM93.6 94.5h1.2v1.2h-1.2zM87.1 88.2h1.2v1.2h-1.2zM59.8 92.2h1.2v1.2h-1.2zM105.9 135.5h1.2v1.2h-1.2zM59.4 114.1h1.2v1.2h-1.2zM140.8 131.9h1.2v1.2h-1.2zM105.9 129.5h1.2v1.2h-1.2zM97.6 85.2h1.2v1.2h-1.2zM73.1 138.6h1.2v1.2h-1.2zM109.3 144.1h1.2v1.2h-1.2zM58.0 98.7h1.2v1.2h-1.2zM97.8 116.5h1.2v1.2h-1.2zM86.0 139.2h1.2v1.2h-1.2zM60.7 91.3h1.2v1.2h-1.2zM102.2 105.8h1.2v1.2h-1.2zM74.5 151.7h1.2v1.2h-1.2zM78.2 80.3h1.2v1.2h-1.2zM82.8 78.6h1.2v1.2h-1.2zM87.6 115.4h1.2v1.2h-1.2zM122.1 95.8h1.2v1.2h-1.2zM70.3 138.7h1.2v1.2h-1.2zM109.3 156.3h1.2v1.2h-1.2zM116.7 128.7h1.2v1.2h-1.2zM48.6 89.7h1.2v1.2h-1.2zM109.4 86.6h1.2v1.2h-1.2zM73.2 115.1h1.2v1.2h-1.2zM59.4 95.1h1.2v1.2h-1.2zM100.4 93.2h1.2v1.2h-1.2zM79.4 136.8h1.2v1.2h-1.2zM101.8 120.7h1.2v1.2h-1.2zM59.3 104.5h1.2v1.2h-1.2zM87.8 116.7h1.2v1.2h-1.2zM136.1 147.0h1.2v1.2h-1.2zM125.0 87.2h1.2v1.2h-1.2zM157.1 144.6h1.2v1.2h-1.2zM83.5 109.7h1.2v1.2h-1.2zM91.0 85.3h1.2v1.2h-1.2zM87.7 136.1h1.2v1.2h-1.2zM113.4 130.5h1.2v1.2h-1.2zM75.8 141.4h1.2v1.2h-1.2zM146.7 129.2h1.2v1.2h-1.2zM115.0 147.6h1.2v1.2h-1.2zM103.9 110.8h1.2v1.2h-1.2zM67.6 102.6h1.2v1.2h-1.2zM139.6 145.8h1.2v1.2h-1.2zM102.2 159.2h1.2v1.2h-1.2zM122.5 141.6h1.2v1.2h-1.2zM71.4 76.4h1.2v1.2h-1.2zM86.6 116.3h1.2v1.2h-1.2zM70.4 148.2h1.2v1.2h-1.2zM81.5 94.9h1.2v1.2h-1.2zM104.7 148.3h1.2v1.2h-1.2zM100.7 154.4h1.2v1.2h-1.2zM126.2 156.1h1.2v1.2h-1.2zM81.1 109.9h1.2v1.2h-1.2zM100.1 156.3h1.2v1.2h-1.2zM77.6 152.5h1.2v1.2h-1.2zM114.4 105.3h1.2v1.2h-1.2zM72.6 159.8h1.2v1.2h-1.2zM131.8 137.2h1.2v1.2h-1.2zM75.0 151.0h1.2v1.2h-1.2zM44.3 100.2h1.2v1.2h-1.2zM100.1 112.7h1.2v1.2h-1.2zM73.9 157.5h1.2v1.2h-1.2zM128.5 145.6h1.2v1.2h-1.2zM109.8 97.2h1.2v1.2h-1.2zM139.4 109.0h1.2v1.2h-1.2zM49.7 116.8h1.2v1.2h-1.2zM121.3 101.8h1.2v1.2h-1.2zM108.6 107.3h1.2v1.2h-1.2zM113.8 141.3h1.2v1.2h-1.2zM104.9 133.5h1.2v1.2h-1.2zM112.6 141.4h1.2v1.2h-1.2zM102.1 88.2h1.2v1.2h-1.2zM82.2 148.6h1.2v1.2h-1.2zM118.2 95.2h1.2v1.2h-1.2zM44.5 86.2h1.2v1.2h-1.2zM42.8 84.7h1.2v1.2h-1.2zM48.5 89.7h1.2v1.2h-1.2zM48.1 84.6h1.2v1.2h-1.2zM44.9 81.6h1.2v1.2h-1.2zM45.0 88.9h1.2v1.2h-1.2zM46.9 83.9h1.2v1.2h-1.2zM45.7 92.4h1.2v1.2h-1.2zM44.5 89.5h1.2v1.2h-1.2zM46.8 88.1h1.2v1.2h-1.2zM43.3 87.0h1.2v1.2h-1.2zM49.1 85.2h1.2v1.2h-1.2zM49.8 90.7h1.2v1.2h-1.2zM43.6 90.5h1.2v1.2h-1.2zM44.9 88.0h1.2v1.2h-1.2zM44.7 83.9h1.2v1.2h-1.2zM45.3 81.6h1.2v1.2h-1.2zM44.9 86.8h1.2v1.2h-1.2zM46.7 92.7h1.2v1.2h-1.2zM44.1 87.3h1.2v1.2h-1.2zM99.6 73.8h1.2v1.2h-1.2zM103.1 73.8h1.2v1.2h-1.2zM98.5 75.2h1.2v1.2h-1.2zM107.6 76.3h1.2v1.2h-1.2zM100.0 74.0h1.2v1.2h-1.2zM105.0 77.3h1.2v1.2h-1.2zM104.2 78.3h1.2v1.2h-1.2zM102.4 75.5h1.2v1.2h-1.2zM106.9 76.2h1.2v1.2h-1.2zM98.6 76.6h1.2v1.2h-1.2zM99.5 75.2h1.2v1.2h-1.2zM97.4 74.5h1.2v1.2h-1.2zM108.1 76.5h1.2v1.2h-1.2zM97.1 75.2h1.2v1.2h-1.2zM101.6 77.4h1.2v1.2h-1.2zM103.8 76.2h1.2v1.2h-1.2zM105.0 76.2h1.2v1.2h-1.2zM98.1 78.0h1.2v1.2h-1.2zM99.2 73.6h1.2v1.2h-1.2zM101.0 76.5h1.2v1.2h-1.2zM98.2 77.0h1.2v1.2h-1.2zM98.8 75.8h1.2v1.2h-1.2zM104.6 74.5h1.2v1.2h-1.2zM100.0 75.4h1.2v1.2h-1.2zM102.9 78.9h1.2v1.2h-1.2zM105.3 77.1h1.2v1.2h-1.2zM100.1 77.9h1.2v1.2h-1.2zM107.7 74.6h1.2v1.2h-1.2zM95.7 123.7h1.2v1.2h-1.2zM96.4 102.1h1.2v1.2h-1.2zM95.6 93.0h1.2v1.2h-1.2zM96.2 117.7h1.2v1.2h-1.2zM95.4 114.2h1.2v1.2h-1.2zM96.1 95.0h1.2v1.2h-1.2zM96.8 96.3h1.2v1.2h-1.2zM95.3 104.5h1.2v1.2h-1.2zM95.4 99.3h1.2v1.2h-1.2zM96.1 113.7h1.2v1.2h-1.2zM95.4 120.1h1.2v1.2h-1.2zM96.5 89.3h1.2v1.2h-1.2zM102.5 97.0h1.2v1.2h-1.2zM110.3 90.8h1.2v1.2h-1.2zM111.7 91.6h1.2v1.2h-1.2zM134.0 87.4h1.2v1.2h-1.2zM100.6 101.3h1.2v1.2h-1.2zM74.9 88.0h1.2v1.2h-1.2zM80.2 85.9h1.2v1.2h-1.2zM114.6 78.0h1.2v1.2h-1.2zM72.2 80.5h1.2v1.2h-1.2zM98.4 95.4h1.2v1.2h-1.2zM75.3 96.2h1.2v1.2h-1.2zM109.1 89.5h1.2v1.2h-1.2zM122.2 103.9h1.2v1.2h-1.2zM72.8 84.5h1.2v1.2h-1.2zM125.5 78.1h1.2v1.2h-1.2zM106.5 81.4h1.2v1.2h-1.2zM115.3 78.6h1.2v1.2h-1.2zM78.4 79.3h1.2v1.2h-1.2zM75.9 100.7h1.2v1.2h-1.2zM85.9 95.9h1.2v1.2h-1.2zM72.0 86.5h1.2v1.2h-1.2zM83.9 100.7h1.2v1.2h-1.2zM94.6 105.8h1.2v1.2h-1.2zM89.5 95.1h1.2v1.2h-1.2zM152.2 92.9h1.2v1.2h-1.2zM138.2 99.5h1.2v1.2h-1.2zM141.1 93.7h1.2v1.2h-1.2zM157.3 74.6h1.2v1.2h-1.2zM157.1 88.0h1.2v1.2h-1.2zM147.4 74.7h1.2v1.2h-1.2zM144.1 92.4h1.2v1.2h-1.2zM147.1 78.9h1.2v1.2h-1.2zM146.7 79.6h1.2v1.2h-1.2zM141.2 81.7h1.2v1.2h-1.2zM156.6 79.5h1.2v1.2h-1.2zM142.3 96.4h1.2v1.2h-1.2zM151.0 77.5h1.2v1.2h-1.2zM154.4 87.4h1.2v1.2h-1.2zM163.5 71.6h1.2v1.2h-1.2zM134.0 86.8h1.2v1.2h-1.2zM146.2 75.2h1.2v1.2h-1.2zM140.5 95.7h1.2v1.2h-1.2zM142.1 85.6h1.2v1.2h-1.2zM146.8 97.8h1.2v1.2h-1.2zM151.0 98.0h1.2v1.2h-1.2zM139.9 82.9h1.2v1.2h-1.2zM161.4 74.1h1.2v1.2h-1.2zM136.9 91.5h1.2v1.2h-1.2zM134.9 89.9h1.2v1.2h-1.2zM138.7 96.4h1.2v1.2h-1.2zM146.8 96.7h1.2v1.2h-1.2zM140.7 96.5h1.2v1.2h-1.2zM158.4 78.2h1.2v1.2h-1.2zM137.3 78.7h1.2v1.2h-1.2zM139.9 90.4h1.2v1.2h-1.2zM138.8 96.7h1.2v1.2h-1.2zM141.8 88.7h1.2v1.2h-1.2zM137.6 80.0h1.2v1.2h-1.2zM157.2 88.3h1.2v1.2h-1.2zM151.7 93.6h1.2v1.2h-1.2zM153.7 74.8h1.2v1.2h-1.2zM138.0 107.7h1.2v1.2h-1.2zM135.6 109.9h1.2v1.2h-1.2zM139.7 101.7h1.2v1.2h-1.2zM138.8 107.9h1.2v1.2h-1.2zM134.6 101.6h1.2v1.2h-1.2zM135.4 109.7h1.2v1.2h-1.2zM132.3 108.2h1.2v1.2h-1.2zM133.7 112.0h1.2v1.2h-1.2zM130.3 99.3h1.2v1.2h-1.2zM140.6 104.4h1.2v1.2h-1.2zM128.6 110.6h1.2v1.2h-1.2zM193.1 77.7h1.2v1.2h-1.2zM156.8 97.1h1.2v1.2h-1.2zM172.0 98.0h1.2v1.2h-1.2zM195.5 80.5h1.2v1.2h-1.2zM171.4 87.5h1.2v1.2h-1.2zM166.6 86.7h1.2v1.2h-1.2zM155.6 99.4h1.2v1.2h-1.2zM240.8 75.7h1.2v1.2h-1.2zM231.8 73.9h1.2v1.2h-1.2zM239.3 79.7h1.2v1.2h-1.2zM205.9 73.9h1.2v1.2h-1.2zM235.1 56.9h1.2v1.2h-1.2zM201.5 78.1h1.2v1.2h-1.2zM217.4 60.0h1.2v1.2h-1.2zM220.7 73.6h1.2v1.2h-1.2zM214.2 69.7h1.2v1.2h-1.2zM198.0 75.5h1.2v1.2h-1.2zM240.5 74.5h1.2v1.2h-1.2zM237.3 65.5h1.2v1.2h-1.2zM203.5 76.8h1.2v1.2h-1.2zM247.2 63.1h1.2v1.2h-1.2zM242.0 61.4h1.2v1.2h-1.2zM215.9 63.3h1.2v1.2h-1.2zM214.4 68.0h1.2v1.2h-1.2zM245.7 66.5h1.2v1.2h-1.2zM237.9 68.7h1.2v1.2h-1.2zM213.9 72.3h1.2v1.2h-1.2zM215.7 58.8h1.2v1.2h-1.2zM232.5 62.0h1.2v1.2h-1.2zM232.7 70.5h1.2v1.2h-1.2zM217.7 62.9h1.2v1.2h-1.2zM197.6 68.9h1.2v1.2h-1.2zM214.1 77.6h1.2v1.2h-1.2zM225.2 71.0h1.2v1.2h-1.2zM200.8 76.5h1.2v1.2h-1.2zM208.1 77.4h1.2v1.2h-1.2zM204.6 65.7h1.2v1.2h-1.2zM206.5 72.9h1.2v1.2h-1.2zM215.8 80.6h1.2v1.2h-1.2zM239.7 60.5h1.2v1.2h-1.2zM231.2 57.2h1.2v1.2h-1.2zM234.9 72.5h1.2v1.2h-1.2zM198.9 66.5h1.2v1.2h-1.2zM241.6 65.9h1.2v1.2h-1.2zM196.4 68.9h1.2v1.2h-1.2zM226.0 82.0h1.2v1.2h-1.2zM232.7 74.9h1.2v1.2h-1.2zM217.7 63.4h1.2v1.2h-1.2zM232.6 77.7h1.2v1.2h-1.2zM236.8 78.9h1.2v1.2h-1.2zM243.4 74.2h1.2v1.2h-1.2zM216.6 62.7h1.2v1.2h-1.2zM202.8 81.6h1.2v1.2h-1.2zM203.4 62.2h1.2v1.2h-1.2zM233.9 57.3h1.2v1.2h-1.2zM214.2 61.0h1.2v1.2h-1.2zM196.9 72.1h1.2v1.2h-1.2zM230.7 68.1h1.2v1.2h-1.2zM209.5 78.2h1.2v1.2h-1.2zM220.8 69.8h1.2v1.2h-1.2zM211.3 63.5h1.2v1.2h-1.2zM227.2 78.7h1.2v1.2h-1.2zM244.1 66.7h1.2v1.2h-1.2zM225.6 74.3h1.2v1.2h-1.2zM216.4 72.4h1.2v1.2h-1.2zM233.2 79.1h1.2v1.2h-1.2zM206.5 67.4h1.2v1.2h-1.2zM214.5 82.0h1.2v1.2h-1.2zM204.9 61.0h1.2v1.2h-1.2zM237.7 65.5h1.2v1.2h-1.2zM217.7 59.8h1.2v1.2h-1.2zM228.6 69.9h1.2v1.2h-1.2zM227.3 58.1h1.2v1.2h-1.2zM245.5 68.6h1.2v1.2h-1.2zM219.5 67.9h1.2v1.2h-1.2zM227.9 58.2h1.2v1.2h-1.2zM217.8 74.7h1.2v1.2h-1.2zM246.8 70.3h1.2v1.2h-1.2zM209.3 69.8h1.2v1.2h-1.2zM207.0 67.7h1.2v1.2h-1.2zM230.8 79.1h1.2v1.2h-1.2zM224.2 69.3h1.2v1.2h-1.2zM209.9 70.9h1.2v1.2h-1.2zM242.8 78.8h1.2v1.2h-1.2zM228.7 65.9h1.2v1.2h-1.2zM226.9 64.6h1.2v1.2h-1.2zM232.1 68.5h1.2v1.2h-1.2zM235.0 62.4h1.2v1.2h-1.2zM201.9 65.0h1.2v1.2h-1.2zM246.9 69.5h1.2v1.2h-1.2zM224.7 73.1h1.2v1.2h-1.2zM229.0 57.4h1.2v1.2h-1.2zM230.3 68.1h1.2v1.2h-1.2zM197.8 72.1h1.2v1.2h-1.2zM219.3 58.9h1.2v1.2h-1.2zM241.3 68.8h1.2v1.2h-1.2zM241.2 66.6h1.2v1.2h-1.2zM203.8 77.1h1.2v1.2h-1.2zM204.0 79.1h1.2v1.2h-1.2zM222.3 76.8h1.2v1.2h-1.2zM219.2 81.3h1.2v1.2h-1.2zM198.9 70.4h1.2v1.2h-1.2zM231.1 70.7h1.2v1.2h-1.2zM221.1 75.9h1.2v1.2h-1.2zM212.3 67.9h1.2v1.2h-1.2zM241.4 65.0h1.2v1.2h-1.2zM206.3 73.7h1.2v1.2h-1.2zM200.7 64.6h1.2v1.2h-1.2zM239.3 64.2h1.2v1.2h-1.2zM234.6 80.8h1.2v1.2h-1.2zM246.0 62.6h1.2v1.2h-1.2zM233.3 63.0h1.2v1.2h-1.2zM234.4 67.1h1.2v1.2h-1.2zM232.7 59.1h1.2v1.2h-1.2zM245.0 70.3h1.2v1.2h-1.2zM210.4 73.2h1.2v1.2h-1.2zM224.5 82.3h1.2v1.2h-1.2zM212.6 79.2h1.2v1.2h-1.2zM216.2 61.9h1.2v1.2h-1.2zM217.2 71.7h1.2v1.2h-1.2zM203.6 69.6h1.2v1.2h-1.2zM203.2 61.9h1.2v1.2h-1.2zM234.9 74.3h1.2v1.2h-1.2zM197.5 63.2h1.2v1.2h-1.2zM201.9 64.0h1.2v1.2h-1.2zM210.8 79.9h1.2v1.2h-1.2zM223.2 68.9h1.2v1.2h-1.2zM206.3 79.7h1.2v1.2h-1.2zM210.0 78.0h1.2v1.2h-1.2zM204.3 76.8h1.2v1.2h-1.2zM245.8 74.7h1.2v1.2h-1.2zM212.5 79.7h1.2v1.2h-1.2zM227.8 70.7h1.2v1.2h-1.2zM237.7 67.1h1.2v1.2h-1.2zM221.6 71.4h1.2v1.2h-1.2zM236.3 72.4h1.2v1.2h-1.2zM212.9 69.2h1.2v1.2h-1.2zM223.7 79.1h1.2v1.2h-1.2zM232.3 72.5h1.2v1.2h-1.2zM222.6 66.0h1.2v1.2h-1.2zM210.8 76.2h1.2v1.2h-1.2zM237.8 72.2h1.2v1.2h-1.2zM230.0 65.9h1.2v1.2h-1.2zM226.0 78.5h1.2v1.2h-1.2zM230.9 64.3h1.2v1.2h-1.2zM216.7 79.4h1.2v1.2h-1.2zM214.2 73.2h1.2v1.2h-1.2zM238.6 68.1h1.2v1.2h-1.2zM225.4 71.3h1.2v1.2h-1.2zM229.7 79.2h1.2v1.2h-1.2zM224.8 68.8h1.2v1.2h-1.2zM207.7 70.7h1.2v1.2h-1.2zM204.2 69.3h1.2v1.2h-1.2zM241.0 72.2h1.2v1.2h-1.2zM245.3 76.5h1.2v1.2h-1.2zM226.5 71.8h1.2v1.2h-1.2zM225.1 70.1h1.2v1.2h-1.2zM225.1 67.3h1.2v1.2h-1.2zM236.3 65.8h1.2v1.2h-1.2zM234.3 75.4h1.2v1.2h-1.2zM238.9 73.3h1.2v1.2h-1.2zM233.3 68.7h1.2v1.2h-1.2zM231.6 77.6h1.2v1.2h-1.2zM210.7 71.3h1.2v1.2h-1.2zM235.0 73.3h1.2v1.2h-1.2zM241.1 64.1h1.2v1.2h-1.2zM204.3 79.1h1.2v1.2h-1.2zM240.0 74.7h1.2v1.2h-1.2zM236.4 73.7h1.2v1.2h-1.2zM231.1 73.0h1.2v1.2h-1.2zM228.2 72.1h1.2v1.2h-1.2zM235.5 77.2h1.2v1.2h-1.2zM231.2 74.0h1.2v1.2h-1.2zM207.3 65.9h1.2v1.2h-1.2zM226.7 70.4h1.2v1.2h-1.2zM245.9 78.0h1.2v1.2h-1.2zM237.1 78.9h1.2v1.2h-1.2zM222.9 71.3h1.2v1.2h-1.2zM205.3 71.8h1.2v1.2h-1.2zM239.2 66.5h1.2v1.2h-1.2zM244.8 70.5h1.2v1.2h-1.2zM245.3 75.3h1.2v1.2h-1.2zM207.0 78.8h1.2v1.2h-1.2zM213.3 67.5h1.2v1.2h-1.2zM233.6 75.9h1.2v1.2h-1.2zM203.9 70.4h1.2v1.2h-1.2zM213.3 66.3h1.2v1.2h-1.2zM236.2 64.9h1.2v1.2h-1.2zM206.3 79.9h1.2v1.2h-1.2zM238.2 67.3h1.2v1.2h-1.2zM211.0 78.1h1.2v1.2h-1.2zM239.1 68.0h1.2v1.2h-1.2zM211.4 72.6h1.2v1.2h-1.2zM229.9 68.8h1.2v1.2h-1.2zM211.1 79.5h1.2v1.2h-1.2zM226.7 66.4h1.2v1.2h-1.2zM242.4 72.0h1.2v1.2h-1.2zM205.6 79.9h1.2v1.2h-1.2zM232.4 71.9h1.2v1.2h-1.2zM236.8 70.0h1.2v1.2h-1.2zM241.6 73.7h1.2v1.2h-1.2zM224.3 66.8h1.2v1.2h-1.2zM212.7 70.2h1.2v1.2h-1.2zM244.8 70.4h1.2v1.2h-1.2zM220.9 71.7h1.2v1.2h-1.2zM223.6 64.0h1.2v1.2h-1.2zM232.4 70.6h1.2v1.2h-1.2zM229.3 70.3h1.2v1.2h-1.2zM227.8 71.6h1.2v1.2h-1.2zM210.5 75.1h1.2v1.2h-1.2zM225.7 84.1h1.2v1.2h-1.2zM231.2 88.5h1.2v1.2h-1.2zM242.4 91.6h1.2v1.2h-1.2zM242.9 88.9h1.2v1.2h-1.2zM224.2 88.9h1.2v1.2h-1.2zM239.6 87.4h1.2v1.2h-1.2zM233.8 89.6h1.2v1.2h-1.2zM233.4 85.1h1.2v1.2h-1.2zM239.2 91.4h1.2v1.2h-1.2zM225.1 84.4h1.2v1.2h-1.2zM230.4 86.5h1.2v1.2h-1.2zM245.8 91.1h1.2v1.2h-1.2zM230.7 82.0h1.2v1.2h-1.2zM238.5 89.5h1.2v1.2h-1.2zM229.9 87.2h1.2v1.2h-1.2zM240.5 81.9h1.2v1.2h-1.2zM229.1 89.6h1.2v1.2h-1.2zM224.9 85.3h1.2v1.2h-1.2zM239.6 90.1h1.2v1.2h-1.2zM231.6 87.2h1.2v1.2h-1.2zM242.6 86.8h1.2v1.2h-1.2zM228.9 81.0h1.2v1.2h-1.2zM229.9 86.9h1.2v1.2h-1.2zM225.0 88.0h1.2v1.2h-1.2zM236.4 88.3h1.2v1.2h-1.2zM234.5 87.2h1.2v1.2h-1.2zM231.4 86.9h1.2v1.2h-1.2zM236.7 89.3h1.2v1.2h-1.2zM238.4 90.7h1.2v1.2h-1.2zM237.8 84.4h1.2v1.2h-1.2zM238.8 90.0h1.2v1.2h-1.2zM233.3 89.8h1.2v1.2h-1.2zM244.8 85.2h1.2v1.2h-1.2zM229.4 81.5h1.2v1.2h-1.2zM224.9 83.1h1.2v1.2h-1.2zM241.0 87.5h1.2v1.2h-1.2zM236.9 86.2h1.2v1.2h-1.2zM232.0 86.4h1.2v1.2h-1.2zM228.3 82.9h1.2v1.2h-1.2zM229.6 85.2h1.2v1.2h-1.2zM239.0 87.6h1.2v1.2h-1.2zM234.0 87.1h1.2v1.2h-1.2zM231.8 85.5h1.2v1.2h-1.2zM227.6 84.9h1.2v1.2h-1.2zM234.8 83.3h1.2v1.2h-1.2zM239.3 92.0h1.2v1.2h-1.2zM237.0 89.3h1.2v1.2h-1.2zM238.3 87.7h1.2v1.2h-1.2zM226.2 86.3h1.2v1.2h-1.2zM226.1 86.8h1.2v1.2h-1.2zM242.0 90.1h1.2v1.2h-1.2zM224.5 89.6h1.2v1.2h-1.2zM241.1 91.9h1.2v1.2h-1.2zM231.9 90.8h1.2v1.2h-1.2zM236.1 91.5h1.2v1.2h-1.2zM240.6 88.3h1.2v1.2h-1.2zM230.4 92.3h1.2v1.2h-1.2zM234.5 92.8h1.2v1.2h-1.2zM243.4 87.1h1.2v1.2h-1.2zM229.5 86.2h1.2v1.2h-1.2zM243.3 88.6h1.2v1.2h-1.2zM227.7 86.5h1.2v1.2h-1.2zM230.6 86.0h1.2v1.2h-1.2zM236.7 84.2h1.2v1.2h-1.2zM223.8 87.3h1.2v1.2h-1.2zM238.8 86.6h1.2v1.2h-1.2zM233.2 84.7h1.2v1.2h-1.2zM232.7 89.9h1.2v1.2h-1.2zM227.3 87.5h1.2v1.2h-1.2zM237.1 84.6h1.2v1.2h-1.2zM236.8 87.7h1.2v1.2h-1.2zM232.4 90.7h1.2v1.2h-1.2zM231.6 81.2h1.2v1.2h-1.2zM230.3 88.3h1.2v1.2h-1.2zM239.4 82.6h1.2v1.2h-1.2zM240.2 84.8h1.2v1.2h-1.2zM240.6 86.2h1.2v1.2h-1.2zM236.4 82.9h1.2v1.2h-1.2zM227.8 91.0h1.2v1.2h-1.2zM245.8 89.5h1.2v1.2h-1.2zM232.2 84.6h1.2v1.2h-1.2zM229.8 90.2h1.2v1.2h-1.2zM222.9 84.7h1.2v1.2h-1.2zM233.7 86.5h1.2v1.2h-1.2zM243.2 90.5h1.2v1.2h-1.2zM230.6 87.4h1.2v1.2h-1.2zM225.7 90.2h1.2v1.2h-1.2zM235.8 85.5h1.2v1.2h-1.2zM236.0 90.8h1.2v1.2h-1.2zM233.2 90.3h1.2v1.2h-1.2zM239.9 86.0h1.2v1.2h-1.2zM232.6 92.1h1.2v1.2h-1.2zM230.6 88.1h1.2v1.2h-1.2zM238.2 80.9h1.2v1.2h-1.2zM240.9 88.1h1.2v1.2h-1.2zM227.7 83.7h1.2v1.2h-1.2zM225.1 88.1h1.2v1.2h-1.2zM224.5 87.5h1.2v1.2h-1.2zM222.1 85.7h1.2v1.2h-1.2zM231.6 84.6h1.2v1.2h-1.2zM238.5 85.1h1.2v1.2h-1.2zM229.2 90.3h1.2v1.2h-1.2zM233.3 83.3h1.2v1.2h-1.2zM232.7 87.2h1.2v1.2h-1.2zM233.6 83.8h1.2v1.2h-1.2zM237.0 85.9h1.2v1.2h-1.2zM225.8 87.5h1.2v1.2h-1.2zM222.3 86.5h1.2v1.2h-1.2zM235.3 81.7h1.2v1.2h-1.2zM240.4 86.4h1.2v1.2h-1.2zM225.7 89.5h1.2v1.2h-1.2zM241.7 85.1h1.2v1.2h-1.2zM230.9 88.4h1.2v1.2h-1.2zM226.3 91.7h1.2v1.2h-1.2zM225.8 85.1h1.2v1.2h-1.2zM245.0 85.7h1.2v1.2h-1.2zM230.5 87.7h1.2v1.2h-1.2zM242.5 88.5h1.2v1.2h-1.2zM240.8 85.6h1.2v1.2h-1.2zM240.8 89.1h1.2v1.2h-1.2zM242.9 91.0h1.2v1.2h-1.2zM243.1 92.7h1.2v1.2h-1.2zM243.5 91.3h1.2v1.2h-1.2zM231.0 83.0h1.2v1.2h-1.2zM240.6 90.8h1.2v1.2h-1.2zM235.6 88.2h1.2v1.2h-1.2zM234.0 89.6h1.2v1.2h-1.2zM233.9 83.4h1.2v1.2h-1.2zM240.9 89.7h1.2v1.2h-1.2zM234.7 85.7h1.2v1.2h-1.2zM229.0 83.1h1.2v1.2h-1.2zM244.3 85.4h1.2v1.2h-1.2zM234.6 91.5h1.2v1.2h-1.2zM234.9 84.6h1.2v1.2h-1.2zM242.3 83.7h1.2v1.2h-1.2zM238.6 85.4h1.2v1.2h-1.2zM240.6 86.0h1.2v1.2h-1.2zM231.5 92.0h1.2v1.2h-1.2zM231.4 85.1h1.2v1.2h-1.2zM239.2 91.2h1.2v1.2h-1.2zM234.4 86.2h1.2v1.2h-1.2zM240.1 83.1h1.2v1.2h-1.2zM239.9 91.7h1.2v1.2h-1.2zM224.3 87.2h1.2v1.2h-1.2zM241.8 87.7h1.2v1.2h-1.2zM240.2 85.4h1.2v1.2h-1.2zM232.1 85.4h1.2v1.2h-1.2zM242.0 91.7h1.2v1.2h-1.2zM235.9 84.4h1.2v1.2h-1.2zM237.7 87.4h1.2v1.2h-1.2zM244.5 87.5h1.2v1.2h-1.2zM231.1 82.3h1.2v1.2h-1.2zM233.5 86.6h1.2v1.2h-1.2zM227.0 86.4h1.2v1.2h-1.2zM236.2 89.8h1.2v1.2h-1.2zM234.7 90.7h1.2v1.2h-1.2zM243.2 86.3h1.2v1.2h-1.2zM235.0 88.8h1.2v1.2h-1.2zM226.5 86.5h1.2v1.2h-1.2zM233.0 85.1h1.2v1.2h-1.2zM238.7 91.7h1.2v1.2h-1.2zM242.6 91.3h1.2v1.2h-1.2zM230.6 83.9h1.2v1.2h-1.2zM232.1 89.5h1.2v1.2h-1.2zM234.7 92.1h1.2v1.2h-1.2zM227.0 91.5h1.2v1.2h-1.2zM222.7 87.0h1.2v1.2h-1.2zM239.1 86.6h1.2v1.2h-1.2zM226.8 85.0h1.2v1.2h-1.2zM236.4 87.2h1.2v1.2h-1.2zM229.1 89.4h1.2v1.2h-1.2zM239.4 87.9h1.2v1.2h-1.2zM238.5 87.6h1.2v1.2h-1.2zM239.2 88.2h1.2v1.2h-1.2zM240.4 86.8h1.2v1.2h-1.2zM240.2 83.3h1.2v1.2h-1.2zM237.2 88.5h1.2v1.2h-1.2zM239.8 82.5h1.2v1.2h-1.2zM256.9 103.2h1.2v1.2h-1.2zM266.5 95.6h1.2v1.2h-1.2zM251.5 89.3h1.2v1.2h-1.2zM247.1 89.4h1.2v1.2h-1.2zM255.0 94.2h1.2v1.2h-1.2zM253.4 106.6h1.2v1.2h-1.2zM260.3 103.2h1.2v1.2h-1.2zM258.0 65.7h1.2v1.2h-1.2zM259.3 95.5h1.2v1.2h-1.2zM267.0 81.1h1.2v1.2h-1.2zM251.4 81.0h1.2v1.2h-1.2zM263.5 88.0h1.2v1.2h-1.2zM256.8 70.5h1.2v1.2h-1.2zM264.0 69.2h1.2v1.2h-1.2zM250.9 90.1h1.2v1.2h-1.2zM254.9 94.9h1.2v1.2h-1.2zM259.9 100.2h1.2v1.2h-1.2zM252.6 78.8h1.2v1.2h-1.2zM262.5 89.1h1.2v1.2h-1.2zM256.3 82.1h1.2v1.2h-1.2zM251.2 92.0h1.2v1.2h-1.2zM259.5 85.4h1.2v1.2h-1.2zM261.2 82.8h1.2v1.2h-1.2zM249.3 83.0h1.2v1.2h-1.2zM255.3 106.3h1.2v1.2h-1.2zM260.0 88.2h1.2v1.2h-1.2zM267.9 83.3h1.2v1.2h-1.2zM254.1 80.0h1.2v1.2h-1.2zM254.1 107.9h1.2v1.2h-1.2zM255.6 99.1h1.2v1.2h-1.2zM252.4 74.9h1.2v1.2h-1.2zM254.5 71.3h1.2v1.2h-1.2zM259.1 100.7h1.2v1.2h-1.2zM261.9 76.5h1.2v1.2h-1.2zM258.3 69.8h1.2v1.2h-1.2zM255.7 69.8h1.2v1.2h-1.2zM266.0 105.2h1.2v1.2h-1.2zM251.1 97.8h1.2v1.2h-1.2zM259.2 74.1h1.2v1.2h-1.2zM266.0 85.7h1.2v1.2h-1.2zM255.1 77.3h1.2v1.2h-1.2zM263.6 63.5h1.2v1.2h-1.2zM256.6 100.5h1.2v1.2h-1.2zM271.4 104.3h1.2v1.2h-1.2zM261.3 83.6h1.2v1.2h-1.2zM256.7 65.5h1.2v1.2h-1.2zM246.4 71.3h1.2v1.2h-1.2zM263.6 77.5h1.2v1.2h-1.2zM271.6 105.4h1.2v1.2h-1.2zM248.9 71.8h1.2v1.2h-1.2zM266.6 95.4h1.2v1.2h-1.2zM249.6 70.7h1.2v1.2h-1.2zM266.3 92.6h1.2v1.2h-1.2zM250.4 92.3h1.2v1.2h-1.2zM246.4 72.8h1.2v1.2h-1.2zM254.9 67.7h1.2v1.2h-1.2zM255.7 66.4h1.2v1.2h-1.2zM261.7 88.0h1.2v1.2h-1.2zM248.7 94.9h1.2v1.2h-1.2zM249.5 68.2h1.2v1.2h-1.2zM253.7 94.0h1.2v1.2h-1.2zM258.1 68.6h1.2v1.2h-1.2zM249.9 83.5h1.2v1.2h-1.2zM248.4 75.5h1.2v1.2h-1.2zM266.2 65.2h1.2v1.2h-1.2zM251.3 68.3h1.2v1.2h-1.2zM257.3 79.8h1.2v1.2h-1.2zM254.2 67.8h1.2v1.2h-1.2zM267.0 94.0h1.2v1.2h-1.2zM261.4 124.4h1.2v1.2h-1.2zM257.4 119.7h1.2v1.2h-1.2zM240.2 99.5h1.2v1.2h-1.2zM248.1 110.2h1.2v1.2h-1.2zM258.8 123.5h1.2v1.2h-1.2zM250.3 110.2h1.2v1.2h-1.2zM240.2 98.8h1.2v1.2h-1.2zM253.7 114.6h1.2v1.2h-1.2zM242.8 102.3h1.2v1.2h-1.2zM260.0 125.0h1.2v1.2h-1.2zM256.4 118.5h1.2v1.2h-1.2zM248.8 108.5h1.2v1.2h-1.2zM256.7 118.8h1.2v1.2h-1.2zM250.8 111.4h1.2v1.2h-1.2zM241.1 98.8h1.2v1.2h-1.2zM252.7 114.4h1.2v1.2h-1.2zM248.7 111.1h1.2v1.2h-1.2zM259.7 122.8h1.2v1.2h-1.2zM254.3 115.6h1.2v1.2h-1.2zM248.1 110.1h1.2v1.2h-1.2zM248.9 108.9h1.2v1.2h-1.2zM258.1 121.5h1.2v1.2h-1.2zM245.9 105.6h1.2v1.2h-1.2zM252.7 115.9h1.2v1.2h-1.2zM241.9 101.0h1.2v1.2h-1.2zM241.5 99.5h1.2v1.2h-1.2zM244.6 104.4h1.2v1.2h-1.2zM255.4 118.3h1.2v1.2h-1.2zM252.6 113.0h1.2v1.2h-1.2zM257.7 119.6h1.2v1.2h-1.2zM242.7 101.3h1.2v1.2h-1.2zM261.0 123.5h1.2v1.2h-1.2zM256.5 118.7h1.2v1.2h-1.2zM248.6 109.9h1.2v1.2h-1.2zM255.9 117.9h1.2v1.2h-1.2zM247.5 107.3h1.2v1.2h-1.2zM252.1 114.3h1.2v1.2h-1.2zM244.4 105.9h1.2v1.2h-1.2zM256.1 117.6h1.2v1.2h-1.2zM252.0 115.0h1.2v1.2h-1.2zM248.9 110.4h1.2v1.2h-1.2zM258.5 122.3h1.2v1.2h-1.2zM247.8 110.0h1.2v1.2h-1.2zM255.0 116.4h1.2v1.2h-1.2zM261.4 125.5h1.2v1.2h-1.2zM255.6 119.5h1.2v1.2h-1.2zM258.6 106.7h1.2v1.2h-1.2zM259.1 107.4h1.2v1.2h-1.2zM258.0 109.0h1.2v1.2h-1.2zM230.5 120.6h1.2v1.2h-1.2zM204.1 113.6h1.2v1.2h-1.2zM271.4 74.1h1.2v1.2h-1.2zM253.8 61.1h1.2v1.2h-1.2zM265.1 68.8h1.2v1.2h-1.2zM267.2 90.4h1.2v1.2h-1.2zM271.0 71.8h1.2v1.2h-1.2zM272.8 90.3h1.2v1.2h-1.2zM260.4 54.8h1.2v1.2h-1.2zM245.6 77.5h1.2v1.2h-1.2zM269.3 99.7h1.2v1.2h-1.2zM253.4 80.2h1.2v1.2h-1.2zM261.2 86.7h1.2v1.2h-1.2zM256.6 62.2h1.2v1.2h-1.2zM271.4 73.6h1.2v1.2h-1.2zM272.1 90.0h1.2v1.2h-1.2zM255.1 93.9h1.2v1.2h-1.2zM261.4 78.3h1.2v1.2h-1.2zM266.5 73.4h1.2v1.2h-1.2zM248.8 87.4h1.2v1.2h-1.2zM248.2 63.1h1.2v1.2h-1.2zM260.6 90.2h1.2v1.2h-1.2zM244.6 69.1h1.2v1.2h-1.2zM259.5 71.7h1.2v1.2h-1.2zM252.9 89.0h1.2v1.2h-1.2zM262.2 75.8h1.2v1.2h-1.2zM259.7 94.3h1.2v1.2h-1.2zM267.4 88.5h1.2v1.2h-1.2zM268.1 98.9h1.2v1.2h-1.2zM272.1 96.3h1.2v1.2h-1.2zM276.4 96.3h1.2v1.2h-1.2zM268.4 90.3h1.2v1.2h-1.2zM272.5 84.2h1.2v1.2h-1.2zM257.7 75.5h1.2v1.2h-1.2zM256.0 71.0h1.2v1.2h-1.2zM257.4 65.6h1.2v1.2h-1.2zM268.0 96.4h1.2v1.2h-1.2zM245.8 73.7h1.2v1.2h-1.2zM249.0 79.7h1.2v1.2h-1.2zM265.8 76.8h1.2v1.2h-1.2zM271.6 87.7h1.2v1.2h-1.2zM272.1 76.6h1.2v1.2h-1.2zM270.8 85.3h1.2v1.2h-1.2zM263.4 71.6h1.2v1.2h-1.2zM258.2 75.4h1.2v1.2h-1.2zM267.6 91.5h1.2v1.2h-1.2zM262.7 81.4h1.2v1.2h-1.2zM262.1 56.5h1.2v1.2h-1.2zM254.1 81.9h1.2v1.2h-1.2zM269.0 98.0h1.2v1.2h-1.2zM261.1 85.3h1.2v1.2h-1.2zM258.1 99.3h1.2v1.2h-1.2zM272.1 85.6h1.2v1.2h-1.2zM267.7 83.4h1.2v1.2h-1.2zM270.3 79.5h1.2v1.2h-1.2zM254.1 103.0h1.2v1.2h-1.2zM254.1 72.3h1.2v1.2h-1.2zM257.6 57.5h1.2v1.2h-1.2zM258.0 67.0h1.2v1.2h-1.2zM247.3 70.9h1.2v1.2h-1.2zM247.6 78.6h1.2v1.2h-1.2zM266.2 78.2h1.2v1.2h-1.2zM264.6 84.2h1.2v1.2h-1.2zM256.7 65.8h1.2v1.2h-1.2zM254.3 79.4h1.2v1.2h-1.2zM243.5 70.0h1.2v1.2h-1.2zM246.8 61.9h1.2v1.2h-1.2zM257.0 94.4h1.2v1.2h-1.2zM262.3 72.8h1.2v1.2h-1.2zM253.5 85.6h1.2v1.2h-1.2zM246.0 66.0h1.2v1.2h-1.2zM253.9 64.7h1.2v1.2h-1.2zM263.6 91.5h1.2v1.2h-1.2zM255.3 81.7h1.2v1.2h-1.2zM270.2 101.6h1.2v1.2h-1.2zM246.2 63.8h1.2v1.2h-1.2zM255.7 64.3h1.2v1.2h-1.2zM264.6 55.4h1.2v1.2h-1.2zM249.9 75.5h1.2v1.2h-1.2zM259.1 71.9h1.2v1.2h-1.2zM263.2 62.2h1.2v1.2h-1.2zM247.8 70.2h1.2v1.2h-1.2zM264.8 56.3h1.2v1.2h-1.2zM252.5 86.9h1.2v1.2h-1.2zM259.3 65.5h1.2v1.2h-1.2zM266.4 94.6h1.2v1.2h-1.2zM252.6 75.0h1.2v1.2h-1.2zM248.3 90.4h1.2v1.2h-1.2zM265.1 64.2h1.2v1.2h-1.2zM249.3 87.5h1.2v1.2h-1.2zM254.1 103.6h1.2v1.2h-1.2zM250.3 102.1h1.2v1.2h-1.2zM253.0 61.5h1.2v1.2h-1.2zM246.5 80.9h1.2v1.2h-1.2zM247.9 86.2h1.2v1.2h-1.2zM270.1 62.9h1.2v1.2h-1.2zM247.9 82.5h1.2v1.2h-1.2zM273.9 83.0h1.2v1.2h-1.2zM270.6 100.8h1.2v1.2h-1.2zM256.4 117.4h1.2v1.2h-1.2zM250.2 106.9h1.2v1.2h-1.2zM273.4 104.7h1.2v1.2h-1.2zM277.8 125.3h1.2v1.2h-1.2zM277.9 132.1h1.2v1.2h-1.2zM261.8 120.3h1.2v1.2h-1.2zM271.8 130.1h1.2v1.2h-1.2zM264.4 115.8h1.2v1.2h-1.2zM276.4 107.2h1.2v1.2h-1.2zM271.5 106.1h1.2v1.2h-1.2zM277.9 117.0h1.2v1.2h-1.2zM253.2 100.6h1.2v1.2h-1.2zM259.9 127.0h1.2v1.2h-1.2zM263.4 102.8h1.2v1.2h-1.2zM280.0 135.8h1.2v1.2h-1.2zM269.5 137.9h1.2v1.2h-1.2zM265.9 131.9h1.2v1.2h-1.2zM257.2 113.8h1.2v1.2h-1.2zM260.2 101.4h1.2v1.2h-1.2zM258.8 112.9h1.2v1.2h-1.2zM269.6 106.3h1.2v1.2h-1.2zM258.7 127.3h1.2v1.2h-1.2zM268.1 124.5h1.2v1.2h-1.2zM275.9 135.2h1.2v1.2h-1.2zM267.4 128.0h1.2v1.2h-1.2zM268.0 105.2h1.2v1.2h-1.2zM266.8 122.9h1.2v1.2h-1.2zM275.5 128.7h1.2v1.2h-1.2zM267.6 136.1h1.2v1.2h-1.2zM270.5 124.2h1.2v1.2h-1.2zM260.5 108.2h1.2v1.2h-1.2zM273.2 138.3h1.2v1.2h-1.2zM267.9 133.4h1.2v1.2h-1.2zM267.4 102.1h1.2v1.2h-1.2zM251.4 111.0h1.2v1.2h-1.2zM272.3 111.6h1.2v1.2h-1.2zM256.0 126.3h1.2v1.2h-1.2zM250.4 115.4h1.2v1.2h-1.2zM266.8 130.1h1.2v1.2h-1.2zM271.7 135.3h1.2v1.2h-1.2zM268.1 130.8h1.2v1.2h-1.2zM263.6 133.2h1.2v1.2h-1.2zM267.5 122.8h1.2v1.2h-1.2zM259.1 111.3h1.2v1.2h-1.2zM273.9 100.5h1.2v1.2h-1.2zM274.3 128.7h1.2v1.2h-1.2zM277.3 101.3h1.2v1.2h-1.2zM277.5 102.9h1.2v1.2h-1.2zM275.8 105.1h1.2v1.2h-1.2zM275.7 101.2h1.2v1.2h-1.2zM277.4 103.2h1.2v1.2h-1.2zM274.8 105.0h1.2v1.2h-1.2zM255.6 138.5h1.2v1.2h-1.2zM229.9 140.8h1.2v1.2h-1.2zM235.1 139.1h1.2v1.2h-1.2zM244.9 153.6h1.2v1.2h-1.2zM253.7 137.5h1.2v1.2h-1.2zM237.9 157.2h1.2v1.2h-1.2zM254.4 137.8h1.2v1.2h-1.2zM247.0 136.2h1.2v1.2h-1.2zM252.7 143.6h1.2v1.2h-1.2zM254.6 141.3h1.2v1.2h-1.2zM234.5 144.6h1.2v1.2h-1.2zM228.4 144.1h1.2v1.2h-1.2zM243.7 154.0h1.2v1.2h-1.2zM239.3 142.3h1.2v1.2h-1.2zM233.8 143.6h1.2v1.2h-1.2zM235.8 155.8h1.2v1.2h-1.2zM243.5 144.0h1.2v1.2h-1.2zM235.2 156.4h1.2v1.2h-1.2zM233.4 150.4h1.2v1.2h-1.2zM256.2 133.3h1.2v1.2h-1.2zM199.9 92.1h1.2v1.2h-1.2zM199.3 122.7h1.2v1.2h-1.2zM182.8 117.3h1.2v1.2h-1.2zM208.6 107.8h1.2v1.2h-1.2zM189.1 114.9h1.2v1.2h-1.2zM186.0 120.1h1.2v1.2h-1.2zM189.0 92.5h1.2v1.2h-1.2zM179.7 95.0h1.2v1.2h-1.2zM172.7 108.6h1.2v1.2h-1.2zM184.5 116.6h1.2v1.2h-1.2zM192.8 120.6h1.2v1.2h-1.2zM209.0 105.3h1.2v1.2h-1.2zM205.0 102.2h1.2v1.2h-1.2zM181.2 101.9h1.2v1.2h-1.2zM184.8 104.7h1.2v1.2h-1.2zM206.2 90.7h1.2v1.2h-1.2zM190.6 114.5h1.2v1.2h-1.2zM197.4 102.3h1.2v1.2h-1.2zM191.5 102.7h1.2v1.2h-1.2zM131.6 120.8h1.2v1.2h-1.2zM125.4 138.9h1.2v1.2h-1.2zM136.0 133.0h1.2v1.2h-1.2zM130.8 128.9h1.2v1.2h-1.2zM131.5 121.0h1.2v1.2h-1.2zM124.1 132.2h1.2v1.2h-1.2zM128.0 129.5h1.2v1.2h-1.2zM125.0 130.0h1.2v1.2h-1.2zM119.5 130.3h1.2v1.2h-1.2zM131.9 139.0h1.2v1.2h-1.2zM124.9 131.3h1.2v1.2h-1.2zM130.9 122.5h1.2v1.2h-1.2zM122.0 128.8h1.2v1.2h-1.2zM129.6 121.4h1.2v1.2h-1.2zM119.5 129.0h1.2v1.2h-1.2zM131.3 118.0h1.2v1.2h-1.2zM122.2 157.2h1.2v1.2h-1.2zM145.9 116.2h1.2v1.2h-1.2zM148.5 144.3h1.2v1.2h-1.2zM130.0 158.1h1.2v1.2h-1.2zM122.9 136.8h1.2v1.2h-1.2zM122.4 135.6h1.2v1.2h-1.2zM155.5 154.5h1.2v1.2h-1.2zM133.3 109.2h1.2v1.2h-1.2zM131.3 115.4h1.2v1.2h-1.2zM119.5 133.6h1.2v1.2h-1.2zM118.9 107.9h1.2v1.2h-1.2zM152.6 144.3h1.2v1.2h-1.2zM128.9 122.9h1.2v1.2h-1.2zM136.1 142.2h1.2v1.2h-1.2zM118.4 150.1h1.2v1.2h-1.2zM126.8 128.3h1.2v1.2h-1.2zM142.7 104.0h1.2v1.2h-1.2zM130.4 132.6h1.2v1.2h-1.2zM121.0 123.1h1.2v1.2h-1.2zM136.9 111.6h1.2v1.2h-1.2zM132.6 136.8h1.2v1.2h-1.2zM117.2 120.8h1.2v1.2h-1.2zM148.3 130.1h1.2v1.2h-1.2zM118.9 119.1h1.2v1.2h-1.2zM117.1 108.2h1.2v1.2h-1.2zM143.7 131.1h1.2v1.2h-1.2zM146.8 115.0h1.2v1.2h-1.2zM140.7 108.9h1.2v1.2h-1.2zM127.6 144.1h1.2v1.2h-1.2zM134.9 120.2h1.2v1.2h-1.2zM153.6 144.2h1.2v1.2h-1.2zM149.6 144.5h1.2v1.2h-1.2zM152.0 147.2h1.2v1.2h-1.2zM116.6 156.2h1.2v1.2h-1.2zM152.7 141.8h1.2v1.2h-1.2zM129.6 129.4h1.2v1.2h-1.2zM123.6 112.7h1.2v1.2h-1.2zM138.4 156.2h1.2v1.2h-1.2zM150.6 144.7h1.2v1.2h-1.2zM132.3 110.7h1.2v1.2h-1.2zM177.5 131.7h1.2v1.2h-1.2zM173.3 149.7h1.2v1.2h-1.2zM182.2 125.9h1.2v1.2h-1.2zM174.7 150.3h1.2v1.2h-1.2zM183.1 140.7h1.2v1.2h-1.2zM178.9 117.0h1.2v1.2h-1.2zM174.6 148.7h1.2v1.2h-1.2zM221.3 131.3h1.2v1.2h-1.2zM220.5 142.4h1.2v1.2h-1.2zM219.3 145.2h1.2v1.2h-1.2zM218.1 158.0h1.2v1.2h-1.2zM206.6 143.8h1.2v1.2h-1.2zM210.0 131.3h1.2v1.2h-1.2zM223.8 153.7h1.2v1.2h-1.2zM224.5 149.1h1.2v1.2h-1.2zM191.2 148.2h1.2v1.2h-1.2zM224.3 152.3h1.2v1.2h-1.2zM197.1 140.8h1.2v1.2h-1.2zM226.6 150.0h1.2v1.2h-1.2zM194.1 142.5h1.2v1.2h-1.2zM226.5 147.1h1.2v1.2h-1.2zM176.5 154.8h1.2v1.2h-1.2zM196.0 153.9h1.2v1.2h-1.2zM197.2 172.1h1.2v1.2h-1.2zM167.3 157.2h1.2v1.2h-1.2zM186.2 151.3h1.2v1.2h-1.2zM213.5 163.4h1.2v1.2h-1.2zM200.8 169.8h1.2v1.2h-1.2zM200.9 171.5h1.2v1.2h-1.2zM202.3 168.6h1.2v1.2h-1.2zM212.9 170.8h1.2v1.2h-1.2zM200.7 157.0h1.2v1.2h-1.2zM182.9 155.3h1.2v1.2h-1.2zM203.6 155.9h1.2v1.2h-1.2zM174.7 155.5h1.2v1.2h-1.2zM202.7 160.8h1.2v1.2h-1.2zM180.9 167.9h1.2v1.2h-1.2zM159.2 153.9h1.2v1.2h-1.2zM162.6 154.8h1.2v1.2h-1.2zM208.6 158.8h1.2v1.2h-1.2zM175.8 164.0h1.2v1.2h-1.2zM186.4 153.4h1.2v1.2h-1.2zM205.5 169.9h1.2v1.2h-1.2zM179.3 154.3h1.2v1.2h-1.2zM183.1 161.7h1.2v1.2h-1.2zM171.9 156.3h1.2v1.2h-1.2zM167.4 157.2h1.2v1.2h-1.2zM190.4 165.8h1.2v1.2h-1.2zM219.7 165.9h1.2v1.2h-1.2zM200.2 168.1h1.2v1.2h-1.2zM190.7 178.9h1.2v1.2h-1.2zM191.5 178.1h1.2v1.2h-1.2zM198.7 178.3h1.2v1.2h-1.2zM202.3 179.7h1.2v1.2h-1.2zM190.9 172.9h1.2v1.2h-1.2zM203.6 175.1h1.2v1.2h-1.2zM206.4 172.9h1.2v1.2h-1.2zM203.4 177.8h1.2v1.2h-1.2zM197.8 171.3h1.2v1.2h-1.2zM192.6 176.0h1.2v1.2h-1.2zM194.3 183.4h1.2v1.2h-1.2zM185.5 183.3h1.2v1.2h-1.2zM191.5 180.1h1.2v1.2h-1.2zM193.6 183.0h1.2v1.2h-1.2zM192.6 181.9h1.2v1.2h-1.2zM187.8 182.6h1.2v1.2h-1.2zM202.0 183.8h1.2v1.2h-1.2zM190.1 182.8h1.2v1.2h-1.2zM194.5 184.8h1.2v1.2h-1.2zM202.5 185.1h1.2v1.2h-1.2zM193.5 186.9h1.2v1.2h-1.2zM205.4 183.0h1.2v1.2h-1.2zM196.3 184.3h1.2v1.2h-1.2zM201.8 183.2h1.2v1.2h-1.2zM203.8 184.4h1.2v1.2h-1.2zM198.1 185.2h1.2v1.2h-1.2zM197.5 184.4h1.2v1.2h-1.2zM191.0 186.4h1.2v1.2h-1.2zM197.0 184.7h1.2v1.2h-1.2zM192.6 187.9h1.2v1.2h-1.2zM198.4 185.7h1.2v1.2h-1.2zM201.2 183.3h1.2v1.2h-1.2zM197.6 184.8h1.2v1.2h-1.2zM196.1 182.1h1.2v1.2h-1.2zM197.9 182.2h1.2v1.2h-1.2zM205.4 185.7h1.2v1.2h-1.2zM203.4 184.7h1.2v1.2h-1.2zM193.3 182.4h1.2v1.2h-1.2zM196.4 180.6h1.2v1.2h-1.2zM197.7 182.1h1.2v1.2h-1.2zM200.0 180.1h1.2v1.2h-1.2zM195.4 184.3h1.2v1.2h-1.2zM198.1 178.2h1.2v1.2h-1.2zM194.3 183.7h1.2v1.2h-1.2zM196.7 184.1h1.2v1.2h-1.2zM202.9 180.0h1.2v1.2h-1.2zM197.2 184.0h1.2v1.2h-1.2zM196.8 182.1h1.2v1.2h-1.2zM192.9 178.6h1.2v1.2h-1.2zM201.6 185.6h1.2v1.2h-1.2zM189.1 182.2h1.2v1.2h-1.2zM194.6 180.7h1.2v1.2h-1.2zM191.5 178.5h1.2v1.2h-1.2zM191.8 180.8h1.2v1.2h-1.2zM195.4 179.6h1.2v1.2h-1.2zM191.6 182.3h1.2v1.2h-1.2zM206.1 183.3h1.2v1.2h-1.2zM189.2 187.8h1.2v1.2h-1.2zM203.3 179.7h1.2v1.2h-1.2zM196.8 187.0h1.2v1.2h-1.2zM198.0 179.6h1.2v1.2h-1.2zM196.5 180.5h1.2v1.2h-1.2zM193.8 187.7h1.2v1.2h-1.2zM200.2 184.5h1.2v1.2h-1.2zM206.8 184.2h1.2v1.2h-1.2zM195.5 186.4h1.2v1.2h-1.2zM204.0 184.5h1.2v1.2h-1.2zM188.9 187.4h1.2v1.2h-1.2zM201.2 186.7h1.2v1.2h-1.2zM190.6 186.0h1.2v1.2h-1.2zM186.8 179.8h1.2v1.2h-1.2zM198.6 186.7h1.2v1.2h-1.2zM187.8 183.0h1.2v1.2h-1.2zM198.2 177.7h1.2v1.2h-1.2zM199.0 181.6h1.2v1.2h-1.2zM194.4 182.0h1.2v1.2h-1.2zM200.1 180.4h1.2v1.2h-1.2zM190.8 180.1h1.2v1.2h-1.2zM193.5 179.3h1.2v1.2h-1.2zM193.2 183.6h1.2v1.2h-1.2zM203.5 182.4h1.2v1.2h-1.2zM198.1 183.6h1.2v1.2h-1.2zM194.4 187.7h1.2v1.2h-1.2zM188.9 181.6h1.2v1.2h-1.2zM189.2 179.5h1.2v1.2h-1.2zM215.4 190.9h1.2v1.2h-1.2zM214.1 192.0h1.2v1.2h-1.2zM213.2 195.6h1.2v1.2h-1.2zM205.8 193.6h1.2v1.2h-1.2zM211.6 191.7h1.2v1.2h-1.2zM212.4 191.5h1.2v1.2h-1.2zM213.1 191.6h1.2v1.2h-1.2zM214.3 191.3h1.2v1.2h-1.2zM211.4 189.4h1.2v1.2h-1.2zM207.9 192.1h1.2v1.2h-1.2zM206.9 193.8h1.2v1.2h-1.2zM213.4 189.3h1.2v1.2h-1.2zM210.6 188.7h1.2v1.2h-1.2zM202.5 189.5h1.2v1.2h-1.2zM208.2 187.9h1.2v1.2h-1.2zM204.0 192.4h1.2v1.2h-1.2zM207.1 195.5h1.2v1.2h-1.2zM211.4 174.8h1.2v1.2h-1.2zM210.4 171.0h1.2v1.2h-1.2zM208.2 171.6h1.2v1.2h-1.2zM211.2 173.1h1.2v1.2h-1.2zM208.0 172.5h1.2v1.2h-1.2zM209.0 170.4h1.2v1.2h-1.2zM209.2 171.1h1.2v1.2h-1.2zM208.3 175.2h1.2v1.2h-1.2zM213.5 170.8h1.2v1.2h-1.2zM213.7 175.2h1.2v1.2h-1.2zM209.1 173.2h1.2v1.2h-1.2zM209.4 175.4h1.2v1.2h-1.2zM212.7 171.7h1.2v1.2h-1.2zM211.8 173.1h1.2v1.2h-1.2zM213.6 171.9h1.2v1.2h-1.2zM212.4 175.9h1.2v1.2h-1.2zM212.4 172.2h1.2v1.2h-1.2zM212.7 175.5h1.2v1.2h-1.2zM210.0 174.9h1.2v1.2h-1.2zM209.1 198.6h1.2v1.2h-1.2zM177.9 198.0h1.2v1.2h-1.2zM205.5 195.5h1.2v1.2h-1.2zM157.2 188.5h1.2v1.2h-1.2zM176.3 191.8h1.2v1.2h-1.2zM169.5 183.7h1.2v1.2h-1.2zM197.5 185.1h1.2v1.2h-1.2zM178.6 193.0h1.2v1.2h-1.2zM191.4 179.4h1.2v1.2h-1.2zM191.0 200.0h1.2v1.2h-1.2zM126.6 218.0h1.2v1.2h-1.2zM135.1 169.7h1.2v1.2h-1.2zM144.7 162.1h1.2v1.2h-1.2zM126.8 211.4h1.2v1.2h-1.2zM127.6 169.4h1.2v1.2h-1.2zM148.7 165.2h1.2v1.2h-1.2zM126.3 180.5h1.2v1.2h-1.2zM135.7 186.0h1.2v1.2h-1.2zM129.1 176.0h1.2v1.2h-1.2zM146.8 181.8h1.2v1.2h-1.2zM147.5 171.8h1.2v1.2h-1.2zM132.6 174.8h1.2v1.2h-1.2zM94.1 164.9h1.2v1.2h-1.2zM98.5 195.5h1.2v1.2h-1.2zM96.1 162.5h1.2v1.2h-1.2zM111.2 187.2h1.2v1.2h-1.2zM117.7 169.7h1.2v1.2h-1.2zM117.9 220.2h1.2v1.2h-1.2zM98.4 172.6h1.2v1.2h-1.2zM120.4 164.4h1.2v1.2h-1.2zM91.8 183.4h1.2v1.2h-1.2zM122.0 220.9h1.2v1.2h-1.2zM121.8 207.6h1.2v1.2h-1.2zM106.6 201.8h1.2v1.2h-1.2zM105.4 173.8h1.2v1.2h-1.2zM115.9 208.1h1.2v1.2h-1.2zM118.8 225.4h1.2v1.2h-1.2zM114.4 191.9h1.2v1.2h-1.2zM121.8 202.9h1.2v1.2h-1.2zM86.6 217.2h1.2v1.2h-1.2zM120.0 212.0h1.2v1.2h-1.2zM95.5 216.0h1.2v1.2h-1.2zM115.7 204.3h1.2v1.2h-1.2zM116.7 176.3h1.2v1.2h-1.2zM74.3 207.0h1.2v1.2h-1.2zM107.2 203.2h1.2v1.2h-1.2zM120.4 224.5h1.2v1.2h-1.2zM118.7 160.8h1.2v1.2h-1.2zM96.8 210.2h1.2v1.2h-1.2zM79.2 172.4h1.2v1.2h-1.2zM112.8 168.6h1.2v1.2h-1.2zM106.7 203.5h1.2v1.2h-1.2zM92.5 194.0h1.2v1.2h-1.2zM92.5 201.0h1.2v1.2h-1.2zM101.8 223.0h1.2v1.2h-1.2zM97.2 206.0h1.2v1.2h-1.2zM81.9 170.8h1.2v1.2h-1.2zM76.4 169.6h1.2v1.2h-1.2zM85.2 203.1h1.2v1.2h-1.2zM121.0 167.7h1.2v1.2h-1.2zM98.2 211.2h1.2v1.2h-1.2zM105.9 186.5h1.2v1.2h-1.2zM92.1 207.3h1.2v1.2h-1.2zM75.4 207.8h1.2v1.2h-1.2zM89.0 185.3h1.2v1.2h-1.2zM89.1 207.1h1.2v1.2h-1.2zM107.0 224.0h1.2v1.2h-1.2zM90.6 205.5h1.2v1.2h-1.2zM90.5 166.0h1.2v1.2h-1.2zM91.5 186.4h1.2v1.2h-1.2zM119.1 215.5h1.2v1.2h-1.2zM103.2 193.5h1.2v1.2h-1.2zM85.2 176.0h1.2v1.2h-1.2zM97.0 175.1h1.2v1.2h-1.2zM97.5 223.4h1.2v1.2h-1.2zM96.8 190.3h1.2v1.2h-1.2zM96.3 203.8h1.2v1.2h-1.2zM103.9 215.7h1.2v1.2h-1.2zM92.7 222.2h1.2v1.2h-1.2zM73.9 187.1h1.2v1.2h-1.2zM105.4 162.6h1.2v1.2h-1.2zM116.8 214.5h1.2v1.2h-1.2zM75.1 188.2h1.2v1.2h-1.2zM79.1 166.2h1.2v1.2h-1.2zM93.4 197.7h1.2v1.2h-1.2zM76.8 162.3h1.2v1.2h-1.2zM93.2 189.6h1.2v1.2h-1.2zM108.0 223.9h1.2v1.2h-1.2zM77.4 166.3h1.2v1.2h-1.2zM89.3 182.1h1.2v1.2h-1.2zM109.8 203.3h1.2v1.2h-1.2zM108.5 203.1h1.2v1.2h-1.2zM93.3 185.2h1.2v1.2h-1.2zM108.1 190.9h1.2v1.2h-1.2zM89.6 167.7h1.2v1.2h-1.2zM118.2 206.7h1.2v1.2h-1.2zM85.9 192.1h1.2v1.2h-1.2zM101.0 183.6h1.2v1.2h-1.2zM59.5 162.5h1.2v1.2h-1.2zM67.3 213.8h1.2v1.2h-1.2zM59.6 187.5h1.2v1.2h-1.2zM60.9 178.6h1.2v1.2h-1.2zM69.0 213.1h1.2v1.2h-1.2zM64.7 179.6h1.2v1.2h-1.2zM62.6 222.2h1.2v1.2h-1.2zM63.5 218.6h1.2v1.2h-1.2zM63.7 215.6h1.2v1.2h-1.2zM61.6 190.0h1.2v1.2h-1.2zM69.3 226.5h1.2v1.2h-1.2zM71.2 207.1h1.2v1.2h-1.2zM69.7 211.7h1.2v1.2h-1.2zM68.7 164.7h1.2v1.2h-1.2zM65.4 182.3h1.2v1.2h-1.2zM72.9 174.9h1.2v1.2h-1.2zM67.4 200.0h1.2v1.2h-1.2zM93.3 231.8h1.2v1.2h-1.2zM95.9 228.0h1.2v1.2h-1.2zM85.6 204.7h1.2v1.2h-1.2zM82.7 205.7h1.2v1.2h-1.2zM81.2 208.5h1.2v1.2h-1.2zM78.0 209.2h1.2v1.2h-1.2zM86.8 203.8h1.2v1.2h-1.2zM97.0 198.5h1.2v1.2h-1.2zM99.2 197.2h1.2v1.2h-1.2zM99.8 197.2h1.2v1.2h-1.2zM88.2 202.9h1.2v1.2h-1.2zM91.9 201.7h1.2v1.2h-1.2zM98.6 118.5h1.2v1.2h-1.2zM88.1 119.2h1.2v1.2h-1.2zM102.8 118.2h1.2v1.2h-1.2zM100.1 118.3h1.2v1.2h-1.2zM105.6 117.6h1.2v1.2h-1.2zM69.3 118.9h1.2v1.2h-1.2zM107.1 118.9h1.2v1.2h-1.2zM119.9 91.8h1.2v1.2h-1.2zM111.9 92.7h1.2v1.2h-1.2zM90.8 93.7h1.2v1.2h-1.2zM114.9 93.5h1.2v1.2h-1.2zM124.2 92.2h1.2v1.2h-1.2zM89.5 94.8h1.2v1.2h-1.2zM115.1 93.1h1.2v1.2h-1.2zM89.4 196.9h1.2v1.2h-1.2zM88.8 219.9h1.2v1.2h-1.2zM89.0 186.5h1.2v1.2h-1.2zM88.7 195.9h1.2v1.2h-1.2zM88.8 223.8h1.2v1.2h-1.2zM88.6 187.5h1.2v1.2h-1.2zM88.9 224.4h1.2v1.2h-1.2zM88.3 172.3h1.2v1.2h-1.2zM89.0 197.5h1.2v1.2h-1.2zM89.0 194.2h1.2v1.2h-1.2zM89.2 183.9h1.2v1.2h-1.2zM89.3 207.5h1.2v1.2h-1.2zM89.4 173.9h1.2v1.2h-1.2zM88.9 173.1h1.2v1.2h-1.2zM191.6 207.6h1.2v1.2h-1.2zM162.9 204.1h1.2v1.2h-1.2zM153.3 209.5h1.2v1.2h-1.2zM150.8 212.5h1.2v1.2h-1.2zM169.5 228.0h1.2v1.2h-1.2zM141.2 226.8h1.2v1.2h-1.2zM156.4 226.3h1.2v1.2h-1.2zM181.9 206.8h1.2v1.2h-1.2zM163.4 206.2h1.2v1.2h-1.2zM153.1 202.8h1.2v1.2h-1.2zM132.7 238.8h1.2v1.2h-1.2zM132.7 241.7h1.2v1.2h-1.2zM132.3 268.9h1.2v1.2h-1.2zM132.1 238.0h1.2v1.2h-1.2zM132.8 270.0h1.2v1.2h-1.2zM133.2 272.4h1.2v1.2h-1.2zM131.8 237.1h1.2v1.2h-1.2zM132.8 272.9h1.2v1.2h-1.2zM132.0 244.0h1.2v1.2h-1.2zM164.3 287.7h1.2v1.2h-1.2zM164.4 277.5h1.2v1.2h-1.2zM164.7 231.2h1.2v1.2h-1.2zM164.3 258.8h1.2v1.2h-1.2zM164.9 287.0h1.2v1.2h-1.2zM164.5 264.1h1.2v1.2h-1.2zM165.1 249.4h1.2v1.2h-1.2zM165.0 244.2h1.2v1.2h-1.2zM164.5 261.0h1.2v1.2h-1.2zM164.4 256.6h1.2v1.2h-1.2zM164.8 260.7h1.2v1.2h-1.2zM164.7 233.9h1.2v1.2h-1.2zM164.2 237.7h1.2v1.2h-1.2zM164.3 240.9h1.2v1.2h-1.2zM164.2 283.3h1.2v1.2h-1.2zM164.7 261.9h1.2v1.2h-1.2zM164.2 243.6h1.2v1.2h-1.2zM164.5 235.9h1.2v1.2h-1.2zM164.0 288.6h1.2v1.2h-1.2zM164.2 244.2h1.2v1.2h-1.2zM224.4 181.3h1.2v1.2h-1.2zM223.5 184.3h1.2v1.2h-1.2zM225.5 183.7h1.2v1.2h-1.2zM222.6 185.4h1.2v1.2h-1.2zM221.9 190.3h1.2v1.2h-1.2zM222.1 184.9h1.2v1.2h-1.2zM221.1 187.6h1.2v1.2h-1.2zM222.1 186.1h1.2v1.2h-1.2zM226.6 178.7h1.2v1.2h-1.2zM223.5 186.1h1.2v1.2h-1.2zM222.8 184.9h1.2v1.2h-1.2zM221.6 190.7h1.2v1.2h-1.2zM220.2 193.0h1.2v1.2h-1.2zM215.4 196.5h1.2v1.2h-1.2zM216.5 195.8h1.2v1.2h-1.2zM220.0 193.8h1.2v1.2h-1.2zM211.2 206.3h1.2v1.2h-1.2zM214.2 198.8h1.2v1.2h-1.2zM210.9 205.1h1.2v1.2h-1.2zM211.1 202.4h1.2v1.2h-1.2zM210.4 207.2h1.2v1.2h-1.2zM211.1 207.8h1.2v1.2h-1.2zM209.2 205.4h1.2v1.2h-1.2zM213.3 198.2h1.2v1.2h-1.2zM209.6 203.4h1.2v1.2h-1.2zM203.9 216.5h1.2v1.2h-1.2zM210.5 209.0h1.2v1.2h-1.2zM208.5 212.6h1.2v1.2h-1.2zM210.3 209.5h1.2v1.2h-1.2zM207.6 216.2h1.2v1.2h-1.2zM207.0 210.5h1.2v1.2h-1.2zM209.3 209.5h1.2v1.2h-1.2zM206.2 221.3h1.2v1.2h-1.2zM204.5 223.3h1.2v1.2h-1.2zM203.9 227.7h1.2v1.2h-1.2zM204.2 226.3h1.2v1.2h-1.2zM203.9 220.9h1.2v1.2h-1.2zM202.6 228.3h1.2v1.2h-1.2zM206.1 223.3h1.2v1.2h-1.2zM202.6 220.6h1.2v1.2h-1.2zM203.5 224.9h1.2v1.2h-1.2zM204.1 228.4h1.2v1.2h-1.2zM201.2 225.8h1.2v1.2h-1.2zM204.9 224.8h1.2v1.2h-1.2zM202.7 230.5h1.2v1.2h-1.2zM203.2 229.2h1.2v1.2h-1.2zM201.3 232.9h1.2v1.2h-1.2zM198.3 240.2h1.2v1.2h-1.2zM201.0 231.5h1.2v1.2h-1.2zM198.2 240.4h1.2v1.2h-1.2zM203.1 233.5h1.2v1.2h-1.2zM200.1 233.1h1.2v1.2h-1.2zM202.0 240.9h1.2v1.2h-1.2zM202.5 239.7h1.2v1.2h-1.2zM200.2 235.5h1.2v1.2h-1.2zM200.4 239.2h1.2v1.2h-1.2zM199.9 238.8h1.2v1.2h-1.2zM198.2 249.9h1.2v1.2h-1.2zM200.5 253.2h1.2v1.2h-1.2zM200.1 247.1h1.2v1.2h-1.2zM201.4 244.3h1.2v1.2h-1.2zM201.1 246.8h1.2v1.2h-1.2zM198.7 247.2h1.2v1.2h-1.2zM201.0 248.7h1.2v1.2h-1.2zM200.5 254.8h1.2v1.2h-1.2zM200.0 261.1h1.2v1.2h-1.2zM200.5 258.3h1.2v1.2h-1.2zM200.1 268.3h1.2v1.2h-1.2zM200.0 268.8h1.2v1.2h-1.2zM202.8 278.3h1.2v1.2h-1.2zM203.8 276.1h1.2v1.2h-1.2zM206.0 282.7h1.2v1.2h-1.2zM201.7 273.6h1.2v1.2h-1.2zM200.8 273.8h1.2v1.2h-1.2zM204.2 281.0h1.2v1.2h-1.2zM207.9 284.5h1.2v1.2h-1.2zM205.7 287.1h1.2v1.2h-1.2zM208.1 286.5h1.2v1.2h-1.2zM210.7 305.6h1.2v1.2h-1.2zM212.9 303.9h1.2v1.2h-1.2zM209.2 297.0h1.2v1.2h-1.2zM212.2 298.8h1.2v1.2h-1.2zM209.3 299.4h1.2v1.2h-1.2zM209.5 298.3h1.2v1.2h-1.2zM211.6 304.6h1.2v1.2h-1.2zM211.3 298.6h1.2v1.2h-1.2zM211.1 309.1h1.2v1.2h-1.2zM214.4 307.3h1.2v1.2h-1.2zM212.5 307.5h1.2v1.2h-1.2zM211.8 299.9h1.2v1.2h-1.2zM209.6 297.3h1.2v1.2h-1.2zM211.7 303.6h1.2v1.2h-1.2zM210.7 303.0h1.2v1.2h-1.2zM213.9 312.3h1.2v1.2h-1.2zM213.2 313.7h1.2v1.2h-1.2zM213.4 316.7h1.2v1.2h-1.2zM215.1 318.3h1.2v1.2h-1.2zM215.3 318.8h1.2v1.2h-1.2zM213.7 310.5h1.2v1.2h-1.2zM212.7 310.4h1.2v1.2h-1.2zM213.0 316.4h1.2v1.2h-1.2zM211.1 309.7h1.2v1.2h-1.2zM214.7 316.9h1.2v1.2h-1.2zM212.6 314.9h1.2v1.2h-1.2zM213.2 311.3h1.2v1.2h-1.2zM214.2 321.7h1.2v1.2h-1.2zM217.4 328.8h1.2v1.2h-1.2zM218.1 325.5h1.2v1.2h-1.2zM215.7 329.2h1.2v1.2h-1.2zM217.8 326.7h1.2v1.2h-1.2zM218.0 322.9h1.2v1.2h-1.2zM219.4 327.6h1.2v1.2h-1.2zM216.1 321.3h1.2v1.2h-1.2zM218.9 328.2h1.2v1.2h-1.2zM130.1 293.8h1.2v1.2h-1.2zM116.2 279.6h1.2v1.2h-1.2zM87.5 289.4h1.2v1.2h-1.2zM140.3 293.7h1.2v1.2h-1.2zM119.4 284.7h1.2v1.2h-1.2zM98.2 304.2h1.2v1.2h-1.2zM94.1 280.6h1.2v1.2h-1.2zM130.3 286.6h1.2v1.2h-1.2zM100.5 294.5h1.2v1.2h-1.2zM116.4 293.0h1.2v1.2h-1.2zM114.4 294.7h1.2v1.2h-1.2zM130.7 279.6h1.2v1.2h-1.2zM93.4 288.9h1.2v1.2h-1.2zM135.1 276.1h1.2v1.2h-1.2zM140.1 286.0h1.2v1.2h-1.2zM102.1 307.4h1.2v1.2h-1.2zM90.7 282.6h1.2v1.2h-1.2zM103.2 276.4h1.2v1.2h-1.2zM91.4 301.9h1.2v1.2h-1.2zM118.0 299.2h1.2v1.2h-1.2zM124.3 275.2h1.2v1.2h-1.2zM112.2 308.8h1.2v1.2h-1.2zM114.8 284.8h1.2v1.2h-1.2zM120.0 288.1h1.2v1.2h-1.2zM127.1 286.8h1.2v1.2h-1.2zM92.8 282.7h1.2v1.2h-1.2zM109.9 295.4h1.2v1.2h-1.2zM138.9 304.0h1.2v1.2h-1.2zM102.9 289.3h1.2v1.2h-1.2zM138.8 274.3h1.2v1.2h-1.2zM105.2 299.1h1.2v1.2h-1.2zM122.1 300.9h1.2v1.2h-1.2zM130.7 304.9h1.2v1.2h-1.2zM117.5 309.0h1.2v1.2h-1.2zM97.8 305.8h1.2v1.2h-1.2zM114.0 282.5h1.2v1.2h-1.2zM144.6 275.4h1.2v1.2h-1.2zM108.5 276.6h1.2v1.2h-1.2zM111.3 299.1h1.2v1.2h-1.2zM96.1 285.6h1.2v1.2h-1.2zM98.0 297.1h1.2v1.2h-1.2zM98.1 293.6h1.2v1.2h-1.2zM92.5 275.7h1.2v1.2h-1.2zM102.0 283.7h1.2v1.2h-1.2zM127.4 295.9h1.2v1.2h-1.2zM114.7 283.6h1.2v1.2h-1.2zM113.0 285.3h1.2v1.2h-1.2zM116.5 286.1h1.2v1.2h-1.2zM95.5 320.9h1.2v1.2h-1.2zM88.8 320.5h1.2v1.2h-1.2zM119.9 322.7h1.2v1.2h-1.2zM114.1 322.4h1.2v1.2h-1.2zM120.4 328.5h1.2v1.2h-1.2zM119.0 311.3h1.2v1.2h-1.2zM114.3 332.4h1.2v1.2h-1.2zM114.5 322.7h1.2v1.2h-1.2zM109.0 311.6h1.2v1.2h-1.2zM118.2 309.3h1.2v1.2h-1.2zM120.3 315.3h1.2v1.2h-1.2zM105.8 312.4h1.2v1.2h-1.2zM113.8 327.8h1.2v1.2h-1.2zM114.7 308.5h1.2v1.2h-1.2zM114.5 314.8h1.2v1.2h-1.2zM120.7 307.9h1.2v1.2h-1.2zM97.1 321.3h1.2v1.2h-1.2zM114.0 323.4h1.2v1.2h-1.2zM120.1 309.7h1.2v1.2h-1.2zM114.4 309.0h1.2v1.2h-1.2zM114.3 315.2h1.2v1.2h-1.2zM113.1 330.6h1.2v1.2h-1.2zM103.4 327.5h1.2v1.2h-1.2zM114.2 318.1h1.2v1.2h-1.2zM112.7 323.1h1.2v1.2h-1.2zM89.2 320.5h1.2v1.2h-1.2zM104.7 318.4h1.2v1.2h-1.2zM94.1 311.1h1.2v1.2h-1.2zM118.0 329.9h1.2v1.2h-1.2zM110.6 317.5h1.2v1.2h-1.2zM99.5 332.5h1.2v1.2h-1.2zM109.1 327.0h1.2v1.2h-1.2zM98.0 331.6h1.2v1.2h-1.2zM94.2 309.3h1.2v1.2h-1.2zM110.2 314.4h1.2v1.2h-1.2zM96.3 311.2h1.2v1.2h-1.2zM98.6 326.4h1.2v1.2h-1.2zM110.3 332.3h1.2v1.2h-1.2zM112.3 307.8h1.2v1.2h-1.2zM111.9 325.0h1.2v1.2h-1.2zM120.1 331.6h1.2v1.2h-1.2zM107.3 309.8h1.2v1.2h-1.2zM115.8 333.7h1.2v1.2h-1.2zM114.9 322.2h1.2v1.2h-1.2zM113.8 319.8h1.2v1.2h-1.2zM96.0 312.3h1.2v1.2h-1.2zM112.7 333.6h1.2v1.2h-1.2zM91.5 317.8h1.2v1.2h-1.2zM99.7 308.6h1.2v1.2h-1.2zM111.3 330.2h1.2v1.2h-1.2zM118.6 312.4h1.2v1.2h-1.2zM120.5 314.7h1.2v1.2h-1.2zM90.9 316.4h1.2v1.2h-1.2zM112.0 322.0h1.2v1.2h-1.2zM89.0 314.2h1.2v1.2h-1.2zM119.9 333.6h1.2v1.2h-1.2zM93.8 327.3h1.2v1.2h-1.2zM119.4 328.0h1.2v1.2h-1.2zM93.1 314.9h1.2v1.2h-1.2zM101.3 320.4h1.2v1.2h-1.2zM119.7 317.1h1.2v1.2h-1.2zM116.3 315.1h1.2v1.2h-1.2zM104.1 316.8h1.2v1.2h-1.2zM99.0 315.4h1.2v1.2h-1.2zM103.0 329.2h1.2v1.2h-1.2zM98.3 325.3h1.2v1.2h-1.2zM99.9 320.8h1.2v1.2h-1.2zM96.3 331.6h1.2v1.2h-1.2zM99.7 326.2h1.2v1.2h-1.2zM115.3 331.7h1.2v1.2h-1.2zM116.0 317.5h1.2v1.2h-1.2zM113.7 333.5h1.2v1.2h-1.2zM96.0 325.3h1.2v1.2h-1.2zM119.6 321.5h1.2v1.2h-1.2zM109.3 312.0h1.2v1.2h-1.2zM110.9 316.7h1.2v1.2h-1.2zM115.3 315.6h1.2v1.2h-1.2zM107.0 313.7h1.2v1.2h-1.2zM121.8 312.9h1.2v1.2h-1.2zM91.3 313.6h1.2v1.2h-1.2zM90.5 321.1h1.2v1.2h-1.2zM104.7 310.4h1.2v1.2h-1.2zM95.6 331.6h1.2v1.2h-1.2zM116.5 311.6h1.2v1.2h-1.2zM105.2 317.5h1.2v1.2h-1.2zM109.8 318.7h1.2v1.2h-1.2zM108.6 311.1h1.2v1.2h-1.2zM109.6 308.4h1.2v1.2h-1.2zM118.1 312.3h1.2v1.2h-1.2zM104.8 333.6h1.2v1.2h-1.2zM89.7 310.8h1.2v1.2h-1.2zM125.3 315.0h1.2v1.2h-1.2zM142.6 321.5h1.2v1.2h-1.2zM146.4 319.1h1.2v1.2h-1.2zM136.6 330.6h1.2v1.2h-1.2zM142.8 309.2h1.2v1.2h-1.2zM132.6 318.9h1.2v1.2h-1.2zM136.0 331.7h1.2v1.2h-1.2zM149.1 326.1h1.2v1.2h-1.2zM125.5 329.1h1.2v1.2h-1.2zM133.6 312.0h1.2v1.2h-1.2zM149.2 313.3h1.2v1.2h-1.2zM129.7 315.5h1.2v1.2h-1.2zM126.1 310.5h1.2v1.2h-1.2zM122.4 308.5h1.2v1.2h-1.2zM137.1 310.1h1.2v1.2h-1.2zM129.6 324.5h1.2v1.2h-1.2zM140.7 339.9h1.2v1.2h-1.2zM144.8 310.5h1.2v1.2h-1.2zM144.6 318.9h1.2v1.2h-1.2zM136.1 314.9h1.2v1.2h-1.2zM144.5 309.6h1.2v1.2h-1.2zM146.5 337.0h1.2v1.2h-1.2zM146.4 336.7h1.2v1.2h-1.2zM134.7 323.9h1.2v1.2h-1.2zM147.3 328.8h1.2v1.2h-1.2zM148.7 332.9h1.2v1.2h-1.2zM144.7 307.1h1.2v1.2h-1.2zM144.6 339.4h1.2v1.2h-1.2zM144.4 312.2h1.2v1.2h-1.2zM137.9 310.6h1.2v1.2h-1.2zM143.3 319.8h1.2v1.2h-1.2zM135.3 324.9h1.2v1.2h-1.2zM141.3 318.0h1.2v1.2h-1.2zM146.2 321.0h1.2v1.2h-1.2zM126.9 324.6h1.2v1.2h-1.2zM132.0 311.2h1.2v1.2h-1.2zM139.2 310.6h1.2v1.2h-1.2zM145.6 310.1h1.2v1.2h-1.2zM123.1 310.1h1.2v1.2h-1.2zM135.4 317.5h1.2v1.2h-1.2zM147.6 323.2h1.2v1.2h-1.2zM139.7 306.8h1.2v1.2h-1.2zM127.5 328.5h1.2v1.2h-1.2zM125.1 334.4h1.2v1.2h-1.2zM134.1 312.4h1.2v1.2h-1.2zM133.6 326.1h1.2v1.2h-1.2zM138.3 332.5h1.2v1.2h-1.2zM135.8 320.6h1.2v1.2h-1.2zM137.0 307.0h1.2v1.2h-1.2zM145.4 313.6h1.2v1.2h-1.2zM130.7 310.9h1.2v1.2h-1.2zM123.2 314.5h1.2v1.2h-1.2zM145.4 316.2h1.2v1.2h-1.2zM137.9 316.6h1.2v1.2h-1.2zM129.7 324.0h1.2v1.2h-1.2zM138.8 312.8h1.2v1.2h-1.2zM148.2 323.9h1.2v1.2h-1.2zM144.5 332.0h1.2v1.2h-1.2zM141.5 325.4h1.2v1.2h-1.2zM132.4 329.4h1.2v1.2h-1.2zM142.4 323.7h1.2v1.2h-1.2zM148.8 307.4h1.2v1.2h-1.2zM132.0 324.8h1.2v1.2h-1.2zM149.7 312.4h1.2v1.2h-1.2zM150.3 332.3h1.2v1.2h-1.2zM132.0 336.8h1.2v1.2h-1.2zM145.5 331.7h1.2v1.2h-1.2zM151.3 332.3h1.2v1.2h-1.2zM149.1 339.0h1.2v1.2h-1.2zM134.9 328.8h1.2v1.2h-1.2zM124.2 309.4h1.2v1.2h-1.2zM142.7 316.3h1.2v1.2h-1.2zM151.4 333.5h1.2v1.2h-1.2zM124.2 311.0h1.2v1.2h-1.2zM140.5 338.3h1.2v1.2h-1.2zM131.8 316.5h1.2v1.2h-1.2zM131.0 336.0h1.2v1.2h-1.2zM138.5 316.6h1.2v1.2h-1.2zM124.4 321.6h1.2v1.2h-1.2zM146.1 318.1h1.2v1.2h-1.2zM141.7 316.1h1.2v1.2h-1.2zM132.8 312.0h1.2v1.2h-1.2zM143.8 311.5h1.2v1.2h-1.2zM150.1 321.7h1.2v1.2h-1.2zM131.9 314.1h1.2v1.2h-1.2zM132.5 321.0h1.2v1.2h-1.2zM133.7 315.0h1.2v1.2h-1.2zM137.9 318.0h1.2v1.2h-1.2zM133.6 318.9h1.2v1.2h-1.2zM132.9 316.7h1.2v1.2h-1.2zM143.0 313.2h1.2v1.2h-1.2zM140.0 339.3h1.2v1.2h-1.2zM123.1 319.7h1.2v1.2h-1.2zM143.2 338.4h1.2v1.2h-1.2zM150.6 332.3h1.2v1.2h-1.2zM128.2 317.9h1.2v1.2h-1.2zM147.3 313.2h1.2v1.2h-1.2zM142.6 322.4h1.2v1.2h-1.2zM140.7 326.7h1.2v1.2h-1.2zM126.5 327.5h1.2v1.2h-1.2zM142.5 333.9h1.2v1.2h-1.2zM147.3 319.2h1.2v1.2h-1.2zM131.1 328.7h1.2v1.2h-1.2zM139.9 334.5h1.2v1.2h-1.2zM128.9 306.5h1.2v1.2h-1.2zM134.4 312.4h1.2v1.2h-1.2zM145.7 310.8h1.2v1.2h-1.2zM125.2 306.6h1.2v1.2h-1.2zM131.1 333.0h1.2v1.2h-1.2zM133.0 317.4h1.2v1.2h-1.2zM146.8 313.0h1.2v1.2h-1.2zM147.7 323.3h1.2v1.2h-1.2zM144.5 311.9h1.2v1.2h-1.2zM144.0 336.9h1.2v1.2h-1.2zM128.9 321.1h1.2v1.2h-1.2zM136.3 307.9h1.2v1.2h-1.2zM146.1 331.0h1.2v1.2h-1.2zM135.8 312.6h1.2v1.2h-1.2zM136.3 326.1h1.2v1.2h-1.2zM124.2 328.2h1.2v1.2h-1.2zM134.2 315.1h1.2v1.2h-1.2zM144.6 327.7h1.2v1.2h-1.2zM144.4 309.6h1.2v1.2h-1.2zM145.0 313.0h1.2v1.2h-1.2zM144.9 335.4h1.2v1.2h-1.2zM139.4 334.6h1.2v1.2h-1.2zM140.7 320.6h1.2v1.2h-1.2zM143.1 313.6h1.2v1.2h-1.2zM146.1 334.9h1.2v1.2h-1.2zM141.4 321.0h1.2v1.2h-1.2zM135.2 318.9h1.2v1.2h-1.2zM147.6 331.8h1.2v1.2h-1.2zM149.5 335.6h1.2v1.2h-1.2zM135.1 321.4h1.2v1.2h-1.2zM149.7 329.1h1.2v1.2h-1.2zM132.8 327.7h1.2v1.2h-1.2zM136.2 315.0h1.2v1.2h-1.2zM123.3 319.0h1.2v1.2h-1.2zM130.7 314.7h1.2v1.2h-1.2zM126.0 328.6h1.2v1.2h-1.2zM136.3 328.9h1.2v1.2h-1.2zM137.4 327.4h1.2v1.2h-1.2zM141.9 321.3h1.2v1.2h-1.2zM137.4 326.3h1.2v1.2h-1.2zM129.2 324.0h1.2v1.2h-1.2zM131.1 319.8h1.2v1.2h-1.2zM149.6 311.1h1.2v1.2h-1.2zM127.9 316.8h1.2v1.2h-1.2zM135.8 312.0h1.2v1.2h-1.2zM127.0 321.8h1.2v1.2h-1.2zM141.2 326.7h1.2v1.2h-1.2zM131.6 316.0h1.2v1.2h-1.2zM141.0 311.7h1.2v1.2h-1.2zM131.7 314.7h1.2v1.2h-1.2zM128.1 313.9h1.2v1.2h-1.2zM126.6 314.5h1.2v1.2h-1.2zM126.9 320.3h1.2v1.2h-1.2zM127.4 316.8h1.2v1.2h-1.2zM123.1 323.2h1.2v1.2h-1.2zM125.2 315.5h1.2v1.2h-1.2zM132.6 318.6h1.2v1.2h-1.2zM142.3 323.6h1.2v1.2h-1.2zM138.2 323.1h1.2v1.2h-1.2zM146.5 330.5h1.2v1.2h-1.2zM129.1 318.9h1.2v1.2h-1.2zM140.2 318.7h1.2v1.2h-1.2zM126.3 313.8h1.2v1.2h-1.2zM135.6 315.7h1.2v1.2h-1.2zM138.1 327.5h1.2v1.2h-1.2zM133.2 320.0h1.2v1.2h-1.2zM124.1 317.6h1.2v1.2h-1.2zM137.3 306.7h1.2v1.2h-1.2zM137.5 307.9h1.2v1.2h-1.2zM128.7 334.0h1.2v1.2h-1.2zM137.2 309.2h1.2v1.2h-1.2zM143.3 318.3h1.2v1.2h-1.2zM136.8 336.8h1.2v1.2h-1.2zM132.7 312.2h1.2v1.2h-1.2zM144.5 317.3h1.2v1.2h-1.2zM131.7 312.3h1.2v1.2h-1.2zM136.5 337.5h1.2v1.2h-1.2zM133.1 311.7h1.2v1.2h-1.2zM150.3 328.7h1.2v1.2h-1.2zM130.6 324.1h1.2v1.2h-1.2zM142.9 309.6h1.2v1.2h-1.2zM126.0 320.7h1.2v1.2h-1.2zM139.4 327.0h1.2v1.2h-1.2zM128.6 316.4h1.2v1.2h-1.2zM138.1 327.9h1.2v1.2h-1.2zM147.9 314.6h1.2v1.2h-1.2zM143.3 317.9h1.2v1.2h-1.2zM131.4 334.8h1.2v1.2h-1.2zM145.9 339.9h1.2v1.2h-1.2zM148.8 328.0h1.2v1.2h-1.2zM138.1 321.3h1.2v1.2h-1.2zM135.8 308.0h1.2v1.2h-1.2zM151.1 339.4h1.2v1.2h-1.2zM128.0 326.1h1.2v1.2h-1.2zM128.9 309.7h1.2v1.2h-1.2zM128.6 326.6h1.2v1.2h-1.2zM125.3 321.2h1.2v1.2h-1.2zM137.0 309.5h1.2v1.2h-1.2zM141.5 322.9h1.2v1.2h-1.2zM132.2 315.3h1.2v1.2h-1.2zM125.9 324.9h1.2v1.2h-1.2zM135.0 329.1h1.2v1.2h-1.2zM139.6 334.4h1.2v1.2h-1.2zM147.9 337.4h1.2v1.2h-1.2zM140.3 328.3h1.2v1.2h-1.2zM131.2 318.1h1.2v1.2h-1.2zM123.3 316.4h1.2v1.2h-1.2zM146.3 308.1h1.2v1.2h-1.2zM139.0 317.3h1.2v1.2h-1.2zM137.4 317.5h1.2v1.2h-1.2zM145.8 312.0h1.2v1.2h-1.2zM123.3 309.8h1.2v1.2h-1.2zM134.5 333.6h1.2v1.2h-1.2zM141.6 319.9h1.2v1.2h-1.2zM141.5 307.8h1.2v1.2h-1.2zM125.3 324.4h1.2v1.2h-1.2zM138.8 332.1h1.2v1.2h-1.2zM124.0 318.2h1.2v1.2h-1.2zM147.0 328.8h1.2v1.2h-1.2zM133.5 309.1h1.2v1.2h-1.2zM149.0 335.3h1.2v1.2h-1.2zM129.8 323.8h1.2v1.2h-1.2zM131.1 319.5h1.2v1.2h-1.2zM125.7 323.1h1.2v1.2h-1.2zM123.5 306.2h1.2v1.2h-1.2zM125.1 331.7h1.2v1.2h-1.2zM132.4 327.3h1.2v1.2h-1.2zM146.8 331.4h1.2v1.2h-1.2zM133.8 306.9h1.2v1.2h-1.2zM124.5 312.8h1.2v1.2h-1.2zM127.4 324.4h1.2v1.2h-1.2zM134.2 308.8h1.2v1.2h-1.2zM144.5 327.5h1.2v1.2h-1.2zM141.5 334.9h1.2v1.2h-1.2zM133.2 319.2h1.2v1.2h-1.2zM142.6 319.5h1.2v1.2h-1.2zM125.3 322.2h1.2v1.2h-1.2zM139.5 333.8h1.2v1.2h-1.2zM127.0 323.6h1.2v1.2h-1.2zM151.1 339.3h1.2v1.2h-1.2zM148.5 330.1h1.2v1.2h-1.2zM124.1 330.7h1.2v1.2h-1.2zM146.3 318.0h1.2v1.2h-1.2zM146.5 314.7h1.2v1.2h-1.2zM149.6 322.4h1.2v1.2h-1.2zM123.8 326.2h1.2v1.2h-1.2zM141.4 312.1h1.2v1.2h-1.2zM147.4 311.0h1.2v1.2h-1.2zM137.3 326.9h1.2v1.2h-1.2zM123.0 310.0h1.2v1.2h-1.2zM132.0 324.7h1.2v1.2h-1.2zM139.8 314.5h1.2v1.2h-1.2zM143.1 312.2h1.2v1.2h-1.2zM145.2 335.2h1.2v1.2h-1.2zM150.3 314.3h1.2v1.2h-1.2zM127.2 312.0h1.2v1.2h-1.2zM131.5 328.3h1.2v1.2h-1.2zM138.3 329.6h1.2v1.2h-1.2zM122.7 323.1h1.2v1.2h-1.2zM147.7 311.9h1.2v1.2h-1.2zM125.9 316.3h1.2v1.2h-1.2zM124.0 333.0h1.2v1.2h-1.2zM125.5 323.7h1.2v1.2h-1.2zM125.2 312.3h1.2v1.2h-1.2zM144.5 330.0h1.2v1.2h-1.2zM137.6 307.9h1.2v1.2h-1.2zM138.7 318.5h1.2v1.2h-1.2zM133.5 320.8h1.2v1.2h-1.2zM130.1 313.1h1.2v1.2h-1.2zM145.7 312.9h1.2v1.2h-1.2zM123.1 310.7h1.2v1.2h-1.2zM132.4 314.1h1.2v1.2h-1.2zM144.3 333.3h1.2v1.2h-1.2zM143.0 337.5h1.2v1.2h-1.2zM148.1 328.4h1.2v1.2h-1.2zM123.0 313.1h1.2v1.2h-1.2zM164.9 331.0h1.2v1.2h-1.2zM164.5 328.6h1.2v1.2h-1.2zM154.2 321.7h1.2v1.2h-1.2zM161.8 338.8h1.2v1.2h-1.2zM163.8 325.2h1.2v1.2h-1.2zM149.9 322.1h1.2v1.2h-1.2zM152.4 327.2h1.2v1.2h-1.2zM152.7 336.7h1.2v1.2h-1.2zM161.8 335.3h1.2v1.2h-1.2zM161.6 331.4h1.2v1.2h-1.2zM155.5 327.8h1.2v1.2h-1.2zM150.8 339.5h1.2v1.2h-1.2zM150.3 315.0h1.2v1.2h-1.2zM150.7 331.2h1.2v1.2h-1.2zM146.9 311.7h1.2v1.2h-1.2zM149.3 330.5h1.2v1.2h-1.2zM157.0 339.0h1.2v1.2h-1.2zM153.8 312.2h1.2v1.2h-1.2zM159.3 326.4h1.2v1.2h-1.2zM156.5 316.7h1.2v1.2h-1.2zM162.2 334.3h1.2v1.2h-1.2zM154.9 328.5h1.2v1.2h-1.2zM146.5 310.0h1.2v1.2h-1.2zM149.8 334.0h1.2v1.2h-1.2zM150.1 310.3h1.2v1.2h-1.2zM157.9 334.8h1.2v1.2h-1.2zM150.3 315.4h1.2v1.2h-1.2zM163.9 320.2h1.2v1.2h-1.2zM163.6 333.2h1.2v1.2h-1.2zM160.9 318.6h1.2v1.2h-1.2zM155.2 325.8h1.2v1.2h-1.2zM164.8 324.9h1.2v1.2h-1.2zM157.6 332.7h1.2v1.2h-1.2zM154.7 315.8h1.2v1.2h-1.2zM155.0 339.8h1.2v1.2h-1.2zM159.5 325.7h1.2v1.2h-1.2zM160.7 329.2h1.2v1.2h-1.2zM163.6 317.5h1.2v1.2h-1.2zM163.8 322.4h1.2v1.2h-1.2zM157.1 321.7h1.2v1.2h-1.2zM156.2 319.2h1.2v1.2h-1.2zM151.9 324.3h1.2v1.2h-1.2zM161.4 316.5h1.2v1.2h-1.2zM147.8 332.1h1.2v1.2h-1.2zM151.9 321.2h1.2v1.2h-1.2zM146.7 319.9h1.2v1.2h-1.2zM153.0 320.5h1.2v1.2h-1.2zM159.9 327.0h1.2v1.2h-1.2zM165.3 338.7h1.2v1.2h-1.2zM164.9 339.8h1.2v1.2h-1.2zM154.8 338.1h1.2v1.2h-1.2zM162.9 337.9h1.2v1.2h-1.2zM152.6 330.0h1.2v1.2h-1.2zM155.5 310.7h1.2v1.2h-1.2zM151.1 329.3h1.2v1.2h-1.2zM146.5 336.1h1.2v1.2h-1.2zM162.8 311.8h1.2v1.2h-1.2zM149.2 309.5h1.2v1.2h-1.2zM160.4 311.6h1.2v1.2h-1.2zM154.2 319.7h1.2v1.2h-1.2zM159.2 328.2h1.2v1.2h-1.2zM153.9 330.8h1.2v1.2h-1.2zM165.4 330.1h1.2v1.2h-1.2zM148.3 334.9h1.2v1.2h-1.2zM131.7 313.9h1.2v1.2h-1.2zM131.8 310.1h1.2v1.2h-1.2zM134.5 323.6h1.2v1.2h-1.2zM128.9 322.5h1.2v1.2h-1.2zM136.5 323.2h1.2v1.2h-1.2zM140.7 314.4h1.2v1.2h-1.2zM132.7 314.2h1.2v1.2h-1.2zM138.6 320.6h1.2v1.2h-1.2zM147.1 320.2h1.2v1.2h-1.2zM134.4 315.8h1.2v1.2h-1.2zM142.3 318.2h1.2v1.2h-1.2zM139.1 315.8h1.2v1.2h-1.2zM140.5 314.1h1.2v1.2h-1.2zM144.3 315.6h1.2v1.2h-1.2zM134.4 324.3h1.2v1.2h-1.2zM139.3 319.6h1.2v1.2h-1.2zM145.2 319.7h1.2v1.2h-1.2zM130.7 327.2h1.2v1.2h-1.2zM138.6 324.8h1.2v1.2h-1.2zM130.0 325.2h1.2v1.2h-1.2zM141.9 316.5h1.2v1.2h-1.2zM127.0 326.3h1.2v1.2h-1.2zM135.1 327.2h1.2v1.2h-1.2zM142.2 323.2h1.2v1.2h-1.2zM134.3 329.7h1.2v1.2h-1.2zM137.5 320.7h1.2v1.2h-1.2zM127.0 326.3h1.2v1.2h-1.2zM135.9 318.7h1.2v1.2h-1.2zM132.6 322.6h1.2v1.2h-1.2zM131.8 328.7h1.2v1.2h-1.2zM138.6 313.0h1.2v1.2h-1.2zM126.7 322.1h1.2v1.2h-1.2zM125.8 325.2h1.2v1.2h-1.2zM142.7 323.1h1.2v1.2h-1.2zM133.3 328.7h1.2v1.2h-1.2zM131.6 320.8h1.2v1.2h-1.2zM137.6 317.6h1.2v1.2h-1.2zM140.6 316.5h1.2v1.2h-1.2zM134.1 315.5h1.2v1.2h-1.2zM135.6 317.9h1.2v1.2h-1.2zM131.7 322.9h1.2v1.2h-1.2zM142.7 325.9h1.2v1.2h-1.2zM133.1 325.7h1.2v1.2h-1.2zM131.5 322.3h1.2v1.2h-1.2zM132.0 327.6h1.2v1.2h-1.2zM135.3 326.2h1.2v1.2h-1.2zM130.3 321.6h1.2v1.2h-1.2zM138.4 316.2h1.2v1.2h-1.2zM141.8 320.5h1.2v1.2h-1.2zM135.1 322.2h1.2v1.2h-1.2zM137.7 323.9h1.2v1.2h-1.2zM134.1 321.1h1.2v1.2h-1.2zM129.7 329.4h1.2v1.2h-1.2zM136.7 322.7h1.2v1.2h-1.2zM132.6 319.7h1.2v1.2h-1.2zM131.1 315.5h1.2v1.2h-1.2zM139.8 316.6h1.2v1.2h-1.2zM143.6 323.3h1.2v1.2h-1.2zM128.3 319.5h1.2v1.2h-1.2zM126.8 323.5h1.2v1.2h-1.2zM125.3 326.0h1.2v1.2h-1.2zM131.7 321.5h1.2v1.2h-1.2zM132.5 316.8h1.2v1.2h-1.2zM134.3 321.9h1.2v1.2h-1.2zM130.5 327.9h1.2v1.2h-1.2zM138.1 329.8h1.2v1.2h-1.2zM134.5 320.9h1.2v1.2h-1.2zM142.4 318.6h1.2v1.2h-1.2zM126.0 318.3h1.2v1.2h-1.2zM134.2 313.3h1.2v1.2h-1.2zM128.6 314.5h1.2v1.2h-1.2zM140.0 317.6h1.2v1.2h-1.2zM138.0 324.7h1.2v1.2h-1.2zM136.9 321.5h1.2v1.2h-1.2zM132.7 319.9h1.2v1.2h-1.2zM136.1 326.2h1.2v1.2h-1.2zM138.0 321.6h1.2v1.2h-1.2zM136.9 314.9h1.2v1.2h-1.2zM141.6 318.1h1.2v1.2h-1.2zM136.1 327.5h1.2v1.2h-1.2zM129.0 323.4h1.2v1.2h-1.2zM128.6 312.4h1.2v1.2h-1.2zM137.1 328.0h1.2v1.2h-1.2zM135.8 319.6h1.2v1.2h-1.2zM135.8 319.7h1.2v1.2h-1.2zM126.0 315.6h1.2v1.2h-1.2zM141.8 317.4h1.2v1.2h-1.2zM143.8 319.7h1.2v1.2h-1.2zM132.8 324.0h1.2v1.2h-1.2zM124.0 319.5h1.2v1.2h-1.2zM138.3 318.9h1.2v1.2h-1.2zM131.1 329.0h1.2v1.2h-1.2zM134.8 313.4h1.2v1.2h-1.2zM133.8 317.7h1.2v1.2h-1.2zM122.7 321.0h1.2v1.2h-1.2zM122.6 317.5h1.2v1.2h-1.2zM129.5 321.0h1.2v1.2h-1.2zM135.7 327.0h1.2v1.2h-1.2zM136.6 319.6h1.2v1.2h-1.2zM127.4 326.0h1.2v1.2h-1.2zM137.0 323.1h1.2v1.2h-1.2zM125.6 319.4h1.2v1.2h-1.2zM143.9 321.0h1.2v1.2h-1.2zM139.0 323.2h1.2v1.2h-1.2zM134.7 326.7h1.2v1.2h-1.2zM139.2 311.8h1.2v1.2h-1.2zM130.7 311.0h1.2v1.2h-1.2zM133.7 313.4h1.2v1.2h-1.2zM133.9 311.0h1.2v1.2h-1.2zM128.6 317.9h1.2v1.2h-1.2zM125.9 326.6h1.2v1.2h-1.2zM135.7 318.2h1.2v1.2h-1.2zM138.7 322.6h1.2v1.2h-1.2zM129.1 322.5h1.2v1.2h-1.2zM130.1 315.4h1.2v1.2h-1.2zM141.7 325.4h1.2v1.2h-1.2zM125.0 319.8h1.2v1.2h-1.2zM128.0 325.5h1.2v1.2h-1.2zM127.8 317.3h1.2v1.2h-1.2zM147.0 319.1h1.2v1.2h-1.2zM140.4 324.6h1.2v1.2h-1.2zM132.8 322.7h1.2v1.2h-1.2zM124.3 316.6h1.2v1.2h-1.2zM142.5 312.4h1.2v1.2h-1.2zM138.1 312.2h1.2v1.2h-1.2zM139.4 328.0h1.2v1.2h-1.2zM130.3 315.2h1.2v1.2h-1.2zM127.4 315.0h1.2v1.2h-1.2zM126.8 316.5h1.2v1.2h-1.2zM146.5 321.9h1.2v1.2h-1.2zM137.2 324.3h1.2v1.2h-1.2zM142.2 326.9h1.2v1.2h-1.2zM134.7 323.9h1.2v1.2h-1.2zM130.7 327.8h1.2v1.2h-1.2zM137.9 327.9h1.2v1.2h-1.2zM145.5 323.7h1.2v1.2h-1.2zM128.5 318.7h1.2v1.2h-1.2zM125.8 313.5h1.2v1.2h-1.2zM135.0 316.3h1.2v1.2h-1.2zM136.0 324.9h1.2v1.2h-1.2zM141.2 323.5h1.2v1.2h-1.2zM144.5 321.1h1.2v1.2h-1.2zM137.3 323.5h1.2v1.2h-1.2zM134.4 314.7h1.2v1.2h-1.2zM136.3 317.4h1.2v1.2h-1.2zM135.6 320.8h1.2v1.2h-1.2zM139.6 323.0h1.2v1.2h-1.2zM129.6 325.0h1.2v1.2h-1.2zM125.1 324.8h1.2v1.2h-1.2zM141.3 318.8h1.2v1.2h-1.2zM133.9 321.1h1.2v1.2h-1.2zM139.2 317.2h1.2v1.2h-1.2zM133.1 310.7h1.2v1.2h-1.2zM135.1 323.5h1.2v1.2h-1.2zM138.7 324.3h1.2v1.2h-1.2zM135.6 324.6h1.2v1.2h-1.2zM144.7 319.7h1.2v1.2h-1.2zM131.6 326.0h1.2v1.2h-1.2zM130.8 324.2h1.2v1.2h-1.2zM139.6 319.8h1.2v1.2h-1.2zM135.2 327.2h1.2v1.2h-1.2zM140.1 318.2h1.2v1.2h-1.2zM134.8 326.1h1.2v1.2h-1.2zM134.4 312.0h1.2v1.2h-1.2zM135.8 316.7h1.2v1.2h-1.2zM123.5 324.2h1.2v1.2h-1.2zM137.1 321.0h1.2v1.2h-1.2zM131.0 315.9h1.2v1.2h-1.2zM133.1 320.1h1.2v1.2h-1.2zM132.4 318.9h1.2v1.2h-1.2zM128.6 319.6h1.2v1.2h-1.2zM126.8 323.6h1.2v1.2h-1.2zM124.8 319.3h1.2v1.2h-1.2zM131.0 315.1h1.2v1.2h-1.2zM141.2 326.6h1.2v1.2h-1.2zM128.9 318.9h1.2v1.2h-1.2zM134.0 327.0h1.2v1.2h-1.2zM134.3 318.2h1.2v1.2h-1.2zM136.6 324.9h1.2v1.2h-1.2zM134.1 322.3h1.2v1.2h-1.2zM133.6 314.6h1.2v1.2h-1.2zM132.3 318.1h1.2v1.2h-1.2zM125.7 316.5h1.2v1.2h-1.2zM133.8 321.0h1.2v1.2h-1.2zM134.6 327.2h1.2v1.2h-1.2zM130.0 315.2h1.2v1.2h-1.2zM144.3 323.9h1.2v1.2h-1.2zM134.2 315.0h1.2v1.2h-1.2zM143.8 321.6h1.2v1.2h-1.2zM128.1 317.4h1.2v1.2h-1.2zM136.8 313.0h1.2v1.2h-1.2zM136.2 321.0h1.2v1.2h-1.2zM140.5 318.8h1.2v1.2h-1.2zM106.2 340.1h1.2v1.2h-1.2zM117.1 345.9h1.2v1.2h-1.2zM113.3 351.8h1.2v1.2h-1.2zM130.1 340.6h1.2v1.2h-1.2zM118.0 340.8h1.2v1.2h-1.2zM105.0 352.4h1.2v1.2h-1.2zM118.5 343.0h1.2v1.2h-1.2zM138.8 342.8h1.2v1.2h-1.2zM116.1 344.8h1.2v1.2h-1.2zM105.2 335.0h1.2v1.2h-1.2zM109.3 349.8h1.2v1.2h-1.2zM121.6 349.4h1.2v1.2h-1.2zM125.2 348.8h1.2v1.2h-1.2zM112.9 335.5h1.2v1.2h-1.2zM109.3 333.7h1.2v1.2h-1.2zM127.2 340.7h1.2v1.2h-1.2zM104.6 349.9h1.2v1.2h-1.2zM122.1 345.7h1.2v1.2h-1.2zM127.8 341.1h1.2v1.2h-1.2zM121.3 340.2h1.2v1.2h-1.2zM104.5 349.3h1.2v1.2h-1.2zM105.8 352.0h1.2v1.2h-1.2zM123.4 349.8h1.2v1.2h-1.2zM114.4 346.7h1.2v1.2h-1.2zM132.9 344.3h1.2v1.2h-1.2zM117.3 348.8h1.2v1.2h-1.2zM104.5 337.6h1.2v1.2h-1.2zM129.4 340.3h1.2v1.2h-1.2zM105.1 342.3h1.2v1.2h-1.2zM109.6 341.1h1.2v1.2h-1.2zM120.5 339.2h1.2v1.2h-1.2zM126.9 338.6h1.2v1.2h-1.2zM100.0 345.5h1.2v1.2h-1.2zM105.8 339.3h1.2v1.2h-1.2zM118.0 337.2h1.2v1.2h-1.2zM131.7 343.5h1.2v1.2h-1.2zM117.3 337.1h1.2v1.2h-1.2zM124.4 344.5h1.2v1.2h-1.2zM127.5 335.5h1.2v1.2h-1.2zM101.7 346.9h1.2v1.2h-1.2zM115.9 333.6h1.2v1.2h-1.2zM103.0 342.2h1.2v1.2h-1.2zM111.8 335.5h1.2v1.2h-1.2zM99.6 348.1h1.2v1.2h-1.2zM125.0 349.3h1.2v1.2h-1.2zM100.2 344.1h1.2v1.2h-1.2zM119.9 343.1h1.2v1.2h-1.2zM111.6 344.0h1.2v1.2h-1.2zM99.3 334.6h1.2v1.2h-1.2zM131.9 346.4h1.2v1.2h-1.2zM108.6 337.6h1.2v1.2h-1.2zM124.9 340.6h1.2v1.2h-1.2zM97.8 336.9h1.2v1.2h-1.2zM128.0 342.7h1.2v1.2h-1.2zM117.3 339.0h1.2v1.2h-1.2zM106.0 343.1h1.2v1.2h-1.2zM119.3 348.2h1.2v1.2h-1.2zM110.3 338.1h1.2v1.2h-1.2zM132.8 345.8h1.2v1.2h-1.2zM139.7 344.4h1.2v1.2h-1.2zM117.8 333.9h1.2v1.2h-1.2zM106.8 349.4h1.2v1.2h-1.2zM118.0 349.7h1.2v1.2h-1.2zM121.5 342.7h1.2v1.2h-1.2zM111.4 337.1h1.2v1.2h-1.2zM125.3 339.3h1.2v1.2h-1.2zM122.7 347.9h1.2v1.2h-1.2zM107.5 337.4h1.2v1.2h-1.2zM129.0 340.0h1.2v1.2h-1.2zM126.5 349.3h1.2v1.2h-1.2zM101.8 347.7h1.2v1.2h-1.2zM115.0 351.6h1.2v1.2h-1.2zM105.6 345.2h1.2v1.2h-1.2zM128.1 348.4h1.2v1.2h-1.2zM119.2 349.5h1.2v1.2h-1.2zM123.7 342.0h1.2v1.2h-1.2zM109.1 333.2h1.2v1.2h-1.2zM105.2 344.4h1.2v1.2h-1.2zM120.5 337.0h1.2v1.2h-1.2zM116.5 344.6h1.2v1.2h-1.2zM132.6 341.1h1.2v1.2h-1.2zM112.2 343.1h1.2v1.2h-1.2zM123.5 341.1h1.2v1.2h-1.2zM110.9 349.5h1.2v1.2h-1.2zM116.3 340.5h1.2v1.2h-1.2zM118.6 340.5h1.2v1.2h-1.2zM126.1 348.7h1.2v1.2h-1.2zM106.1 342.7h1.2v1.2h-1.2zM116.0 341.0h1.2v1.2h-1.2zM134.1 347.4h1.2v1.2h-1.2zM103.7 341.0h1.2v1.2h-1.2zM116.0 336.4h1.2v1.2h-1.2zM121.1 350.4h1.2v1.2h-1.2zM111.0 349.1h1.2v1.2h-1.2zM104.6 342.7h1.2v1.2h-1.2zM100.5 346.8h1.2v1.2h-1.2zM122.7 337.5h1.2v1.2h-1.2zM112.4 336.1h1.2v1.2h-1.2zM107.2 351.0h1.2v1.2h-1.2zM123.1 343.3h1.2v1.2h-1.2zM111.7 335.4h1.2v1.2h-1.2zM101.0 340.4h1.2v1.2h-1.2zM111.5 343.4h1.2v1.2h-1.2zM138.2 342.7h1.2v1.2h-1.2zM107.9 346.9h1.2v1.2h-1.2zM99.6 339.8h1.2v1.2h-1.2zM114.2 349.2h1.2v1.2h-1.2zM102.6 345.3h1.2v1.2h-1.2zM114.2 334.7h1.2v1.2h-1.2zM123.6 349.9h1.2v1.2h-1.2zM107.9 347.7h1.2v1.2h-1.2zM123.3 343.0h1.2v1.2h-1.2zM117.3 350.5h1.2v1.2h-1.2zM118.6 350.2h1.2v1.2h-1.2zM97.9 338.0h1.2v1.2h-1.2zM134.3 345.6h1.2v1.2h-1.2zM136.5 345.2h1.2v1.2h-1.2zM113.5 342.9h1.2v1.2h-1.2zM116.2 336.1h1.2v1.2h-1.2zM114.5 343.6h1.2v1.2h-1.2zM122.0 350.1h1.2v1.2h-1.2zM116.3 345.3h1.2v1.2h-1.2zM119.1 337.2h1.2v1.2h-1.2zM110.1 341.6h1.2v1.2h-1.2zM102.5 353.7h1.2v1.2h-1.2zM101.6 345.2h1.2v1.2h-1.2zM100.9 343.6h1.2v1.2h-1.2zM98.4 346.4h1.2v1.2h-1.2zM126.9 343.9h1.2v1.2h-1.2zM117.6 339.9h1.2v1.2h-1.2zM117.8 347.0h1.2v1.2h-1.2zM108.7 338.8h1.2v1.2h-1.2zM114.3 333.0h1.2v1.2h-1.2zM110.2 346.3h1.2v1.2h-1.2zM99.4 336.6h1.2v1.2h-1.2zM98.3 335.5h1.2v1.2h-1.2zM111.8 334.2h1.2v1.2h-1.2zM99.5 331.6h1.2v1.2h-1.2zM124.8 348.5h1.2v1.2h-1.2zM103.4 344.4h1.2v1.2h-1.2zM103.4 338.2h1.2v1.2h-1.2zM113.0 340.7h1.2v1.2h-1.2zM129.8 343.2h1.2v1.2h-1.2zM116.7 348.0h1.2v1.2h-1.2zM127.2 343.6h1.2v1.2h-1.2zM138.1 343.7h1.2v1.2h-1.2zM103.4 332.0h1.2v1.2h-1.2zM111.1 334.8h1.2v1.2h-1.2zM132.1 342.8h1.2v1.2h-1.2zM104.2 335.2h1.2v1.2h-1.2zM103.4 347.8h1.2v1.2h-1.2zM118.0 338.9h1.2v1.2h-1.2zM115.8 335.1h1.2v1.2h-1.2zM119.7 349.3h1.2v1.2h-1.2zM100.2 335.6h1.2v1.2h-1.2zM119.4 338.3h1.2v1.2h-1.2zM114.7 350.9h1.2v1.2h-1.2zM127.8 344.9h1.2v1.2h-1.2zM128.3 342.4h1.2v1.2h-1.2zM131.3 345.5h1.2v1.2h-1.2zM138.9 344.3h1.2v1.2h-1.2zM116.8 337.7h1.2v1.2h-1.2zM102.7 341.7h1.2v1.2h-1.2zM115.4 350.3h1.2v1.2h-1.2zM103.1 337.5h1.2v1.2h-1.2zM122.8 340.7h1.2v1.2h-1.2zM105.1 349.3h1.2v1.2h-1.2zM99.8 336.2h1.2v1.2h-1.2zM102.2 344.7h1.2v1.2h-1.2zM112.2 342.5h1.2v1.2h-1.2zM99.9 343.9h1.2v1.2h-1.2zM116.5 351.2h1.2v1.2h-1.2zM110.1 339.5h1.2v1.2h-1.2zM107.3 343.7h1.2v1.2h-1.2zM123.5 349.9h1.2v1.2h-1.2zM113.4 351.4h1.2v1.2h-1.2zM118.5 346.3h1.2v1.2h-1.2zM115.2 351.7h1.2v1.2h-1.2zM132.4 346.0h1.2v1.2h-1.2zM119.6 344.2h1.2v1.2h-1.2zM135.2 344.2h1.2v1.2h-1.2zM116.0 337.6h1.2v1.2h-1.2zM115.2 351.4h1.2v1.2h-1.2zM129.8 344.9h1.2v1.2h-1.2zM108.6 346.8h1.2v1.2h-1.2zM119.3 349.1h1.2v1.2h-1.2zM123.5 344.5h1.2v1.2h-1.2zM116.4 351.6h1.2v1.2h-1.2zM120.4 337.8h1.2v1.2h-1.2zM118.7 342.5h1.2v1.2h-1.2zM111.3 339.7h1.2v1.2h-1.2zM125.2 349.0h1.2v1.2h-1.2zM106.0 338.2h1.2v1.2h-1.2zM115.5 349.8h1.2v1.2h-1.2zM118.6 351.1h1.2v1.2h-1.2zM115.2 338.7h1.2v1.2h-1.2zM136.6 345.1h1.2v1.2h-1.2zM99.5 347.6h1.2v1.2h-1.2zM110.7 348.9h1.2v1.2h-1.2zM110.9 336.7h1.2v1.2h-1.2zM116.9 343.7h1.2v1.2h-1.2zM137.3 340.5h1.2v1.2h-1.2zM110.0 337.8h1.2v1.2h-1.2zM107.0 335.2h1.2v1.2h-1.2zM114.3 332.6h1.2v1.2h-1.2zM123.1 340.2h1.2v1.2h-1.2zM100.6 338.6h1.2v1.2h-1.2zM104.2 346.2h1.2v1.2h-1.2zM116.0 346.1h1.2v1.2h-1.2zM118.0 340.2h1.2v1.2h-1.2zM101.8 333.4h1.2v1.2h-1.2zM101.8 337.6h1.2v1.2h-1.2zM139.6 339.3h1.2v1.2h-1.2zM103.7 345.3h1.2v1.2h-1.2zM103.7 339.3h1.2v1.2h-1.2zM130.0 343.2h1.2v1.2h-1.2zM120.0 338.6h1.2v1.2h-1.2zM108.7 333.4h1.2v1.2h-1.2zM101.2 332.7h1.2v1.2h-1.2zM106.8 333.9h1.2v1.2h-1.2zM118.2 339.3h1.2v1.2h-1.2zM106.8 336.5h1.2v1.2h-1.2zM110.7 350.3h1.2v1.2h-1.2zM104.7 351.6h1.2v1.2h-1.2zM107.0 339.0h1.2v1.2h-1.2zM101.1 337.2h1.2v1.2h-1.2zM132.9 341.7h1.2v1.2h-1.2zM126.7 339.1h1.2v1.2h-1.2zM107.0 347.8h1.2v1.2h-1.2zM110.7 347.5h1.2v1.2h-1.2zM117.2 339.0h1.2v1.2h-1.2zM115.0 341.2h1.2v1.2h-1.2zM111.5 343.8h1.2v1.2h-1.2zM114.4 344.2h1.2v1.2h-1.2zM101.5 341.2h1.2v1.2h-1.2zM113.5 339.6h1.2v1.2h-1.2zM105.5 340.8h1.2v1.2h-1.2zM110.8 343.6h1.2v1.2h-1.2zM103.2 345.2h1.2v1.2h-1.2zM120.9 343.6h1.2v1.2h-1.2zM109.2 347.8h1.2v1.2h-1.2zM106.6 343.2h1.2v1.2h-1.2zM111.9 339.1h1.2v1.2h-1.2zM115.4 342.5h1.2v1.2h-1.2zM116.0 341.5h1.2v1.2h-1.2zM100.5 339.9h1.2v1.2h-1.2zM115.1 340.8h1.2v1.2h-1.2zM113.0 340.8h1.2v1.2h-1.2zM114.2 339.9h1.2v1.2h-1.2zM107.5 348.8h1.2v1.2h-1.2zM112.8 347.5h1.2v1.2h-1.2zM106.2 345.0h1.2v1.2h-1.2zM104.1 345.3h1.2v1.2h-1.2zM121.5 342.2h1.2v1.2h-1.2zM108.6 346.8h1.2v1.2h-1.2zM118.4 348.9h1.2v1.2h-1.2zM107.1 337.6h1.2v1.2h-1.2zM103.1 342.2h1.2v1.2h-1.2zM120.2 341.7h1.2v1.2h-1.2zM116.0 343.9h1.2v1.2h-1.2zM118.0 343.0h1.2v1.2h-1.2zM116.8 347.5h1.2v1.2h-1.2zM108.2 342.8h1.2v1.2h-1.2zM120.8 342.7h1.2v1.2h-1.2zM107.5 338.9h1.2v1.2h-1.2zM104.2 340.5h1.2v1.2h-1.2zM117.1 342.0h1.2v1.2h-1.2zM124.5 341.8h1.2v1.2h-1.2zM110.4 344.5h1.2v1.2h-1.2zM108.0 340.2h1.2v1.2h-1.2zM101.1 340.3h1.2v1.2h-1.2zM114.5 344.4h1.2v1.2h-1.2zM114.3 342.4h1.2v1.2h-1.2zM114.1 344.0h1.2v1.2h-1.2zM119.6 347.3h1.2v1.2h-1.2zM124.3 344.1h1.2v1.2h-1.2zM119.8 339.7h1.2v1.2h-1.2zM116.0 348.4h1.2v1.2h-1.2zM109.5 346.5h1.2v1.2h-1.2zM120.7 347.3h1.2v1.2h-1.2zM104.6 342.9h1.2v1.2h-1.2zM112.8 339.9h1.2v1.2h-1.2zM150.6 301.8h1.2v1.2h-1.2zM150.8 296.4h1.2v1.2h-1.2zM158.0 303.3h1.2v1.2h-1.2zM150.8 300.5h1.2v1.2h-1.2zM157.6 297.7h1.2v1.2h-1.2zM153.0 296.1h1.2v1.2h-1.2zM149.4 298.3h1.2v1.2h-1.2zM155.4 298.6h1.2v1.2h-1.2zM151.6 298.0h1.2v1.2h-1.2zM159.9 305.1h1.2v1.2h-1.2zM159.1 301.5h1.2v1.2h-1.2zM149.0 306.3h1.2v1.2h-1.2zM178.8 315.7h1.2v1.2h-1.2zM160.4 337.5h1.2v1.2h-1.2zM170.1 315.3h1.2v1.2h-1.2zM174.0 332.1h1.2v1.2h-1.2zM176.5 337.0h1.2v1.2h-1.2zM187.6 322.4h1.2v1.2h-1.2zM163.0 332.3h1.2v1.2h-1.2zM163.8 326.8h1.2v1.2h-1.2zM186.7 337.9h1.2v1.2h-1.2zM170.4 317.3h1.2v1.2h-1.2zM169.5 315.2h1.2v1.2h-1.2zM183.0 330.2h1.2v1.2h-1.2zM175.1 332.5h1.2v1.2h-1.2zM177.8 324.5h1.2v1.2h-1.2zM159.7 322.0h1.2v1.2h-1.2zM159.7 317.2h1.2v1.2h-1.2zM164.5 318.7h1.2v1.2h-1.2zM175.8 340.0h1.2v1.2h-1.2zM176.1 336.6h1.2v1.2h-1.2zM170.4 317.3h1.2v1.2h-1.2zM159.3 332.8h1.2v1.2h-1.2zM171.1 339.4h1.2v1.2h-1.2zM178.0 335.0h1.2v1.2h-1.2zM182.0 327.1h1.2v1.2h-1.2zM184.8 319.0h1.2v1.2h-1.2zM186.7 335.1h1.2v1.2h-1.2zM182.3 324.2h1.2v1.2h-1.2zM174.2 316.5h1.2v1.2h-1.2zM179.4 338.7h1.2v1.2h-1.2zM174.5 338.4h1.2v1.2h-1.2zM167.1 321.3h1.2v1.2h-1.2zM167.8 330.9h1.2v1.2h-1.2zM175.4 317.1h1.2v1.2h-1.2zM164.8 302.1h1.2v1.2h-1.2zM164.4 291.8h1.2v1.2h-1.2zM164.2 316.4h1.2v1.2h-1.2zM162.8 293.9h1.2v1.2h-1.2zM162.7 300.1h1.2v1.2h-1.2zM163.4 300.7h1.2v1.2h-1.2zM164.2 299.8h1.2v1.2h-1.2zM163.5 299.4h1.2v1.2h-1.2zM163.1 296.7h1.2v1.2h-1.2zM161.1 294.8h1.2v1.2h-1.2zM164.3 304.9h1.2v1.2h-1.2zM163.6 307.2h1.2v1.2h-1.2zM163.7 308.6h1.2v1.2h-1.2zM162.7 314.1h1.2v1.2h-1.2zM166.1 315.7h1.2v1.2h-1.2zM160.7 295.5h1.2v1.2h-1.2zM161.0 306.3h1.2v1.2h-1.2zM163.2 293.6h1.2v1.2h-1.2zM162.2 308.6h1.2v1.2h-1.2zM160.6 304.0h1.2v1.2h-1.2zM165.1 315.8h1.2v1.2h-1.2zM162.7 315.3h1.2v1.2h-1.2zM162.4 311.2h1.2v1.2h-1.2zM163.5 315.3h1.2v1.2h-1.2zM166.0 297.2h1.2v1.2h-1.2zM163.5 291.1h1.2v1.2h-1.2zM164.0 300.8h1.2v1.2h-1.2zM164.9 310.1h1.2v1.2h-1.2zM166.7 316.0h1.2v1.2h-1.2zM165.1 297.3h1.2v1.2h-1.2zM163.0 318.0h1.2v1.2h-1.2zM166.2 308.4h1.2v1.2h-1.2zM162.2 312.1h1.2v1.2h-1.2zM160.9 303.0h1.2v1.2h-1.2zM166.6 313.6h1.2v1.2h-1.2zM161.9 312.8h1.2v1.2h-1.2zM164.2 295.8h1.2v1.2h-1.2z"/>
<path fill="#f4561f" d="M118.6 76.7h1.2v1.2h-1.2zM210.0 165.5h1.2v1.2h-1.2zM215.4 106.4h1.2v1.2h-1.2zM121.0 90.9h1.2v1.2h-1.2zM93.4 134.7h1.2v1.2h-1.2zM104.3 179.0h1.2v1.2h-1.2zM199.4 207.3h1.2v1.2h-1.2zM91.4 302.8h1.2v1.2h-1.2zM99.1 326.5h1.2v1.2h-1.2zM131.3 110.5h1.2v1.2h-1.2zM126.4 103.7h1.2v1.2h-1.2zM79.5 140.8h1.2v1.2h-1.2zM83.1 267.8h1.2v1.2h-1.2zM158.8 291.0h1.2v1.2h-1.2zM139.6 293.0h1.2v1.2h-1.2zM65.7 175.3h1.2v1.2h-1.2zM196.8 299.0h1.2v1.2h-1.2zM168.0 210.2h1.2v1.2h-1.2zM108.3 249.3h1.2v1.2h-1.2zM127.4 216.6h1.2v1.2h-1.2zM162.5 191.4h1.2v1.2h-1.2zM112.4 178.2h1.2v1.2h-1.2zM226.8 98.0h1.2v1.2h-1.2zM208.0 170.7h1.2v1.2h-1.2zM164.8 82.9h1.2v1.2h-1.2zM137.8 132.0h1.2v1.2h-1.2zM154.9 192.6h1.2v1.2h-1.2zM185.3 157.1h1.2v1.2h-1.2zM270.1 111.9h1.2v1.2h-1.2zM54.3 152.9h1.2v1.2h-1.2zM154.8 176.0h1.2v1.2h-1.2zM233.3 132.6h1.2v1.2h-1.2zM123.6 180.6h1.2v1.2h-1.2zM101.9 210.5h1.2v1.2h-1.2zM204.4 123.2h1.2v1.2h-1.2zM187.5 245.1h1.2v1.2h-1.2zM186.3 211.3h1.2v1.2h-1.2zM158.9 107.6h1.2v1.2h-1.2zM182.9 178.4h1.2v1.2h-1.2zM189.0 199.8h1.2v1.2h-1.2zM203.8 271.1h1.2v1.2h-1.2zM141.9 217.7h1.2v1.2h-1.2zM199.9 190.9h1.2v1.2h-1.2zM107.0 124.5h1.2v1.2h-1.2zM158.5 335.2h1.2v1.2h-1.2zM126.0 300.0h1.2v1.2h-1.2zM202.9 141.4h1.2v1.2h-1.2zM79.9 167.3h1.2v1.2h-1.2zM245.7 90.9h1.2v1.2h-1.2zM213.5 161.1h1.2v1.2h-1.2zM50.1 120.7h1.2v1.2h-1.2zM179.3 171.2h1.2v1.2h-1.2zM76.8 113.6h1.2v1.2h-1.2zM86.1 99.9h1.2v1.2h-1.2zM100.3 147.5h1.2v1.2h-1.2zM252.7 86.7h1.2v1.2h-1.2zM122.8 312.1h1.2v1.2h-1.2zM108.5 113.2h1.2v1.2h-1.2zM113.7 222.7h1.2v1.2h-1.2zM227.0 136.4h1.2v1.2h-1.2zM93.0 210.8h1.2v1.2h-1.2zM177.6 83.7h1.2v1.2h-1.2zM178.5 149.6h1.2v1.2h-1.2zM87.9 119.0h1.2v1.2h-1.2zM56.9 130.4h1.2v1.2h-1.2zM274.4 121.1h1.2v1.2h-1.2zM152.8 125.3h1.2v1.2h-1.2zM182.0 77.0h1.2v1.2h-1.2zM199.1 330.5h1.2v1.2h-1.2zM103.5 342.2h1.2v1.2h-1.2zM162.2 182.1h1.2v1.2h-1.2zM142.6 182.3h1.2v1.2h-1.2zM280.1 127.7h1.2v1.2h-1.2zM54.7 109.7h1.2v1.2h-1.2zM153.1 252.5h1.2v1.2h-1.2zM100.7 294.1h1.2v1.2h-1.2zM150.4 136.4h1.2v1.2h-1.2zM152.6 186.7h1.2v1.2h-1.2zM57.6 135.8h1.2v1.2h-1.2zM60.2 118.2h1.2v1.2h-1.2zM197.7 279.5h1.2v1.2h-1.2zM54.4 112.1h1.2v1.2h-1.2zM95.8 257.3h1.2v1.2h-1.2zM92.1 267.4h1.2v1.2h-1.2zM227.1 178.1h1.2v1.2h-1.2zM62.4 227.9h1.2v1.2h-1.2zM248.1 98.0h1.2v1.2h-1.2zM125.9 184.3h1.2v1.2h-1.2zM74.7 188.5h1.2v1.2h-1.2zM84.5 102.5h1.2v1.2h-1.2zM159.7 260.5h1.2v1.2h-1.2zM103.3 250.1h1.2v1.2h-1.2zM227.0 98.8h1.2v1.2h-1.2zM119.9 295.0h1.2v1.2h-1.2zM76.9 182.5h1.2v1.2h-1.2zM96.9 184.3h1.2v1.2h-1.2zM81.0 90.7h1.2v1.2h-1.2zM199.1 70.6h1.2v1.2h-1.2zM150.1 200.1h1.2v1.2h-1.2zM216.3 180.8h1.2v1.2h-1.2zM120.8 255.9h1.2v1.2h-1.2zM207.6 191.7h1.2v1.2h-1.2zM171.1 155.3h1.2v1.2h-1.2zM177.0 225.4h1.2v1.2h-1.2zM88.3 316.9h1.2v1.2h-1.2zM218.8 94.0h1.2v1.2h-1.2zM250.9 54.1h1.2v1.2h-1.2zM191.6 223.2h1.2v1.2h-1.2zM266.2 121.4h1.2v1.2h-1.2zM141.3 80.5h1.2v1.2h-1.2zM61.3 89.5h1.2v1.2h-1.2zM174.2 182.9h1.2v1.2h-1.2zM55.1 106.5h1.2v1.2h-1.2zM154.9 88.0h1.2v1.2h-1.2zM74.2 160.9h1.2v1.2h-1.2zM181.8 155.0h1.2v1.2h-1.2zM155.8 316.3h1.2v1.2h-1.2zM100.6 149.7h1.2v1.2h-1.2zM200.5 62.0h1.2v1.2h-1.2zM146.9 126.1h1.2v1.2h-1.2zM123.6 101.7h1.2v1.2h-1.2zM141.0 154.8h1.2v1.2h-1.2zM232.0 114.6h1.2v1.2h-1.2zM104.3 90.3h1.2v1.2h-1.2zM191.7 75.3h1.2v1.2h-1.2zM114.3 287.5h1.2v1.2h-1.2zM89.9 88.4h1.2v1.2h-1.2zM157.7 75.6h1.2v1.2h-1.2zM138.4 93.6h1.2v1.2h-1.2zM80.6 120.9h1.2v1.2h-1.2zM200.5 81.0h1.2v1.2h-1.2zM167.9 179.1h1.2v1.2h-1.2zM141.2 205.5h1.2v1.2h-1.2zM65.4 168.4h1.2v1.2h-1.2zM103.1 126.3h1.2v1.2h-1.2zM124.5 104.4h1.2v1.2h-1.2zM175.2 169.5h1.2v1.2h-1.2zM142.3 268.8h1.2v1.2h-1.2zM215.3 317.9h1.2v1.2h-1.2zM95.8 92.2h1.2v1.2h-1.2zM55.7 87.1h1.2v1.2h-1.2zM100.2 345.6h1.2v1.2h-1.2zM162.7 333.2h1.2v1.2h-1.2zM218.8 192.8h1.2v1.2h-1.2zM63.4 137.4h1.2v1.2h-1.2zM186.7 333.0h1.2v1.2h-1.2zM183.5 269.7h1.2v1.2h-1.2zM189.3 179.5h1.2v1.2h-1.2zM118.8 336.0h1.2v1.2h-1.2zM261.6 92.3h1.2v1.2h-1.2zM244.9 107.0h1.2v1.2h-1.2zM169.1 173.6h1.2v1.2h-1.2zM142.0 189.2h1.2v1.2h-1.2zM121.5 145.2h1.2v1.2h-1.2zM149.8 121.0h1.2v1.2h-1.2zM162.9 174.2h1.2v1.2h-1.2zM115.4 147.8h1.2v1.2h-1.2zM65.8 170.2h1.2v1.2h-1.2zM192.8 220.5h1.2v1.2h-1.2zM207.0 199.3h1.2v1.2h-1.2zM105.6 166.1h1.2v1.2h-1.2zM117.2 288.6h1.2v1.2h-1.2zM139.2 99.9h1.2v1.2h-1.2zM74.9 87.4h1.2v1.2h-1.2zM68.6 116.0h1.2v1.2h-1.2zM122.1 146.9h1.2v1.2h-1.2zM50.2 111.7h1.2v1.2h-1.2zM128.7 111.9h1.2v1.2h-1.2zM80.3 138.6h1.2v1.2h-1.2zM130.8 133.0h1.2v1.2h-1.2zM84.0 82.7h1.2v1.2h-1.2zM85.0 106.3h1.2v1.2h-1.2zM93.6 97.8h1.2v1.2h-1.2zM111.8 104.4h1.2v1.2h-1.2zM77.6 120.2h1.2v1.2h-1.2zM60.5 130.4h1.2v1.2h-1.2zM57.9 135.4h1.2v1.2h-1.2zM67.3 155.7h1.2v1.2h-1.2zM46.7 90.9h1.2v1.2h-1.2zM117.5 110.2h1.2v1.2h-1.2zM140.7 145.2h1.2v1.2h-1.2zM101.7 155.9h1.2v1.2h-1.2zM128.8 114.5h1.2v1.2h-1.2zM123.1 95.0h1.2v1.2h-1.2zM52.5 107.1h1.2v1.2h-1.2zM114.3 109.9h1.2v1.2h-1.2zM71.9 83.8h1.2v1.2h-1.2zM83.6 95.1h1.2v1.2h-1.2zM154.9 147.8h1.2v1.2h-1.2zM126.9 149.1h1.2v1.2h-1.2zM113.0 129.8h1.2v1.2h-1.2zM108.1 129.7h1.2v1.2h-1.2zM69.6 98.3h1.2v1.2h-1.2zM137.7 102.6h1.2v1.2h-1.2zM99.9 123.5h1.2v1.2h-1.2zM131.7 133.2h1.2v1.2h-1.2zM48.6 120.4h1.2v1.2h-1.2zM62.5 104.0h1.2v1.2h-1.2zM60.0 77.5h1.2v1.2h-1.2zM96.4 85.1h1.2v1.2h-1.2zM87.9 75.8h1.2v1.2h-1.2zM110.3 149.6h1.2v1.2h-1.2zM51.6 114.7h1.2v1.2h-1.2zM48.3 104.9h1.2v1.2h-1.2zM75.3 128.7h1.2v1.2h-1.2zM60.4 82.0h1.2v1.2h-1.2zM135.4 142.0h1.2v1.2h-1.2zM98.8 83.7h1.2v1.2h-1.2zM68.9 141.9h1.2v1.2h-1.2zM111.4 98.2h1.2v1.2h-1.2zM99.1 103.6h1.2v1.2h-1.2zM103.7 112.3h1.2v1.2h-1.2zM75.4 159.5h1.2v1.2h-1.2zM103.5 140.0h1.2v1.2h-1.2zM104.3 149.4h1.2v1.2h-1.2zM108.8 91.7h1.2v1.2h-1.2zM104.6 98.9h1.2v1.2h-1.2zM123.0 119.4h1.2v1.2h-1.2zM90.3 101.4h1.2v1.2h-1.2zM128.6 107.3h1.2v1.2h-1.2zM60.2 95.7h1.2v1.2h-1.2zM81.8 120.1h1.2v1.2h-1.2zM69.6 149.0h1.2v1.2h-1.2zM96.6 78.0h1.2v1.2h-1.2zM95.3 75.1h1.2v1.2h-1.2zM106.3 77.5h1.2v1.2h-1.2zM101.2 73.4h1.2v1.2h-1.2zM97.5 73.9h1.2v1.2h-1.2zM101.2 76.2h1.2v1.2h-1.2zM106.4 74.2h1.2v1.2h-1.2zM96.9 116.7h1.2v1.2h-1.2zM95.7 88.6h1.2v1.2h-1.2zM95.2 113.1h1.2v1.2h-1.2zM95.5 93.1h1.2v1.2h-1.2zM96.9 110.3h1.2v1.2h-1.2zM119.5 89.4h1.2v1.2h-1.2zM85.3 87.8h1.2v1.2h-1.2zM107.6 104.9h1.2v1.2h-1.2zM88.7 89.5h1.2v1.2h-1.2zM100.0 95.7h1.2v1.2h-1.2zM131.3 101.4h1.2v1.2h-1.2zM128.6 101.7h1.2v1.2h-1.2zM132.5 92.0h1.2v1.2h-1.2zM82.8 103.5h1.2v1.2h-1.2zM116.2 105.8h1.2v1.2h-1.2zM96.2 104.8h1.2v1.2h-1.2zM102.1 94.0h1.2v1.2h-1.2zM85.6 88.6h1.2v1.2h-1.2zM100.2 81.0h1.2v1.2h-1.2zM75.7 80.5h1.2v1.2h-1.2zM138.4 91.0h1.2v1.2h-1.2zM149.2 75.0h1.2v1.2h-1.2zM154.6 94.5h1.2v1.2h-1.2zM160.6 77.3h1.2v1.2h-1.2zM136.5 92.9h1.2v1.2h-1.2zM142.9 88.0h1.2v1.2h-1.2zM155.9 76.2h1.2v1.2h-1.2zM151.9 99.9h1.2v1.2h-1.2zM161.6 81.1h1.2v1.2h-1.2zM150.4 99.9h1.2v1.2h-1.2zM139.7 98.8h1.2v1.2h-1.2zM138.1 87.0h1.2v1.2h-1.2zM158.2 93.1h1.2v1.2h-1.2zM154.6 92.5h1.2v1.2h-1.2zM162.5 79.8h1.2v1.2h-1.2zM158.6 85.6h1.2v1.2h-1.2zM144.6 98.9h1.2v1.2h-1.2zM158.1 89.0h1.2v1.2h-1.2zM153.3 87.3h1.2v1.2h-1.2zM139.5 78.4h1.2v1.2h-1.2zM149.5 73.3h1.2v1.2h-1.2zM145.3 86.8h1.2v1.2h-1.2zM150.8 92.6h1.2v1.2h-1.2zM159.7 90.8h1.2v1.2h-1.2zM143.5 76.1h1.2v1.2h-1.2zM148.9 78.7h1.2v1.2h-1.2zM121.7 101.0h1.2v1.2h-1.2zM123.1 103.3h1.2v1.2h-1.2zM132.8 102.4h1.2v1.2h-1.2zM122.7 99.5h1.2v1.2h-1.2zM125.5 109.9h1.2v1.2h-1.2zM139.3 104.6h1.2v1.2h-1.2zM128.8 110.7h1.2v1.2h-1.2zM141.4 101.9h1.2v1.2h-1.2zM136.6 108.1h1.2v1.2h-1.2zM139.7 109.2h1.2v1.2h-1.2zM122.8 99.4h1.2v1.2h-1.2zM136.4 99.3h1.2v1.2h-1.2zM125.5 109.4h1.2v1.2h-1.2zM131.0 97.5h1.2v1.2h-1.2zM134.0 108.9h1.2v1.2h-1.2zM133.8 100.0h1.2v1.2h-1.2zM134.1 98.8h1.2v1.2h-1.2zM125.3 107.4h1.2v1.2h-1.2zM134.8 105.2h1.2v1.2h-1.2zM131.0 109.6h1.2v1.2h-1.2zM121.8 108.8h1.2v1.2h-1.2zM123.4 106.5h1.2v1.2h-1.2zM142.4 95.0h1.2v1.2h-1.2zM142.8 96.4h1.2v1.2h-1.2zM142.2 94.0h1.2v1.2h-1.2zM141.4 92.0h1.2v1.2h-1.2zM143.1 93.0h1.2v1.2h-1.2zM139.5 92.6h1.2v1.2h-1.2zM143.1 94.9h1.2v1.2h-1.2zM142.1 95.4h1.2v1.2h-1.2zM236.0 78.6h1.2v1.2h-1.2zM222.0 66.8h1.2v1.2h-1.2zM214.0 65.6h1.2v1.2h-1.2zM228.5 71.5h1.2v1.2h-1.2zM203.7 80.4h1.2v1.2h-1.2zM226.4 73.9h1.2v1.2h-1.2zM220.5 67.8h1.2v1.2h-1.2zM207.0 67.2h1.2v1.2h-1.2zM228.4 78.6h1.2v1.2h-1.2zM206.5 82.4h1.2v1.2h-1.2zM198.1 74.0h1.2v1.2h-1.2zM226.8 74.2h1.2v1.2h-1.2zM242.7 71.0h1.2v1.2h-1.2zM234.2 77.0h1.2v1.2h-1.2zM236.7 80.0h1.2v1.2h-1.2zM245.4 69.7h1.2v1.2h-1.2zM197.7 66.9h1.2v1.2h-1.2zM222.8 74.6h1.2v1.2h-1.2zM242.2 71.0h1.2v1.2h-1.2zM201.0 67.8h1.2v1.2h-1.2zM200.7 77.0h1.2v1.2h-1.2zM222.7 72.3h1.2v1.2h-1.2zM206.4 67.8h1.2v1.2h-1.2zM221.5 68.9h1.2v1.2h-1.2zM209.4 69.4h1.2v1.2h-1.2zM210.2 71.2h1.2v1.2h-1.2zM212.0 71.1h1.2v1.2h-1.2zM234.1 79.6h1.2v1.2h-1.2zM234.2 69.4h1.2v1.2h-1.2zM206.8 74.0h1.2v1.2h-1.2zM226.0 75.0h1.2v1.2h-1.2zM227.2 66.2h1.2v1.2h-1.2zM221.7 74.9h1.2v1.2h-1.2zM245.7 72.3h1.2v1.2h-1.2zM239.0 65.4h1.2v1.2h-1.2zM215.2 74.0h1.2v1.2h-1.2zM225.7 91.4h1.2v1.2h-1.2zM234.7 89.2h1.2v1.2h-1.2zM243.3 88.9h1.2v1.2h-1.2zM230.6 89.5h1.2v1.2h-1.2zM237.3 88.7h1.2v1.2h-1.2zM238.6 89.0h1.2v1.2h-1.2zM245.7 89.6h1.2v1.2h-1.2zM230.3 92.4h1.2v1.2h-1.2zM233.8 85.5h1.2v1.2h-1.2zM227.3 86.8h1.2v1.2h-1.2zM230.1 88.8h1.2v1.2h-1.2zM242.6 87.4h1.2v1.2h-1.2zM241.3 84.5h1.2v1.2h-1.2zM241.4 89.4h1.2v1.2h-1.2zM230.6 91.0h1.2v1.2h-1.2zM239.9 87.6h1.2v1.2h-1.2zM228.9 84.9h1.2v1.2h-1.2zM231.5 93.2h1.2v1.2h-1.2zM238.5 86.3h1.2v1.2h-1.2zM227.6 83.3h1.2v1.2h-1.2zM229.6 92.8h1.2v1.2h-1.2zM228.2 84.7h1.2v1.2h-1.2zM232.5 85.4h1.2v1.2h-1.2zM231.1 87.4h1.2v1.2h-1.2zM226.5 88.0h1.2v1.2h-1.2zM229.3 90.6h1.2v1.2h-1.2zM241.4 91.8h1.2v1.2h-1.2zM239.1 84.8h1.2v1.2h-1.2zM233.1 83.3h1.2v1.2h-1.2zM228.6 86.7h1.2v1.2h-1.2zM237.0 85.5h1.2v1.2h-1.2zM234.8 82.4h1.2v1.2h-1.2zM233.2 86.9h1.2v1.2h-1.2zM229.7 84.3h1.2v1.2h-1.2zM233.1 84.3h1.2v1.2h-1.2zM232.0 89.1h1.2v1.2h-1.2zM234.0 82.5h1.2v1.2h-1.2zM239.5 87.6h1.2v1.2h-1.2zM225.6 87.4h1.2v1.2h-1.2zM243.8 87.0h1.2v1.2h-1.2zM241.2 91.8h1.2v1.2h-1.2zM242.0 86.9h1.2v1.2h-1.2zM235.8 82.6h1.2v1.2h-1.2zM238.9 83.5h1.2v1.2h-1.2zM230.8 82.6h1.2v1.2h-1.2zM241.0 85.7h1.2v1.2h-1.2zM228.5 83.0h1.2v1.2h-1.2zM235.5 90.4h1.2v1.2h-1.2zM228.1 81.3h1.2v1.2h-1.2zM243.6 89.6h1.2v1.2h-1.2zM225.8 87.2h1.2v1.2h-1.2zM231.4 84.7h1.2v1.2h-1.2zM231.8 84.9h1.2v1.2h-1.2zM233.0 88.6h1.2v1.2h-1.2zM229.1 86.3h1.2v1.2h-1.2zM237.2 90.5h1.2v1.2h-1.2zM219.1 98.1h1.2v1.2h-1.2zM229.4 98.6h1.2v1.2h-1.2zM225.9 102.8h1.2v1.2h-1.2zM218.0 96.6h1.2v1.2h-1.2zM232.0 94.5h1.2v1.2h-1.2zM233.6 92.6h1.2v1.2h-1.2zM229.2 94.3h1.2v1.2h-1.2zM242.1 99.5h1.2v1.2h-1.2zM225.8 96.3h1.2v1.2h-1.2zM229.7 92.9h1.2v1.2h-1.2zM218.6 97.8h1.2v1.2h-1.2zM212.2 98.0h1.2v1.2h-1.2zM222.4 94.8h1.2v1.2h-1.2zM221.4 92.5h1.2v1.2h-1.2zM215.0 96.4h1.2v1.2h-1.2zM211.8 99.7h1.2v1.2h-1.2zM240.9 99.2h1.2v1.2h-1.2zM220.6 94.8h1.2v1.2h-1.2zM230.6 92.4h1.2v1.2h-1.2zM225.0 99.6h1.2v1.2h-1.2zM222.3 99.5h1.2v1.2h-1.2zM232.1 91.5h1.2v1.2h-1.2zM218.6 99.3h1.2v1.2h-1.2zM223.2 101.6h1.2v1.2h-1.2zM223.0 99.8h1.2v1.2h-1.2zM231.3 101.6h1.2v1.2h-1.2zM226.4 100.4h1.2v1.2h-1.2zM214.2 96.4h1.2v1.2h-1.2zM222.1 100.3h1.2v1.2h-1.2zM235.3 99.9h1.2v1.2h-1.2zM240.0 96.4h1.2v1.2h-1.2zM228.3 95.8h1.2v1.2h-1.2zM217.7 100.0h1.2v1.2h-1.2zM214.4 96.6h1.2v1.2h-1.2zM219.4 96.8h1.2v1.2h-1.2zM231.9 101.5h1.2v1.2h-1.2zM209.0 95.4h1.2v1.2h-1.2zM231.3 95.8h1.2v1.2h-1.2zM219.8 97.5h1.2v1.2h-1.2zM237.8 96.0h1.2v1.2h-1.2zM202.3 93.4h1.2v1.2h-1.2zM200.9 108.7h1.2v1.2h-1.2zM202.1 98.8h1.2v1.2h-1.2zM213.1 87.5h1.2v1.2h-1.2zM210.3 87.7h1.2v1.2h-1.2zM214.7 104.7h1.2v1.2h-1.2zM212.3 85.7h1.2v1.2h-1.2zM214.6 111.6h1.2v1.2h-1.2zM212.8 85.9h1.2v1.2h-1.2zM200.7 98.5h1.2v1.2h-1.2zM210.2 100.3h1.2v1.2h-1.2zM211.7 107.8h1.2v1.2h-1.2zM209.2 94.3h1.2v1.2h-1.2zM202.5 91.1h1.2v1.2h-1.2zM204.6 91.4h1.2v1.2h-1.2zM201.1 108.5h1.2v1.2h-1.2zM203.5 83.7h1.2v1.2h-1.2zM201.1 96.3h1.2v1.2h-1.2zM207.1 105.7h1.2v1.2h-1.2zM200.9 98.7h1.2v1.2h-1.2zM203.4 85.7h1.2v1.2h-1.2zM210.8 104.1h1.2v1.2h-1.2zM205.0 90.2h1.2v1.2h-1.2zM210.9 111.4h1.2v1.2h-1.2zM208.4 87.2h1.2v1.2h-1.2zM206.8 109.3h1.2v1.2h-1.2zM214.1 111.1h1.2v1.2h-1.2zM209.3 86.8h1.2v1.2h-1.2zM200.9 88.5h1.2v1.2h-1.2zM208.3 91.5h1.2v1.2h-1.2zM210.6 105.4h1.2v1.2h-1.2zM206.8 89.9h1.2v1.2h-1.2zM209.1 88.2h1.2v1.2h-1.2zM215.0 85.0h1.2v1.2h-1.2zM208.0 103.0h1.2v1.2h-1.2zM210.8 100.0h1.2v1.2h-1.2zM223.6 108.2h1.2v1.2h-1.2zM228.5 104.9h1.2v1.2h-1.2zM230.3 107.8h1.2v1.2h-1.2zM230.2 106.3h1.2v1.2h-1.2zM264.6 66.0h1.2v1.2h-1.2zM255.0 84.4h1.2v1.2h-1.2zM255.5 104.3h1.2v1.2h-1.2zM269.9 106.0h1.2v1.2h-1.2zM258.4 100.4h1.2v1.2h-1.2zM255.1 101.0h1.2v1.2h-1.2zM248.1 69.0h1.2v1.2h-1.2zM265.3 99.8h1.2v1.2h-1.2zM265.0 97.8h1.2v1.2h-1.2zM256.5 87.5h1.2v1.2h-1.2zM245.4 104.8h1.2v1.2h-1.2zM240.8 100.1h1.2v1.2h-1.2zM256.2 118.4h1.2v1.2h-1.2zM254.7 118.2h1.2v1.2h-1.2zM250.4 110.6h1.2v1.2h-1.2zM249.6 110.7h1.2v1.2h-1.2zM257.6 120.0h1.2v1.2h-1.2zM246.4 106.3h1.2v1.2h-1.2zM248.5 110.4h1.2v1.2h-1.2zM246.1 106.9h1.2v1.2h-1.2zM253.1 113.8h1.2v1.2h-1.2zM242.9 102.1h1.2v1.2h-1.2zM247.9 108.8h1.2v1.2h-1.2zM249.0 110.8h1.2v1.2h-1.2zM262.3 125.6h1.2v1.2h-1.2zM259.2 121.3h1.2v1.2h-1.2zM244.2 104.5h1.2v1.2h-1.2zM259.2 123.0h1.2v1.2h-1.2zM249.7 111.7h1.2v1.2h-1.2zM261.1 123.3h1.2v1.2h-1.2zM250.3 111.6h1.2v1.2h-1.2zM252.2 113.0h1.2v1.2h-1.2zM253.9 116.6h1.2v1.2h-1.2zM248.9 108.9h1.2v1.2h-1.2zM246.0 105.0h1.2v1.2h-1.2zM243.9 103.1h1.2v1.2h-1.2zM242.5 101.7h1.2v1.2h-1.2zM251.4 113.7h1.2v1.2h-1.2zM243.0 103.7h1.2v1.2h-1.2zM247.0 109.1h1.2v1.2h-1.2zM254.8 116.3h1.2v1.2h-1.2zM254.9 116.2h1.2v1.2h-1.2zM253.0 114.2h1.2v1.2h-1.2zM258.3 123.0h1.2v1.2h-1.2zM261.0 125.3h1.2v1.2h-1.2zM260.9 125.1h1.2v1.2h-1.2zM256.7 118.1h1.2v1.2h-1.2zM242.8 103.2h1.2v1.2h-1.2zM254.9 117.9h1.2v1.2h-1.2zM255.1 117.9h1.2v1.2h-1.2zM258.0 121.5h1.2v1.2h-1.2zM242.5 102.6h1.2v1.2h-1.2zM244.0 103.9h1.2v1.2h-1.2zM244.7 104.5h1.2v1.2h-1.2zM259.9 122.1h1.2v1.2h-1.2zM252.0 112.7h1.2v1.2h-1.2zM256.2 118.0h1.2v1.2h-1.2zM247.9 108.9h1.2v1.2h-1.2zM254.2 115.9h1.2v1.2h-1.2zM254.1 116.0h1.2v1.2h-1.2zM234.2 121.6h1.2v1.2h-1.2zM247.5 121.5h1.2v1.2h-1.2zM211.2 117.4h1.2v1.2h-1.2zM219.9 114.1h1.2v1.2h-1.2zM243.6 118.4h1.2v1.2h-1.2zM247.8 118.8h1.2v1.2h-1.2zM218.2 120.8h1.2v1.2h-1.2zM250.1 122.0h1.2v1.2h-1.2zM261.5 79.2h1.2v1.2h-1.2zM245.0 72.7h1.2v1.2h-1.2zM257.8 95.3h1.2v1.2h-1.2zM265.5 70.4h1.2v1.2h-1.2zM263.7 66.5h1.2v1.2h-1.2zM263.2 65.3h1.2v1.2h-1.2zM271.1 77.3h1.2v1.2h-1.2zM245.1 66.1h1.2v1.2h-1.2zM245.3 70.8h1.2v1.2h-1.2zM269.5 61.1h1.2v1.2h-1.2zM257.8 66.7h1.2v1.2h-1.2zM249.6 67.8h1.2v1.2h-1.2zM257.7 81.5h1.2v1.2h-1.2zM265.4 100.5h1.2v1.2h-1.2zM249.3 63.4h1.2v1.2h-1.2zM242.9 64.4h1.2v1.2h-1.2zM249.2 59.1h1.2v1.2h-1.2zM254.9 86.1h1.2v1.2h-1.2zM269.7 96.4h1.2v1.2h-1.2zM247.1 74.1h1.2v1.2h-1.2zM260.5 54.8h1.2v1.2h-1.2zM250.3 96.9h1.2v1.2h-1.2zM251.9 79.5h1.2v1.2h-1.2zM252.6 98.7h1.2v1.2h-1.2zM241.6 66.2h1.2v1.2h-1.2zM271.2 81.6h1.2v1.2h-1.2zM246.1 61.9h1.2v1.2h-1.2zM260.8 72.2h1.2v1.2h-1.2zM254.0 72.6h1.2v1.2h-1.2zM264.4 72.4h1.2v1.2h-1.2zM257.8 95.8h1.2v1.2h-1.2zM266.1 87.6h1.2v1.2h-1.2zM270.4 101.6h1.2v1.2h-1.2zM276.9 100.2h1.2v1.2h-1.2zM255.2 57.9h1.2v1.2h-1.2zM279.5 127.4h1.2v1.2h-1.2zM281.3 134.3h1.2v1.2h-1.2zM267.4 132.6h1.2v1.2h-1.2zM266.3 136.4h1.2v1.2h-1.2zM269.7 114.9h1.2v1.2h-1.2zM252.4 102.4h1.2v1.2h-1.2zM251.4 109.9h1.2v1.2h-1.2zM258.9 117.4h1.2v1.2h-1.2zM275.0 136.2h1.2v1.2h-1.2zM258.7 118.2h1.2v1.2h-1.2zM251.0 125.5h1.2v1.2h-1.2zM265.0 122.1h1.2v1.2h-1.2zM274.2 129.9h1.2v1.2h-1.2zM267.3 110.7h1.2v1.2h-1.2zM265.6 103.1h1.2v1.2h-1.2zM275.5 108.1h1.2v1.2h-1.2zM273.9 100.2h1.2v1.2h-1.2zM278.2 116.5h1.2v1.2h-1.2zM254.1 116.8h1.2v1.2h-1.2zM261.8 115.4h1.2v1.2h-1.2zM265.9 112.7h1.2v1.2h-1.2zM273.3 123.7h1.2v1.2h-1.2zM278.4 119.9h1.2v1.2h-1.2zM273.9 127.3h1.2v1.2h-1.2zM277.1 109.2h1.2v1.2h-1.2zM257.4 102.6h1.2v1.2h-1.2zM258.3 145.3h1.2v1.2h-1.2zM250.2 150.4h1.2v1.2h-1.2zM254.7 148.6h1.2v1.2h-1.2zM252.5 147.5h1.2v1.2h-1.2zM246.4 151.3h1.2v1.2h-1.2zM246.3 152.6h1.2v1.2h-1.2zM254.0 147.3h1.2v1.2h-1.2zM249.9 149.6h1.2v1.2h-1.2zM251.7 150.2h1.2v1.2h-1.2zM246.9 152.6h1.2v1.2h-1.2zM255.5 148.6h1.2v1.2h-1.2zM257.1 146.4h1.2v1.2h-1.2zM246.3 153.8h1.2v1.2h-1.2zM250.6 150.2h1.2v1.2h-1.2zM248.7 151.7h1.2v1.2h-1.2zM258.6 145.9h1.2v1.2h-1.2zM259.8 143.3h1.2v1.2h-1.2zM259.9 144.8h1.2v1.2h-1.2zM258.8 145.8h1.2v1.2h-1.2zM268.6 141.5h1.2v1.2h-1.2zM268.5 139.0h1.2v1.2h-1.2zM267.1 139.9h1.2v1.2h-1.2zM258.1 144.1h1.2v1.2h-1.2zM266.8 141.6h1.2v1.2h-1.2zM258.5 144.3h1.2v1.2h-1.2zM264.3 143.7h1.2v1.2h-1.2zM261.1 144.0h1.2v1.2h-1.2zM265.6 143.6h1.2v1.2h-1.2zM264.6 144.0h1.2v1.2h-1.2zM264.3 141.9h1.2v1.2h-1.2zM267.9 141.3h1.2v1.2h-1.2zM265.6 142.0h1.2v1.2h-1.2zM288.3 131.6h1.2v1.2h-1.2zM281.9 133.3h1.2v1.2h-1.2zM279.4 135.2h1.2v1.2h-1.2zM287.1 132.0h1.2v1.2h-1.2zM281.6 134.6h1.2v1.2h-1.2zM272.2 138.5h1.2v1.2h-1.2zM283.6 132.5h1.2v1.2h-1.2zM277.8 135.2h1.2v1.2h-1.2zM279.5 134.8h1.2v1.2h-1.2zM282.9 132.5h1.2v1.2h-1.2zM284.0 133.6h1.2v1.2h-1.2zM275.4 138.8h1.2v1.2h-1.2zM279.6 134.7h1.2v1.2h-1.2zM280.4 133.9h1.2v1.2h-1.2zM288.6 130.4h1.2v1.2h-1.2zM286.5 131.7h1.2v1.2h-1.2zM232.7 142.8h1.2v1.2h-1.2zM235.5 138.1h1.2v1.2h-1.2zM240.0 141.1h1.2v1.2h-1.2zM242.8 154.9h1.2v1.2h-1.2zM233.8 149.6h1.2v1.2h-1.2zM231.5 156.9h1.2v1.2h-1.2zM234.4 151.3h1.2v1.2h-1.2zM235.1 156.7h1.2v1.2h-1.2zM245.7 154.1h1.2v1.2h-1.2zM234.2 152.9h1.2v1.2h-1.2zM236.0 150.3h1.2v1.2h-1.2zM240.7 156.4h1.2v1.2h-1.2zM247.4 148.1h1.2v1.2h-1.2zM237.7 157.9h1.2v1.2h-1.2zM230.2 140.7h1.2v1.2h-1.2zM229.8 143.2h1.2v1.2h-1.2zM228.5 145.6h1.2v1.2h-1.2zM236.3 157.7h1.2v1.2h-1.2zM243.8 153.4h1.2v1.2h-1.2zM248.7 147.1h1.2v1.2h-1.2zM251.7 134.1h1.2v1.2h-1.2zM235.3 139.3h1.2v1.2h-1.2zM244.4 143.6h1.2v1.2h-1.2zM243.7 138.6h1.2v1.2h-1.2zM230.3 159.5h1.2v1.2h-1.2zM251.9 134.6h1.2v1.2h-1.2zM232.1 148.4h1.2v1.2h-1.2zM240.0 148.3h1.2v1.2h-1.2zM252.4 140.7h1.2v1.2h-1.2zM249.9 136.2h1.2v1.2h-1.2zM229.1 148.8h1.2v1.2h-1.2zM241.3 141.5h1.2v1.2h-1.2zM242.0 141.5h1.2v1.2h-1.2zM233.4 142.2h1.2v1.2h-1.2zM250.4 139.8h1.2v1.2h-1.2zM243.2 153.1h1.2v1.2h-1.2zM247.3 137.0h1.2v1.2h-1.2zM235.6 141.1h1.2v1.2h-1.2zM230.3 152.7h1.2v1.2h-1.2zM242.2 145.1h1.2v1.2h-1.2zM185.4 117.9h1.2v1.2h-1.2zM181.5 108.4h1.2v1.2h-1.2zM190.5 88.7h1.2v1.2h-1.2zM202.8 108.7h1.2v1.2h-1.2zM191.4 105.2h1.2v1.2h-1.2zM191.9 107.2h1.2v1.2h-1.2zM197.4 90.6h1.2v1.2h-1.2zM128.6 135.2h1.2v1.2h-1.2zM125.1 127.1h1.2v1.2h-1.2zM136.6 135.8h1.2v1.2h-1.2zM125.8 124.6h1.2v1.2h-1.2zM124.5 127.2h1.2v1.2h-1.2zM134.1 125.9h1.2v1.2h-1.2zM130.6 120.2h1.2v1.2h-1.2zM135.2 129.9h1.2v1.2h-1.2zM133.3 124.1h1.2v1.2h-1.2zM135.1 116.8h1.2v1.2h-1.2zM126.6 136.4h1.2v1.2h-1.2zM133.4 137.2h1.2v1.2h-1.2zM128.1 137.4h1.2v1.2h-1.2zM123.1 122.5h1.2v1.2h-1.2zM132.2 132.5h1.2v1.2h-1.2zM124.2 125.9h1.2v1.2h-1.2zM124.2 127.4h1.2v1.2h-1.2zM131.3 139.5h1.2v1.2h-1.2zM144.1 119.1h1.2v1.2h-1.2zM133.5 118.3h1.2v1.2h-1.2zM128.8 120.8h1.2v1.2h-1.2zM118.1 140.5h1.2v1.2h-1.2zM116.0 151.7h1.2v1.2h-1.2zM136.7 158.1h1.2v1.2h-1.2zM117.6 127.6h1.2v1.2h-1.2zM135.2 139.5h1.2v1.2h-1.2zM142.2 115.7h1.2v1.2h-1.2zM144.9 114.8h1.2v1.2h-1.2zM137.4 141.7h1.2v1.2h-1.2zM122.9 140.4h1.2v1.2h-1.2zM149.6 135.5h1.2v1.2h-1.2zM141.6 155.8h1.2v1.2h-1.2zM128.9 158.3h1.2v1.2h-1.2zM119.5 106.9h1.2v1.2h-1.2zM153.8 139.5h1.2v1.2h-1.2zM141.8 149.5h1.2v1.2h-1.2zM123.0 142.4h1.2v1.2h-1.2zM126.4 112.2h1.2v1.2h-1.2zM146.4 143.4h1.2v1.2h-1.2zM138.7 153.7h1.2v1.2h-1.2zM149.2 154.0h1.2v1.2h-1.2zM128.7 139.3h1.2v1.2h-1.2zM141.8 105.6h1.2v1.2h-1.2zM207.2 138.6h1.2v1.2h-1.2zM221.0 130.2h1.2v1.2h-1.2zM189.0 152.7h1.2v1.2h-1.2zM192.9 163.3h1.2v1.2h-1.2zM165.6 156.5h1.2v1.2h-1.2zM207.9 160.9h1.2v1.2h-1.2zM199.3 157.3h1.2v1.2h-1.2zM188.6 161.9h1.2v1.2h-1.2zM204.5 157.3h1.2v1.2h-1.2zM212.7 159.8h1.2v1.2h-1.2zM212.1 173.5h1.2v1.2h-1.2zM193.0 163.3h1.2v1.2h-1.2zM209.9 157.5h1.2v1.2h-1.2zM212.7 158.9h1.2v1.2h-1.2zM193.6 165.8h1.2v1.2h-1.2zM191.0 169.2h1.2v1.2h-1.2zM206.6 175.7h1.2v1.2h-1.2zM203.2 174.4h1.2v1.2h-1.2zM202.8 177.1h1.2v1.2h-1.2zM198.0 174.7h1.2v1.2h-1.2zM200.4 167.4h1.2v1.2h-1.2zM199.9 172.0h1.2v1.2h-1.2zM196.5 176.7h1.2v1.2h-1.2zM195.5 177.9h1.2v1.2h-1.2zM198.2 186.9h1.2v1.2h-1.2zM195.0 182.7h1.2v1.2h-1.2zM196.5 182.4h1.2v1.2h-1.2zM200.1 179.4h1.2v1.2h-1.2zM203.3 183.3h1.2v1.2h-1.2zM203.5 180.6h1.2v1.2h-1.2zM200.5 182.3h1.2v1.2h-1.2zM191.0 181.6h1.2v1.2h-1.2zM202.3 183.8h1.2v1.2h-1.2zM195.2 184.2h1.2v1.2h-1.2zM206.8 181.9h1.2v1.2h-1.2zM199.9 187.4h1.2v1.2h-1.2zM202.3 185.0h1.2v1.2h-1.2zM198.4 180.8h1.2v1.2h-1.2zM196.9 181.2h1.2v1.2h-1.2zM199.7 184.6h1.2v1.2h-1.2zM198.5 182.4h1.2v1.2h-1.2zM195.1 179.2h1.2v1.2h-1.2zM204.2 180.5h1.2v1.2h-1.2zM200.6 184.0h1.2v1.2h-1.2zM193.0 186.6h1.2v1.2h-1.2zM189.7 185.0h1.2v1.2h-1.2zM207.0 173.1h1.2v1.2h-1.2zM209.2 170.5h1.2v1.2h-1.2zM119.2 227.2h1.2v1.2h-1.2zM103.8 165.4h1.2v1.2h-1.2zM104.0 215.7h1.2v1.2h-1.2zM92.1 175.6h1.2v1.2h-1.2zM124.2 211.6h1.2v1.2h-1.2zM123.3 166.9h1.2v1.2h-1.2zM77.7 166.6h1.2v1.2h-1.2zM107.8 200.5h1.2v1.2h-1.2zM98.2 211.4h1.2v1.2h-1.2zM104.9 173.7h1.2v1.2h-1.2zM113.9 161.0h1.2v1.2h-1.2zM96.3 207.6h1.2v1.2h-1.2zM120.2 172.7h1.2v1.2h-1.2zM103.1 174.2h1.2v1.2h-1.2zM75.9 165.2h1.2v1.2h-1.2zM117.2 165.5h1.2v1.2h-1.2zM110.8 182.3h1.2v1.2h-1.2zM114.8 225.7h1.2v1.2h-1.2zM73.8 165.3h1.2v1.2h-1.2zM123.7 187.6h1.2v1.2h-1.2zM122.5 180.8h1.2v1.2h-1.2zM123.5 160.8h1.2v1.2h-1.2zM100.6 227.7h1.2v1.2h-1.2zM117.2 173.7h1.2v1.2h-1.2zM102.4 166.3h1.2v1.2h-1.2zM119.3 203.5h1.2v1.2h-1.2zM103.9 182.7h1.2v1.2h-1.2zM60.4 170.6h1.2v1.2h-1.2zM72.1 218.1h1.2v1.2h-1.2zM65.5 211.8h1.2v1.2h-1.2zM60.4 204.0h1.2v1.2h-1.2zM70.1 217.3h1.2v1.2h-1.2zM58.7 193.6h1.2v1.2h-1.2zM69.6 171.2h1.2v1.2h-1.2zM64.5 195.6h1.2v1.2h-1.2zM61.3 160.3h1.2v1.2h-1.2zM60.0 187.6h1.2v1.2h-1.2zM67.6 222.2h1.2v1.2h-1.2zM135.6 214.5h1.2v1.2h-1.2zM135.2 218.5h1.2v1.2h-1.2zM135.7 230.0h1.2v1.2h-1.2zM135.3 213.0h1.2v1.2h-1.2zM135.8 209.2h1.2v1.2h-1.2zM135.1 230.6h1.2v1.2h-1.2zM140.4 212.4h1.2v1.2h-1.2zM141.2 211.4h1.2v1.2h-1.2zM139.8 294.4h1.2v1.2h-1.2zM107.7 296.1h1.2v1.2h-1.2zM114.7 308.2h1.2v1.2h-1.2zM115.7 274.6h1.2v1.2h-1.2zM129.6 274.2h1.2v1.2h-1.2zM132.3 301.9h1.2v1.2h-1.2zM142.8 291.0h1.2v1.2h-1.2zM88.8 285.5h1.2v1.2h-1.2zM96.1 275.4h1.2v1.2h-1.2zM95.0 296.4h1.2v1.2h-1.2zM102.5 283.8h1.2v1.2h-1.2zM90.7 291.8h1.2v1.2h-1.2zM91.5 276.9h1.2v1.2h-1.2zM120.0 281.8h1.2v1.2h-1.2zM124.9 279.2h1.2v1.2h-1.2zM106.9 274.3h1.2v1.2h-1.2zM127.0 275.7h1.2v1.2h-1.2zM102.3 282.2h1.2v1.2h-1.2zM109.1 275.7h1.2v1.2h-1.2zM127.1 292.4h1.2v1.2h-1.2zM121.4 292.3h1.2v1.2h-1.2zM119.2 290.9h1.2v1.2h-1.2zM122.0 290.5h1.2v1.2h-1.2zM114.9 285.2h1.2v1.2h-1.2zM116.9 286.6h1.2v1.2h-1.2zM145.9 311.2h1.2v1.2h-1.2zM127.2 325.2h1.2v1.2h-1.2zM144.9 329.8h1.2v1.2h-1.2zM132.1 314.1h1.2v1.2h-1.2zM143.9 331.3h1.2v1.2h-1.2zM125.0 312.3h1.2v1.2h-1.2zM128.5 311.8h1.2v1.2h-1.2zM133.9 328.4h1.2v1.2h-1.2zM135.6 327.6h1.2v1.2h-1.2zM140.3 316.1h1.2v1.2h-1.2zM139.8 338.3h1.2v1.2h-1.2zM144.6 329.9h1.2v1.2h-1.2zM135.5 319.0h1.2v1.2h-1.2zM147.6 327.0h1.2v1.2h-1.2zM135.5 329.5h1.2v1.2h-1.2zM129.9 328.7h1.2v1.2h-1.2zM133.1 313.2h1.2v1.2h-1.2zM146.4 338.5h1.2v1.2h-1.2zM144.9 339.8h1.2v1.2h-1.2zM129.5 312.6h1.2v1.2h-1.2zM139.8 338.5h1.2v1.2h-1.2zM131.0 327.6h1.2v1.2h-1.2zM150.2 332.3h1.2v1.2h-1.2zM147.1 338.2h1.2v1.2h-1.2zM147.9 329.9h1.2v1.2h-1.2zM146.2 326.5h1.2v1.2h-1.2zM142.0 317.3h1.2v1.2h-1.2zM141.1 334.2h1.2v1.2h-1.2zM131.6 314.9h1.2v1.2h-1.2zM123.2 315.7h1.2v1.2h-1.2zM150.5 323.3h1.2v1.2h-1.2zM133.6 321.8h1.2v1.2h-1.2zM131.0 314.7h1.2v1.2h-1.2zM143.5 308.0h1.2v1.2h-1.2zM129.5 323.5h1.2v1.2h-1.2zM142.2 321.0h1.2v1.2h-1.2zM143.4 331.7h1.2v1.2h-1.2zM149.9 314.5h1.2v1.2h-1.2zM132.9 319.2h1.2v1.2h-1.2zM142.1 327.0h1.2v1.2h-1.2zM129.0 325.3h1.2v1.2h-1.2zM142.4 322.9h1.2v1.2h-1.2zM140.3 325.0h1.2v1.2h-1.2zM137.2 322.0h1.2v1.2h-1.2zM127.6 326.1h1.2v1.2h-1.2zM138.0 315.4h1.2v1.2h-1.2zM134.2 326.9h1.2v1.2h-1.2zM145.1 318.8h1.2v1.2h-1.2zM142.1 318.0h1.2v1.2h-1.2zM126.0 316.7h1.2v1.2h-1.2zM131.9 316.5h1.2v1.2h-1.2zM133.4 318.4h1.2v1.2h-1.2zM125.0 323.3h1.2v1.2h-1.2zM129.8 314.3h1.2v1.2h-1.2zM134.7 319.2h1.2v1.2h-1.2zM129.8 315.3h1.2v1.2h-1.2zM135.8 322.9h1.2v1.2h-1.2zM135.2 315.2h1.2v1.2h-1.2zM128.3 314.9h1.2v1.2h-1.2zM144.1 314.6h1.2v1.2h-1.2zM131.4 313.8h1.2v1.2h-1.2zM139.7 317.6h1.2v1.2h-1.2zM139.2 321.4h1.2v1.2h-1.2zM133.1 318.6h1.2v1.2h-1.2zM123.1 316.7h1.2v1.2h-1.2zM136.9 323.7h1.2v1.2h-1.2zM125.9 346.3h1.2v1.2h-1.2zM103.8 335.3h1.2v1.2h-1.2zM105.3 349.0h1.2v1.2h-1.2zM100.8 337.4h1.2v1.2h-1.2zM98.1 334.1h1.2v1.2h-1.2zM125.0 342.7h1.2v1.2h-1.2zM107.8 341.0h1.2v1.2h-1.2zM102.4 350.7h1.2v1.2h-1.2zM107.9 336.4h1.2v1.2h-1.2zM111.1 351.4h1.2v1.2h-1.2zM115.4 348.1h1.2v1.2h-1.2zM104.8 339.6h1.2v1.2h-1.2zM97.8 334.7h1.2v1.2h-1.2zM117.8 342.1h1.2v1.2h-1.2zM112.3 351.1h1.2v1.2h-1.2zM123.4 345.9h1.2v1.2h-1.2zM112.5 340.2h1.2v1.2h-1.2zM114.1 350.8h1.2v1.2h-1.2zM116.2 349.0h1.2v1.2h-1.2zM119.1 342.9h1.2v1.2h-1.2zM111.5 344.5h1.2v1.2h-1.2zM98.1 336.5h1.2v1.2h-1.2zM100.5 346.2h1.2v1.2h-1.2zM127.5 348.7h1.2v1.2h-1.2zM117.2 349.7h1.2v1.2h-1.2zM123.7 345.5h1.2v1.2h-1.2zM113.0 351.8h1.2v1.2h-1.2zM140.2 343.5h1.2v1.2h-1.2zM105.5 347.9h1.2v1.2h-1.2zM108.2 337.4h1.2v1.2h-1.2zM141.7 340.9h1.2v1.2h-1.2zM102.2 340.8h1.2v1.2h-1.2zM120.8 346.9h1.2v1.2h-1.2zM100.3 339.8h1.2v1.2h-1.2zM118.3 336.4h1.2v1.2h-1.2zM98.4 331.8h1.2v1.2h-1.2zM128.4 345.3h1.2v1.2h-1.2zM137.7 340.7h1.2v1.2h-1.2zM128.1 343.6h1.2v1.2h-1.2zM98.4 339.2h1.2v1.2h-1.2zM114.2 350.8h1.2v1.2h-1.2zM110.9 350.7h1.2v1.2h-1.2zM101.8 348.3h1.2v1.2h-1.2zM101.0 338.4h1.2v1.2h-1.2zM122.7 335.1h1.2v1.2h-1.2zM106.4 339.1h1.2v1.2h-1.2zM116.5 333.8h1.2v1.2h-1.2zM132.5 347.0h1.2v1.2h-1.2zM129.3 348.1h1.2v1.2h-1.2zM112.4 336.1h1.2v1.2h-1.2zM100.4 347.3h1.2v1.2h-1.2zM115.6 343.8h1.2v1.2h-1.2zM110.5 343.5h1.2v1.2h-1.2zM120.6 344.0h1.2v1.2h-1.2zM109.5 346.5h1.2v1.2h-1.2zM125.0 340.4h1.2v1.2h-1.2zM118.0 342.2h1.2v1.2h-1.2zM97.1 339.0h1.2v1.2h-1.2zM129.5 348.1h1.2v1.2h-1.2zM140.1 340.1h1.2v1.2h-1.2zM109.8 346.6h1.2v1.2h-1.2zM138.4 345.0h1.2v1.2h-1.2zM100.7 343.9h1.2v1.2h-1.2zM105.2 336.2h1.2v1.2h-1.2zM127.1 345.0h1.2v1.2h-1.2zM122.7 339.7h1.2v1.2h-1.2zM102.8 350.7h1.2v1.2h-1.2zM98.2 340.5h1.2v1.2h-1.2zM126.5 342.3h1.2v1.2h-1.2zM108.6 334.3h1.2v1.2h-1.2zM125.6 348.0h1.2v1.2h-1.2zM120.0 345.1h1.2v1.2h-1.2zM107.3 340.6h1.2v1.2h-1.2zM103.3 349.3h1.2v1.2h-1.2zM131.9 341.5h1.2v1.2h-1.2zM114.9 345.5h1.2v1.2h-1.2zM129.9 346.9h1.2v1.2h-1.2zM107.1 348.3h1.2v1.2h-1.2zM117.5 336.1h1.2v1.2h-1.2zM120.7 337.9h1.2v1.2h-1.2zM125.6 340.3h1.2v1.2h-1.2zM104.8 351.5h1.2v1.2h-1.2zM104.4 344.6h1.2v1.2h-1.2zM138.3 344.2h1.2v1.2h-1.2zM122.4 336.5h1.2v1.2h-1.2zM115.4 339.5h1.2v1.2h-1.2zM97.4 339.9h1.2v1.2h-1.2zM96.9 334.4h1.2v1.2h-1.2zM120.3 340.9h1.2v1.2h-1.2zM104.4 338.9h1.2v1.2h-1.2zM118.8 333.1h1.2v1.2h-1.2zM134.4 340.7h1.2v1.2h-1.2zM108.4 339.0h1.2v1.2h-1.2zM100.0 340.7h1.2v1.2h-1.2zM126.9 341.3h1.2v1.2h-1.2zM98.5 338.0h1.2v1.2h-1.2zM108.3 341.9h1.2v1.2h-1.2zM119.5 348.9h1.2v1.2h-1.2zM102.5 334.7h1.2v1.2h-1.2zM138.8 339.1h1.2v1.2h-1.2zM104.2 342.7h1.2v1.2h-1.2zM116.0 346.1h1.2v1.2h-1.2zM136.4 340.3h1.2v1.2h-1.2zM105.8 341.8h1.2v1.2h-1.2zM119.2 349.9h1.2v1.2h-1.2zM102.6 350.8h1.2v1.2h-1.2zM121.1 347.6h1.2v1.2h-1.2zM97.6 340.5h1.2v1.2h-1.2zM123.5 343.8h1.2v1.2h-1.2zM116.3 341.1h1.2v1.2h-1.2zM126.9 348.3h1.2v1.2h-1.2zM111.2 342.9h1.2v1.2h-1.2zM103.7 336.0h1.2v1.2h-1.2zM101.9 344.6h1.2v1.2h-1.2zM113.7 339.3h1.2v1.2h-1.2zM106.7 341.1h1.2v1.2h-1.2zM103.1 344.7h1.2v1.2h-1.2zM121.3 339.2h1.2v1.2h-1.2zM104.1 338.9h1.2v1.2h-1.2zM116.1 339.4h1.2v1.2h-1.2zM118.4 343.5h1.2v1.2h-1.2zM104.8 345.9h1.2v1.2h-1.2zM120.2 342.8h1.2v1.2h-1.2zM118.4 348.5h1.2v1.2h-1.2zM109.6 344.4h1.2v1.2h-1.2zM124.7 342.1h1.2v1.2h-1.2zM112.8 348.5h1.2v1.2h-1.2zM107.6 339.1h1.2v1.2h-1.2zM117.0 346.9h1.2v1.2h-1.2zM119.3 347.3h1.2v1.2h-1.2zM117.8 346.2h1.2v1.2h-1.2zM112.6 338.9h1.2v1.2h-1.2zM112.5 347.6h1.2v1.2h-1.2zM100.6 345.6h1.2v1.2h-1.2zM109.8 343.9h1.2v1.2h-1.2zM105.6 345.1h1.2v1.2h-1.2zM109.7 308.4h1.2v1.2h-1.2zM99.3 303.1h1.2v1.2h-1.2zM106.4 307.9h1.2v1.2h-1.2zM162.4 305.0h1.2v1.2h-1.2zM163.8 294.2h1.2v1.2h-1.2zM164.5 291.7h1.2v1.2h-1.2zM163.3 306.5h1.2v1.2h-1.2zM161.8 312.7h1.2v1.2h-1.2zM161.0 291.3h1.2v1.2h-1.2zM163.7 311.9h1.2v1.2h-1.2zM161.0 311.1h1.2v1.2h-1.2zM161.8 304.4h1.2v1.2h-1.2zM164.6 307.0h1.2v1.2h-1.2zM161.1 308.7h1.2v1.2h-1.2zM165.2 292.7h1.2v1.2h-1.2zM163.0 304.6h1.2v1.2h-1.2zM164.1 316.4h1.2v1.2h-1.2zM162.4 303.0h1.2v1.2h-1.2zM160.8 309.2h1.2v1.2h-1.2zM164.1 299.3h1.2v1.2h-1.2zM164.9 294.0h1.2v1.2h-1.2zM163.3 311.7h1.2v1.2h-1.2z"/>
<path fill="#3a8ef0" d="M122.2 84.2h1.2v1.2h-1.2zM219.2 93.9h1.2v1.2h-1.2zM128.2 230.9h1.2v1.2h-1.2zM139.2 183.0h1.2v1.2h-1.2zM191.9 160.0h1.2v1.2h-1.2zM193.9 270.4h1.2v1.2h-1.2zM82.2 179.7h1.2v1.2h-1.2zM104.2 79.3h1.2v1.2h-1.2zM191.8 184.4h1.2v1.2h-1.2zM191.2 194.9h1.2v1.2h-1.2zM70.2 102.4h1.2v1.2h-1.2zM77.7 94.7h1.2v1.2h-1.2zM104.9 191.2h1.2v1.2h-1.2zM202.1 308.6h1.2v1.2h-1.2zM164.8 88.8h1.2v1.2h-1.2zM181.3 87.2h1.2v1.2h-1.2zM182.4 84.5h1.2v1.2h-1.2zM158.0 97.2h1.2v1.2h-1.2zM162.1 101.7h1.2v1.2h-1.2zM175.1 91.9h1.2v1.2h-1.2zM169.1 90.2h1.2v1.2h-1.2zM182.1 72.5h1.2v1.2h-1.2zM182.6 81.8h1.2v1.2h-1.2zM185.9 82.8h1.2v1.2h-1.2zM171.3 82.7h1.2v1.2h-1.2zM183.3 78.1h1.2v1.2h-1.2zM169.3 91.4h1.2v1.2h-1.2zM178.1 85.3h1.2v1.2h-1.2zM181.8 80.2h1.2v1.2h-1.2zM169.3 96.2h1.2v1.2h-1.2zM195.2 70.9h1.2v1.2h-1.2zM187.0 72.3h1.2v1.2h-1.2zM186.0 74.5h1.2v1.2h-1.2zM188.2 78.1h1.2v1.2h-1.2zM192.1 76.8h1.2v1.2h-1.2zM194.0 80.3h1.2v1.2h-1.2zM193.5 77.8h1.2v1.2h-1.2zM184.1 73.6h1.2v1.2h-1.2zM197.3 76.6h1.2v1.2h-1.2zM190.1 70.3h1.2v1.2h-1.2zM190.1 75.8h1.2v1.2h-1.2zM186.2 74.3h1.2v1.2h-1.2zM191.0 200.7h1.2v1.2h-1.2zM177.7 182.0h1.2v1.2h-1.2zM208.8 193.3h1.2v1.2h-1.2zM205.3 186.7h1.2v1.2h-1.2zM174.2 192.2h1.2v1.2h-1.2zM205.3 192.0h1.2v1.2h-1.2zM164.1 168.3h1.2v1.2h-1.2zM192.5 187.4h1.2v1.2h-1.2zM164.5 172.2h1.2v1.2h-1.2zM171.0 197.0h1.2v1.2h-1.2zM171.4 190.6h1.2v1.2h-1.2zM184.4 199.0h1.2v1.2h-1.2zM193.0 188.3h1.2v1.2h-1.2zM199.7 188.5h1.2v1.2h-1.2zM165.1 171.8h1.2v1.2h-1.2zM157.7 173.8h1.2v1.2h-1.2zM157.5 173.9h1.2v1.2h-1.2zM162.6 176.4h1.2v1.2h-1.2zM161.0 172.1h1.2v1.2h-1.2zM156.7 175.4h1.2v1.2h-1.2zM158.0 173.4h1.2v1.2h-1.2zM130.0 176.2h1.2v1.2h-1.2zM138.9 180.9h1.2v1.2h-1.2zM136.6 161.2h1.2v1.2h-1.2zM125.8 221.4h1.2v1.2h-1.2zM143.4 159.4h1.2v1.2h-1.2zM130.7 226.2h1.2v1.2h-1.2zM194.3 245.0h1.2v1.2h-1.2zM192.3 247.3h1.2v1.2h-1.2zM195.6 246.3h1.2v1.2h-1.2zM200.0 238.1h1.2v1.2h-1.2zM200.5 238.1h1.2v1.2h-1.2zM199.2 251.1h1.2v1.2h-1.2zM200.8 240.1h1.2v1.2h-1.2zM200.3 247.0h1.2v1.2h-1.2zM200.1 255.1h1.2v1.2h-1.2zM200.5 236.1h1.2v1.2h-1.2zM199.1 251.7h1.2v1.2h-1.2z"/>
<path fill="#ec1c1c" d="M94.0 144.6h1.2v1.2h-1.2zM103.4 137.7h1.2v1.2h-1.2zM59.8 102.9h1.2v1.2h-1.2zM126.2 166.6h1.2v1.2h-1.2zM60.2 169.3h1.2v1.2h-1.2zM159.3 188.7h1.2v1.2h-1.2zM132.3 340.5h1.2v1.2h-1.2zM68.6 140.0h1.2v1.2h-1.2zM148.7 116.1h1.2v1.2h-1.2zM153.9 148.9h1.2v1.2h-1.2zM135.0 201.7h1.2v1.2h-1.2zM131.4 325.5h1.2v1.2h-1.2zM115.7 212.6h1.2v1.2h-1.2zM174.4 158.4h1.2v1.2h-1.2zM81.0 179.6h1.2v1.2h-1.2zM112.9 326.5h1.2v1.2h-1.2zM276.0 114.7h1.2v1.2h-1.2zM254.5 75.2h1.2v1.2h-1.2zM102.3 310.1h1.2v1.2h-1.2zM224.0 174.3h1.2v1.2h-1.2zM114.3 143.6h1.2v1.2h-1.2zM108.6 123.3h1.2v1.2h-1.2zM180.6 119.1h1.2v1.2h-1.2zM68.3 170.7h1.2v1.2h-1.2zM110.3 180.8h1.2v1.2h-1.2zM96.4 85.5h1.2v1.2h-1.2zM224.3 94.0h1.2v1.2h-1.2zM88.2 99.2h1.2v1.2h-1.2zM126.9 111.2h1.2v1.2h-1.2zM201.9 289.2h1.2v1.2h-1.2zM73.7 120.3h1.2v1.2h-1.2zM156.3 182.8h1.2v1.2h-1.2zM147.9 113.9h1.2v1.2h-1.2zM161.7 170.6h1.2v1.2h-1.2zM89.5 289.1h1.2v1.2h-1.2zM114.6 91.3h1.2v1.2h-1.2zM125.6 291.5h1.2v1.2h-1.2zM77.9 174.3h1.2v1.2h-1.2zM189.7 215.5h1.2v1.2h-1.2zM175.4 96.4h1.2v1.2h-1.2zM220.6 91.5h1.2v1.2h-1.2zM237.5 55.9h1.2v1.2h-1.2zM105.9 209.2h1.2v1.2h-1.2zM207.9 169.8h1.2v1.2h-1.2zM189.4 320.4h1.2v1.2h-1.2zM234.8 154.6h1.2v1.2h-1.2zM166.4 316.1h1.2v1.2h-1.2zM251.9 62.4h1.2v1.2h-1.2zM257.2 99.5h1.2v1.2h-1.2zM60.4 144.9h1.2v1.2h-1.2zM153.9 192.5h1.2v1.2h-1.2zM95.7 248.6h1.2v1.2h-1.2zM169.4 327.8h1.2v1.2h-1.2zM264.3 93.3h1.2v1.2h-1.2zM196.5 265.2h1.2v1.2h-1.2zM258.5 131.0h1.2v1.2h-1.2zM203.5 159.0h1.2v1.2h-1.2zM83.2 85.0h1.2v1.2h-1.2zM231.0 96.2h1.2v1.2h-1.2zM65.7 134.2h1.2v1.2h-1.2zM179.0 178.1h1.2v1.2h-1.2zM60.1 127.7h1.2v1.2h-1.2zM242.9 73.7h1.2v1.2h-1.2zM93.5 216.2h1.2v1.2h-1.2zM95.7 117.7h1.2v1.2h-1.2zM54.8 145.3h1.2v1.2h-1.2zM99.6 143.0h1.2v1.2h-1.2zM126.8 132.5h1.2v1.2h-1.2zM76.0 130.4h1.2v1.2h-1.2zM110.0 150.4h1.2v1.2h-1.2zM143.3 152.8h1.2v1.2h-1.2zM136.2 113.2h1.2v1.2h-1.2zM52.2 122.6h1.2v1.2h-1.2zM90.3 154.3h1.2v1.2h-1.2zM72.0 123.5h1.2v1.2h-1.2zM141.1 131.0h1.2v1.2h-1.2zM82.6 103.1h1.2v1.2h-1.2zM51.9 90.0h1.2v1.2h-1.2zM121.1 155.4h1.2v1.2h-1.2zM57.4 140.8h1.2v1.2h-1.2zM133.8 110.6h1.2v1.2h-1.2zM101.0 148.9h1.2v1.2h-1.2zM57.4 145.0h1.2v1.2h-1.2zM125.5 114.1h1.2v1.2h-1.2zM121.8 81.8h1.2v1.2h-1.2zM89.9 150.1h1.2v1.2h-1.2zM125.9 143.7h1.2v1.2h-1.2zM93.6 101.4h1.2v1.2h-1.2zM83.0 154.7h1.2v1.2h-1.2zM63.6 153.4h1.2v1.2h-1.2zM97.4 123.7h1.2v1.2h-1.2zM121.7 141.6h1.2v1.2h-1.2zM113.7 90.9h1.2v1.2h-1.2zM65.4 113.2h1.2v1.2h-1.2zM65.3 98.9h1.2v1.2h-1.2zM120.7 94.4h1.2v1.2h-1.2zM71.6 91.2h1.2v1.2h-1.2zM122.7 79.2h1.2v1.2h-1.2zM83.8 136.4h1.2v1.2h-1.2zM78.7 96.0h1.2v1.2h-1.2zM77.6 84.2h1.2v1.2h-1.2zM125.0 96.3h1.2v1.2h-1.2zM106.7 83.7h1.2v1.2h-1.2zM159.5 87.4h1.2v1.2h-1.2zM164.8 76.9h1.2v1.2h-1.2zM149.2 75.1h1.2v1.2h-1.2zM131.3 82.6h1.2v1.2h-1.2zM158.7 89.8h1.2v1.2h-1.2zM162.2 70.5h1.2v1.2h-1.2zM165.5 79.2h1.2v1.2h-1.2zM140.4 90.1h1.2v1.2h-1.2zM141.8 77.9h1.2v1.2h-1.2zM143.5 76.0h1.2v1.2h-1.2zM156.3 72.3h1.2v1.2h-1.2zM139.7 80.8h1.2v1.2h-1.2zM140.7 92.7h1.2v1.2h-1.2zM138.3 84.9h1.2v1.2h-1.2zM132.9 81.1h1.2v1.2h-1.2zM135.4 102.5h1.2v1.2h-1.2zM124.0 107.5h1.2v1.2h-1.2zM127.3 107.2h1.2v1.2h-1.2zM124.4 111.5h1.2v1.2h-1.2zM135.7 106.5h1.2v1.2h-1.2zM128.3 98.0h1.2v1.2h-1.2zM133.6 105.2h1.2v1.2h-1.2zM138.0 97.1h1.2v1.2h-1.2zM134.0 107.3h1.2v1.2h-1.2zM133.4 100.5h1.2v1.2h-1.2zM135.3 109.6h1.2v1.2h-1.2zM137.0 106.3h1.2v1.2h-1.2zM135.9 96.0h1.2v1.2h-1.2zM122.9 110.7h1.2v1.2h-1.2zM135.0 102.3h1.2v1.2h-1.2zM141.1 103.7h1.2v1.2h-1.2zM139.4 100.1h1.2v1.2h-1.2zM134.6 108.5h1.2v1.2h-1.2zM132.0 102.3h1.2v1.2h-1.2zM132.1 105.4h1.2v1.2h-1.2zM122.8 101.9h1.2v1.2h-1.2zM138.5 103.2h1.2v1.2h-1.2zM136.5 103.2h1.2v1.2h-1.2zM139.1 93.4h1.2v1.2h-1.2zM144.0 96.4h1.2v1.2h-1.2zM143.8 95.9h1.2v1.2h-1.2zM142.8 95.2h1.2v1.2h-1.2zM142.7 94.1h1.2v1.2h-1.2zM143.5 94.4h1.2v1.2h-1.2zM142.2 95.7h1.2v1.2h-1.2zM239.3 99.0h1.2v1.2h-1.2zM233.9 97.6h1.2v1.2h-1.2zM213.0 97.3h1.2v1.2h-1.2zM223.4 99.0h1.2v1.2h-1.2zM219.4 92.0h1.2v1.2h-1.2zM215.5 93.2h1.2v1.2h-1.2zM211.6 96.7h1.2v1.2h-1.2zM226.0 103.6h1.2v1.2h-1.2zM243.4 97.8h1.2v1.2h-1.2zM225.0 94.5h1.2v1.2h-1.2zM216.1 101.4h1.2v1.2h-1.2zM219.7 92.5h1.2v1.2h-1.2zM226.2 102.0h1.2v1.2h-1.2zM237.7 100.9h1.2v1.2h-1.2zM238.3 96.5h1.2v1.2h-1.2zM223.1 92.0h1.2v1.2h-1.2zM219.6 92.2h1.2v1.2h-1.2zM215.9 96.7h1.2v1.2h-1.2zM210.3 96.2h1.2v1.2h-1.2zM240.5 96.3h1.2v1.2h-1.2zM226.0 90.3h1.2v1.2h-1.2zM213.7 97.9h1.2v1.2h-1.2zM226.1 93.3h1.2v1.2h-1.2zM229.9 96.2h1.2v1.2h-1.2zM220.5 97.0h1.2v1.2h-1.2zM232.4 100.4h1.2v1.2h-1.2zM212.9 98.3h1.2v1.2h-1.2zM215.7 98.9h1.2v1.2h-1.2zM234.2 93.1h1.2v1.2h-1.2zM216.3 102.4h1.2v1.2h-1.2zM220.5 96.5h1.2v1.2h-1.2zM219.8 94.7h1.2v1.2h-1.2zM231.1 98.0h1.2v1.2h-1.2zM229.3 102.7h1.2v1.2h-1.2zM213.7 93.4h1.2v1.2h-1.2zM223.9 95.1h1.2v1.2h-1.2zM225.1 90.9h1.2v1.2h-1.2zM236.9 95.9h1.2v1.2h-1.2zM230.7 92.2h1.2v1.2h-1.2zM224.9 92.9h1.2v1.2h-1.2zM227.8 96.6h1.2v1.2h-1.2zM230.3 99.8h1.2v1.2h-1.2zM233.7 100.2h1.2v1.2h-1.2zM235.6 95.2h1.2v1.2h-1.2zM237.4 100.0h1.2v1.2h-1.2zM234.8 100.1h1.2v1.2h-1.2zM217.2 93.2h1.2v1.2h-1.2zM235.4 95.1h1.2v1.2h-1.2zM230.3 97.1h1.2v1.2h-1.2zM232.8 92.0h1.2v1.2h-1.2zM212.8 96.8h1.2v1.2h-1.2zM217.6 100.6h1.2v1.2h-1.2zM212.3 95.7h1.2v1.2h-1.2zM236.0 97.9h1.2v1.2h-1.2zM237.5 98.8h1.2v1.2h-1.2zM211.3 100.9h1.2v1.2h-1.2zM219.4 94.2h1.2v1.2h-1.2zM237.5 93.7h1.2v1.2h-1.2zM222.1 100.7h1.2v1.2h-1.2zM226.1 95.9h1.2v1.2h-1.2zM237.5 92.1h1.2v1.2h-1.2zM238.5 98.5h1.2v1.2h-1.2zM230.9 102.0h1.2v1.2h-1.2zM221.2 93.3h1.2v1.2h-1.2zM233.5 98.4h1.2v1.2h-1.2zM233.0 98.5h1.2v1.2h-1.2zM218.3 97.4h1.2v1.2h-1.2zM232.2 96.3h1.2v1.2h-1.2zM224.5 98.2h1.2v1.2h-1.2zM226.9 99.3h1.2v1.2h-1.2zM228.3 92.7h1.2v1.2h-1.2zM216.6 92.4h1.2v1.2h-1.2zM222.9 99.3h1.2v1.2h-1.2zM222.8 100.4h1.2v1.2h-1.2zM220.7 96.5h1.2v1.2h-1.2zM223.3 94.4h1.2v1.2h-1.2zM216.4 96.1h1.2v1.2h-1.2zM237.2 97.8h1.2v1.2h-1.2zM224.4 100.0h1.2v1.2h-1.2zM229.1 97.5h1.2v1.2h-1.2zM221.4 93.0h1.2v1.2h-1.2zM224.1 100.1h1.2v1.2h-1.2zM216.4 100.6h1.2v1.2h-1.2zM227.1 93.0h1.2v1.2h-1.2zM228.4 96.2h1.2v1.2h-1.2zM233.5 95.3h1.2v1.2h-1.2zM211.8 96.3h1.2v1.2h-1.2zM234.5 98.4h1.2v1.2h-1.2zM225.2 92.2h1.2v1.2h-1.2zM238.2 99.7h1.2v1.2h-1.2zM218.6 94.4h1.2v1.2h-1.2zM227.2 92.9h1.2v1.2h-1.2zM233.0 96.7h1.2v1.2h-1.2zM215.6 96.0h1.2v1.2h-1.2zM236.1 95.8h1.2v1.2h-1.2zM221.6 95.1h1.2v1.2h-1.2zM224.1 102.8h1.2v1.2h-1.2zM220.8 100.2h1.2v1.2h-1.2zM221.8 97.4h1.2v1.2h-1.2zM216.1 101.5h1.2v1.2h-1.2zM219.0 96.5h1.2v1.2h-1.2zM234.1 102.5h1.2v1.2h-1.2zM220.0 95.4h1.2v1.2h-1.2zM212.7 88.5h1.2v1.2h-1.2zM201.0 92.2h1.2v1.2h-1.2zM208.9 99.1h1.2v1.2h-1.2zM206.6 89.4h1.2v1.2h-1.2zM212.6 112.3h1.2v1.2h-1.2zM214.9 98.6h1.2v1.2h-1.2zM210.3 98.3h1.2v1.2h-1.2zM204.8 100.9h1.2v1.2h-1.2zM210.3 90.7h1.2v1.2h-1.2zM206.5 111.3h1.2v1.2h-1.2zM203.3 104.8h1.2v1.2h-1.2zM207.5 93.1h1.2v1.2h-1.2zM208.3 104.0h1.2v1.2h-1.2zM207.5 94.6h1.2v1.2h-1.2zM213.0 97.8h1.2v1.2h-1.2zM215.3 92.1h1.2v1.2h-1.2zM214.4 98.3h1.2v1.2h-1.2zM214.6 97.8h1.2v1.2h-1.2zM205.9 108.7h1.2v1.2h-1.2zM206.5 96.4h1.2v1.2h-1.2zM213.0 113.2h1.2v1.2h-1.2zM211.5 89.7h1.2v1.2h-1.2zM201.3 106.6h1.2v1.2h-1.2zM207.9 94.6h1.2v1.2h-1.2zM205.3 108.4h1.2v1.2h-1.2zM201.3 87.2h1.2v1.2h-1.2zM209.9 109.9h1.2v1.2h-1.2zM203.7 108.2h1.2v1.2h-1.2zM209.4 92.6h1.2v1.2h-1.2zM210.7 83.8h1.2v1.2h-1.2zM201.9 95.6h1.2v1.2h-1.2zM204.9 101.6h1.2v1.2h-1.2zM205.5 84.7h1.2v1.2h-1.2zM209.2 112.7h1.2v1.2h-1.2zM213.7 95.5h1.2v1.2h-1.2zM211.8 83.3h1.2v1.2h-1.2zM207.6 105.7h1.2v1.2h-1.2zM214.3 107.2h1.2v1.2h-1.2zM205.0 96.3h1.2v1.2h-1.2zM214.1 94.7h1.2v1.2h-1.2zM205.2 107.0h1.2v1.2h-1.2zM200.9 105.5h1.2v1.2h-1.2zM212.8 86.6h1.2v1.2h-1.2zM208.8 101.8h1.2v1.2h-1.2zM201.8 105.9h1.2v1.2h-1.2zM201.8 96.3h1.2v1.2h-1.2zM204.0 109.2h1.2v1.2h-1.2zM207.2 98.5h1.2v1.2h-1.2zM200.6 91.2h1.2v1.2h-1.2zM207.3 83.5h1.2v1.2h-1.2zM206.5 98.1h1.2v1.2h-1.2zM202.7 111.5h1.2v1.2h-1.2zM214.1 84.4h1.2v1.2h-1.2zM211.4 111.9h1.2v1.2h-1.2zM204.0 94.0h1.2v1.2h-1.2zM203.9 106.6h1.2v1.2h-1.2zM214.3 89.1h1.2v1.2h-1.2zM212.1 86.7h1.2v1.2h-1.2zM208.6 108.5h1.2v1.2h-1.2zM202.4 101.5h1.2v1.2h-1.2zM218.4 108.0h1.2v1.2h-1.2zM230.1 108.4h1.2v1.2h-1.2zM221.6 105.6h1.2v1.2h-1.2zM223.3 104.3h1.2v1.2h-1.2zM233.3 109.5h1.2v1.2h-1.2zM236.9 110.9h1.2v1.2h-1.2zM234.1 107.8h1.2v1.2h-1.2zM236.3 110.4h1.2v1.2h-1.2zM239.2 110.8h1.2v1.2h-1.2zM241.1 108.4h1.2v1.2h-1.2zM232.6 107.5h1.2v1.2h-1.2zM243.0 106.8h1.2v1.2h-1.2zM230.2 108.1h1.2v1.2h-1.2zM232.6 109.9h1.2v1.2h-1.2zM217.9 110.9h1.2v1.2h-1.2zM236.9 112.3h1.2v1.2h-1.2zM221.0 113.8h1.2v1.2h-1.2zM219.8 109.9h1.2v1.2h-1.2zM232.3 105.3h1.2v1.2h-1.2zM233.7 105.5h1.2v1.2h-1.2zM233.3 117.3h1.2v1.2h-1.2zM235.9 117.8h1.2v1.2h-1.2zM211.9 116.9h1.2v1.2h-1.2zM207.8 117.4h1.2v1.2h-1.2zM225.6 116.6h1.2v1.2h-1.2zM229.2 120.7h1.2v1.2h-1.2zM230.8 121.7h1.2v1.2h-1.2zM229.2 118.9h1.2v1.2h-1.2zM222.0 117.7h1.2v1.2h-1.2zM241.0 113.3h1.2v1.2h-1.2zM224.3 116.7h1.2v1.2h-1.2zM238.3 120.9h1.2v1.2h-1.2zM213.4 119.8h1.2v1.2h-1.2zM221.1 125.0h1.2v1.2h-1.2zM235.1 121.4h1.2v1.2h-1.2zM217.7 121.0h1.2v1.2h-1.2zM222.8 115.7h1.2v1.2h-1.2zM250.2 118.4h1.2v1.2h-1.2zM224.8 112.7h1.2v1.2h-1.2zM246.3 118.8h1.2v1.2h-1.2zM252.4 88.6h1.2v1.2h-1.2zM268.6 87.5h1.2v1.2h-1.2zM255.0 90.0h1.2v1.2h-1.2zM261.5 74.4h1.2v1.2h-1.2zM269.6 95.2h1.2v1.2h-1.2zM263.5 76.0h1.2v1.2h-1.2zM250.7 100.0h1.2v1.2h-1.2zM274.9 99.5h1.2v1.2h-1.2zM255.3 95.9h1.2v1.2h-1.2zM264.0 71.7h1.2v1.2h-1.2zM258.1 68.6h1.2v1.2h-1.2zM266.0 96.8h1.2v1.2h-1.2zM264.7 80.5h1.2v1.2h-1.2zM265.6 93.9h1.2v1.2h-1.2zM252.8 62.8h1.2v1.2h-1.2zM251.6 96.6h1.2v1.2h-1.2zM252.6 58.6h1.2v1.2h-1.2zM277.7 114.3h1.2v1.2h-1.2zM267.5 113.7h1.2v1.2h-1.2zM259.9 119.1h1.2v1.2h-1.2zM250.3 120.0h1.2v1.2h-1.2zM252.2 118.5h1.2v1.2h-1.2zM270.6 103.3h1.2v1.2h-1.2zM274.0 121.9h1.2v1.2h-1.2zM276.2 111.0h1.2v1.2h-1.2zM283.8 133.6h1.2v1.2h-1.2zM250.3 150.0h1.2v1.2h-1.2zM257.6 144.8h1.2v1.2h-1.2zM257.9 145.5h1.2v1.2h-1.2zM253.2 149.1h1.2v1.2h-1.2zM249.4 152.1h1.2v1.2h-1.2zM251.5 148.6h1.2v1.2h-1.2zM248.8 151.5h1.2v1.2h-1.2zM248.2 151.0h1.2v1.2h-1.2zM257.8 145.5h1.2v1.2h-1.2zM252.5 148.5h1.2v1.2h-1.2zM256.6 146.3h1.2v1.2h-1.2zM246.5 151.0h1.2v1.2h-1.2zM253.2 147.8h1.2v1.2h-1.2zM267.8 142.0h1.2v1.2h-1.2zM261.3 145.4h1.2v1.2h-1.2zM258.4 145.0h1.2v1.2h-1.2zM258.8 144.3h1.2v1.2h-1.2zM263.9 143.4h1.2v1.2h-1.2zM260.7 144.5h1.2v1.2h-1.2zM268.4 139.7h1.2v1.2h-1.2zM260.3 145.5h1.2v1.2h-1.2zM259.7 146.1h1.2v1.2h-1.2zM285.7 132.1h1.2v1.2h-1.2zM281.2 133.9h1.2v1.2h-1.2zM284.5 131.6h1.2v1.2h-1.2zM286.3 131.3h1.2v1.2h-1.2zM272.7 140.0h1.2v1.2h-1.2zM284.1 133.2h1.2v1.2h-1.2zM277.6 134.8h1.2v1.2h-1.2zM288.6 132.6h1.2v1.2h-1.2zM277.5 135.8h1.2v1.2h-1.2zM272.7 139.8h1.2v1.2h-1.2zM286.0 131.5h1.2v1.2h-1.2zM274.6 138.2h1.2v1.2h-1.2zM275.1 137.7h1.2v1.2h-1.2zM279.3 136.9h1.2v1.2h-1.2zM278.7 137.1h1.2v1.2h-1.2zM271.0 138.0h1.2v1.2h-1.2zM277.5 136.6h1.2v1.2h-1.2zM281.8 134.1h1.2v1.2h-1.2zM286.6 132.8h1.2v1.2h-1.2zM281.7 134.6h1.2v1.2h-1.2zM279.3 134.4h1.2v1.2h-1.2zM277.1 135.6h1.2v1.2h-1.2zM239.6 154.2h1.2v1.2h-1.2zM247.7 149.9h1.2v1.2h-1.2zM234.7 144.1h1.2v1.2h-1.2zM250.9 143.1h1.2v1.2h-1.2zM237.7 142.2h1.2v1.2h-1.2zM226.2 159.0h1.2v1.2h-1.2zM233.3 157.6h1.2v1.2h-1.2zM251.6 148.8h1.2v1.2h-1.2zM236.9 140.5h1.2v1.2h-1.2zM233.3 149.9h1.2v1.2h-1.2zM230.8 157.5h1.2v1.2h-1.2zM241.4 136.5h1.2v1.2h-1.2zM247.9 152.7h1.2v1.2h-1.2zM233.0 154.3h1.2v1.2h-1.2zM244.7 150.1h1.2v1.2h-1.2zM245.5 143.9h1.2v1.2h-1.2zM250.8 143.6h1.2v1.2h-1.2zM230.5 156.2h1.2v1.2h-1.2zM248.2 144.4h1.2v1.2h-1.2zM241.9 155.9h1.2v1.2h-1.2zM246.4 148.2h1.2v1.2h-1.2zM233.1 154.0h1.2v1.2h-1.2zM239.4 142.9h1.2v1.2h-1.2zM240.0 149.0h1.2v1.2h-1.2zM229.0 145.0h1.2v1.2h-1.2zM237.1 151.2h1.2v1.2h-1.2zM230.9 158.7h1.2v1.2h-1.2zM233.6 157.5h1.2v1.2h-1.2zM251.0 139.3h1.2v1.2h-1.2zM230.1 150.9h1.2v1.2h-1.2zM245.4 142.2h1.2v1.2h-1.2zM241.3 136.8h1.2v1.2h-1.2zM237.3 145.2h1.2v1.2h-1.2zM230.7 147.3h1.2v1.2h-1.2zM246.8 150.4h1.2v1.2h-1.2zM242.6 139.9h1.2v1.2h-1.2zM243.3 154.9h1.2v1.2h-1.2zM227.5 152.6h1.2v1.2h-1.2zM237.4 156.0h1.2v1.2h-1.2zM232.2 151.3h1.2v1.2h-1.2zM236.9 143.0h1.2v1.2h-1.2zM233.2 157.3h1.2v1.2h-1.2zM238.9 153.8h1.2v1.2h-1.2zM245.2 153.6h1.2v1.2h-1.2zM232.9 140.9h1.2v1.2h-1.2zM246.0 140.2h1.2v1.2h-1.2zM253.9 142.1h1.2v1.2h-1.2zM242.1 153.3h1.2v1.2h-1.2zM245.8 141.5h1.2v1.2h-1.2zM250.8 137.3h1.2v1.2h-1.2zM230.9 138.2h1.2v1.2h-1.2zM228.1 139.3h1.2v1.2h-1.2zM233.6 142.2h1.2v1.2h-1.2zM252.5 134.3h1.2v1.2h-1.2zM227.5 154.2h1.2v1.2h-1.2zM234.0 151.8h1.2v1.2h-1.2zM240.7 154.0h1.2v1.2h-1.2zM245.7 149.0h1.2v1.2h-1.2zM235.5 140.3h1.2v1.2h-1.2zM253.2 140.0h1.2v1.2h-1.2zM241.1 140.1h1.2v1.2h-1.2zM241.9 137.4h1.2v1.2h-1.2zM248.8 147.4h1.2v1.2h-1.2zM227.2 149.1h1.2v1.2h-1.2zM248.6 143.3h1.2v1.2h-1.2zM243.7 139.4h1.2v1.2h-1.2zM249.9 143.8h1.2v1.2h-1.2zM238.7 150.4h1.2v1.2h-1.2zM237.9 150.5h1.2v1.2h-1.2zM231.7 149.3h1.2v1.2h-1.2zM246.0 150.2h1.2v1.2h-1.2zM240.2 142.4h1.2v1.2h-1.2zM250.7 150.3h1.2v1.2h-1.2zM247.2 149.9h1.2v1.2h-1.2zM232.0 139.3h1.2v1.2h-1.2zM231.1 159.6h1.2v1.2h-1.2zM256.0 134.9h1.2v1.2h-1.2zM236.7 145.0h1.2v1.2h-1.2zM240.6 142.0h1.2v1.2h-1.2zM247.2 143.1h1.2v1.2h-1.2zM239.3 153.8h1.2v1.2h-1.2zM237.5 140.6h1.2v1.2h-1.2zM253.9 133.8h1.2v1.2h-1.2zM125.5 133.9h1.2v1.2h-1.2zM127.3 135.5h1.2v1.2h-1.2zM128.5 120.6h1.2v1.2h-1.2zM130.4 129.0h1.2v1.2h-1.2zM130.4 128.3h1.2v1.2h-1.2zM127.6 131.5h1.2v1.2h-1.2zM127.9 125.2h1.2v1.2h-1.2zM126.8 127.6h1.2v1.2h-1.2zM122.1 128.9h1.2v1.2h-1.2zM131.7 127.8h1.2v1.2h-1.2zM127.4 125.2h1.2v1.2h-1.2zM129.5 123.7h1.2v1.2h-1.2zM120.1 126.3h1.2v1.2h-1.2zM124.5 119.1h1.2v1.2h-1.2zM127.5 118.1h1.2v1.2h-1.2zM124.9 132.9h1.2v1.2h-1.2zM129.7 119.2h1.2v1.2h-1.2zM128.8 131.9h1.2v1.2h-1.2zM135.3 127.7h1.2v1.2h-1.2zM120.2 129.7h1.2v1.2h-1.2zM137.6 117.7h1.2v1.2h-1.2zM123.4 132.7h1.2v1.2h-1.2zM125.0 128.7h1.2v1.2h-1.2zM126.2 128.4h1.2v1.2h-1.2zM122.2 137.1h1.2v1.2h-1.2zM137.9 123.7h1.2v1.2h-1.2zM124.1 134.9h1.2v1.2h-1.2zM129.4 119.5h1.2v1.2h-1.2zM122.3 121.9h1.2v1.2h-1.2zM126.7 140.3h1.2v1.2h-1.2zM121.4 124.7h1.2v1.2h-1.2zM131.1 131.7h1.2v1.2h-1.2zM129.0 124.6h1.2v1.2h-1.2zM137.1 134.8h1.2v1.2h-1.2zM139.3 129.9h1.2v1.2h-1.2zM119.3 121.2h1.2v1.2h-1.2zM139.7 131.2h1.2v1.2h-1.2zM129.9 127.4h1.2v1.2h-1.2zM127.3 118.3h1.2v1.2h-1.2zM131.8 122.8h1.2v1.2h-1.2zM136.9 124.5h1.2v1.2h-1.2zM152.3 142.1h1.2v1.2h-1.2zM119.3 109.8h1.2v1.2h-1.2zM127.8 143.6h1.2v1.2h-1.2zM129.5 108.7h1.2v1.2h-1.2zM152.2 139.5h1.2v1.2h-1.2zM132.9 145.2h1.2v1.2h-1.2zM152.4 153.3h1.2v1.2h-1.2zM119.9 142.6h1.2v1.2h-1.2zM136.7 120.8h1.2v1.2h-1.2zM146.5 140.9h1.2v1.2h-1.2zM139.3 120.8h1.2v1.2h-1.2zM208.6 129.0h1.2v1.2h-1.2zM206.2 150.8h1.2v1.2h-1.2zM218.6 126.3h1.2v1.2h-1.2zM224.9 135.5h1.2v1.2h-1.2zM206.1 170.8h1.2v1.2h-1.2zM192.7 176.0h1.2v1.2h-1.2zM208.6 172.4h1.2v1.2h-1.2zM119.3 199.1h1.2v1.2h-1.2zM121.3 218.1h1.2v1.2h-1.2zM100.8 180.9h1.2v1.2h-1.2zM76.8 221.8h1.2v1.2h-1.2zM100.4 172.2h1.2v1.2h-1.2zM77.9 199.4h1.2v1.2h-1.2zM111.3 210.0h1.2v1.2h-1.2zM90.2 194.0h1.2v1.2h-1.2zM123.6 212.9h1.2v1.2h-1.2zM93.9 177.7h1.2v1.2h-1.2zM98.0 188.3h1.2v1.2h-1.2zM79.3 192.3h1.2v1.2h-1.2zM112.6 181.9h1.2v1.2h-1.2zM135.4 208.5h1.2v1.2h-1.2zM135.6 228.5h1.2v1.2h-1.2zM134.9 227.2h1.2v1.2h-1.2zM136.4 228.5h1.2v1.2h-1.2zM135.4 210.0h1.2v1.2h-1.2zM136.1 209.1h1.2v1.2h-1.2zM135.6 214.9h1.2v1.2h-1.2zM136.4 228.7h1.2v1.2h-1.2zM136.3 230.8h1.2v1.2h-1.2zM135.2 210.4h1.2v1.2h-1.2zM135.5 229.3h1.2v1.2h-1.2zM135.0 209.3h1.2v1.2h-1.2zM134.8 209.4h1.2v1.2h-1.2zM134.8 230.4h1.2v1.2h-1.2zM140.2 220.4h1.2v1.2h-1.2zM141.0 217.4h1.2v1.2h-1.2zM140.4 225.5h1.2v1.2h-1.2zM141.2 219.9h1.2v1.2h-1.2zM141.2 222.4h1.2v1.2h-1.2zM139.9 217.5h1.2v1.2h-1.2zM140.1 221.1h1.2v1.2h-1.2zM139.8 228.4h1.2v1.2h-1.2zM140.0 216.9h1.2v1.2h-1.2zM132.1 235.7h1.2v1.2h-1.2zM129.8 234.1h1.2v1.2h-1.2zM133.7 233.6h1.2v1.2h-1.2zM131.6 229.8h1.2v1.2h-1.2zM130.5 232.1h1.2v1.2h-1.2zM129.5 234.7h1.2v1.2h-1.2zM133.0 230.9h1.2v1.2h-1.2zM133.9 233.4h1.2v1.2h-1.2zM132.6 230.9h1.2v1.2h-1.2zM131.9 234.2h1.2v1.2h-1.2zM131.3 230.8h1.2v1.2h-1.2zM128.7 232.6h1.2v1.2h-1.2zM131.6 234.0h1.2v1.2h-1.2zM130.5 233.4h1.2v1.2h-1.2zM119.5 279.6h1.2v1.2h-1.2zM88.8 280.1h1.2v1.2h-1.2zM85.4 280.0h1.2v1.2h-1.2zM145.3 300.9h1.2v1.2h-1.2zM107.1 281.4h1.2v1.2h-1.2zM112.0 293.5h1.2v1.2h-1.2zM99.9 301.7h1.2v1.2h-1.2zM92.3 284.1h1.2v1.2h-1.2zM132.5 280.7h1.2v1.2h-1.2zM135.7 297.7h1.2v1.2h-1.2zM119.5 295.0h1.2v1.2h-1.2zM136.0 289.3h1.2v1.2h-1.2zM131.6 284.0h1.2v1.2h-1.2zM116.0 305.4h1.2v1.2h-1.2zM100.4 298.4h1.2v1.2h-1.2zM104.9 285.2h1.2v1.2h-1.2zM146.4 277.2h1.2v1.2h-1.2zM139.8 276.3h1.2v1.2h-1.2zM128.1 274.4h1.2v1.2h-1.2zM145.6 291.1h1.2v1.2h-1.2zM114.2 296.1h1.2v1.2h-1.2zM102.5 303.8h1.2v1.2h-1.2zM100.3 305.6h1.2v1.2h-1.2zM118.1 300.4h1.2v1.2h-1.2zM110.7 303.2h1.2v1.2h-1.2zM116.6 300.1h1.2v1.2h-1.2zM103.7 304.2h1.2v1.2h-1.2zM114.5 299.3h1.2v1.2h-1.2zM98.2 305.9h1.2v1.2h-1.2zM108.3 304.0h1.2v1.2h-1.2zM103.9 305.3h1.2v1.2h-1.2zM116.1 301.0h1.2v1.2h-1.2zM112.2 300.4h1.2v1.2h-1.2zM104.1 302.8h1.2v1.2h-1.2zM107.5 301.5h1.2v1.2h-1.2zM111.2 302.9h1.2v1.2h-1.2zM108.0 301.4h1.2v1.2h-1.2zM107.2 303.4h1.2v1.2h-1.2zM101.8 303.5h1.2v1.2h-1.2zM105.8 305.1h1.2v1.2h-1.2zM119.4 298.4h1.2v1.2h-1.2zM117.1 299.6h1.2v1.2h-1.2zM115.4 301.7h1.2v1.2h-1.2zM108.6 302.2h1.2v1.2h-1.2zM99.6 305.5h1.2v1.2h-1.2zM122.5 291.5h1.2v1.2h-1.2zM118.4 291.8h1.2v1.2h-1.2zM119.9 290.1h1.2v1.2h-1.2zM114.2 290.9h1.2v1.2h-1.2zM115.6 291.6h1.2v1.2h-1.2zM113.3 290.4h1.2v1.2h-1.2zM121.2 291.8h1.2v1.2h-1.2zM123.0 290.4h1.2v1.2h-1.2zM129.1 292.2h1.2v1.2h-1.2zM114.8 291.2h1.2v1.2h-1.2zM114.9 289.8h1.2v1.2h-1.2zM104.9 307.0h1.2v1.2h-1.2zM98.2 308.5h1.2v1.2h-1.2zM98.9 307.7h1.2v1.2h-1.2zM112.1 303.7h1.2v1.2h-1.2zM110.9 307.6h1.2v1.2h-1.2zM98.3 305.5h1.2v1.2h-1.2zM99.2 303.0h1.2v1.2h-1.2zM106.1 303.5h1.2v1.2h-1.2zM99.0 308.6h1.2v1.2h-1.2zM106.7 306.8h1.2v1.2h-1.2zM104.6 306.7h1.2v1.2h-1.2zM108.8 303.8h1.2v1.2h-1.2zM107.7 308.3h1.2v1.2h-1.2zM105.9 308.8h1.2v1.2h-1.2zM107.5 306.5h1.2v1.2h-1.2zM102.2 305.0h1.2v1.2h-1.2zM108.2 307.2h1.2v1.2h-1.2zM103.8 306.8h1.2v1.2h-1.2z"/>
<path fill="#1a1af0" d="M190.7 72.7h1.2v1.2h-1.2zM194.2 75.7h1.2v1.2h-1.2zM192.7 77.0h1.2v1.2h-1.2zM186.1 78.2h1.2v1.2h-1.2zM193.2 73.1h1.2v1.2h-1.2zM188.1 73.8h1.2v1.2h-1.2zM193.3 77.0h1.2v1.2h-1.2zM185.1 75.3h1.2v1.2h-1.2zM192.1 76.1h1.2v1.2h-1.2zM190.1 76.2h1.2v1.2h-1.2zM192.2 74.5h1.2v1.2h-1.2zM188.2 76.0h1.2v1.2h-1.2zM191.1 74.4h1.2v1.2h-1.2zM190.0 76.6h1.2v1.2h-1.2zM189.7 75.4h1.2v1.2h-1.2zM192.6 74.9h1.2v1.2h-1.2zM191.1 74.3h1.2v1.2h-1.2zM191.1 75.4h1.2v1.2h-1.2zM189.9 75.7h1.2v1.2h-1.2zM188.8 76.6h1.2v1.2h-1.2zM190.5 76.4h1.2v1.2h-1.2zM191.5 74.9h1.2v1.2h-1.2zM191.6 75.7h1.2v1.2h-1.2zM190.6 75.4h1.2v1.2h-1.2zM188.6 76.0h1.2v1.2h-1.2zM192.6 75.1h1.2v1.2h-1.2zM189.9 74.6h1.2v1.2h-1.2zM192.2 76.4h1.2v1.2h-1.2zM187.8 75.0h1.2v1.2h-1.2zM191.6 76.0h1.2v1.2h-1.2zM188.3 76.4h1.2v1.2h-1.2zM190.3 76.7h1.2v1.2h-1.2zM159.6 178.6h1.2v1.2h-1.2zM189.1 245.8h1.2v1.2h-1.2zM191.0 245.0h1.2v1.2h-1.2z"/>
</g>
<path d="M72.7 16.0L72.7 161.0 M16.0 66.0L72.7 66.0 M72.7 51.5L108.8 62.6 M16.0 105.9L116.0 105.9 M134.6 39.6L158.7 40.6 M158.7 40.6L173.9 16.0 M133.1 34.2L108.8 62.6 M108.8 62.6L128.9 83.2L136.0 94.5L142.5 100.2 M158.7 40.6L170.5 55.0L180.7 64.1 M170.5 55.0L160.0 61.7L128.9 83.2 M180.7 64.1L214.0 39.0 M180.7 64.1L169.6 73.5 M169.6 76.0L184.0 89.6 M166.5 102.9L184.0 89.6L205.0 80.4L241.3 68.1 M116.0 105.5L136.0 94.5 M218.0 16.0L217.5 22.0L216.0 26.0L215.0 32.0L214.0 39.0 M214.0 39.0L241.3 68.1 M249.0 16.0L250.6 18.9L254.5 21.3L275.9 43.1L241.3 68.1 M295.9 36.1L268.6 50.9 M268.6 50.9L297.8 76.3L315.0 68.4 M295.9 36.1L297.5 29.8L300.6 24.4L305.3 20.5L310.0 18.1L312.0 16.0 M298.3 76.3L297.3 98.7L294.8 115.6L293.1 127.3 M265.3 99.6L285.5 100.4 M265.3 100.4L253.5 105.5L247.6 113.9 M241.7 110.5L244.0 113.0L248.5 117.2L252.0 121.0L255.2 124.0 M202.0 130.0L222.1 115.3 M202.0 130.0L185.8 151.0 M214.7 156.5L235.0 145.0 M225.5 141.3L255.0 137.1 M139.0 101.5L146.0 125.0L160.9 147.6 M160.9 147.6L158.0 153.5L155.0 155.0L156.5 159.3L160.9 162.2 M160.9 147.6L190.0 151.3 M116.2 105.9L116.2 159.5 M72.9 159.5L157.0 159.5 M20.0 105.9L20.0 161.3 M19.9 161.3L71.1 159.5 M72.9 159.5L72.9 230.0 M124.5 159.5L124.5 230.0 M160.9 162.2L152.2 173.5L152.2 197.5 M140.5 197.5L152.2 197.5L156.5 199.7L159.5 203.4L166.7 204.1L190.0 204.1L212.0 203.0 M139.9 197.0L139.9 230.8 M98.5 230.3L146.6 230.6 M146.6 232.9L163.8 228.9L203.5 230.3 M146.6 229.0L146.6 290.7 M147.3 290.7L207.5 290.7 M147.3 290.7L147.3 304.7L159.2 306.9L159.2 341.5 M159.6 313.7L188.5 317.3L201.7 307.6L213.7 307.6 M15.5 228.0L22.2 225.8L25.8 230.3L59.5 230.3L73.9 230.3 M73.9 230.3L73.9 222.1L89.5 222.1L90.5 224.2L98.5 224.2L98.5 230.3L100.3 232.0L101.7 237.6L104.6 243.4L107.5 249.1L107.5 273.9 M59.5 230.3L59.5 273.9L147.3 273.4 M59.3 273.7L40.8 292.5 M115.3 274.4L100.9 306.9L99.7 324.9 M222.1 348.6L221.6 336.0L220.2 324.5L217.3 311.5L213.7 300.0L211.8 296.0L208.2 284.0L204.6 272.0L201.6 260.0L201.7 256.0L202.0 244.0L203.2 234.4L205.0 227.2L208.0 220.0L210.7 208.7L214.0 203.0L219.4 195.9L223.5 188.0L227.9 178.8L232.7 171.2L238.5 164.4L244.2 157.7L250.0 152.9L259.6 147.1L271.2 141.3L282.7 136.5L292.3 131.7L301.9 121.2L315.0 116.3 M243.0 112.0L247.0 115.0L250.0 119.0L254.0 123.0L257.0 127.0 M250.0 122.0L255.0 119.5L258.0 124.0L253.0 128.0L250.0 122.0 M258.0 106.0L261.0 108.0L263.0 107.0L265.0 110.0" stroke="#7c7c7c" stroke-width="0.8" fill="none" stroke-linejoin="round" filter="url(#bl2)"/>
<path d="M113.0 16.0L114.5 17.0L116.2 17.7L118.0 18.2L119.3 19.6L120.8 20.6L122.1 22.0L123.7 22.9L124.8 24.4L126.4 25.3L127.3 27.0L129.2 27.6L131.3 28.2L132.0 29.9L133.3 31.3L133.4 33.3L134.0 34.8L133.0 36.3L134.0 37.9L134.6 39.6 M142.5 100.2L144.2 101.3L146.3 100.1L147.9 101.6L149.6 101.0L151.3 100.2L152.9 99.3L154.8 100.2L156.8 99.8L158.6 100.1L160.4 100.7L161.9 101.8L163.7 102.2L165.9 102.3L165.7 104.6L166.9 106.1L168.9 107.0L169.1 109.0L169.9 110.6L171.0 112.1L172.5 113.4L173.4 114.8L174.1 116.8L176.2 117.4L178.2 116.4L179.9 117.4L181.6 118.1L183.1 119.1L185.3 118.9L186.2 121.1L188.0 121.6L188.6 123.6L190.4 124.5L191.9 125.6L193.7 126.2L195.7 126.2L197.2 127.1L198.8 128.3L201.0 128.2L202.0 130.0 M241.3 68.1L243.2 67.5L243.9 69.7L245.6 70.8L247.7 70.9L249.2 72.3L250.4 73.6L251.2 75.4L251.0 77.4L253.0 78.6L253.4 80.4L253.7 82.3L255.2 83.5L256.0 85.1L256.6 86.9L257.0 88.8L258.1 90.3L259.9 91.3L261.7 92.1L261.9 94.3L263.8 95.1L264.6 96.9L265.4 98.6L267.4 99.0L268.7 100.4 M185.8 150.0L187.7 150.1L189.5 150.4L191.5 148.6L193.2 149.4L194.8 150.3L196.6 150.8L198.1 152.0L199.7 153.5L201.5 153.3L203.3 153.0L205.0 152.5L206.9 152.3L208.4 154.0L210.5 153.7L211.3 155.9L212.8 156.9L215.0 156.6L216.7 157.4L218.3 158.3 M160.9 162.2L162.0 163.7L163.4 165.1L164.2 166.8L165.4 168.4L166.9 169.7L169.0 169.7L170.3 171.2L172.7 171.0L173.6 173.0L175.8 173.1L176.8 175.4L179.2 174.5L180.6 176.0L182.5 175.8L184.4 176.0L186.2 176.3L188.0 175.5L190.0 176.0" stroke="#777" stroke-width="0.75" fill="none" stroke-linejoin="round" filter="url(#bl2)"/><path d="M15.5 252.5L16.1 254.0L16.8 255.5L18.5 256.3L19.4 257.7L20.4 258.9L21.3 260.3L22.4 261.1L23.2 262.9L25.1 263.1L25.5 264.8L27.1 265.6L27.3 267.4L28.1 268.8L28.2 270.6L29.1 271.9L30.5 273.1L30.4 274.8L31.8 276.0L31.5 277.9L32.2 279.4L33.6 280.4L33.7 282.2L35.2 283.2L35.2 285.1L36.9 286.0L38.1 286.6L39.1 288.0L39.1 289.6L39.9 291.1L40.1 292.7L40.7 294.2L40.6 295.9L41.3 297.5L43.2 297.9L44.0 299.4L44.7 300.8L46.1 301.9L46.1 303.7L47.3 304.7L48.9 305.1L49.9 306.7L51.6 307.0L53.0 307.8L54.8 307.7L56.1 308.6L57.6 309.1L58.7 310.8L60.7 310.1L61.8 311.8L63.7 311.1L65.2 311.6L66.6 312.8L68.4 311.9L69.7 313.3L71.2 313.9L73.0 313.9L73.9 315.6L75.8 315.5L77.3 316.1L78.4 317.4L79.7 318.3L81.1 319.2L83.0 319.1L84.2 320.3L85.4 321.3L87.1 321.7L88.3 323.2L90.0 322.6L91.6 322.2L93.1 323.5L94.9 322.8L96.4 323.4L97.6 324.8L99.3 324.9L101.0 324.9L102.1 326.5L104.1 325.9L105.4 326.9L106.8 327.7L108.1 328.7L109.4 329.8L110.9 330.4L112.4 330.9L114.1 331.2L115.5 331.9L116.9 332.8L118.4 333.3L119.5 334.7L120.6 335.9L122.4 336.2L123.3 337.7L124.6 338.4L126.2 338.3L127.7 339.0L129.2 339.7L130.8 340.3L132.4 339.6L134.1 340.3L135.7 340.0L137.3 340.1L138.9 338.8L140.5 339.2L142.0 339.9L143.7 339.8L145.3 339.8L146.9 340.3L148.5 340.2L150.1 339.2L151.7 339.8L153.3 340.2L154.9 340.2L156.6 339.8L158.1 340.3L159.8 339.6L161.3 340.5L162.8 341.3L164.5 341.2L166.0 341.8L167.6 341.8L169.2 342.3L170.7 343.0L172.4 341.9L174.0 342.5L175.5 342.9L176.2 344.4L178.0 344.9L179.2 346.0L180.2 347.3L181.4 348.4L182.2 349.9L183.5 350.9L185.3 351.2L186.1 352.7L188.1 352.8L189.1 354.1L190.5 354.7L192.0 355.5L193.5 356.1L194.7 357.2L195.9 358.4L197.4 359.0L199.0 359.1L200.4 360.2L201.8 358.9L203.0 357.7L203.0 356.0L203.1 354.4L203.8 353.4L204.8 352.1L206.3 351.4L207.9 351.0L209.6 351.0L210.9 350.1L212.6 350.5L214.0 349.0L215.7 349.1L217.2 348.6L219.0 349.6L220.5 348.7L222.1 348.6" stroke="#666" stroke-width="0.8" fill="none" stroke-linejoin="round" filter="url(#bl2)"/>
<g filter="url(#bl3)">
<text x="61.9" y="21.5" class="cl" text-anchor="middle">Bandera</text>
<text x="120.2" y="21.4" class="cl" text-anchor="middle">Comal</text>
<text x="149.1" y="28.6" class="cl" text-anchor="middle">Guadalupe</text>
<text x="182.5" y="21.8" class="cl" text-anchor="middle">Caldwell</text>
<text x="234.5" y="21.8" class="cl" text-anchor="middle">Fayette</text>
<text x="280.5" y="29.7" class="cl" text-anchor="middle">Colorado</text>
<text x="304.5" y="21.7" class="cl" text-anchor="middle">Austin</text>
<text x="45" y="44.2" class="cl" text-anchor="middle">Medina</text>
<text x="100.5" y="38.8" class="cl" text-anchor="middle">Bexar</text>
<text x="138" y="60.5" class="cl" text-anchor="middle">Wilson</text>
<text x="190.3" y="37.6" class="cl" text-anchor="middle">Gonzales</text>
<text x="243.4" y="41.2" class="cl" text-anchor="middle">Lavaca</text>
<text x="293.8" y="54.7" class="cl" text-anchor="middle">Wharton</text>
<text x="25.1" y="88.8" class="cl" text-anchor="middle">Zavala</text>
<text x="46.3" y="88.4" class="cl" text-anchor="middle">Frio</text>
<text x="97.9" y="85.2" class="cl" text-anchor="middle">Atascosa</text>
<text x="164.3" y="76.6" class="cl" text-anchor="middle">Karnes</text>
<text x="206" y="68.0" class="cl" text-anchor="middle">De Witt</text>
<text x="189.5" y="106.6" class="cl" text-anchor="middle">Goliad</text>
<text x="275.8" y="79.9" class="cl" text-anchor="middle">Jackson</text>
<text x="232.8" y="90.1" class="cl" text-anchor="middle">Victoria</text>
<text x="299.4" y="101.2" class="cl" text-anchor="middle">Matagorda</text>
<text x="46.4" y="135.1" class="cl" text-anchor="middle">La Salle</text>
<text x="94.3" y="134.3" class="cl" text-anchor="middle">McMullen</text>
<text x="137" y="146.3" class="cl" text-anchor="middle">Live Oak</text>
<text x="169" y="128.3" class="cl" text-anchor="middle">Bee</text>
<text x="206.1" y="144.4" class="cl" text-anchor="middle">Refugio</text>
<text x="274.8" y="123.9" class="cl" text-anchor="middle">Calhoun</text>
<text x="174.2" y="158.5" class="cl" text-anchor="middle">San Patricio</text>
<text x="233.3" y="161.8" class="cl" text-anchor="middle">Aransas</text>
<text x="43.6" y="197.7" class="cl" text-anchor="middle">Webb</text>
<text x="96.5" y="195.3" class="cl" text-anchor="middle">Duval</text>
<text x="137.8" y="190.5" class="cl" text-anchor="middle">Jim Wells</text>
<text x="168.9" y="192.9" class="cl" text-anchor="middle">Nueces</text>
<text x="177.5" y="209.7" class="cl" text-anchor="middle">Kleberg</text>
<text x="81.4" y="250.9" class="cl" text-anchor="middle">Jim Hogg</text>
<text x="40.3" y="256.9" class="cl" text-anchor="middle">Zapata</text>
<text x="127.3" y="254.5" class="cl" text-anchor="middle">Brooks</text>
<text x="174.4" y="263.5" class="cl" text-anchor="middle">Kenedy</text>
<text x="74.5" y="298.0" class="cl" text-anchor="middle">Starr</text>
<text x="126.8" y="311.7" class="cl" text-anchor="middle">Hidalgo</text>
<text x="183.2" y="305.0" class="cl" text-anchor="middle">Willacy</text>
<text x="189" y="333.9" class="cl" text-anchor="middle">Cameron</text>
</g>
<circle cx="232.4" cy="98.6" r="20.3" fill="none" stroke="#151515" stroke-width="1.4"/>
<circle cx="129.9" cy="127.8" r="12" fill="none" stroke="#151515" stroke-width="1.4"/>
<circle cx="225" cy="130.8" r="10.9" fill="none" stroke="#151515" stroke-width="1.4"/>
<circle cx="131.6" cy="222.4" r="17" fill="none" stroke="#151515" stroke-width="1.4"/>
<circle cx="153.3" cy="85.3" r="7" fill="none" stroke="#151515" stroke-width="1.4"/>
<circle cx="127.7" cy="328.4" r="14.4" fill="none" stroke="#151515" stroke-width="1.4"/>
<circle cx="197.6" cy="174.7" r="16.3" fill="none" stroke="#151515" stroke-width="1.4"/>
<g filter="url(#bl3)">
<text x="232.4" y="102.0" class="cn" text-anchor="middle">1</text>
<text x="129.9" y="131.2" class="cn" text-anchor="middle">2</text>
<text x="225" y="134.2" class="cn" text-anchor="middle">3</text>
<text x="131.6" y="225.8" class="cn" text-anchor="middle">4</text>
<text x="153.3" y="88.7" class="cn" text-anchor="middle">5</text>
<text x="127.7" y="331.8" class="cn" text-anchor="middle">6</text>
<text x="197.6" y="178.1" class="cn" text-anchor="middle">7</text>
</g>
<rect x="15.6" y="16.0" width="299.0" height="392.0" fill="none" stroke="#333" stroke-width="1.2"/>
<line x1="55.0" y1="13.4" x2="55.0" y2="16" stroke="#333" stroke-width="0.9"/>
<line x1="55.0" y1="408" x2="55.0" y2="410.8" stroke="#333" stroke-width="0.9"/>
<text x="55.0" y="11.7" class="deg" text-anchor="middle">99°W</text>
<line x1="145.4" y1="13.4" x2="145.4" y2="16" stroke="#333" stroke-width="0.9"/>
<line x1="145.4" y1="408" x2="145.4" y2="410.8" stroke="#333" stroke-width="0.9"/>
<text x="145.4" y="11.7" class="deg" text-anchor="middle">98°W</text>
<line x1="235.6" y1="13.4" x2="235.6" y2="16" stroke="#333" stroke-width="0.9"/>
<line x1="235.6" y1="408" x2="235.6" y2="410.8" stroke="#333" stroke-width="0.9"/>
<text x="235.6" y="11.7" class="deg" text-anchor="middle">97°W</text>
<line x1="13" y1="74.0" x2="15.6" y2="74.0" stroke="#333" stroke-width="0.9"/>
<line x1="314.6" y1="74.0" x2="317.4" y2="74.0" stroke="#333" stroke-width="0.9"/>
<text transform="translate(11.4,74.0) rotate(-90)" class="deg" text-anchor="middle">29°N</text>
<line x1="13" y1="164.4" x2="15.6" y2="164.4" stroke="#333" stroke-width="0.9"/>
<line x1="314.6" y1="164.4" x2="317.4" y2="164.4" stroke="#333" stroke-width="0.9"/>
<text transform="translate(11.4,164.4) rotate(-90)" class="deg" text-anchor="middle">28°N</text>
<line x1="13" y1="254.6" x2="15.6" y2="254.6" stroke="#333" stroke-width="0.9"/>
<line x1="314.6" y1="254.6" x2="317.4" y2="254.6" stroke="#333" stroke-width="0.9"/>
<text transform="translate(11.4,254.6) rotate(-90)" class="deg" text-anchor="middle">27°N</text>
<line x1="13" y1="345.2" x2="15.6" y2="345.2" stroke="#333" stroke-width="0.9"/>
<line x1="314.6" y1="345.2" x2="317.4" y2="345.2" stroke="#333" stroke-width="0.9"/>
<text transform="translate(11.4,345.2) rotate(-90)" class="deg" text-anchor="middle">26°N</text>
<text x="225.6" y="237.2" class="lgt" textLength="81.3" lengthAdjust="spacingAndGlyphs">Velocity (mm/year)</text>
<circle cx="237.2" cy="248.8" r="1.1" fill="#e8141c"/>
<text x="252.2" y="252.1" class="lg" xml:space="preserve">&lt; -10</text>
<circle cx="237.2" cy="264.1" r="1.1" fill="#f2502a"/>
<text x="252.2" y="267.4" class="lg" xml:space="preserve">-10 -  -6</text>
<circle cx="237.2" cy="279.3" r="1.1" fill="#f5a033"/>
<text x="252.2" y="282.6" class="lg" xml:space="preserve">-6 - -2</text>
<circle cx="237.2" cy="294.6" r="1.1" fill="#ffff55"/>
<text x="252.2" y="297.9" class="lg" xml:space="preserve">-2 - 2</text>
<circle cx="237.2" cy="309.8" r="1.1" fill="#8ee53f"/>
<text x="252.2" y="313.1" class="lg" xml:space="preserve">2 - 6</text>
<circle cx="237.2" cy="325.1" r="1.1" fill="#3d8ff0"/>
<text x="252.2" y="328.4" class="lg" xml:space="preserve">6 - 10</text>
<circle cx="237.2" cy="340.3" r="1.1" fill="#1c1cf0"/>
<text x="252.2" y="343.6" class="lg" xml:space="preserve">&gt; 10</text>
<text x="261.3" y="181.6" class="gm" letter-spacing="3.1">Gulf</text>
<text x="272.5" y="194.6" class="gm" letter-spacing="3.1">of</text>
<text x="254.1" y="207.9" class="gm" letter-spacing="3.1">Mexico</text>
<text x="64.2" y="333.6" class="na" text-anchor="middle">N</text>
<path d="M63.9 338.4L72 362.2L63.6 357.3L55.3 362.2Z" fill="#000"/>
<rect x="24.6" y="379.4" width="81.8" height="3.3" fill="#000"/>
<rect x="45.2" y="380.1" width="20" height="1.9" fill="#fff"/>
<text x="24.9" y="376.8" class="sb" text-anchor="middle">0</text>
<text x="44.9" y="376.8" class="sb" text-anchor="middle">25</text>
<text x="65.3" y="376.8" class="sb" text-anchor="middle">50</text>
<text x="106" y="376.8" class="sb" text-anchor="middle">100</text>
<text x="51.1" y="389.4" class="sb">Kilometers</text>
<text x="22.4" y="401.8" class="pl">a)</text>
<line x1="387.9" y1="26.3" x2="387.9" y2="160.7" class="grid"/>
<line x1="409.2" y1="26.3" x2="409.2" y2="160.7" class="grid"/>
<line x1="430.6" y1="26.3" x2="430.6" y2="160.7" class="grid"/>
<line x1="451.9" y1="26.3" x2="451.9" y2="160.7" class="grid"/>
<line x1="473.2" y1="26.3" x2="473.2" y2="160.7" class="grid"/>
<line x1="494.5" y1="26.3" x2="494.5" y2="160.7" class="grid"/>
<line x1="515.8" y1="26.3" x2="515.8" y2="160.7" class="grid"/>
<line x1="537.2" y1="26.3" x2="537.2" y2="160.7" class="grid"/>
<line x1="366.6" y1="141.5" x2="537.2" y2="141.5" class="grid"/>
<line x1="366.6" y1="122.3" x2="537.2" y2="122.3" class="grid"/>
<line x1="366.6" y1="103.1" x2="537.2" y2="103.1" class="grid"/>
<line x1="366.6" y1="83.9" x2="537.2" y2="83.9" class="grid"/>
<line x1="366.6" y1="64.7" x2="537.2" y2="64.7" class="grid"/>
<line x1="366.6" y1="45.5" x2="537.2" y2="45.5" class="grid"/>
<line x1="366.6" y1="26.3" x2="537.2" y2="26.3" class="grid"/>
<path d="M366.6 25.6V161.4M365.9 160.8H537.8" stroke="#000" stroke-width="1.6" fill="none"/>
<line x1="362.8" y1="160.7" x2="366.6" y2="160.7" stroke="#000" stroke-width="1.2"/>
<text x="355.3" y="164.0" class="tk" text-anchor="end">-10</text>
<line x1="362.8" y1="141.5" x2="366.6" y2="141.5" stroke="#000" stroke-width="1.2"/>
<text x="355.3" y="144.8" class="tk" text-anchor="end">-8</text>
<line x1="362.8" y1="122.3" x2="366.6" y2="122.3" stroke="#000" stroke-width="1.2"/>
<text x="355.3" y="125.6" class="tk" text-anchor="end">-6</text>
<line x1="362.8" y1="103.1" x2="366.6" y2="103.1" stroke="#000" stroke-width="1.2"/>
<text x="355.3" y="106.4" class="tk" text-anchor="end">-4</text>
<line x1="362.8" y1="83.9" x2="366.6" y2="83.9" stroke="#000" stroke-width="1.2"/>
<text x="355.3" y="87.2" class="tk" text-anchor="end">-2</text>
<line x1="362.8" y1="64.7" x2="366.6" y2="64.7" stroke="#000" stroke-width="1.2"/>
<text x="355.3" y="68.0" class="tk" text-anchor="end">0</text>
<line x1="362.8" y1="45.5" x2="366.6" y2="45.5" stroke="#000" stroke-width="1.2"/>
<text x="355.3" y="48.8" class="tk" text-anchor="end">2</text>
<line x1="362.8" y1="26.3" x2="366.6" y2="26.3" stroke="#000" stroke-width="1.2"/>
<text x="355.3" y="29.6" class="tk" text-anchor="end">4</text>
<line x1="366.6" y1="160.7" x2="366.6" y2="164.5" stroke="#000" stroke-width="1.2"/>
<text x="366.6" y="180.6" class="tk" text-anchor="middle">-12</text>
<line x1="387.9" y1="160.7" x2="387.9" y2="164.5" stroke="#000" stroke-width="1.2"/>
<text x="387.9" y="180.6" class="tk" text-anchor="middle">-10</text>
<line x1="409.2" y1="160.7" x2="409.2" y2="164.5" stroke="#000" stroke-width="1.2"/>
<text x="409.2" y="180.6" class="tk" text-anchor="middle">-8</text>
<line x1="430.6" y1="160.7" x2="430.6" y2="164.5" stroke="#000" stroke-width="1.2"/>
<text x="430.6" y="180.6" class="tk" text-anchor="middle">-6</text>
<line x1="451.9" y1="160.7" x2="451.9" y2="164.5" stroke="#000" stroke-width="1.2"/>
<text x="451.9" y="180.6" class="tk" text-anchor="middle">-4</text>
<line x1="473.2" y1="160.7" x2="473.2" y2="164.5" stroke="#000" stroke-width="1.2"/>
<text x="473.2" y="180.6" class="tk" text-anchor="middle">-2</text>
<line x1="494.5" y1="160.7" x2="494.5" y2="164.5" stroke="#000" stroke-width="1.2"/>
<text x="494.5" y="180.6" class="tk" text-anchor="middle">0</text>
<line x1="515.8" y1="160.7" x2="515.8" y2="164.5" stroke="#000" stroke-width="1.2"/>
<text x="515.8" y="180.6" class="tk" text-anchor="middle">2</text>
<line x1="537.2" y1="160.7" x2="537.2" y2="164.5" stroke="#000" stroke-width="1.2"/>
<text x="537.2" y="180.6" class="tk" text-anchor="middle">4</text>
<line x1="409.2" y1="141.5" x2="537.2" y2="26.3" stroke="#000" stroke-width="1.8" stroke-dasharray="4.5 2.8"/>
<path d="M413.8 40.8H417.7L423.3 60" stroke="#a0a0a0" stroke-width="0.8" fill="none"/>
<path d="M397.5 59.4L423 63.5" stroke="#a0a0a0" stroke-width="0.8" fill="none"/>
<path d="M401.3 84.4H406.2V112" stroke="#a0a0a0" stroke-width="0.8" fill="none"/>
<path d="M436.5 28.7H439.4L442.6 83" stroke="#a0a0a0" stroke-width="0.8" fill="none"/>
<path d="M453.8 36.5L460 79" stroke="#a0a0a0" stroke-width="0.8" fill="none"/>
<path d="M480.8 36.3L477.9 81" stroke="#a0a0a0" stroke-width="0.8" fill="none"/>
<path d="M501 29.2H497.1L490.4 65" stroke="#a0a0a0" stroke-width="0.8" fill="none"/>
<path d="M524 45L498 62" stroke="#a0a0a0" stroke-width="0.8" fill="none"/>
<path d="M524 64.2L503 75.5" stroke="#a0a0a0" stroke-width="0.8" fill="none"/>
<path d="M518.3 82.5V88.3H523.5" stroke="#a0a0a0" stroke-width="0.8" fill="none"/>
<path d="M520 107H515.6L504 81" stroke="#a0a0a0" stroke-width="0.8" fill="none"/>
<path d="M504 100V111" stroke="#a0a0a0" stroke-width="0.8" fill="none"/>
<path d="M455.5 134.5H458L464.5 122" stroke="#a0a0a0" stroke-width="0.8" fill="none"/>
<path d="M404 63.8H443M404 62.199999999999996V65.39999999999999M443 62.199999999999996V65.39999999999999" class="eb"/>
<path d="M419.6 69.3H433.5M419.6 67.7V70.89999999999999M433.5 67.7V70.89999999999999" class="eb"/>
<path d="M428.5 86.0H461.4M428.5 84.4V87.6M461.4 84.4V87.6" class="eb"/>
<path d="M447.7 82.1H485.9M447.7 80.5V83.69999999999999M485.9 80.5V83.69999999999999" class="eb"/>
<path d="M468.3 83.6H485.6M468.3 82.0V85.19999999999999M485.6 82.0V85.19999999999999" class="eb"/>
<path d="M481.8 68H494M481.8 66.4V69.6M494 66.4V69.6" class="eb"/>
<path d="M462.5 64.2H525M462.5 62.6V65.8M525 62.6V65.8" class="eb"/>
<path d="M480.4 78.2H524M480.4 76.60000000000001V79.8M524 76.60000000000001V79.8" class="eb"/>
<path d="M485.6 96.5H522M485.6 94.9V98.1M522 94.9V98.1" class="eb"/>
<path d="M456 119.1H475M456 117.5V120.69999999999999M475 117.5V120.69999999999999" class="eb"/>
<path d="M385.6 115H427.3M385.6 113.4V116.6M427.3 113.4V116.6" class="eb"/>
<path d="M423.3 58V64M421.7 58H424.90000000000003M421.7 64H424.90000000000003" class="eb"/>
<path d="M461.3 76.5V87.5M459.7 76.5H462.90000000000003M459.7 87.5H462.90000000000003" class="eb"/>
<path d="M495.6 50.4V77.7M494.0 50.4H497.20000000000005M494.0 77.7H497.20000000000005" class="eb"/>
<circle cx="423.3" cy="63.8" r="3.55" fill="#0a0af0" stroke="#00006a" stroke-width="0.8"/>
<circle cx="426.6" cy="69.3" r="3.55" fill="#0a0af0" stroke="#00006a" stroke-width="0.8"/>
<circle cx="443.7" cy="86.0" r="3.55" fill="#0a0af0" stroke="#00006a" stroke-width="0.8"/>
<circle cx="461.3" cy="82.1" r="3.55" fill="#0a0af0" stroke="#00006a" stroke-width="0.8"/>
<circle cx="476.5" cy="83.6" r="3.55" fill="#0a0af0" stroke="#00006a" stroke-width="0.8"/>
<circle cx="489.4" cy="68.0" r="3.55" fill="#0a0af0" stroke="#00006a" stroke-width="0.8"/>
<circle cx="495.6" cy="64.2" r="3.55" fill="#0a0af0" stroke="#00006a" stroke-width="0.8"/>
<circle cx="496.2" cy="77.7" r="3.55" fill="#0a0af0" stroke="#00006a" stroke-width="0.8"/>
<circle cx="502.9" cy="78.3" r="3.55" fill="#0a0af0" stroke="#00006a" stroke-width="0.8"/>
<circle cx="517.7" cy="78.7" r="3.55" fill="#0a0af0" stroke="#00006a" stroke-width="0.8"/>
<circle cx="503.7" cy="96.5" r="3.55" fill="#0a0af0" stroke="#00006a" stroke-width="0.8"/>
<circle cx="465.3" cy="119.1" r="3.55" fill="#0a0af0" stroke="#00006a" stroke-width="0.8"/>
<circle cx="406.2" cy="115.0" r="3.55" fill="#0a0af0" stroke="#00006a" stroke-width="0.8"/>
<text x="388.0" y="45.3" class="lb" textLength="24.4" lengthAdjust="spacingAndGlyphs">txgw</text>
<text x="375.9" y="63.7" class="lb" textLength="20.1" lengthAdjust="spacingAndGlyphs">txvc</text>
<text x="383.6" y="88.8" class="lb" textLength="17.2" lengthAdjust="spacingAndGlyphs">txff</text>
<text x="414.2" y="32.9" class="lb" textLength="19.6" lengthAdjust="spacingAndGlyphs">txrv</text>
<text x="443.2" y="32.9" class="lb" textLength="20.6" lengthAdjust="spacingAndGlyphs">txs5</text>
<text x="470.6" y="31.4" class="lb" textLength="20.2" lengthAdjust="spacingAndGlyphs">txcc</text>
<text x="503.1" y="34.0" class="lb" textLength="18.8" lengthAdjust="spacingAndGlyphs">txfe</text>
<text x="525.0" y="50.4" class="lb" textLength="21.2" lengthAdjust="spacingAndGlyphs">txae</text>
<text x="524.6" y="69.4" class="lb" textLength="21.6" lengthAdjust="spacingAndGlyphs">txpv</text>
<text x="524.0" y="93.6" class="lb" textLength="22.4" lengthAdjust="spacingAndGlyphs">txbe</text>
<text x="520.6" y="111.4" class="lb" textLength="21.8" lengthAdjust="spacingAndGlyphs">txgo</text>
<text x="493.2" y="124.4" class="lb" textLength="22.2" lengthAdjust="spacingAndGlyphs">txpo</text>
<text x="433.6" y="138.8" class="lb" textLength="20.1" lengthAdjust="spacingAndGlyphs">txpr</text>
<text transform="translate(334.3,140.3) rotate(-90)" class="ax" textLength="93.6" lengthAdjust="spacingAndGlyphs">GNSS rate (mm/yr)</text>
<text x="404.8" y="197.4" class="ax" textLength="95.6" lengthAdjust="spacingAndGlyphs">InSAR rate (mm/yr)</text>
<text x="344.8" y="203.6" class="pl">b)</text>
<path d="M374.0 233.7V346.1M373.3 345.3H528.3" stroke="#000" stroke-width="1.5" fill="none"/>
<line x1="370.8" y1="345.3" x2="374" y2="345.3" stroke="#000" stroke-width="1.1"/>
<text x="366.1" y="348.1" class="tc" text-anchor="end" textLength="4.6" lengthAdjust="spacingAndGlyphs">0</text>
<line x1="370.8" y1="331.4" x2="374" y2="331.4" stroke="#000" stroke-width="1.1"/>
<text x="366.1" y="334.2" class="tc" text-anchor="end" textLength="18.4" lengthAdjust="spacingAndGlyphs">2000</text>
<line x1="370.8" y1="317.5" x2="374" y2="317.5" stroke="#000" stroke-width="1.1"/>
<text x="366.1" y="320.3" class="tc" text-anchor="end" textLength="18.4" lengthAdjust="spacingAndGlyphs">4000</text>
<line x1="370.8" y1="303.6" x2="374" y2="303.6" stroke="#000" stroke-width="1.1"/>
<text x="366.1" y="306.4" class="tc" text-anchor="end" textLength="18.4" lengthAdjust="spacingAndGlyphs">6000</text>
<line x1="370.8" y1="289.7" x2="374" y2="289.7" stroke="#000" stroke-width="1.1"/>
<text x="366.1" y="292.5" class="tc" text-anchor="end" textLength="18.4" lengthAdjust="spacingAndGlyphs">8000</text>
<line x1="370.8" y1="275.8" x2="374" y2="275.8" stroke="#000" stroke-width="1.1"/>
<text x="366.1" y="278.6" class="tc" text-anchor="end" textLength="23.0" lengthAdjust="spacingAndGlyphs">10000</text>
<line x1="370.8" y1="261.9" x2="374" y2="261.9" stroke="#000" stroke-width="1.1"/>
<text x="366.1" y="264.7" class="tc" text-anchor="end" textLength="23.0" lengthAdjust="spacingAndGlyphs">12000</text>
<line x1="370.8" y1="248.0" x2="374" y2="248.0" stroke="#000" stroke-width="1.1"/>
<text x="366.1" y="250.8" class="tc" text-anchor="end" textLength="23.0" lengthAdjust="spacingAndGlyphs">14000</text>
<line x1="370.8" y1="234.1" x2="374" y2="234.1" stroke="#000" stroke-width="1.1"/>
<text x="366.1" y="236.9" class="tc" text-anchor="end" textLength="23.0" lengthAdjust="spacingAndGlyphs">16000</text>
<line x1="374.0" y1="345.3" x2="374.0" y2="348.4" stroke="#000" stroke-width="1.1"/>
<line x1="379.9" y1="345.3" x2="379.9" y2="348.4" stroke="#000" stroke-width="1.1"/>
<line x1="385.8" y1="345.3" x2="385.8" y2="348.4" stroke="#000" stroke-width="1.1"/>
<line x1="391.7" y1="345.3" x2="391.7" y2="348.4" stroke="#000" stroke-width="1.1"/>
<line x1="397.6" y1="345.3" x2="397.6" y2="348.4" stroke="#000" stroke-width="1.1"/>
<line x1="403.5" y1="345.3" x2="403.5" y2="348.4" stroke="#000" stroke-width="1.1"/>
<line x1="409.4" y1="345.3" x2="409.4" y2="348.4" stroke="#000" stroke-width="1.1"/>
<line x1="415.3" y1="345.3" x2="415.3" y2="348.4" stroke="#000" stroke-width="1.1"/>
<line x1="421.2" y1="345.3" x2="421.2" y2="348.4" stroke="#000" stroke-width="1.1"/>
<line x1="427.1" y1="345.3" x2="427.1" y2="348.4" stroke="#000" stroke-width="1.1"/>
<line x1="433.0" y1="345.3" x2="433.0" y2="348.4" stroke="#000" stroke-width="1.1"/>
<line x1="438.9" y1="345.3" x2="438.9" y2="348.4" stroke="#000" stroke-width="1.1"/>
<line x1="444.8" y1="345.3" x2="444.8" y2="348.4" stroke="#000" stroke-width="1.1"/>
<line x1="450.7" y1="345.3" x2="450.7" y2="348.4" stroke="#000" stroke-width="1.1"/>
<line x1="456.6" y1="345.3" x2="456.6" y2="348.4" stroke="#000" stroke-width="1.1"/>
<line x1="462.5" y1="345.3" x2="462.5" y2="348.4" stroke="#000" stroke-width="1.1"/>
<line x1="468.4" y1="345.3" x2="468.4" y2="348.4" stroke="#000" stroke-width="1.1"/>
<line x1="474.3" y1="345.3" x2="474.3" y2="348.4" stroke="#000" stroke-width="1.1"/>
<line x1="480.2" y1="345.3" x2="480.2" y2="348.4" stroke="#000" stroke-width="1.1"/>
<line x1="486.1" y1="345.3" x2="486.1" y2="348.4" stroke="#000" stroke-width="1.1"/>
<line x1="492.0" y1="345.3" x2="492.0" y2="348.4" stroke="#000" stroke-width="1.1"/>
<line x1="497.9" y1="345.3" x2="497.9" y2="348.4" stroke="#000" stroke-width="1.1"/>
<line x1="503.8" y1="345.3" x2="503.8" y2="348.4" stroke="#000" stroke-width="1.1"/>
<line x1="509.7" y1="345.3" x2="509.7" y2="348.4" stroke="#000" stroke-width="1.1"/>
<line x1="515.6" y1="345.3" x2="515.6" y2="348.4" stroke="#000" stroke-width="1.1"/>
<line x1="521.5" y1="345.3" x2="521.5" y2="348.4" stroke="#000" stroke-width="1.1"/>
<line x1="527.4" y1="345.3" x2="527.4" y2="348.4" stroke="#000" stroke-width="1.1"/>
<rect x="375.7" y="342.2" width="2.4" height="3.1" fill="#1468cc"/>
<rect x="381.6" y="343.8" width="2.4" height="1.5" fill="#1468cc"/>
<rect x="387.5" y="343.0" width="2.4" height="2.3" fill="#1468cc"/>
<rect x="393.4" y="341.3" width="2.4" height="4.0" fill="#1468cc"/>
<rect x="399.3" y="339.2" width="2.4" height="6.1" fill="#1468cc"/>
<rect x="405.2" y="336.3" width="2.4" height="9.0" fill="#1468cc"/>
<rect x="411.1" y="333.5" width="2.4" height="11.8" fill="#1468cc"/>
<rect x="417.0" y="325.8" width="2.4" height="19.5" fill="#1468cc"/>
<rect x="422.9" y="313.3" width="2.4" height="32.0" fill="#1468cc"/>
<rect x="428.8" y="302.2" width="2.4" height="43.1" fill="#1468cc"/>
<rect x="434.7" y="289.7" width="2.4" height="55.6" fill="#1468cc"/>
<rect x="440.6" y="275.8" width="2.4" height="69.5" fill="#1468cc"/>
<rect x="446.5" y="258.4" width="2.4" height="86.9" fill="#1468cc"/>
<rect x="452.4" y="249.4" width="2.4" height="95.9" fill="#1468cc"/>
<rect x="458.3" y="247.3" width="2.4" height="98.0" fill="#1468cc"/>
<rect x="464.2" y="250.8" width="2.4" height="94.5" fill="#1468cc"/>
<rect x="470.1" y="250.1" width="2.4" height="95.2" fill="#1468cc"/>
<rect x="476.0" y="261.9" width="2.4" height="83.4" fill="#1468cc"/>
<rect x="481.9" y="280.0" width="2.4" height="65.3" fill="#1468cc"/>
<rect x="487.8" y="296.0" width="2.4" height="49.3" fill="#1468cc"/>
<rect x="493.7" y="311.2" width="2.4" height="34.1" fill="#1468cc"/>
<rect x="499.6" y="327.2" width="2.4" height="18.1" fill="#1468cc"/>
<rect x="505.5" y="337.7" width="2.4" height="7.6" fill="#1468cc"/>
<rect x="511.4" y="342.5" width="2.4" height="2.8" fill="#1468cc"/>
<rect x="517.3" y="343.9" width="2.4" height="1.4" fill="#1468cc"/>
<rect x="523.2" y="341.1" width="2.4" height="4.2" fill="#1468cc"/>
<text transform="translate(379.8,351.8) rotate(-90)" class="tc" text-anchor="end">-15</text>
<text transform="translate(391.6,351.8) rotate(-90)" class="tc" text-anchor="end">-13</text>
<text transform="translate(403.4,351.8) rotate(-90)" class="tc" text-anchor="end">-11</text>
<text transform="translate(415.2,351.8) rotate(-90)" class="tc" text-anchor="end">-9</text>
<text transform="translate(427.0,351.8) rotate(-90)" class="tc" text-anchor="end">-7</text>
<text transform="translate(438.8,351.8) rotate(-90)" class="tc" text-anchor="end">-5</text>
<text transform="translate(450.6,351.8) rotate(-90)" class="tc" text-anchor="end">-3</text>
<text transform="translate(462.4,351.8) rotate(-90)" class="tc" text-anchor="end">-1</text>
<text transform="translate(474.2,351.8) rotate(-90)" class="tc" text-anchor="end">1</text>
<text transform="translate(486.0,351.8) rotate(-90)" class="tc" text-anchor="end">3</text>
<text transform="translate(497.8,351.8) rotate(-90)" class="tc" text-anchor="end">5</text>
<text transform="translate(509.6,351.8) rotate(-90)" class="tc" text-anchor="end">7</text>
<text transform="translate(521.4,351.8) rotate(-90)" class="tc" text-anchor="end">9</text>
<text transform="translate(336.9,304.3) rotate(-90)" class="ax" textLength="29" lengthAdjust="spacingAndGlyphs">Count</text>
<text x="403.1" y="377.7" class="ax" textLength="96.8" lengthAdjust="spacingAndGlyphs">InSAR rate (mm/yr)</text>
<text x="343.8" y="385.7" class="pl">c)</text>
</svg></body></html>
